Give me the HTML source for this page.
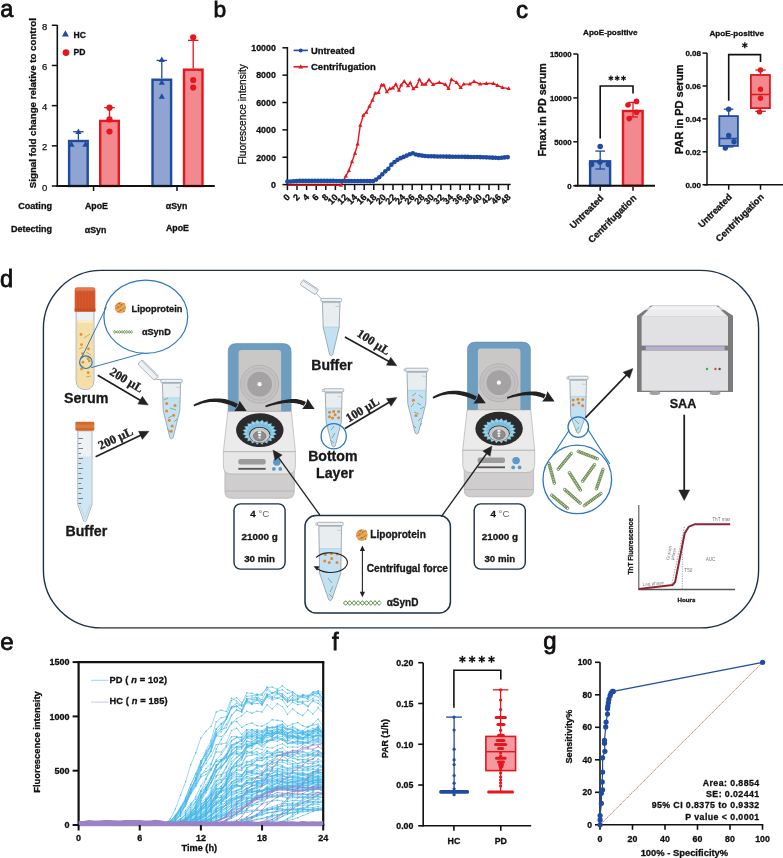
<!DOCTYPE html>
<html><head><meta charset="utf-8"><style>
html,body{margin:0;padding:0;background:#fff;}
svg{display:block;will-change:transform;}
text{font-family:"Liberation Sans",sans-serif;}
text[font-weight="bold"]{stroke:#111;stroke-width:0.3px;}
</style></head><body>
<svg width="783" height="858" viewBox="0 0 783 858">
<rect width="783" height="858" fill="#fff"/>
<text x="0.30" y="17.40" font-size="23.5" text-anchor="start" font-weight="normal" fill="#111" stroke="#111" stroke-width="0.8">a</text>
<text x="213.60" y="17.40" font-size="22.8" text-anchor="start" font-weight="normal" fill="#111" stroke="#111" stroke-width="0.8">b</text>
<text x="516.00" y="17.90" font-size="24" text-anchor="start" font-weight="normal" fill="#111" stroke="#111" stroke-width="0.9">c</text>
<line x1="57.30" y1="25.00" x2="57.30" y2="186.75" stroke="#111" stroke-width="1.6" />
<line x1="56.50" y1="186.00" x2="214.50" y2="186.00" stroke="#111" stroke-width="1.8" />
<line x1="51.80" y1="186.00" x2="57.30" y2="186.00" stroke="#111" stroke-width="1.5" />
<text x="47.30" y="190.50" font-size="9.5" text-anchor="end" font-weight="normal" fill="#111" stroke="#111" stroke-width="0.25">0</text>
<line x1="51.80" y1="145.82" x2="57.30" y2="145.82" stroke="#111" stroke-width="1.5" />
<text x="47.30" y="150.32" font-size="9.5" text-anchor="end" font-weight="normal" fill="#111" stroke="#111" stroke-width="0.25">2</text>
<line x1="51.80" y1="105.64" x2="57.30" y2="105.64" stroke="#111" stroke-width="1.5" />
<text x="47.30" y="110.14" font-size="9.5" text-anchor="end" font-weight="normal" fill="#111" stroke="#111" stroke-width="0.25">4</text>
<line x1="51.80" y1="65.46" x2="57.30" y2="65.46" stroke="#111" stroke-width="1.5" />
<text x="47.30" y="69.96" font-size="9.5" text-anchor="end" font-weight="normal" fill="#111" stroke="#111" stroke-width="0.25">6</text>
<line x1="51.80" y1="25.28" x2="57.30" y2="25.28" stroke="#111" stroke-width="1.5" />
<text x="47.30" y="29.78" font-size="9.5" text-anchor="end" font-weight="normal" fill="#111" stroke="#111" stroke-width="0.25">8</text>
<line x1="93.60" y1="186.00" x2="93.60" y2="191.00" stroke="#111" stroke-width="1.5" />
<line x1="177.00" y1="186.00" x2="177.00" y2="191.00" stroke="#111" stroke-width="1.5" />
<text transform="translate(35.9,103.1) rotate(-90)" font-size="9.7" text-anchor="middle" font-weight="bold" fill="#111">Signal fold change relative to control</text>
<polygon points="65.40,30.22 61.90,36.52 68.90,36.52" fill="#1f4ba0"/>
<text x="73.60" y="38.20" font-size="8.6" text-anchor="start" font-weight="bold" fill="#111" >HC</text>
<circle cx="66.00" cy="52.60" r="3.40" fill="#e5161e" />
<text x="73.60" y="54.90" font-size="8.6" text-anchor="start" font-weight="bold" fill="#111" >PD</text>
<rect x="69.10" y="140.99" width="18.60" height="45.01" fill="#8fa4d2" stroke="#1f4ba0" stroke-width="2.4"/>
<line x1="78.40" y1="139.79" x2="78.40" y2="131.76" stroke="#1f4ba0" stroke-width="1.3" />
<line x1="73.15" y1="131.76" x2="83.65" y2="131.76" stroke="#1f4ba0" stroke-width="1.3" />
<polygon points="78.40,128.45 75.30,134.03 81.50,134.03" fill="#1f4ba0"/>
<polygon points="71.50,141.15 68.40,146.73 74.60,146.73" fill="#1f4ba0"/>
<polygon points="85.50,141.15 82.40,146.73 88.60,146.73" fill="#1f4ba0"/>
<rect x="100.20" y="120.90" width="18.60" height="65.10" fill="#f2898e" stroke="#e5161e" stroke-width="2.4"/>
<line x1="109.50" y1="119.70" x2="109.50" y2="107.65" stroke="#e5161e" stroke-width="1.3" />
<line x1="104.25" y1="107.65" x2="114.75" y2="107.65" stroke="#e5161e" stroke-width="1.3" />
<circle cx="109.50" cy="107.70" r="3.10" fill="#e5161e" />
<circle cx="109.50" cy="119.40" r="3.10" fill="#e5161e" />
<circle cx="109.50" cy="131.50" r="3.10" fill="#e5161e" />
<rect x="152.50" y="79.72" width="18.60" height="106.28" fill="#8fa4d2" stroke="#1f4ba0" stroke-width="2.4"/>
<line x1="161.80" y1="78.52" x2="161.80" y2="60.44" stroke="#1f4ba0" stroke-width="1.3" />
<line x1="156.55" y1="60.44" x2="167.05" y2="60.44" stroke="#1f4ba0" stroke-width="1.3" />
<polygon points="161.80,56.45 158.70,62.03 164.90,62.03" fill="#1f4ba0"/>
<polygon points="161.80,79.15 158.70,84.73 164.90,84.73" fill="#1f4ba0"/>
<polygon points="161.80,93.15 158.70,98.73 164.90,98.73" fill="#1f4ba0"/>
<rect x="184.00" y="69.67" width="18.50" height="116.33" fill="#f2898e" stroke="#e5161e" stroke-width="2.4"/>
<line x1="193.20" y1="68.47" x2="193.20" y2="40.35" stroke="#e5161e" stroke-width="1.3" />
<line x1="187.95" y1="40.35" x2="198.45" y2="40.35" stroke="#e5161e" stroke-width="1.3" />
<circle cx="193.20" cy="37.30" r="3.10" fill="#e5161e" />
<circle cx="193.20" cy="80.00" r="3.10" fill="#e5161e" />
<circle cx="193.20" cy="87.60" r="3.10" fill="#e5161e" />
<line x1="56.50" y1="186.00" x2="214.50" y2="186.00" stroke="#111" stroke-width="2.1" />
<text x="52.00" y="208.70" font-size="9.1" text-anchor="end" font-weight="bold" fill="#111" >Coating</text>
<text x="96.50" y="209.00" font-size="8.8" text-anchor="middle" font-weight="bold" fill="#111" >ApoE</text>
<text x="176.50" y="209.00" font-size="8.8" text-anchor="middle" font-weight="bold" fill="#111" >αSyn</text>
<text x="52.00" y="232.30" font-size="9" text-anchor="end" font-weight="bold" fill="#111" >Detecting</text>
<text x="95.50" y="232.50" font-size="8.8" text-anchor="middle" font-weight="bold" fill="#111" >αSyn</text>
<text x="177.50" y="231.00" font-size="8.8" text-anchor="middle" font-weight="bold" fill="#111" >ApoE</text>
<line x1="287.40" y1="47.00" x2="287.40" y2="185.35" stroke="#111" stroke-width="1.5" />
<line x1="286.65" y1="184.60" x2="510.70" y2="184.60" stroke="#111" stroke-width="1.5" />
<line x1="282.40" y1="184.60" x2="287.40" y2="184.60" stroke="#111" stroke-width="1.5" />
<text x="275.80" y="187.90" font-size="8.8" text-anchor="end" font-weight="bold" fill="#111" >0</text>
<line x1="282.40" y1="157.24" x2="287.40" y2="157.24" stroke="#111" stroke-width="1.5" />
<text x="275.80" y="160.54" font-size="8.8" text-anchor="end" font-weight="bold" fill="#111" >2000</text>
<line x1="282.40" y1="129.88" x2="287.40" y2="129.88" stroke="#111" stroke-width="1.5" />
<text x="275.80" y="133.18" font-size="8.8" text-anchor="end" font-weight="bold" fill="#111" >4000</text>
<line x1="282.40" y1="102.52" x2="287.40" y2="102.52" stroke="#111" stroke-width="1.5" />
<text x="275.80" y="105.82" font-size="8.8" text-anchor="end" font-weight="bold" fill="#111" >6000</text>
<line x1="282.40" y1="75.16" x2="287.40" y2="75.16" stroke="#111" stroke-width="1.5" />
<text x="275.80" y="78.46" font-size="8.8" text-anchor="end" font-weight="bold" fill="#111" >8000</text>
<line x1="282.40" y1="47.80" x2="287.40" y2="47.80" stroke="#111" stroke-width="1.5" />
<text x="275.80" y="51.10" font-size="8.8" text-anchor="end" font-weight="bold" fill="#111" >10000</text>
<line x1="287.40" y1="184.60" x2="287.40" y2="190.10" stroke="#111" stroke-width="1.5" />
<text transform="translate(290.60,197.80) rotate(-45)" font-size="9" text-anchor="end" font-weight="bold" fill="#111">0</text>
<line x1="297.00" y1="184.60" x2="297.00" y2="190.10" stroke="#111" stroke-width="1.5" />
<text transform="translate(300.20,197.80) rotate(-45)" font-size="9" text-anchor="end" font-weight="bold" fill="#111">2</text>
<line x1="306.60" y1="184.60" x2="306.60" y2="190.10" stroke="#111" stroke-width="1.5" />
<text transform="translate(309.80,197.80) rotate(-45)" font-size="9" text-anchor="end" font-weight="bold" fill="#111">4</text>
<line x1="316.20" y1="184.60" x2="316.20" y2="190.10" stroke="#111" stroke-width="1.5" />
<text transform="translate(319.40,197.80) rotate(-45)" font-size="9" text-anchor="end" font-weight="bold" fill="#111">6</text>
<line x1="325.80" y1="184.60" x2="325.80" y2="190.10" stroke="#111" stroke-width="1.5" />
<text transform="translate(329.00,197.80) rotate(-45)" font-size="9" text-anchor="end" font-weight="bold" fill="#111">8</text>
<line x1="335.40" y1="184.60" x2="335.40" y2="190.10" stroke="#111" stroke-width="1.5" />
<text transform="translate(338.60,197.80) rotate(-45)" font-size="9" text-anchor="end" font-weight="bold" fill="#111">10</text>
<line x1="345.00" y1="184.60" x2="345.00" y2="190.10" stroke="#111" stroke-width="1.5" />
<text transform="translate(348.20,197.80) rotate(-45)" font-size="9" text-anchor="end" font-weight="bold" fill="#111">12</text>
<line x1="354.60" y1="184.60" x2="354.60" y2="190.10" stroke="#111" stroke-width="1.5" />
<text transform="translate(357.80,197.80) rotate(-45)" font-size="9" text-anchor="end" font-weight="bold" fill="#111">14</text>
<line x1="364.20" y1="184.60" x2="364.20" y2="190.10" stroke="#111" stroke-width="1.5" />
<text transform="translate(367.40,197.80) rotate(-45)" font-size="9" text-anchor="end" font-weight="bold" fill="#111">16</text>
<line x1="373.80" y1="184.60" x2="373.80" y2="190.10" stroke="#111" stroke-width="1.5" />
<text transform="translate(377.00,197.80) rotate(-45)" font-size="9" text-anchor="end" font-weight="bold" fill="#111">18</text>
<line x1="383.40" y1="184.60" x2="383.40" y2="190.10" stroke="#111" stroke-width="1.5" />
<text transform="translate(386.60,197.80) rotate(-45)" font-size="9" text-anchor="end" font-weight="bold" fill="#111">20</text>
<line x1="393.00" y1="184.60" x2="393.00" y2="190.10" stroke="#111" stroke-width="1.5" />
<text transform="translate(396.20,197.80) rotate(-45)" font-size="9" text-anchor="end" font-weight="bold" fill="#111">22</text>
<line x1="402.60" y1="184.60" x2="402.60" y2="190.10" stroke="#111" stroke-width="1.5" />
<text transform="translate(405.80,197.80) rotate(-45)" font-size="9" text-anchor="end" font-weight="bold" fill="#111">24</text>
<line x1="412.20" y1="184.60" x2="412.20" y2="190.10" stroke="#111" stroke-width="1.5" />
<text transform="translate(415.40,197.80) rotate(-45)" font-size="9" text-anchor="end" font-weight="bold" fill="#111">26</text>
<line x1="421.80" y1="184.60" x2="421.80" y2="190.10" stroke="#111" stroke-width="1.5" />
<text transform="translate(425.00,197.80) rotate(-45)" font-size="9" text-anchor="end" font-weight="bold" fill="#111">28</text>
<line x1="431.40" y1="184.60" x2="431.40" y2="190.10" stroke="#111" stroke-width="1.5" />
<text transform="translate(434.60,197.80) rotate(-45)" font-size="9" text-anchor="end" font-weight="bold" fill="#111">30</text>
<line x1="441.00" y1="184.60" x2="441.00" y2="190.10" stroke="#111" stroke-width="1.5" />
<text transform="translate(444.20,197.80) rotate(-45)" font-size="9" text-anchor="end" font-weight="bold" fill="#111">32</text>
<line x1="450.60" y1="184.60" x2="450.60" y2="190.10" stroke="#111" stroke-width="1.5" />
<text transform="translate(453.80,197.80) rotate(-45)" font-size="9" text-anchor="end" font-weight="bold" fill="#111">34</text>
<line x1="460.20" y1="184.60" x2="460.20" y2="190.10" stroke="#111" stroke-width="1.5" />
<text transform="translate(463.40,197.80) rotate(-45)" font-size="9" text-anchor="end" font-weight="bold" fill="#111">36</text>
<line x1="469.80" y1="184.60" x2="469.80" y2="190.10" stroke="#111" stroke-width="1.5" />
<text transform="translate(473.00,197.80) rotate(-45)" font-size="9" text-anchor="end" font-weight="bold" fill="#111">38</text>
<line x1="479.40" y1="184.60" x2="479.40" y2="190.10" stroke="#111" stroke-width="1.5" />
<text transform="translate(482.60,197.80) rotate(-45)" font-size="9" text-anchor="end" font-weight="bold" fill="#111">40</text>
<line x1="489.00" y1="184.60" x2="489.00" y2="190.10" stroke="#111" stroke-width="1.5" />
<text transform="translate(492.20,197.80) rotate(-45)" font-size="9" text-anchor="end" font-weight="bold" fill="#111">42</text>
<line x1="498.60" y1="184.60" x2="498.60" y2="190.10" stroke="#111" stroke-width="1.5" />
<text transform="translate(501.80,197.80) rotate(-45)" font-size="9" text-anchor="end" font-weight="bold" fill="#111">46</text>
<line x1="508.20" y1="184.60" x2="508.20" y2="190.10" stroke="#111" stroke-width="1.5" />
<text transform="translate(511.40,197.80) rotate(-45)" font-size="9" text-anchor="end" font-weight="bold" fill="#111">48</text>
<text transform="translate(246,114.4) rotate(-90)" font-size="10.1" text-anchor="middle" font-weight="normal" fill="#111" stroke="#111" stroke-width="0.25">Fluorescence intensity</text>
<line x1="293.60" y1="50.40" x2="307.90" y2="50.40" stroke="#1f4ba0" stroke-width="1.6" />
<circle cx="300.70" cy="50.40" r="2.00" fill="#1f4ba0" />
<text x="311.00" y="53.70" font-size="9.4" text-anchor="start" font-weight="bold" fill="#111" >Untreated</text>
<line x1="293.60" y1="66.80" x2="307.90" y2="66.80" stroke="#e5161e" stroke-width="1.6" />
<polygon points="300.70,64.37 298.45,68.42 302.95,68.42" fill="#e5161e"/>
<text x="311.00" y="70.10" font-size="9.5" text-anchor="start" font-weight="bold" fill="#111" >Centrifugation</text>
<polyline points="287.4,185.2 341.0,185.2 345.9,175.9 348.9,170.6 352.0,161.8 355.0,153.2 357.6,144.0 360.3,125.2 363.3,115.3 366.4,112.3 369.4,106.2 372.4,100.2 375.2,93.3 378.5,92.6 381.5,85.0 383.8,85.0 386.8,91.8 389.8,88.8 392.9,88.0 395.9,84.2 398.9,90.3 401.2,85.0 404.2,81.2 408.0,85.8 410.3,82.7 413.3,88.8 416.4,86.5 419.4,79.4 422.4,84.2 425.5,84.2 429.0,79.8 433.1,84.5 439.3,82.5 445.4,84.5 448.5,88.6 451.5,79.4 456.6,82.5 460.7,87.6 463.8,84.1 469.9,84.1 474.0,81.5 480.1,84.1 486.3,83.5 493.4,83.5 497.5,85.5 502.6,87.6 508.7,88.6" fill="none" stroke="#e5161e" stroke-width="1.4" stroke-linejoin="round"/>
<polygon points="341.00,182.93 338.90,186.71 343.10,186.71" fill="#e5161e"/>
<polygon points="345.90,173.63 343.80,177.41 348.00,177.41" fill="#e5161e"/>
<polygon points="348.90,168.33 346.80,172.11 351.00,172.11" fill="#e5161e"/>
<polygon points="352.00,159.53 349.90,163.31 354.10,163.31" fill="#e5161e"/>
<polygon points="355.00,150.93 352.90,154.71 357.10,154.71" fill="#e5161e"/>
<polygon points="357.60,141.73 355.50,145.51 359.70,145.51" fill="#e5161e"/>
<polygon points="360.30,122.93 358.20,126.71 362.40,126.71" fill="#e5161e"/>
<polygon points="363.30,113.03 361.20,116.81 365.40,116.81" fill="#e5161e"/>
<polygon points="366.40,110.03 364.30,113.81 368.50,113.81" fill="#e5161e"/>
<polygon points="369.40,103.93 367.30,107.71 371.50,107.71" fill="#e5161e"/>
<polygon points="372.40,97.93 370.30,101.71 374.50,101.71" fill="#e5161e"/>
<polygon points="375.20,91.03 373.10,94.81 377.30,94.81" fill="#e5161e"/>
<polygon points="378.50,90.33 376.40,94.11 380.60,94.11" fill="#e5161e"/>
<polygon points="381.50,82.73 379.40,86.51 383.60,86.51" fill="#e5161e"/>
<polygon points="383.80,82.73 381.70,86.51 385.90,86.51" fill="#e5161e"/>
<polygon points="386.80,89.53 384.70,93.31 388.90,93.31" fill="#e5161e"/>
<polygon points="389.80,86.53 387.70,90.31 391.90,90.31" fill="#e5161e"/>
<polygon points="392.90,85.73 390.80,89.51 395.00,89.51" fill="#e5161e"/>
<polygon points="395.90,81.93 393.80,85.71 398.00,85.71" fill="#e5161e"/>
<polygon points="398.90,88.03 396.80,91.81 401.00,91.81" fill="#e5161e"/>
<polygon points="401.20,82.73 399.10,86.51 403.30,86.51" fill="#e5161e"/>
<polygon points="404.20,78.93 402.10,82.71 406.30,82.71" fill="#e5161e"/>
<polygon points="408.00,83.53 405.90,87.31 410.10,87.31" fill="#e5161e"/>
<polygon points="410.30,80.43 408.20,84.21 412.40,84.21" fill="#e5161e"/>
<polygon points="413.30,86.53 411.20,90.31 415.40,90.31" fill="#e5161e"/>
<polygon points="416.40,84.23 414.30,88.01 418.50,88.01" fill="#e5161e"/>
<polygon points="419.40,77.13 417.30,80.91 421.50,80.91" fill="#e5161e"/>
<polygon points="422.40,81.93 420.30,85.71 424.50,85.71" fill="#e5161e"/>
<polygon points="425.50,81.93 423.40,85.71 427.60,85.71" fill="#e5161e"/>
<polygon points="429.00,77.53 426.90,81.31 431.10,81.31" fill="#e5161e"/>
<polygon points="433.10,82.23 431.00,86.01 435.20,86.01" fill="#e5161e"/>
<polygon points="439.30,80.23 437.20,84.01 441.40,84.01" fill="#e5161e"/>
<polygon points="445.40,82.23 443.30,86.01 447.50,86.01" fill="#e5161e"/>
<polygon points="448.50,86.33 446.40,90.11 450.60,90.11" fill="#e5161e"/>
<polygon points="451.50,77.13 449.40,80.91 453.60,80.91" fill="#e5161e"/>
<polygon points="456.60,80.23 454.50,84.01 458.70,84.01" fill="#e5161e"/>
<polygon points="460.70,85.33 458.60,89.11 462.80,89.11" fill="#e5161e"/>
<polygon points="463.80,81.83 461.70,85.61 465.90,85.61" fill="#e5161e"/>
<polygon points="469.90,81.83 467.80,85.61 472.00,85.61" fill="#e5161e"/>
<polygon points="474.00,79.23 471.90,83.01 476.10,83.01" fill="#e5161e"/>
<polygon points="480.10,81.83 478.00,85.61 482.20,85.61" fill="#e5161e"/>
<polygon points="486.30,81.23 484.20,85.01 488.40,85.01" fill="#e5161e"/>
<polygon points="493.40,81.23 491.30,85.01 495.50,85.01" fill="#e5161e"/>
<polygon points="497.50,83.23 495.40,87.01 499.60,87.01" fill="#e5161e"/>
<polygon points="502.60,85.33 500.50,89.11 504.70,89.11" fill="#e5161e"/>
<polygon points="508.70,86.33 506.60,90.11 510.80,90.11" fill="#e5161e"/>
<polyline points="287.4,181.6 290.5,181.4 293.5,181.3 296.6,181.1 299.6,180.9 302.7,180.9 305.8,180.9 308.8,180.9 311.9,180.9 314.9,180.9 318.0,180.9 321.1,180.9 324.1,180.9 327.2,180.9 330.2,180.9 333.3,180.9 336.4,180.9 339.4,180.9 342.5,181.0 345.5,181.0 348.6,181.0 351.7,181.0 354.7,181.0 357.8,181.0 360.8,181.0 363.9,181.1 367.0,181.1 370.0,181.1 373.1,181.1 376.1,179.6 379.2,177.2 382.3,174.4 385.3,171.3 388.4,168.8 391.4,164.6 394.5,161.9 397.6,159.8 400.6,158.1 403.7,156.9 406.7,155.6 409.8,154.3 412.9,153.3 415.9,154.5 419.0,155.1 422.0,155.6 425.1,156.0 428.2,156.2 431.2,156.3 434.3,156.4 437.3,156.4 440.4,156.5 443.5,156.6 446.5,156.6 449.6,156.6 452.6,156.7 455.7,156.7 458.8,156.8 461.8,156.8 464.9,156.9 467.9,156.9 471.0,156.9 474.1,157.0 477.1,157.1 480.2,157.2 483.2,157.3 486.3,157.4 489.4,157.5 492.4,157.6 495.5,157.8 498.5,158.0 501.6,157.7 504.7,157.4 507.7,157.1" fill="none" stroke="#1f4ba0" stroke-width="1.6"/>
<circle cx="287.40" cy="181.60" r="2.30" fill="#1f4ba0" />
<circle cx="290.46" cy="181.43" r="2.30" fill="#1f4ba0" />
<circle cx="293.52" cy="181.26" r="2.30" fill="#1f4ba0" />
<circle cx="296.58" cy="181.09" r="2.30" fill="#1f4ba0" />
<circle cx="299.64" cy="180.92" r="2.30" fill="#1f4ba0" />
<circle cx="302.70" cy="180.90" r="2.30" fill="#1f4ba0" />
<circle cx="305.76" cy="180.90" r="2.30" fill="#1f4ba0" />
<circle cx="308.82" cy="180.90" r="2.30" fill="#1f4ba0" />
<circle cx="311.88" cy="180.90" r="2.30" fill="#1f4ba0" />
<circle cx="314.94" cy="180.90" r="2.30" fill="#1f4ba0" />
<circle cx="318.00" cy="180.90" r="2.30" fill="#1f4ba0" />
<circle cx="321.06" cy="180.90" r="2.30" fill="#1f4ba0" />
<circle cx="324.12" cy="180.90" r="2.30" fill="#1f4ba0" />
<circle cx="327.18" cy="180.90" r="2.30" fill="#1f4ba0" />
<circle cx="330.24" cy="180.90" r="2.30" fill="#1f4ba0" />
<circle cx="333.30" cy="180.92" r="2.30" fill="#1f4ba0" />
<circle cx="336.36" cy="180.93" r="2.30" fill="#1f4ba0" />
<circle cx="339.42" cy="180.94" r="2.30" fill="#1f4ba0" />
<circle cx="342.48" cy="180.96" r="2.30" fill="#1f4ba0" />
<circle cx="345.54" cy="180.97" r="2.30" fill="#1f4ba0" />
<circle cx="348.60" cy="180.98" r="2.30" fill="#1f4ba0" />
<circle cx="351.66" cy="181.00" r="2.30" fill="#1f4ba0" />
<circle cx="354.72" cy="181.01" r="2.30" fill="#1f4ba0" />
<circle cx="357.78" cy="181.03" r="2.30" fill="#1f4ba0" />
<circle cx="360.84" cy="181.04" r="2.30" fill="#1f4ba0" />
<circle cx="363.90" cy="181.05" r="2.30" fill="#1f4ba0" />
<circle cx="366.96" cy="181.07" r="2.30" fill="#1f4ba0" />
<circle cx="370.02" cy="181.08" r="2.30" fill="#1f4ba0" />
<circle cx="373.08" cy="181.10" r="2.30" fill="#1f4ba0" />
<circle cx="376.14" cy="179.58" r="2.30" fill="#1f4ba0" />
<circle cx="379.20" cy="177.21" r="2.30" fill="#1f4ba0" />
<circle cx="382.26" cy="174.36" r="2.30" fill="#1f4ba0" />
<circle cx="385.32" cy="171.33" r="2.30" fill="#1f4ba0" />
<circle cx="388.38" cy="168.81" r="2.30" fill="#1f4ba0" />
<circle cx="391.44" cy="164.64" r="2.30" fill="#1f4ba0" />
<circle cx="394.50" cy="161.93" r="2.30" fill="#1f4ba0" />
<circle cx="397.56" cy="159.83" r="2.30" fill="#1f4ba0" />
<circle cx="400.62" cy="158.13" r="2.30" fill="#1f4ba0" />
<circle cx="403.68" cy="156.91" r="2.30" fill="#1f4ba0" />
<circle cx="406.74" cy="155.60" r="2.30" fill="#1f4ba0" />
<circle cx="409.80" cy="154.31" r="2.30" fill="#1f4ba0" />
<circle cx="412.86" cy="153.30" r="2.30" fill="#1f4ba0" />
<circle cx="415.92" cy="154.51" r="2.30" fill="#1f4ba0" />
<circle cx="418.98" cy="155.15" r="2.30" fill="#1f4ba0" />
<circle cx="422.04" cy="155.62" r="2.30" fill="#1f4ba0" />
<circle cx="425.10" cy="155.98" r="2.30" fill="#1f4ba0" />
<circle cx="428.16" cy="156.23" r="2.30" fill="#1f4ba0" />
<circle cx="431.22" cy="156.30" r="2.30" fill="#1f4ba0" />
<circle cx="434.28" cy="156.37" r="2.30" fill="#1f4ba0" />
<circle cx="437.34" cy="156.44" r="2.30" fill="#1f4ba0" />
<circle cx="440.40" cy="156.51" r="2.30" fill="#1f4ba0" />
<circle cx="443.46" cy="156.55" r="2.30" fill="#1f4ba0" />
<circle cx="446.52" cy="156.60" r="2.30" fill="#1f4ba0" />
<circle cx="449.58" cy="156.64" r="2.30" fill="#1f4ba0" />
<circle cx="452.64" cy="156.69" r="2.30" fill="#1f4ba0" />
<circle cx="455.70" cy="156.74" r="2.30" fill="#1f4ba0" />
<circle cx="458.76" cy="156.78" r="2.30" fill="#1f4ba0" />
<circle cx="461.82" cy="156.82" r="2.30" fill="#1f4ba0" />
<circle cx="464.88" cy="156.87" r="2.30" fill="#1f4ba0" />
<circle cx="467.94" cy="156.91" r="2.30" fill="#1f4ba0" />
<circle cx="471.00" cy="156.95" r="2.30" fill="#1f4ba0" />
<circle cx="474.06" cy="156.99" r="2.30" fill="#1f4ba0" />
<circle cx="477.12" cy="157.07" r="2.30" fill="#1f4ba0" />
<circle cx="480.18" cy="157.17" r="2.30" fill="#1f4ba0" />
<circle cx="483.24" cy="157.27" r="2.30" fill="#1f4ba0" />
<circle cx="486.30" cy="157.37" r="2.30" fill="#1f4ba0" />
<circle cx="489.36" cy="157.47" r="2.30" fill="#1f4ba0" />
<circle cx="492.42" cy="157.63" r="2.30" fill="#1f4ba0" />
<circle cx="495.48" cy="157.82" r="2.30" fill="#1f4ba0" />
<circle cx="498.54" cy="158.00" r="2.30" fill="#1f4ba0" />
<circle cx="501.60" cy="157.70" r="2.30" fill="#1f4ba0" />
<circle cx="504.66" cy="157.40" r="2.30" fill="#1f4ba0" />
<circle cx="507.72" cy="157.10" r="2.30" fill="#1f4ba0" />
<line x1="577.80" y1="54.00" x2="577.80" y2="186.45" stroke="#111" stroke-width="1.5" />
<line x1="574.80" y1="185.70" x2="655.00" y2="185.70" stroke="#111" stroke-width="1.5" />
<line x1="573.30" y1="185.70" x2="577.80" y2="185.70" stroke="#111" stroke-width="1.5" />
<text x="571.60" y="188.70" font-size="7.8" text-anchor="end" font-weight="bold" fill="#111" >0</text>
<line x1="573.30" y1="141.80" x2="577.80" y2="141.80" stroke="#111" stroke-width="1.5" />
<text x="571.60" y="144.80" font-size="7.8" text-anchor="end" font-weight="bold" fill="#111" >5000</text>
<line x1="573.30" y1="97.90" x2="577.80" y2="97.90" stroke="#111" stroke-width="1.5" />
<text x="571.60" y="100.90" font-size="7.8" text-anchor="end" font-weight="bold" fill="#111" >10000</text>
<line x1="573.30" y1="54.00" x2="577.80" y2="54.00" stroke="#111" stroke-width="1.5" />
<text x="571.60" y="57.00" font-size="7.8" text-anchor="end" font-weight="bold" fill="#111" >15000</text>
<line x1="600.20" y1="185.70" x2="600.20" y2="190.70" stroke="#111" stroke-width="1.5" />
<line x1="633.00" y1="185.70" x2="633.00" y2="190.70" stroke="#111" stroke-width="1.5" />
<text x="610.30" y="35.20" font-size="8.1" text-anchor="middle" font-weight="bold" fill="#111" >ApoE-positive</text>
<rect x="590.1" y="161.3" width="20" height="24.4" fill="#8fa4d2" stroke="#1f4ba0" stroke-width="2.4"/>
<rect x="623" y="111" width="19.6" height="74.7" fill="#f2898e" stroke="#e5161e" stroke-width="2.4"/>
<line x1="600.20" y1="151.10" x2="600.20" y2="169.00" stroke="#1f4ba0" stroke-width="1.3" />
<line x1="595.30" y1="151.10" x2="605.10" y2="151.10" stroke="#1f4ba0" stroke-width="1.3" />
<line x1="595.30" y1="169.00" x2="605.10" y2="169.00" stroke="#1f4ba0" stroke-width="1.3" />
<circle cx="600.20" cy="146.50" r="2.80" fill="#1f4ba0" />
<circle cx="591.60" cy="164.50" r="2.80" fill="#1f4ba0" />
<circle cx="608.30" cy="164.50" r="2.80" fill="#1f4ba0" />
<circle cx="600.00" cy="162.00" r="2.80" fill="#1f4ba0" />
<line x1="633.00" y1="102.40" x2="633.00" y2="117.00" stroke="#e5161e" stroke-width="1.3" />
<line x1="628.00" y1="102.40" x2="638.00" y2="102.40" stroke="#e5161e" stroke-width="1.3" />
<line x1="628.00" y1="117.00" x2="638.00" y2="117.00" stroke="#e5161e" stroke-width="1.3" />
<circle cx="636.50" cy="101.40" r="2.80" fill="#e5161e" />
<circle cx="628.00" cy="105.00" r="2.80" fill="#e5161e" />
<circle cx="629.20" cy="118.60" r="2.80" fill="#e5161e" />
<circle cx="636.50" cy="112.30" r="2.80" fill="#e5161e" />
<line x1="574.80" y1="185.70" x2="655.00" y2="185.70" stroke="#111" stroke-width="1.8" />
<polyline points="600.2,138.5 600.2,86 633,86 633,93.4" fill="none" stroke="#111" stroke-width="1.6"/>
<line x1="610.90" y1="75.60" x2="610.90" y2="80.80" stroke="#111" stroke-width="1.2"/>
<line x1="608.65" y1="76.90" x2="613.15" y2="79.50" stroke="#111" stroke-width="1.2"/>
<line x1="613.15" y1="76.90" x2="608.65" y2="79.50" stroke="#111" stroke-width="1.2"/>
<line x1="617.20" y1="75.60" x2="617.20" y2="80.80" stroke="#111" stroke-width="1.2"/>
<line x1="614.95" y1="76.90" x2="619.45" y2="79.50" stroke="#111" stroke-width="1.2"/>
<line x1="619.45" y1="76.90" x2="614.95" y2="79.50" stroke="#111" stroke-width="1.2"/>
<line x1="623.50" y1="75.60" x2="623.50" y2="80.80" stroke="#111" stroke-width="1.2"/>
<line x1="621.25" y1="76.90" x2="625.75" y2="79.50" stroke="#111" stroke-width="1.2"/>
<line x1="625.75" y1="76.90" x2="621.25" y2="79.50" stroke="#111" stroke-width="1.2"/>
<text transform="translate(545.5,109.9) rotate(-90)" font-size="10.7" text-anchor="middle" font-weight="bold" fill="#111">Fmax in PD serum</text>
<text transform="translate(604.10,198.60) rotate(-45)" font-size="9.3" text-anchor="end" font-weight="bold" fill="#111">Untreated</text>
<text transform="translate(636.90,198.60) rotate(-45)" font-size="9.3" text-anchor="end" font-weight="bold" fill="#111">Centrifugation</text>
<line x1="707.00" y1="53.00" x2="707.00" y2="185.45" stroke="#111" stroke-width="1.5" />
<line x1="704.00" y1="184.70" x2="783.00" y2="184.70" stroke="#111" stroke-width="1.5" />
<line x1="702.50" y1="184.70" x2="707.00" y2="184.70" stroke="#111" stroke-width="1.5" />
<text x="701.00" y="187.70" font-size="8" text-anchor="end" font-weight="bold" fill="#111" >0.00</text>
<line x1="702.50" y1="151.80" x2="707.00" y2="151.80" stroke="#111" stroke-width="1.5" />
<text x="701.00" y="154.80" font-size="8" text-anchor="end" font-weight="bold" fill="#111" >0.02</text>
<line x1="702.50" y1="118.90" x2="707.00" y2="118.90" stroke="#111" stroke-width="1.5" />
<text x="701.00" y="121.90" font-size="8" text-anchor="end" font-weight="bold" fill="#111" >0.04</text>
<line x1="702.50" y1="86.00" x2="707.00" y2="86.00" stroke="#111" stroke-width="1.5" />
<text x="701.00" y="89.00" font-size="8" text-anchor="end" font-weight="bold" fill="#111" >0.06</text>
<line x1="702.50" y1="53.10" x2="707.00" y2="53.10" stroke="#111" stroke-width="1.5" />
<text x="701.00" y="56.10" font-size="8" text-anchor="end" font-weight="bold" fill="#111" >0.08</text>
<line x1="728.70" y1="184.70" x2="728.70" y2="189.70" stroke="#111" stroke-width="1.5" />
<line x1="760.50" y1="184.70" x2="760.50" y2="189.70" stroke="#111" stroke-width="1.5" />
<text x="736.70" y="35.50" font-size="8.1" text-anchor="middle" font-weight="bold" fill="#111" >ApoE-positive</text>
<line x1="728.70" y1="109.20" x2="728.70" y2="147.00" stroke="#1f4ba0" stroke-width="1.3" />
<line x1="723.80" y1="109.20" x2="733.40" y2="109.20" stroke="#1f4ba0" stroke-width="1.3" />
<line x1="723.80" y1="147.00" x2="733.40" y2="147.00" stroke="#1f4ba0" stroke-width="1.3" />
<rect x="719.3" y="116.1" width="18.6" height="29.8" fill="#8fa4d2" stroke="#1f4ba0" stroke-width="1.8"/>
<line x1="719.30" y1="138.50" x2="737.90" y2="138.50" stroke="#1f4ba0" stroke-width="1.5" />
<circle cx="728.70" cy="109.20" r="2.70" fill="#1f4ba0" />
<circle cx="728.70" cy="135.40" r="2.70" fill="#1f4ba0" />
<circle cx="734.00" cy="141.70" r="2.70" fill="#1f4ba0" />
<circle cx="725.30" cy="148.00" r="2.70" fill="#1f4ba0" />
<line x1="760.50" y1="70.00" x2="760.50" y2="111.30" stroke="#e5161e" stroke-width="1.3" />
<line x1="755.30" y1="70.00" x2="765.80" y2="70.00" stroke="#e5161e" stroke-width="1.3" />
<line x1="755.30" y1="111.30" x2="765.80" y2="111.30" stroke="#e5161e" stroke-width="1.3" />
<rect x="750.9" y="75" width="19" height="33.1" fill="#f2898e" stroke="#e5161e" stroke-width="1.8"/>
<line x1="750.90" y1="94.50" x2="769.90" y2="94.50" stroke="#e5161e" stroke-width="1.5" />
<circle cx="760.50" cy="70.00" r="2.70" fill="#e5161e" />
<circle cx="760.50" cy="89.20" r="2.70" fill="#e5161e" />
<circle cx="760.50" cy="98.30" r="2.70" fill="#e5161e" />
<circle cx="759.50" cy="111.90" r="2.70" fill="#e5161e" />
<polyline points="728.7,100.8 728.7,54.6 760.5,54.6 760.5,62" fill="none" stroke="#111" stroke-width="1.6"/>
<line x1="744.80" y1="42.20" x2="744.80" y2="48.20" stroke="#111" stroke-width="1.3"/>
<line x1="742.20" y1="43.70" x2="747.40" y2="46.70" stroke="#111" stroke-width="1.3"/>
<line x1="747.40" y1="43.70" x2="742.20" y2="46.70" stroke="#111" stroke-width="1.3"/>
<text transform="translate(683,109.2) rotate(-90)" font-size="11" text-anchor="middle" font-weight="bold" fill="#111">PAR in PD serum</text>
<text transform="translate(732.60,197.60) rotate(-45)" font-size="9.3" text-anchor="end" font-weight="bold" fill="#111">Untreated</text>
<text transform="translate(764.40,197.60) rotate(-45)" font-size="9.3" text-anchor="end" font-weight="bold" fill="#111">Centrifugation</text>
<text x="0.00" y="287.20" font-size="23.5" text-anchor="start" font-weight="normal" fill="#111" stroke="#111" stroke-width="0.8">d</text>
<rect x="43.4" y="270.4" width="715.2" height="357.5" rx="58" ry="58" fill="none" stroke="#1d3147" stroke-width="1.4"/>
<path d="M76.1,311 L94,311 L94,380 Q94,389.5 85.05,389.5 Q76.1,389.5 76.1,380 Z" fill="#eef0f2" stroke="#9aa0a6" stroke-width="0.8"/>
<path d="M76.9,320.2 L93.2,320.2 L93.2,380 Q93.2,388.7 85.05,388.7 Q76.9,388.7 76.9,380 Z" fill="#f6dfa6"/>
<rect x="77.5" y="320.2" width="15" height="2.5" fill="#fbeccc"/>
<circle cx="81.00" cy="334.50" r="1.40" fill="#e0913d" />
<circle cx="81.50" cy="344.60" r="1.40" fill="#e0913d" />
<circle cx="88.50" cy="348.90" r="1.40" fill="#e0913d" />
<circle cx="82.50" cy="353.60" r="1.40" fill="#e0913d" />
<circle cx="88.00" cy="358.70" r="1.40" fill="#e0913d" />
<circle cx="83.00" cy="362.20" r="1.40" fill="#e0913d" />
<circle cx="89.30" cy="360.90" r="1.40" fill="#e0913d" />
<circle cx="81.50" cy="369.00" r="1.40" fill="#e0913d" />
<circle cx="88.20" cy="372.70" r="1.40" fill="#e0913d" />
<line x1="84.00" y1="338.00" x2="90.00" y2="334.00" stroke="#7c9c4a" stroke-width="0.6" />
<line x1="79.00" y1="349.00" x2="83.00" y2="347.00" stroke="#7c9c4a" stroke-width="0.6" />
<line x1="86.00" y1="352.00" x2="91.00" y2="355.00" stroke="#7c9c4a" stroke-width="0.6" />
<line x1="80.00" y1="365.00" x2="84.00" y2="367.00" stroke="#7c9c4a" stroke-width="0.6" />
<line x1="86.00" y1="377.00" x2="91.00" y2="376.00" stroke="#7c9c4a" stroke-width="0.6" />
<line x1="80.00" y1="358.00" x2="83.00" y2="355.00" stroke="#7c9c4a" stroke-width="0.6" />
<path d="M74.7,311.5 L74.7,291 Q74.7,287.5 78,287.5 L92.1,287.5 Q95.4,287.5 95.4,291 L95.4,311.5 Z" fill="#d6582b"/>
<rect x="74.7" y="287.5" width="20.7" height="3.2" rx="1.6" fill="#e2784c"/>
<line x1="78.00" y1="292.00" x2="78.00" y2="309.00" stroke="#b94a22" stroke-width="0.5" />
<line x1="81.00" y1="292.00" x2="81.00" y2="309.00" stroke="#b94a22" stroke-width="0.5" />
<line x1="84.00" y1="292.00" x2="84.00" y2="309.00" stroke="#b94a22" stroke-width="0.5" />
<line x1="87.00" y1="292.00" x2="87.00" y2="309.00" stroke="#b94a22" stroke-width="0.5" />
<line x1="90.00" y1="292.00" x2="90.00" y2="309.00" stroke="#b94a22" stroke-width="0.5" />
<line x1="93.00" y1="292.00" x2="93.00" y2="309.00" stroke="#b94a22" stroke-width="0.5" />
<rect x="74.7" y="308.5" width="20.7" height="3" fill="#c54f25"/>
<ellipse cx="145.8" cy="316.7" rx="41.9" ry="36.6" fill="#fff" stroke="#2d76c2" stroke-width="1.2"/>
<line x1="81.1" y1="358.7" x2="106.3" y2="307" stroke="#2d76c2" stroke-width="1"/>
<line x1="91.3" y1="367.6" x2="143.1" y2="353.2" stroke="#2d76c2" stroke-width="1"/>
<circle cx="85.90" cy="362.20" r="6.30" fill="none" stroke="#2d76c2" stroke-width="1.2"/>
<circle cx="120.40" cy="307.70" r="5.60" fill="#eea555" />
<path d="M115.36,308.54 Q119.28,308.26 122.08,304.90 T124.60,304.62 M117.60,311.90 Q121.52,310.50 125.44,307.14 M115.64,306.02 Q117.60,303.22 120.40,302.66" stroke="#d46f2a" stroke-width="0.90" fill="none"/>
<circle cx="119.28" cy="303.78" r="0.67" fill="#3e8f66" />
<circle cx="121.24" cy="304.62" r="0.67" fill="#3e8f66" />
<circle cx="118.16" cy="306.58" r="0.67" fill="#3e8f66" />
<circle cx="120.40" cy="310.22" r="0.67" fill="#3e8f66" />
<circle cx="124.04" cy="311.62" r="0.67" fill="#3e8f66" />
<text x="131.50" y="312.20" font-size="9.25" text-anchor="start" font-weight="bold" fill="#1a1a1a" >Lipoprotein</text>
<polyline points="113.60,331.90 114.10,332.69 114.60,333.16 115.10,333.10 115.60,332.55 116.10,331.73 116.60,330.98 117.10,330.61 117.60,330.77 118.10,331.40 118.60,332.24 119.10,332.93 119.60,333.20 120.10,332.93 120.60,332.24 121.10,331.40 121.60,330.77 122.10,330.61 122.60,330.98 123.10,331.73 123.60,332.55 124.10,333.10 124.60,333.16 125.10,332.69 125.60,331.90 126.10,331.11 126.60,330.64 127.10,330.70 127.60,331.25 128.10,332.07 128.60,332.82 129.10,333.19 129.60,333.03 130.10,332.40 130.60,331.56 131.10,330.87 131.60,330.60 132.10,330.87 132.60,331.56" fill="none" stroke="#4e7f2e" stroke-width="0.75"/>
<polyline points="113.60,331.90 114.10,331.11 114.60,330.64 115.10,330.70 115.60,331.25 116.10,332.07 116.60,332.82 117.10,333.19 117.60,333.03 118.10,332.40 118.60,331.56 119.10,330.87 119.60,330.60 120.10,330.87 120.60,331.56 121.10,332.40 121.60,333.03 122.10,333.19 122.60,332.82 123.10,332.07 123.60,331.25 124.10,330.70 124.60,330.64 125.10,331.11 125.60,331.90 126.10,332.69 126.60,333.16 127.10,333.10 127.60,332.55 128.10,331.73 128.60,330.98 129.10,330.61 129.60,330.77 130.10,331.40 130.60,332.24 131.10,332.93 131.60,333.20 132.10,332.93 132.60,332.24" fill="none" stroke="#4e7f2e" stroke-width="0.75"/>
<text x="141.90" y="335.40" font-size="9.1" text-anchor="start" font-weight="bold" fill="#1a1a1a" >αSynD</text>
<text x="86.30" y="403.30" font-size="14.3" text-anchor="middle" font-weight="bold" fill="#1a1a1a" >Serum</text>
<path d="M77.8,430.8 L92,430.8 L92,504.4 L86.2,521 Q84.9,523.5 83.6,521 L77.8,504.4 Z" fill="#eef2f4" stroke="#9aa5ad" stroke-width="0.8"/>
<path d="M78.6,456.4 L91.2,456.4 L91.2,504.2 L85.9,519.5 Q84.9,521.5 83.9,519.5 L78.6,504.2 Z" fill="#cfe6f4"/>
<path d="M79.8,505 L84.9,518 L90,505" fill="none" stroke="#a9c6d8" stroke-width="0.5"/>
<line x1="78.30" y1="438.50" x2="83.00" y2="438.50" stroke="#3d4652" stroke-width="0.65" />
<line x1="78.30" y1="443.50" x2="81.20" y2="443.50" stroke="#3d4652" stroke-width="0.65" />
<line x1="78.30" y1="448.50" x2="83.00" y2="448.50" stroke="#3d4652" stroke-width="0.65" />
<line x1="78.30" y1="453.50" x2="81.20" y2="453.50" stroke="#3d4652" stroke-width="0.65" />
<line x1="78.30" y1="458.50" x2="83.00" y2="458.50" stroke="#3d4652" stroke-width="0.65" />
<line x1="78.30" y1="463.50" x2="81.20" y2="463.50" stroke="#3d4652" stroke-width="0.65" />
<line x1="78.30" y1="468.50" x2="83.00" y2="468.50" stroke="#3d4652" stroke-width="0.65" />
<line x1="78.30" y1="473.50" x2="81.20" y2="473.50" stroke="#3d4652" stroke-width="0.65" />
<line x1="78.30" y1="478.50" x2="83.00" y2="478.50" stroke="#3d4652" stroke-width="0.65" />
<line x1="78.30" y1="483.50" x2="81.20" y2="483.50" stroke="#3d4652" stroke-width="0.65" />
<line x1="78.30" y1="488.50" x2="83.00" y2="488.50" stroke="#3d4652" stroke-width="0.65" />
<line x1="78.30" y1="493.50" x2="81.20" y2="493.50" stroke="#3d4652" stroke-width="0.65" />
<line x1="78.30" y1="498.50" x2="83.00" y2="498.50" stroke="#3d4652" stroke-width="0.65" />
<line x1="78.30" y1="503.50" x2="81.20" y2="503.50" stroke="#3d4652" stroke-width="0.65" />
<rect x="75.4" y="421.8" width="18.9" height="9" rx="1.2" fill="#cf6a2a"/>
<rect x="76" y="424.5" width="17.7" height="3.5" fill="#dc8446" opacity="0.7"/>
<text x="86.30" y="535.80" font-size="14.2" text-anchor="middle" font-weight="bold" fill="#1a1a1a" >Buffer</text>
<line x1="97.70" y1="375.30" x2="141.40" y2="400.95" stroke="#222" stroke-width="1.7" />
<polygon points="148.30,405.00 137.83,404.07 142.38,396.31" fill="#222" stroke="#222" stroke-width="0.4" stroke-linejoin="round"/>
<text transform="translate(124.60,383.50) rotate(31.00)" font-size="12.3" text-anchor="middle" font-weight="bold" fill="#222" style="font-family:'Liberation Serif',serif">200 µL</text>
<line x1="95.60" y1="456.80" x2="141.78" y2="434.75" stroke="#222" stroke-width="1.7" />
<polygon points="149.00,431.30 142.37,439.45 138.49,431.33" fill="#222" stroke="#222" stroke-width="0.4" stroke-linejoin="round"/>
<text transform="translate(117.30,442.00) rotate(-25.00)" font-size="12.3" text-anchor="middle" font-weight="bold" fill="#222" style="font-family:'Liberation Serif',serif">200 µL</text>
<clipPath id="tc1"><path d="M162.40,383.30 L180.60,383.30 L179.80,410.40 L173.10,437.70 Q171.50,440.00 169.90,437.70 L163.20,410.40 Z"/></clipPath>
<path d="M162.40,383.30 L180.60,383.30 L179.80,410.40 L173.10,437.70 Q171.50,440.00 169.90,437.70 L163.20,410.40 Z" fill="#e8edf0"/>
<rect x="160.4" y="397.8" width="22.2" height="44.39999999999998" fill="#c2e2f3" clip-path="url(#tc1)"/>
<line x1="162.90" y1="397.80" x2="180.10" y2="397.80" stroke="#9cc9e2" stroke-width="0.6"/>
<line x1="164.00" y1="400.00" x2="168.00" y2="398.00" stroke="#5b8a3c" stroke-width="0.7" opacity="0.85"/>
<line x1="170.00" y1="408.00" x2="176.00" y2="410.00" stroke="#5b8a3c" stroke-width="0.7" opacity="0.85"/>
<line x1="168.00" y1="418.00" x2="172.00" y2="416.00" stroke="#5b8a3c" stroke-width="0.7" opacity="0.85"/>
<line x1="174.00" y1="422.00" x2="177.00" y2="419.00" stroke="#5b8a3c" stroke-width="0.7" opacity="0.85"/>
<line x1="167.00" y1="428.00" x2="170.00" y2="432.00" stroke="#5b8a3c" stroke-width="0.7" opacity="0.85"/>
<circle cx="166.60" cy="403.40" r="1.50" fill="#e8862c" />
<circle cx="175.00" cy="405.50" r="1.50" fill="#e8862c" />
<circle cx="166.60" cy="411.10" r="1.50" fill="#e8862c" />
<circle cx="173.60" cy="415.30" r="1.50" fill="#e8862c" />
<circle cx="169.40" cy="420.20" r="1.50" fill="#e8862c" />
<circle cx="172.20" cy="425.90" r="1.50" fill="#e8862c" />
<circle cx="171.20" cy="431.20" r="1.50" fill="#e8862c" />
<path d="M162.40,383.30 L180.60,383.30 L179.80,410.40 L173.10,437.70 Q171.50,440.00 169.90,437.70 L163.20,410.40 Z" fill="none" stroke="#8d9ba6" stroke-width="0.8"/>
<rect x="162.80" y="381.80" width="17.40" height="2.2" fill="#b9c2c8"/>
<rect x="160.80" y="379.30" width="21.40" height="3.2" rx="1" fill="#eef1f3" stroke="#8d9ba6" stroke-width="0.7"/>
<line x1="176.10" y1="387.30" x2="179.60" y2="387.30" stroke="#a9b4bb" stroke-width="0.6" />
<g transform="translate(139.80,361.80) rotate(44.48)"><rect x="0" y="-3.10" width="23.41" height="6.20" rx="1.5" fill="#eef1f3" stroke="#8d9ba6" stroke-width="0.7"/><line x1="1" y1="-1.90" x2="22.41" y2="-1.90" stroke="#8d9ba6" stroke-width="0.5"/></g>
<path d="M155.50,379.20 L161.40,379.80" stroke="#8d9ba6" stroke-width="0.8" fill="none"/>
<g transform="translate(0.00,0.00)">
<path d="M228.2,411.6 L228.2,351.6 Q228.2,343.6 236.2,343.6 L283.1,343.6 Q291.1,343.6 291.1,351.6 L291.1,411.6 Z" fill="#6d9ebf" stroke="#5d8cac" stroke-width="0.6"/>
<path d="M238.6,411.6 L238.6,353 Q238.6,350 241.6,350 L278.1,350 Q281.1,350 281.1,353 L281.1,411.6 Z" fill="#cac7c7"/>
<circle cx="259.6" cy="384.2" r="19" fill="#c3c1c1" stroke="#ababab" stroke-width="0.7"/>
<circle cx="259.6" cy="384.2" r="16" fill="none" stroke="#b0aeae" stroke-width="0.6"/>
<circle cx="259.6" cy="384.2" r="12.4" fill="#a4a2a2"/>
<circle cx="259.6" cy="384.2" r="2.1" fill="#fff"/>
<path d="M224.9,470 L294.3,470 L294.3,491.5 Q294.3,498.3 287.5,498.3 L231.7,498.3 Q224.9,498.3 224.9,491.5 Z" fill="#cfcdcd" stroke="#a6a4a4" stroke-width="0.6"/>
<line x1="225.5" y1="491" x2="293.7" y2="491" stroke="#a9a7a7" stroke-width="0.6"/>
<path d="M223.4,451.6 L295.4,451.6 L295.4,466 Q295.4,474 287.4,474 L231.4,474 Q223.4,474 223.4,466 Z" fill="#e7e7e7" stroke="#a6a6a6" stroke-width="0.6"/>
<path d="M227.8,411.4 L291.4,411.4 L295.4,451.6 L223.4,451.6 Z" fill="#ebebeb" stroke="#a6a6a6" stroke-width="0.6"/>
<ellipse cx="259.8" cy="430.1" rx="23.75" ry="16.9" fill="#2b2b2b"/>
<ellipse cx="259.6" cy="432.3" rx="14.2" ry="10.3" fill="#7cc0df"/>
<polygon points="276.39,434.14 272.97,435.44 270.27,433.39 273.69,432.09" fill="#9ad3ea" stroke="#6cb2d4" stroke-width="0.3"/>
<polygon points="274.75,437.83 270.94,438.25 269.22,435.65 273.03,435.23" fill="#9ad3ea" stroke="#6cb2d4" stroke-width="0.3"/>
<polygon points="271.62,440.97 267.80,440.47 267.24,437.57 271.06,438.07" fill="#9ad3ea" stroke="#6cb2d4" stroke-width="0.3"/>
<polygon points="267.32,443.25 263.86,441.88 264.50,438.97 267.96,440.34" fill="#9ad3ea" stroke="#6cb2d4" stroke-width="0.3"/>
<polygon points="262.26,444.45 259.50,442.34 261.29,439.71 264.05,441.81" fill="#9ad3ea" stroke="#6cb2d4" stroke-width="0.3"/>
<polygon points="256.94,444.45 255.15,441.81 257.91,439.71 259.70,442.34" fill="#9ad3ea" stroke="#6cb2d4" stroke-width="0.3"/>
<polygon points="251.88,443.25 251.24,440.34 254.70,438.97 255.34,441.88" fill="#9ad3ea" stroke="#6cb2d4" stroke-width="0.3"/>
<polygon points="247.58,440.97 248.14,438.07 251.96,437.57 251.40,440.47" fill="#9ad3ea" stroke="#6cb2d4" stroke-width="0.3"/>
<polygon points="244.45,437.83 246.17,435.23 249.98,435.65 248.26,438.25" fill="#9ad3ea" stroke="#6cb2d4" stroke-width="0.3"/>
<polygon points="242.81,434.14 245.51,432.09 248.93,433.39 246.23,435.44" fill="#9ad3ea" stroke="#6cb2d4" stroke-width="0.3"/>
<polygon points="242.81,430.26 246.23,428.96 248.93,431.01 245.51,432.31" fill="#9ad3ea" stroke="#6cb2d4" stroke-width="0.3"/>
<polygon points="244.45,426.57 248.26,426.15 249.98,428.75 246.17,429.17" fill="#9ad3ea" stroke="#6cb2d4" stroke-width="0.3"/>
<polygon points="247.58,423.43 251.40,423.93 251.96,426.83 248.14,426.33" fill="#9ad3ea" stroke="#6cb2d4" stroke-width="0.3"/>
<polygon points="251.88,421.15 255.34,422.52 254.70,425.43 251.24,424.06" fill="#9ad3ea" stroke="#6cb2d4" stroke-width="0.3"/>
<polygon points="256.94,419.95 259.70,422.06 257.91,424.69 255.15,422.59" fill="#9ad3ea" stroke="#6cb2d4" stroke-width="0.3"/>
<polygon points="262.26,419.95 264.05,422.59 261.29,424.69 259.50,422.06" fill="#9ad3ea" stroke="#6cb2d4" stroke-width="0.3"/>
<polygon points="267.32,421.15 267.96,424.06 264.50,425.43 263.86,422.52" fill="#9ad3ea" stroke="#6cb2d4" stroke-width="0.3"/>
<polygon points="271.62,423.43 271.06,426.33 267.24,426.83 267.80,423.93" fill="#9ad3ea" stroke="#6cb2d4" stroke-width="0.3"/>
<polygon points="274.75,426.57 273.03,429.17 269.22,428.75 270.94,426.15" fill="#9ad3ea" stroke="#6cb2d4" stroke-width="0.3"/>
<polygon points="276.39,430.26 273.69,432.31 270.27,431.01 272.97,428.96" fill="#9ad3ea" stroke="#6cb2d4" stroke-width="0.3"/>
<ellipse cx="259.7" cy="434.8" rx="10.6" ry="7.9" fill="#2b2b2b"/>
<ellipse cx="259.7" cy="435.2" rx="10.0" ry="7.4" fill="#cdc8c8"/>
<ellipse cx="259.6" cy="436.1" rx="6.3" ry="4.8" fill="#8d8d8d" stroke="#5a5a5a" stroke-width="0.5"/>
<rect x="257.9" y="431.2" width="3.4" height="2" rx="0.8" fill="#f4f4f4"/><rect x="258.1" y="434" width="3" height="2" rx="0.8" fill="#f4f4f4"/><rect x="258.4" y="436.6" width="2.4" height="1.8" rx="0.6" fill="#e6e6e6"/>
<rect x="238.3" y="458.9" width="27.4" height="5.6" rx="2" fill="#9c9c9c"/>
<rect x="238.3" y="467.9" width="27.4" height="1.8" fill="#555"/>
<ellipse cx="276.8" cy="462.1" rx="3.8" ry="3.6" fill="#5b9ac4"/>
<circle cx="273.9" cy="468.9" r="1.9" fill="#5b9ac4"/><circle cx="280.3" cy="468.9" r="1.9" fill="#5b9ac4"/>
<line x1="235" y1="407" x2="235" y2="412" stroke="#999" stroke-width="0.6"/><line x1="284.5" y1="407" x2="284.5" y2="412" stroke="#999" stroke-width="0.6"/>
</g>
<g transform="translate(239.30,-1.50)">
<path d="M228.2,411.6 L228.2,351.6 Q228.2,343.6 236.2,343.6 L283.1,343.6 Q291.1,343.6 291.1,351.6 L291.1,411.6 Z" fill="#6d9ebf" stroke="#5d8cac" stroke-width="0.6"/>
<path d="M238.6,411.6 L238.6,353 Q238.6,350 241.6,350 L278.1,350 Q281.1,350 281.1,353 L281.1,411.6 Z" fill="#cac7c7"/>
<circle cx="259.6" cy="384.2" r="19" fill="#c3c1c1" stroke="#ababab" stroke-width="0.7"/>
<circle cx="259.6" cy="384.2" r="16" fill="none" stroke="#b0aeae" stroke-width="0.6"/>
<circle cx="259.6" cy="384.2" r="12.4" fill="#a4a2a2"/>
<circle cx="259.6" cy="384.2" r="2.1" fill="#fff"/>
<path d="M224.9,470 L294.3,470 L294.3,491.5 Q294.3,498.3 287.5,498.3 L231.7,498.3 Q224.9,498.3 224.9,491.5 Z" fill="#cfcdcd" stroke="#a6a4a4" stroke-width="0.6"/>
<line x1="225.5" y1="491" x2="293.7" y2="491" stroke="#a9a7a7" stroke-width="0.6"/>
<path d="M223.4,451.6 L295.4,451.6 L295.4,466 Q295.4,474 287.4,474 L231.4,474 Q223.4,474 223.4,466 Z" fill="#e7e7e7" stroke="#a6a6a6" stroke-width="0.6"/>
<path d="M227.8,411.4 L291.4,411.4 L295.4,451.6 L223.4,451.6 Z" fill="#ebebeb" stroke="#a6a6a6" stroke-width="0.6"/>
<ellipse cx="259.8" cy="430.1" rx="23.75" ry="16.9" fill="#2b2b2b"/>
<ellipse cx="259.6" cy="432.3" rx="14.2" ry="10.3" fill="#7cc0df"/>
<polygon points="276.39,434.14 272.97,435.44 270.27,433.39 273.69,432.09" fill="#9ad3ea" stroke="#6cb2d4" stroke-width="0.3"/>
<polygon points="274.75,437.83 270.94,438.25 269.22,435.65 273.03,435.23" fill="#9ad3ea" stroke="#6cb2d4" stroke-width="0.3"/>
<polygon points="271.62,440.97 267.80,440.47 267.24,437.57 271.06,438.07" fill="#9ad3ea" stroke="#6cb2d4" stroke-width="0.3"/>
<polygon points="267.32,443.25 263.86,441.88 264.50,438.97 267.96,440.34" fill="#9ad3ea" stroke="#6cb2d4" stroke-width="0.3"/>
<polygon points="262.26,444.45 259.50,442.34 261.29,439.71 264.05,441.81" fill="#9ad3ea" stroke="#6cb2d4" stroke-width="0.3"/>
<polygon points="256.94,444.45 255.15,441.81 257.91,439.71 259.70,442.34" fill="#9ad3ea" stroke="#6cb2d4" stroke-width="0.3"/>
<polygon points="251.88,443.25 251.24,440.34 254.70,438.97 255.34,441.88" fill="#9ad3ea" stroke="#6cb2d4" stroke-width="0.3"/>
<polygon points="247.58,440.97 248.14,438.07 251.96,437.57 251.40,440.47" fill="#9ad3ea" stroke="#6cb2d4" stroke-width="0.3"/>
<polygon points="244.45,437.83 246.17,435.23 249.98,435.65 248.26,438.25" fill="#9ad3ea" stroke="#6cb2d4" stroke-width="0.3"/>
<polygon points="242.81,434.14 245.51,432.09 248.93,433.39 246.23,435.44" fill="#9ad3ea" stroke="#6cb2d4" stroke-width="0.3"/>
<polygon points="242.81,430.26 246.23,428.96 248.93,431.01 245.51,432.31" fill="#9ad3ea" stroke="#6cb2d4" stroke-width="0.3"/>
<polygon points="244.45,426.57 248.26,426.15 249.98,428.75 246.17,429.17" fill="#9ad3ea" stroke="#6cb2d4" stroke-width="0.3"/>
<polygon points="247.58,423.43 251.40,423.93 251.96,426.83 248.14,426.33" fill="#9ad3ea" stroke="#6cb2d4" stroke-width="0.3"/>
<polygon points="251.88,421.15 255.34,422.52 254.70,425.43 251.24,424.06" fill="#9ad3ea" stroke="#6cb2d4" stroke-width="0.3"/>
<polygon points="256.94,419.95 259.70,422.06 257.91,424.69 255.15,422.59" fill="#9ad3ea" stroke="#6cb2d4" stroke-width="0.3"/>
<polygon points="262.26,419.95 264.05,422.59 261.29,424.69 259.50,422.06" fill="#9ad3ea" stroke="#6cb2d4" stroke-width="0.3"/>
<polygon points="267.32,421.15 267.96,424.06 264.50,425.43 263.86,422.52" fill="#9ad3ea" stroke="#6cb2d4" stroke-width="0.3"/>
<polygon points="271.62,423.43 271.06,426.33 267.24,426.83 267.80,423.93" fill="#9ad3ea" stroke="#6cb2d4" stroke-width="0.3"/>
<polygon points="274.75,426.57 273.03,429.17 269.22,428.75 270.94,426.15" fill="#9ad3ea" stroke="#6cb2d4" stroke-width="0.3"/>
<polygon points="276.39,430.26 273.69,432.31 270.27,431.01 272.97,428.96" fill="#9ad3ea" stroke="#6cb2d4" stroke-width="0.3"/>
<ellipse cx="259.7" cy="434.8" rx="10.6" ry="7.9" fill="#2b2b2b"/>
<ellipse cx="259.7" cy="435.2" rx="10.0" ry="7.4" fill="#cdc8c8"/>
<ellipse cx="259.6" cy="436.1" rx="6.3" ry="4.8" fill="#8d8d8d" stroke="#5a5a5a" stroke-width="0.5"/>
<rect x="257.9" y="431.2" width="3.4" height="2" rx="0.8" fill="#f4f4f4"/><rect x="258.1" y="434" width="3" height="2" rx="0.8" fill="#f4f4f4"/><rect x="258.4" y="436.6" width="2.4" height="1.8" rx="0.6" fill="#e6e6e6"/>
<rect x="238.3" y="458.9" width="27.4" height="5.6" rx="2" fill="#9c9c9c"/>
<rect x="238.3" y="467.9" width="27.4" height="1.8" fill="#555"/>
<ellipse cx="276.8" cy="462.1" rx="3.8" ry="3.6" fill="#5b9ac4"/>
<circle cx="273.9" cy="468.9" r="1.9" fill="#5b9ac4"/><circle cx="280.3" cy="468.9" r="1.9" fill="#5b9ac4"/>
<line x1="235" y1="407" x2="235" y2="412" stroke="#999" stroke-width="0.6"/><line x1="284.5" y1="407" x2="284.5" y2="412" stroke="#999" stroke-width="0.6"/>
</g>
<polygon points="194.31,406.40 195.74,405.76 197.17,405.17 198.60,404.63 200.02,404.14 201.44,403.70 202.86,403.31 204.27,402.97 205.67,402.68 207.08,402.43 208.47,402.24 209.86,402.09 211.25,401.99 212.64,401.94 214.01,401.93 215.39,401.97 216.76,402.06 218.13,402.20 219.49,402.38 220.86,402.61 222.21,402.89 223.57,403.21 224.93,403.55 226.30,403.91 227.67,404.31 229.05,404.76 230.42,405.27 231.80,405.81 233.18,406.41 234.56,407.06 235.94,407.75 237.92,403.93 236.43,403.19 234.94,402.49 233.45,401.84 231.95,401.25 230.46,400.70 228.96,400.21 227.46,399.76 225.96,399.37 224.45,399.05 222.93,398.82 221.42,398.64 219.91,398.51 218.41,398.43 216.91,398.40 215.41,398.43 213.92,398.50 212.43,398.63 210.94,398.80 209.46,399.03 207.99,399.31 206.52,399.64 205.05,400.02 203.59,400.44 202.13,400.92 200.68,401.44 199.24,402.02 197.79,402.64 196.36,403.31 194.92,404.03 193.49,404.80" fill="#222"/>
<polygon points="246.70,410.90 234.29,410.95 237.82,406.30 239.58,400.74" fill="#222"/>
<polygon points="265.80,407.35 267.57,406.79 269.31,406.27 271.02,405.79 272.69,405.35 274.33,404.94 275.93,404.57 277.50,404.23 279.04,403.94 280.54,403.68 282.01,403.45 283.44,403.26 284.84,403.11 286.20,402.99 287.53,402.92 288.82,402.87 290.07,402.86 291.29,402.89 292.47,402.95 293.61,403.05 294.71,403.18 295.78,403.34 296.81,403.50 297.82,403.68 298.78,403.88 299.72,404.12 300.62,404.38 301.49,404.68 302.32,405.01 303.13,405.38 303.90,405.77 305.94,401.99 304.98,401.50 304.00,401.05 302.98,400.65 301.93,400.29 300.86,399.97 299.75,399.69 298.62,399.45 297.46,399.25 296.27,399.12 295.05,399.06 293.81,399.04 292.54,399.05 291.24,399.11 289.93,399.20 288.58,399.33 287.21,399.50 285.82,399.70 284.40,399.94 282.95,400.22 281.48,400.53 279.97,400.88 278.44,401.27 276.89,401.69 275.30,402.15 273.69,402.64 272.05,403.17 270.38,403.74 268.68,404.34 266.95,404.98 265.20,405.65" fill="#222"/>
<polygon points="314.60,409.10 302.19,408.94 305.80,404.35 307.65,398.82" fill="#222"/>
<polygon points="433.44,398.69 434.76,398.04 436.08,397.45 437.41,396.91 438.74,396.41 440.08,395.97 441.41,395.58 442.75,395.24 444.09,394.95 445.44,394.71 446.79,394.51 448.14,394.37 449.49,394.27 450.85,394.23 452.22,394.23 453.58,394.27 454.95,394.37 456.33,394.51 457.71,394.71 459.10,394.94 460.49,395.23 461.88,395.56 463.30,395.91 464.72,396.28 466.16,396.71 467.60,397.18 469.06,397.69 470.53,398.26 472.00,398.88 473.49,399.55 474.98,400.26 476.89,396.40 475.30,395.64 473.71,394.93 472.13,394.27 470.56,393.66 468.99,393.11 467.43,392.60 465.87,392.14 464.32,391.74 462.77,391.41 461.22,391.16 459.68,390.97 458.15,390.83 456.63,390.74 455.12,390.71 453.62,390.73 452.13,390.79 450.65,390.92 449.19,391.09 447.73,391.31 446.29,391.59 444.86,391.92 443.45,392.29 442.04,392.72 440.65,393.20 439.27,393.73 437.91,394.31 436.55,394.94 435.21,395.61 433.88,396.34 432.56,397.11" fill="#222"/>
<polygon points="485.80,403.20 473.39,403.49 476.83,398.78 478.48,393.18" fill="#222"/>
<polygon points="507.49,398.75 509.10,398.28 510.68,397.83 512.23,397.42 513.76,397.05 515.26,396.71 516.74,396.41 518.18,396.13 519.60,395.90 521.00,395.69 522.36,395.52 523.70,395.39 525.01,395.28 526.29,395.21 527.54,395.18 528.77,395.17 529.96,395.20 531.13,395.26 532.26,395.36 533.37,395.48 534.45,395.64 535.50,395.83 536.52,396.01 537.52,396.21 538.50,396.43 539.45,396.68 540.37,396.96 541.27,397.28 542.15,397.62 543.00,397.99 543.83,398.40 545.79,394.57 544.81,394.09 543.80,393.65 542.77,393.24 541.71,392.88 540.63,392.55 539.53,392.25 538.40,392.00 537.26,391.78 536.08,391.62 534.89,391.53 533.67,391.48 532.44,391.46 531.19,391.48 529.92,391.54 528.63,391.63 527.33,391.75 526.00,391.91 524.65,392.10 523.29,392.33 521.90,392.59 520.50,392.89 519.07,393.22 517.62,393.58 516.16,393.97 514.67,394.40 513.16,394.87 511.63,395.36 510.08,395.89 508.50,396.45 506.91,397.05" fill="#222"/>
<polygon points="554.60,401.50 542.19,401.60 545.70,396.94 547.43,391.37" fill="#222"/>
<clipPath id="tc2"><path d="M322.40,302.40 L340.00,302.40 L339.20,327.10 L332.80,354.50 Q331.20,356.80 329.60,354.50 L323.20,327.10 Z"/></clipPath>
<path d="M322.40,302.40 L340.00,302.40 L339.20,327.10 L332.80,354.50 Q331.20,356.80 329.60,354.50 L323.20,327.10 Z" fill="#e8edf0"/>
<rect x="320.4" y="327.1" width="21.6" height="31.899999999999977" fill="#c2e2f3" clip-path="url(#tc2)"/>
<line x1="322.90" y1="327.10" x2="339.50" y2="327.10" stroke="#9cc9e2" stroke-width="0.6"/>
<path d="M322.40,302.40 L340.00,302.40 L339.20,327.10 L332.80,354.50 Q331.20,356.80 329.60,354.50 L323.20,327.10 Z" fill="none" stroke="#8d9ba6" stroke-width="0.8"/>
<rect x="322.80" y="300.90" width="16.80" height="2.2" fill="#b9c2c8"/>
<rect x="320.80" y="298.40" width="20.80" height="3.2" rx="1" fill="#eef1f3" stroke="#8d9ba6" stroke-width="0.7"/>
<line x1="335.50" y1="306.40" x2="339.00" y2="306.40" stroke="#a9b4bb" stroke-width="0.6" />
<g transform="translate(301.60,282.00) rotate(33.52)"><rect x="0" y="-3.10" width="18.47" height="6.20" rx="1.5" fill="#eef1f3" stroke="#8d9ba6" stroke-width="0.7"/><line x1="1" y1="-1.90" x2="17.47" y2="-1.90" stroke="#8d9ba6" stroke-width="0.5"/></g>
<path d="M316.00,293.20 L321.40,298.90" stroke="#8d9ba6" stroke-width="0.8" fill="none"/>
<text x="331.90" y="370.00" font-size="14" text-anchor="middle" font-weight="bold" fill="#1a1a1a" >Buffer</text>
<line x1="344.90" y1="337.00" x2="389.90" y2="361.92" stroke="#222" stroke-width="1.7" />
<polygon points="396.90,365.80 386.41,365.13 390.77,357.26" fill="#222" stroke="#222" stroke-width="0.4" stroke-linejoin="round"/>
<text transform="translate(371.50,345.50) rotate(33.00)" font-size="12.3" text-anchor="middle" font-weight="bold" fill="#222" style="font-family:'Liberation Serif',serif">100 µL</text>
<clipPath id="tc3"><path d="M325.30,392.70 L342.10,392.70 L341.30,422.00 L335.30,445.90 Q333.70,448.20 332.10,445.90 L326.10,422.00 Z"/></clipPath>
<path d="M325.30,392.70 L342.10,392.70 L341.30,422.00 L335.30,445.90 Q333.70,448.20 332.10,445.90 L326.10,422.00 Z" fill="#e8edf0"/>
<rect x="323.3" y="408.1" width="20.8" height="42.299999999999955" fill="#c2e2f3" clip-path="url(#tc3)"/>
<line x1="325.80" y1="408.10" x2="341.60" y2="408.10" stroke="#9cc9e2" stroke-width="0.6"/>
<line x1="331.00" y1="430.00" x2="334.00" y2="426.00" stroke="#5b8a3c" stroke-width="0.7" opacity="0.85"/>
<line x1="335.00" y1="433.00" x2="332.00" y2="438.00" stroke="#5b8a3c" stroke-width="0.7" opacity="0.85"/>
<line x1="330.00" y1="440.00" x2="334.00" y2="443.00" stroke="#5b8a3c" stroke-width="0.7" opacity="0.85"/>
<circle cx="329.50" cy="412.30" r="1.50" fill="#e8862c" />
<circle cx="333.70" cy="411.60" r="1.50" fill="#e8862c" />
<circle cx="338.60" cy="411.60" r="1.50" fill="#e8862c" />
<circle cx="335.10" cy="414.80" r="1.50" fill="#e8862c" />
<circle cx="329.50" cy="416.80" r="1.50" fill="#e8862c" />
<circle cx="332.60" cy="417.90" r="1.50" fill="#e8862c" />
<circle cx="338.60" cy="417.70" r="1.50" fill="#e8862c" />
<path d="M325.30,392.70 L342.10,392.70 L341.30,422.00 L335.30,445.90 Q333.70,448.20 332.10,445.90 L326.10,422.00 Z" fill="none" stroke="#8d9ba6" stroke-width="0.8"/>
<rect x="325.70" y="391.20" width="16.00" height="2.2" fill="#b9c2c8"/>
<rect x="323.70" y="388.70" width="20.00" height="3.2" rx="1" fill="#eef1f3" stroke="#8d9ba6" stroke-width="0.7"/>
<line x1="337.60" y1="396.70" x2="341.10" y2="396.70" stroke="#a9b4bb" stroke-width="0.6" />
<rect x="322.10" y="389.30" width="2.2" height="2.4" rx="1" fill="#eef1f3" stroke="#8d9ba6" stroke-width="0.6"/>
<circle cx="333.70" cy="436.20" r="12.60" fill="none" stroke="#2d76c2" stroke-width="1.3"/>
<text x="332.80" y="460.80" font-size="14.1" text-anchor="middle" font-weight="bold" fill="#1a1a1a" >Bottom</text>
<text x="334.90" y="478.30" font-size="14.1" text-anchor="middle" font-weight="bold" fill="#1a1a1a" >Layer</text>
<line x1="345.00" y1="428.50" x2="390.03" y2="401.69" stroke="#222" stroke-width="1.7" />
<polygon points="396.90,397.60 391.04,406.33 386.44,398.59" fill="#222" stroke="#222" stroke-width="0.4" stroke-linejoin="round"/>
<text transform="translate(364.50,413.00) rotate(-31.00)" font-size="12.3" text-anchor="middle" font-weight="bold" fill="#222" style="font-family:'Liberation Serif',serif">100 µL</text>
<clipPath id="tc4"><path d="M407.00,372.20 L426.60,372.20 L425.80,403.80 L418.40,433.00 Q416.80,435.30 415.20,433.00 L407.80,403.80 Z"/></clipPath>
<path d="M407.00,372.20 L426.60,372.20 L425.80,403.80 L418.40,433.00 Q416.80,435.30 415.20,433.00 L407.80,403.80 Z" fill="#e8edf0"/>
<rect x="405.0" y="390.3" width="23.6" height="47.19999999999999" fill="#c2e2f3" clip-path="url(#tc4)"/>
<line x1="407.50" y1="390.30" x2="426.10" y2="390.30" stroke="#9cc9e2" stroke-width="0.6"/>
<line x1="412.00" y1="396.00" x2="416.00" y2="393.00" stroke="#5b8a3c" stroke-width="0.7" opacity="0.85"/>
<line x1="419.00" y1="395.00" x2="423.00" y2="398.00" stroke="#5b8a3c" stroke-width="0.7" opacity="0.85"/>
<line x1="417.00" y1="403.00" x2="421.00" y2="405.00" stroke="#5b8a3c" stroke-width="0.7" opacity="0.85"/>
<line x1="411.00" y1="407.00" x2="414.00" y2="403.00" stroke="#5b8a3c" stroke-width="0.7" opacity="0.85"/>
<line x1="420.00" y1="409.00" x2="424.00" y2="407.00" stroke="#5b8a3c" stroke-width="0.7" opacity="0.85"/>
<line x1="414.00" y1="412.00" x2="419.00" y2="414.00" stroke="#5b8a3c" stroke-width="0.7" opacity="0.85"/>
<line x1="418.00" y1="421.00" x2="421.00" y2="418.00" stroke="#5b8a3c" stroke-width="0.7" opacity="0.85"/>
<line x1="413.00" y1="425.00" x2="416.00" y2="428.00" stroke="#5b8a3c" stroke-width="0.7" opacity="0.85"/>
<line x1="420.00" y1="426.00" x2="422.00" y2="423.00" stroke="#5b8a3c" stroke-width="0.7" opacity="0.85"/>
<circle cx="413.40" cy="400.20" r="1.50" fill="#e8862c" />
<circle cx="416.00" cy="415.40" r="1.50" fill="#e8862c" />
<path d="M407.00,372.20 L426.60,372.20 L425.80,403.80 L418.40,433.00 Q416.80,435.30 415.20,433.00 L407.80,403.80 Z" fill="none" stroke="#8d9ba6" stroke-width="0.8"/>
<rect x="407.40" y="370.70" width="18.80" height="2.2" fill="#b9c2c8"/>
<rect x="405.40" y="368.20" width="22.80" height="3.2" rx="1" fill="#eef1f3" stroke="#8d9ba6" stroke-width="0.7"/>
<line x1="422.10" y1="376.20" x2="425.60" y2="376.20" stroke="#a9b4bb" stroke-width="0.6" />
<rect x="403.80" y="368.80" width="2.2" height="2.4" rx="1" fill="#eef1f3" stroke="#8d9ba6" stroke-width="0.6"/>
<clipPath id="tc5"><path d="M569.90,380.20 L586.50,380.20 L585.70,416.00 L579.80,432.20 Q578.20,434.50 576.60,432.20 L570.70,416.00 Z"/></clipPath>
<path d="M569.90,380.20 L586.50,380.20 L585.70,416.00 L579.80,432.20 Q578.20,434.50 576.60,432.20 L570.70,416.00 Z" fill="#e8edf0"/>
<rect x="567.9000000000001" y="396.4" width="20.6" height="40.30000000000001" fill="#c2e2f3" clip-path="url(#tc5)"/>
<line x1="570.40" y1="396.40" x2="586.00" y2="396.40" stroke="#9cc9e2" stroke-width="0.6"/>
<line x1="575.00" y1="420.00" x2="579.00" y2="424.00" stroke="#5b8a3c" stroke-width="0.7" opacity="0.85"/>
<line x1="579.00" y1="427.00" x2="576.00" y2="431.00" stroke="#5b8a3c" stroke-width="0.7" opacity="0.85"/>
<circle cx="573.20" cy="400.10" r="1.50" fill="#e8862c" />
<circle cx="577.90" cy="399.20" r="1.50" fill="#e8862c" />
<circle cx="582.60" cy="399.50" r="1.50" fill="#e8862c" />
<circle cx="578.80" cy="402.90" r="1.50" fill="#e8862c" />
<circle cx="573.20" cy="404.80" r="1.50" fill="#e8862c" />
<circle cx="582.60" cy="405.70" r="1.50" fill="#e8862c" />
<path d="M569.90,380.20 L586.50,380.20 L585.70,416.00 L579.80,432.20 Q578.20,434.50 576.60,432.20 L570.70,416.00 Z" fill="none" stroke="#8d9ba6" stroke-width="0.8"/>
<rect x="570.30" y="378.70" width="15.80" height="2.2" fill="#b9c2c8"/>
<rect x="568.30" y="376.20" width="19.80" height="3.2" rx="1" fill="#eef1f3" stroke="#8d9ba6" stroke-width="0.7"/>
<line x1="582.00" y1="384.20" x2="585.50" y2="384.20" stroke="#a9b4bb" stroke-width="0.6" />
<rect x="566.70" y="376.80" width="2.2" height="2.4" rx="1" fill="#eef1f3" stroke="#8d9ba6" stroke-width="0.6"/>
<circle cx="578.30" cy="427.10" r="10.30" fill="none" stroke="#2d76c2" stroke-width="1.3"/>
<line x1="569.3" y1="430" x2="544.2" y2="468.5" stroke="#2d76c2" stroke-width="1.2"/>
<line x1="587.6" y1="429" x2="609.8" y2="464" stroke="#2d76c2" stroke-width="1.2"/>
<circle cx="577.3" cy="479.4" r="34.3" fill="#fff" stroke="#2d76c2" stroke-width="1.3"/>
<g fill="none" stroke="#5a7d3a" stroke-width="0.8"><circle cx="558.30" cy="469.10" r="1.35"/><circle cx="559.48" cy="467.67" r="1.35"/><circle cx="560.65" cy="466.24" r="1.35"/><circle cx="561.83" cy="464.82" r="1.35"/><circle cx="563.01" cy="463.39" r="1.35"/><circle cx="564.18" cy="461.96" r="1.35"/><circle cx="565.36" cy="460.53" r="1.35"/><circle cx="566.53" cy="459.11" r="1.35"/><circle cx="567.71" cy="457.68" r="1.35"/><circle cx="568.89" cy="456.25" r="1.35"/><circle cx="570.06" cy="454.82" r="1.35"/><circle cx="571.24" cy="453.39" r="1.35"/></g>
<g fill="none" stroke="#5a7d3a" stroke-width="0.8"><circle cx="578.30" cy="451.40" r="1.35"/><circle cx="580.03" cy="452.07" r="1.35"/><circle cx="581.75" cy="452.73" r="1.35"/><circle cx="583.48" cy="453.40" r="1.35"/><circle cx="585.20" cy="454.06" r="1.35"/><circle cx="586.93" cy="454.73" r="1.35"/><circle cx="588.66" cy="455.39" r="1.35"/><circle cx="590.38" cy="456.06" r="1.35"/><circle cx="592.11" cy="456.72" r="1.35"/><circle cx="593.84" cy="457.39" r="1.35"/><circle cx="595.56" cy="458.05" r="1.35"/><circle cx="597.29" cy="458.72" r="1.35"/></g>
<g fill="none" stroke="#5a7d3a" stroke-width="0.8"><circle cx="549.00" cy="463.50" r="1.35"/><circle cx="549.49" cy="465.28" r="1.35"/><circle cx="549.98" cy="467.07" r="1.35"/><circle cx="550.46" cy="468.85" r="1.35"/><circle cx="550.95" cy="470.64" r="1.35"/><circle cx="551.44" cy="472.42" r="1.35"/><circle cx="551.93" cy="474.21" r="1.35"/><circle cx="552.41" cy="475.99" r="1.35"/><circle cx="552.90" cy="477.78" r="1.35"/><circle cx="553.39" cy="479.56" r="1.35"/><circle cx="553.88" cy="481.35" r="1.35"/><circle cx="554.36" cy="483.13" r="1.35"/></g>
<g fill="none" stroke="#5a7d3a" stroke-width="0.8"><circle cx="569.50" cy="472.80" r="1.35"/><circle cx="570.49" cy="474.36" r="1.35"/><circle cx="571.48" cy="475.93" r="1.35"/><circle cx="572.47" cy="477.49" r="1.35"/><circle cx="573.46" cy="479.05" r="1.35"/><circle cx="574.45" cy="480.62" r="1.35"/><circle cx="575.44" cy="482.18" r="1.35"/><circle cx="576.42" cy="483.74" r="1.35"/><circle cx="577.41" cy="485.31" r="1.35"/><circle cx="578.40" cy="486.87" r="1.35"/><circle cx="579.39" cy="488.43" r="1.35"/><circle cx="580.38" cy="490.00" r="1.35"/></g>
<g fill="none" stroke="#5a7d3a" stroke-width="0.8"><circle cx="582.60" cy="481.20" r="1.35"/><circle cx="583.68" cy="479.70" r="1.35"/><circle cx="584.76" cy="478.20" r="1.35"/><circle cx="585.84" cy="476.70" r="1.35"/><circle cx="586.92" cy="475.20" r="1.35"/><circle cx="588.01" cy="473.69" r="1.35"/><circle cx="589.09" cy="472.19" r="1.35"/><circle cx="590.17" cy="470.69" r="1.35"/><circle cx="591.25" cy="469.19" r="1.35"/><circle cx="592.33" cy="467.69" r="1.35"/><circle cx="593.41" cy="466.19" r="1.35"/><circle cx="594.49" cy="464.69" r="1.35"/></g>
<g fill="none" stroke="#5a7d3a" stroke-width="0.8"><circle cx="596.50" cy="488.70" r="1.35"/><circle cx="597.09" cy="486.95" r="1.35"/><circle cx="597.68" cy="485.19" r="1.35"/><circle cx="598.27" cy="483.44" r="1.35"/><circle cx="598.86" cy="481.69" r="1.35"/><circle cx="599.45" cy="479.93" r="1.35"/><circle cx="600.04" cy="478.18" r="1.35"/><circle cx="600.63" cy="476.43" r="1.35"/><circle cx="601.22" cy="474.67" r="1.35"/><circle cx="601.81" cy="472.92" r="1.35"/><circle cx="602.40" cy="471.17" r="1.35"/><circle cx="602.99" cy="469.41" r="1.35"/></g>
<g fill="none" stroke="#5a7d3a" stroke-width="0.8"><circle cx="564.80" cy="489.60" r="1.35"/><circle cx="566.19" cy="490.82" r="1.35"/><circle cx="567.58" cy="492.05" r="1.35"/><circle cx="568.97" cy="493.27" r="1.35"/><circle cx="570.35" cy="494.49" r="1.35"/><circle cx="571.74" cy="495.71" r="1.35"/><circle cx="573.13" cy="496.94" r="1.35"/><circle cx="574.52" cy="498.16" r="1.35"/><circle cx="575.91" cy="499.38" r="1.35"/><circle cx="577.30" cy="500.60" r="1.35"/><circle cx="578.68" cy="501.83" r="1.35"/><circle cx="580.07" cy="503.05" r="1.35"/></g>
<g fill="none" stroke="#5a7d3a" stroke-width="0.8"><circle cx="551.80" cy="495.20" r="1.35"/><circle cx="553.22" cy="496.38" r="1.35"/><circle cx="554.64" cy="497.57" r="1.35"/><circle cx="556.06" cy="498.75" r="1.35"/><circle cx="557.48" cy="499.94" r="1.35"/><circle cx="558.91" cy="501.12" r="1.35"/><circle cx="560.33" cy="502.31" r="1.35"/><circle cx="561.75" cy="503.49" r="1.35"/><circle cx="563.17" cy="504.67" r="1.35"/><circle cx="564.59" cy="505.86" r="1.35"/><circle cx="566.01" cy="507.04" r="1.35"/><circle cx="567.43" cy="508.23" r="1.35"/></g>
<g fill="none" stroke="#5a7d3a" stroke-width="0.8"><circle cx="584.40" cy="505.50" r="1.35"/><circle cx="585.90" cy="504.41" r="1.35"/><circle cx="587.39" cy="503.33" r="1.35"/><circle cx="588.89" cy="502.24" r="1.35"/><circle cx="590.39" cy="501.15" r="1.35"/><circle cx="591.88" cy="500.06" r="1.35"/><circle cx="593.38" cy="498.98" r="1.35"/><circle cx="594.88" cy="497.89" r="1.35"/><circle cx="596.38" cy="496.80" r="1.35"/><circle cx="597.87" cy="495.72" r="1.35"/><circle cx="599.37" cy="494.63" r="1.35"/><circle cx="600.87" cy="493.54" r="1.35"/></g>
<line x1="585.40" y1="417.80" x2="627.36" y2="374.17" stroke="#222" stroke-width="1.7" />
<polygon points="632.90,368.40 629.56,378.37 623.07,372.13" fill="#222" stroke="#222" stroke-width="0.4" stroke-linejoin="round"/>
<rect x="234.00" y="503.9" width="51.1" height="65.2" rx="6.5" fill="#fff" stroke="#1d3147" stroke-width="1.4"/>
<text x="250.30" y="516.6" font-size="9.8" font-weight="bold" fill="#1a1a1a">4</text>
<text x="258.40" y="516.6" font-size="9.8" font-weight="normal" fill="#666">°C</text>
<text x="259.60" y="539.60" font-size="9.9" text-anchor="middle" font-weight="bold" fill="#1a1a1a" >21000 g</text>
<text x="259.60" y="562.10" font-size="9.7" text-anchor="middle" font-weight="bold" fill="#1a1a1a" >30 min</text>
<rect x="474.20" y="503.9" width="51.1" height="65.2" rx="6.5" fill="#fff" stroke="#1d3147" stroke-width="1.4"/>
<text x="490.50" y="516.6" font-size="9.8" font-weight="bold" fill="#1a1a1a">4</text>
<text x="498.60" y="516.6" font-size="9.8" font-weight="normal" fill="#666">°C</text>
<text x="499.80" y="539.60" font-size="9.9" text-anchor="middle" font-weight="bold" fill="#1a1a1a" >21000 g</text>
<text x="499.80" y="562.10" font-size="9.7" text-anchor="middle" font-weight="bold" fill="#1a1a1a" >30 min</text>
<rect x="305" y="515.5" width="145.4" height="97.4" rx="11" fill="#fff" stroke="#1d3147" stroke-width="1.5"/>
<clipPath id="tc6"><path d="M318.80,526.30 L341.60,526.30 L340.80,573.30 L331.80,599.50 Q330.20,601.80 328.60,599.50 L319.60,573.30 Z"/></clipPath>
<path d="M318.80,526.30 L341.60,526.30 L340.80,573.30 L331.80,599.50 Q330.20,601.80 328.60,599.50 L319.60,573.30 Z" fill="#e8edf0"/>
<rect x="316.8" y="548.6" width="26.8" height="55.39999999999998" fill="#c2e2f3" clip-path="url(#tc6)"/>
<line x1="319.30" y1="548.60" x2="341.10" y2="548.60" stroke="#9cc9e2" stroke-width="0.6"/>
<line x1="328.00" y1="578.00" x2="332.00" y2="583.00" stroke="#5b8a3c" stroke-width="0.7" opacity="0.85"/>
<line x1="333.00" y1="586.00" x2="330.00" y2="592.00" stroke="#5b8a3c" stroke-width="0.7" opacity="0.85"/>
<line x1="329.00" y1="594.00" x2="333.00" y2="598.00" stroke="#5b8a3c" stroke-width="0.7" opacity="0.85"/>
<circle cx="325.30" cy="554.50" r="1.50" fill="#e8862c" />
<circle cx="331.30" cy="553.50" r="1.50" fill="#e8862c" />
<circle cx="337.20" cy="553.90" r="1.50" fill="#e8862c" />
<circle cx="331.70" cy="558.50" r="1.50" fill="#e8862c" />
<circle cx="324.70" cy="561.10" r="1.50" fill="#e8862c" />
<circle cx="329.30" cy="562.50" r="1.50" fill="#e8862c" />
<circle cx="337.00" cy="562.50" r="1.50" fill="#e8862c" />
<path d="M318.80,526.30 L341.60,526.30 L340.80,573.30 L331.80,599.50 Q330.20,601.80 328.60,599.50 L319.60,573.30 Z" fill="none" stroke="#8d9ba6" stroke-width="0.8"/>
<rect x="319.20" y="524.80" width="22.00" height="2.2" fill="#b9c2c8"/>
<rect x="317.20" y="522.30" width="26.00" height="3.2" rx="1" fill="#eef1f3" stroke="#8d9ba6" stroke-width="0.7"/>
<line x1="337.10" y1="530.30" x2="340.60" y2="530.30" stroke="#a9b4bb" stroke-width="0.6" />
<rect x="315.60" y="522.90" width="2.2" height="2.4" rx="1" fill="#eef1f3" stroke="#8d9ba6" stroke-width="0.6"/>
<path d="M316.2,557.5 A16.8,9.9 0 1,1 317.5,568.8" fill="none" stroke="#222" stroke-width="1.1"/>
<polygon points="313.6,566.2 319.5,566.3 317.2,570.8" fill="#222"/>
<circle cx="361.80" cy="535.10" r="5.90" fill="#eea555" />
<path d="M356.49,535.99 Q360.62,535.69 363.57,532.15 T366.23,531.86 M358.85,539.52 Q362.98,538.05 367.11,534.51 M356.79,533.33 Q358.85,530.38 361.80,529.79" stroke="#d46f2a" stroke-width="0.94" fill="none"/>
<circle cx="360.62" cy="530.97" r="0.71" fill="#3e8f66" />
<circle cx="362.69" cy="531.86" r="0.71" fill="#3e8f66" />
<circle cx="359.44" cy="533.92" r="0.71" fill="#3e8f66" />
<circle cx="361.80" cy="537.75" r="0.71" fill="#3e8f66" />
<circle cx="365.63" cy="539.23" r="0.71" fill="#3e8f66" />
<text x="370.30" y="537.70" font-size="10.1" text-anchor="start" font-weight="bold" fill="#1a1a1a" >Lipoprotein</text>
<line x1="362.40" y1="548.00" x2="362.40" y2="594.50" stroke="#222" stroke-width="1.1" />
<polygon points="362.4,545.4 359.8,551 365,551" fill="#222"/><polygon points="362.4,597.3 359.8,591.7 365,591.7" fill="#222"/>
<text x="366.70" y="572.40" font-size="10" text-anchor="start" font-weight="bold" fill="#1a1a1a" textLength="81.3" lengthAdjust="spacingAndGlyphs">Centrifugal force</text>
<polyline points="343.50,603.00 344.00,603.73 344.50,604.36 345.00,604.80 345.50,604.99 346.00,604.91 346.50,604.56 347.00,604.00 347.50,603.30 348.00,602.55 348.50,601.87 349.00,601.35 349.50,601.05 350.00,601.02 350.50,601.27 351.00,601.75 351.50,602.41 352.00,603.15 352.50,603.87 353.00,604.47 353.50,604.86 354.00,605.00 354.50,604.86 355.00,604.47 355.50,603.87 356.00,603.15 356.50,602.41 357.00,601.75 357.50,601.27 358.00,601.02 358.50,601.05 359.00,601.35 359.50,601.87 360.00,602.55 360.50,603.30 361.00,604.00 361.50,604.56 362.00,604.91 362.50,604.99 363.00,604.80 363.50,604.36 364.00,603.73 364.50,603.00 365.00,602.27 365.50,601.64 366.00,601.20 366.50,601.01 367.00,601.09 367.50,601.44 368.00,602.00 368.50,602.70 369.00,603.45 369.50,604.13 370.00,604.65 370.50,604.95 371.00,604.98 371.50,604.73 372.00,604.25 372.50,603.59 373.00,602.85 373.50,602.13 374.00,601.53 374.50,601.14 375.00,601.00 375.50,601.14 376.00,601.53 376.50,602.13 377.00,602.85 377.50,603.59 378.00,604.25 378.50,604.73 379.00,604.98 379.50,604.95 380.00,604.65 380.50,604.13 381.00,603.45" fill="none" stroke="#4e7f2e" stroke-width="1.0"/>
<polyline points="343.50,603.00 344.00,602.27 344.50,601.64 345.00,601.20 345.50,601.01 346.00,601.09 346.50,601.44 347.00,602.00 347.50,602.70 348.00,603.45 348.50,604.13 349.00,604.65 349.50,604.95 350.00,604.98 350.50,604.73 351.00,604.25 351.50,603.59 352.00,602.85 352.50,602.13 353.00,601.53 353.50,601.14 354.00,601.00 354.50,601.14 355.00,601.53 355.50,602.13 356.00,602.85 356.50,603.59 357.00,604.25 357.50,604.73 358.00,604.98 358.50,604.95 359.00,604.65 359.50,604.13 360.00,603.45 360.50,602.70 361.00,602.00 361.50,601.44 362.00,601.09 362.50,601.01 363.00,601.20 363.50,601.64 364.00,602.27 364.50,603.00 365.00,603.73 365.50,604.36 366.00,604.80 366.50,604.99 367.00,604.91 367.50,604.56 368.00,604.00 368.50,603.30 369.00,602.55 369.50,601.87 370.00,601.35 370.50,601.05 371.00,601.02 371.50,601.27 372.00,601.75 372.50,602.41 373.00,603.15 373.50,603.87 374.00,604.47 374.50,604.86 375.00,605.00 375.50,604.86 376.00,604.47 376.50,603.87 377.00,603.15 377.50,602.41 378.00,601.75 378.50,601.27 379.00,601.02 379.50,601.05 380.00,601.35 380.50,601.87 381.00,602.55" fill="none" stroke="#4e7f2e" stroke-width="1.0"/>
<text x="386.70" y="606.00" font-size="10" text-anchor="start" font-weight="bold" fill="#1a1a1a" >αSynD</text>
<line x1="319.80" y1="515.00" x2="277.67" y2="456.49" stroke="#222" stroke-width="1.3" />
<polygon points="273.00,450.00 282.20,455.08 274.90,460.34" fill="#222" stroke="#222" stroke-width="0.4" stroke-linejoin="round"/>
<line x1="441.40" y1="516.50" x2="487.34" y2="452.50" stroke="#222" stroke-width="1.3" />
<polygon points="492.00,446.00 490.12,456.34 482.80,451.09" fill="#222" stroke="#222" stroke-width="0.4" stroke-linejoin="round"/>
<path d="M651,305.4 L717.7,305.4 L733,315.7 L733,391.9 L637,391.9 L637,315.7 Z" fill="#7b7b7b"/>
<path d="M652.5,305.4 L716.2,305.4 L728,316.8 L641.6,316.8 Z" fill="#ececee"/>
<rect x="641.6" y="307" width="86.4" height="3" fill="#f6f6f8" opacity="0.6"/>
<rect x="641.6" y="316.5" width="86.4" height="29.1" fill="#e1e1e3"/>
<rect x="645.7" y="346.3" width="78.9" height="3.9" fill="#b7afcc"/>
<rect x="641.6" y="350.5" width="86.4" height="40.3" rx="0.5" fill="#e1e1e3"/>
<circle cx="707.00" cy="369.00" r="1.20" fill="#2fb83a" />
<circle cx="715.40" cy="369.00" r="1.20" fill="#e0483f" />
<circle cx="719.60" cy="369.00" r="1.20" fill="#555" />
<ellipse cx="654.9" cy="393" rx="5.4" ry="2.1" fill="#a2a2a2"/><ellipse cx="715.1" cy="393" rx="5.4" ry="2.1" fill="#a2a2a2"/>
<text x="683.00" y="407.60" font-size="12.6" text-anchor="middle" font-weight="bold" fill="#1a1a1a" >SAA</text>
<line x1="684.20" y1="414.70" x2="684.20" y2="491.40" stroke="#222" stroke-width="1.8" />
<polygon points="684.20,500.60 678.70,489.90 689.70,489.90" fill="#222" stroke="#222" stroke-width="0.4" stroke-linejoin="round"/>
<line x1="638.80" y1="504.90" x2="638.80" y2="589.50" stroke="#555" stroke-width="1.1" />
<line x1="638.30" y1="589.50" x2="735.00" y2="589.50" stroke="#555" stroke-width="1.3" />
<polyline points="638.8,588.9 672.7,584.9 675.1,582 684.7,533.3 688.6,526.9 695,524.2 730.2,524.2" fill="none" stroke="#8b2634" stroke-width="2" stroke-linejoin="round"/>
<line x1="671.9" y1="583.6" x2="684.7" y2="526.1" stroke="#666" stroke-width="0.6" stroke-dasharray="1.5,1.2"/>
<line x1="682.3" y1="551.7" x2="682.3" y2="589.5" stroke="#666" stroke-width="0.6" stroke-dasharray="1.2,1.2"/>
<text transform="translate(633,546.4) rotate(-90)" font-size="6.6" text-anchor="middle" font-weight="bold" fill="#1a1a1a">ThT Fluorescence</text>
<text x="686.40" y="601.60" font-size="6.2" text-anchor="middle" font-weight="bold" fill="#1a1a1a" >Hours</text>
<text x="721.30" y="520.50" font-size="4.6" text-anchor="middle" font-weight="normal" fill="#777" >ThT max</text>
<text x="710.50" y="561.00" font-size="4.6" text-anchor="middle" font-weight="normal" fill="#777" >AUC</text>
<text x="688.30" y="571.50" font-size="4.6" text-anchor="middle" font-weight="normal" fill="#777" >T50</text>
<text transform="translate(653.5,585) rotate(-6)" font-size="4.6" text-anchor="middle" fill="#777">Lag phase</text>
<text transform="translate(670.5,553.3) rotate(-78)" font-size="4.4" text-anchor="middle" fill="#777">Growth</text>
<text transform="translate(675,554.3) rotate(-78)" font-size="4.4" text-anchor="middle" fill="#777">phase</text>
<text x="0.30" y="650.00" font-size="24" text-anchor="start" font-weight="normal" fill="#111" stroke="#111" stroke-width="0.8">e</text>
<clipPath id="eclip"><rect x="78.6" y="660" width="244.6" height="168.0"/></clipPath>
<g clip-path="url(#eclip)">
<polyline points="78.6,823.3 83.7,823.3 88.8,823.3 93.9,823.3 99.0,823.3 104.1,823.3 109.2,823.3 114.3,823.3 119.4,823.3 124.5,823.3 129.6,823.3 134.7,823.3 139.8,823.3 144.8,823.3 149.9,823.3 155.0,823.3 160.1,823.3 165.2,823.3 170.3,823.3 175.4,820.6 180.5,813.7 185.6,804.2 190.7,789.2 195.8,778.2 200.9,761.2 206.0,754.1 211.1,742.9 216.2,728.8 221.3,723.2 226.4,719.1 231.5,707.0 236.6,703.1 241.7,706.1 246.8,700.5 251.9,703.0 257.0,693.9 262.0,703.4 267.1,694.0 272.2,696.7 277.3,693.0 282.4,696.7 287.5,700.0 292.6,700.8 297.7,699.1 302.8,696.2 307.9,699.2 313.0,694.9 318.1,696.9 323.2,703.6" fill="none" stroke="#48b8e8" stroke-width="0.55"/>
<g fill="#48b8e8"><circle cx="78.6" cy="823.3" r="0.7"/><circle cx="83.7" cy="823.3" r="0.7"/><circle cx="88.8" cy="823.3" r="0.7"/><circle cx="93.9" cy="823.3" r="0.7"/><circle cx="99.0" cy="823.3" r="0.7"/><circle cx="104.1" cy="823.3" r="0.7"/><circle cx="109.2" cy="823.3" r="0.7"/><circle cx="114.3" cy="823.3" r="0.7"/><circle cx="119.4" cy="823.3" r="0.7"/><circle cx="124.5" cy="823.3" r="0.7"/><circle cx="129.6" cy="823.3" r="0.7"/><circle cx="134.7" cy="823.3" r="0.7"/><circle cx="139.8" cy="823.3" r="0.7"/><circle cx="144.8" cy="823.3" r="0.7"/><circle cx="149.9" cy="823.3" r="0.7"/><circle cx="155.0" cy="823.3" r="0.7"/><circle cx="160.1" cy="823.3" r="0.7"/><circle cx="165.2" cy="823.3" r="0.7"/><circle cx="170.3" cy="823.3" r="0.7"/><circle cx="175.4" cy="820.6" r="0.7"/><circle cx="180.5" cy="813.7" r="0.7"/><circle cx="185.6" cy="804.2" r="0.7"/><circle cx="190.7" cy="789.2" r="0.7"/><circle cx="195.8" cy="778.2" r="0.7"/><circle cx="200.9" cy="761.2" r="0.7"/><circle cx="206.0" cy="754.1" r="0.7"/><circle cx="211.1" cy="742.9" r="0.7"/><circle cx="216.2" cy="728.8" r="0.7"/><circle cx="221.3" cy="723.2" r="0.7"/><circle cx="226.4" cy="719.1" r="0.7"/><circle cx="231.5" cy="707.0" r="0.7"/><circle cx="236.6" cy="703.1" r="0.7"/><circle cx="241.7" cy="706.1" r="0.7"/><circle cx="246.8" cy="700.5" r="0.7"/><circle cx="251.9" cy="703.0" r="0.7"/><circle cx="257.0" cy="693.9" r="0.7"/><circle cx="262.0" cy="703.4" r="0.7"/><circle cx="267.1" cy="694.0" r="0.7"/><circle cx="272.2" cy="696.7" r="0.7"/><circle cx="277.3" cy="693.0" r="0.7"/><circle cx="282.4" cy="696.7" r="0.7"/><circle cx="287.5" cy="700.0" r="0.7"/><circle cx="292.6" cy="700.8" r="0.7"/><circle cx="297.7" cy="699.1" r="0.7"/><circle cx="302.8" cy="696.2" r="0.7"/><circle cx="307.9" cy="699.2" r="0.7"/><circle cx="313.0" cy="694.9" r="0.7"/><circle cx="318.1" cy="696.9" r="0.7"/><circle cx="323.2" cy="703.6" r="0.7"/></g>
<polyline points="78.6,823.3 83.7,823.3 88.8,823.3 93.9,823.3 99.0,823.3 104.1,823.3 109.2,823.3 114.3,823.3 119.4,823.3 124.5,823.3 129.6,823.3 134.7,823.3 139.8,823.3 144.8,823.3 149.9,823.3 155.0,823.3 160.1,823.3 165.2,823.3 170.3,823.3 175.4,820.7 180.5,814.5 185.6,805.9 190.7,793.5 195.8,783.8 200.9,770.6 206.0,758.5 211.1,751.3 216.2,736.1 221.3,731.7 226.4,724.5 231.5,715.3 236.6,709.9 241.7,712.1 246.8,701.4 251.9,704.5 257.0,699.8 262.0,704.7 267.1,697.1 272.2,700.1 277.3,698.4 282.4,696.0 287.5,702.1 292.6,699.2 297.7,702.3 302.8,702.5 307.9,706.2 313.0,700.0 318.1,700.4 323.2,707.3" fill="none" stroke="#48b8e8" stroke-width="0.55"/>
<g fill="#48b8e8"><circle cx="78.6" cy="823.3" r="0.7"/><circle cx="83.7" cy="823.3" r="0.7"/><circle cx="88.8" cy="823.3" r="0.7"/><circle cx="93.9" cy="823.3" r="0.7"/><circle cx="99.0" cy="823.3" r="0.7"/><circle cx="104.1" cy="823.3" r="0.7"/><circle cx="109.2" cy="823.3" r="0.7"/><circle cx="114.3" cy="823.3" r="0.7"/><circle cx="119.4" cy="823.3" r="0.7"/><circle cx="124.5" cy="823.3" r="0.7"/><circle cx="129.6" cy="823.3" r="0.7"/><circle cx="134.7" cy="823.3" r="0.7"/><circle cx="139.8" cy="823.3" r="0.7"/><circle cx="144.8" cy="823.3" r="0.7"/><circle cx="149.9" cy="823.3" r="0.7"/><circle cx="155.0" cy="823.3" r="0.7"/><circle cx="160.1" cy="823.3" r="0.7"/><circle cx="165.2" cy="823.3" r="0.7"/><circle cx="170.3" cy="823.3" r="0.7"/><circle cx="175.4" cy="820.7" r="0.7"/><circle cx="180.5" cy="814.5" r="0.7"/><circle cx="185.6" cy="805.9" r="0.7"/><circle cx="190.7" cy="793.5" r="0.7"/><circle cx="195.8" cy="783.8" r="0.7"/><circle cx="200.9" cy="770.6" r="0.7"/><circle cx="206.0" cy="758.5" r="0.7"/><circle cx="211.1" cy="751.3" r="0.7"/><circle cx="216.2" cy="736.1" r="0.7"/><circle cx="221.3" cy="731.7" r="0.7"/><circle cx="226.4" cy="724.5" r="0.7"/><circle cx="231.5" cy="715.3" r="0.7"/><circle cx="236.6" cy="709.9" r="0.7"/><circle cx="241.7" cy="712.1" r="0.7"/><circle cx="246.8" cy="701.4" r="0.7"/><circle cx="251.9" cy="704.5" r="0.7"/><circle cx="257.0" cy="699.8" r="0.7"/><circle cx="262.0" cy="704.7" r="0.7"/><circle cx="267.1" cy="697.1" r="0.7"/><circle cx="272.2" cy="700.1" r="0.7"/><circle cx="277.3" cy="698.4" r="0.7"/><circle cx="282.4" cy="696.0" r="0.7"/><circle cx="287.5" cy="702.1" r="0.7"/><circle cx="292.6" cy="699.2" r="0.7"/><circle cx="297.7" cy="702.3" r="0.7"/><circle cx="302.8" cy="702.5" r="0.7"/><circle cx="307.9" cy="706.2" r="0.7"/><circle cx="313.0" cy="700.0" r="0.7"/><circle cx="318.1" cy="700.4" r="0.7"/><circle cx="323.2" cy="707.3" r="0.7"/></g>
<polyline points="78.6,823.3 83.7,823.3 88.8,823.3 93.9,823.3 99.0,823.3 104.1,823.3 109.2,823.3 114.3,823.3 119.4,823.3 124.5,823.3 129.6,823.3 134.7,823.3 139.8,823.3 144.8,823.3 149.9,823.3 155.0,823.3 160.1,823.3 165.2,823.3 170.3,823.3 175.4,823.3 180.5,823.3 185.6,821.7 190.7,814.7 195.8,805.3 200.9,790.9 206.0,779.2 211.1,764.5 216.2,749.0 221.3,739.5 226.4,731.6 231.5,723.8 236.6,718.6 241.7,715.7 246.8,711.3 251.9,713.2 257.0,711.1 262.0,712.0 267.1,704.7 272.2,709.0 277.3,703.7 282.4,706.6 287.5,714.4 292.6,708.9 297.7,713.0 302.8,715.5 307.9,709.7 313.0,714.1 318.1,707.8 323.2,713.1" fill="none" stroke="#48b8e8" stroke-width="0.55"/>
<g fill="#48b8e8"><circle cx="78.6" cy="823.3" r="0.7"/><circle cx="83.7" cy="823.3" r="0.7"/><circle cx="88.8" cy="823.3" r="0.7"/><circle cx="93.9" cy="823.3" r="0.7"/><circle cx="99.0" cy="823.3" r="0.7"/><circle cx="104.1" cy="823.3" r="0.7"/><circle cx="109.2" cy="823.3" r="0.7"/><circle cx="114.3" cy="823.3" r="0.7"/><circle cx="119.4" cy="823.3" r="0.7"/><circle cx="124.5" cy="823.3" r="0.7"/><circle cx="129.6" cy="823.3" r="0.7"/><circle cx="134.7" cy="823.3" r="0.7"/><circle cx="139.8" cy="823.3" r="0.7"/><circle cx="144.8" cy="823.3" r="0.7"/><circle cx="149.9" cy="823.3" r="0.7"/><circle cx="155.0" cy="823.3" r="0.7"/><circle cx="160.1" cy="823.3" r="0.7"/><circle cx="165.2" cy="823.3" r="0.7"/><circle cx="170.3" cy="823.3" r="0.7"/><circle cx="175.4" cy="823.3" r="0.7"/><circle cx="180.5" cy="823.3" r="0.7"/><circle cx="185.6" cy="821.7" r="0.7"/><circle cx="190.7" cy="814.7" r="0.7"/><circle cx="195.8" cy="805.3" r="0.7"/><circle cx="200.9" cy="790.9" r="0.7"/><circle cx="206.0" cy="779.2" r="0.7"/><circle cx="211.1" cy="764.5" r="0.7"/><circle cx="216.2" cy="749.0" r="0.7"/><circle cx="221.3" cy="739.5" r="0.7"/><circle cx="226.4" cy="731.6" r="0.7"/><circle cx="231.5" cy="723.8" r="0.7"/><circle cx="236.6" cy="718.6" r="0.7"/><circle cx="241.7" cy="715.7" r="0.7"/><circle cx="246.8" cy="711.3" r="0.7"/><circle cx="251.9" cy="713.2" r="0.7"/><circle cx="257.0" cy="711.1" r="0.7"/><circle cx="262.0" cy="712.0" r="0.7"/><circle cx="267.1" cy="704.7" r="0.7"/><circle cx="272.2" cy="709.0" r="0.7"/><circle cx="277.3" cy="703.7" r="0.7"/><circle cx="282.4" cy="706.6" r="0.7"/><circle cx="287.5" cy="714.4" r="0.7"/><circle cx="292.6" cy="708.9" r="0.7"/><circle cx="297.7" cy="713.0" r="0.7"/><circle cx="302.8" cy="715.5" r="0.7"/><circle cx="307.9" cy="709.7" r="0.7"/><circle cx="313.0" cy="714.1" r="0.7"/><circle cx="318.1" cy="707.8" r="0.7"/><circle cx="323.2" cy="713.1" r="0.7"/></g>
<polyline points="78.6,823.3 83.7,823.3 88.8,823.3 93.9,823.3 99.0,823.3 104.1,823.3 109.2,823.3 114.3,823.3 119.4,823.3 124.5,823.3 129.6,823.3 134.7,823.3 139.8,823.3 144.8,823.3 149.9,823.3 155.0,823.3 160.1,823.3 165.2,823.2 170.3,820.8 175.4,815.2 180.5,807.2 185.6,798.5 190.7,784.9 195.8,774.6 200.9,763.5 206.0,752.4 211.1,745.3 216.2,729.1 221.3,724.5 226.4,719.3 231.5,706.9 236.6,706.2 241.7,710.2 246.8,698.5 251.9,699.6 257.0,700.0 262.0,701.6 267.1,695.0 272.2,698.8 277.3,693.9 282.4,693.7 287.5,698.1 292.6,695.6 297.7,699.6 302.8,695.2 307.9,697.1 313.0,694.0 318.1,693.0 323.2,698.4" fill="none" stroke="#48b8e8" stroke-width="0.55"/>
<g fill="#48b8e8"><circle cx="78.6" cy="823.3" r="0.7"/><circle cx="83.7" cy="823.3" r="0.7"/><circle cx="88.8" cy="823.3" r="0.7"/><circle cx="93.9" cy="823.3" r="0.7"/><circle cx="99.0" cy="823.3" r="0.7"/><circle cx="104.1" cy="823.3" r="0.7"/><circle cx="109.2" cy="823.3" r="0.7"/><circle cx="114.3" cy="823.3" r="0.7"/><circle cx="119.4" cy="823.3" r="0.7"/><circle cx="124.5" cy="823.3" r="0.7"/><circle cx="129.6" cy="823.3" r="0.7"/><circle cx="134.7" cy="823.3" r="0.7"/><circle cx="139.8" cy="823.3" r="0.7"/><circle cx="144.8" cy="823.3" r="0.7"/><circle cx="149.9" cy="823.3" r="0.7"/><circle cx="155.0" cy="823.3" r="0.7"/><circle cx="160.1" cy="823.3" r="0.7"/><circle cx="165.2" cy="823.2" r="0.7"/><circle cx="170.3" cy="820.8" r="0.7"/><circle cx="175.4" cy="815.2" r="0.7"/><circle cx="180.5" cy="807.2" r="0.7"/><circle cx="185.6" cy="798.5" r="0.7"/><circle cx="190.7" cy="784.9" r="0.7"/><circle cx="195.8" cy="774.6" r="0.7"/><circle cx="200.9" cy="763.5" r="0.7"/><circle cx="206.0" cy="752.4" r="0.7"/><circle cx="211.1" cy="745.3" r="0.7"/><circle cx="216.2" cy="729.1" r="0.7"/><circle cx="221.3" cy="724.5" r="0.7"/><circle cx="226.4" cy="719.3" r="0.7"/><circle cx="231.5" cy="706.9" r="0.7"/><circle cx="236.6" cy="706.2" r="0.7"/><circle cx="241.7" cy="710.2" r="0.7"/><circle cx="246.8" cy="698.5" r="0.7"/><circle cx="251.9" cy="699.6" r="0.7"/><circle cx="257.0" cy="700.0" r="0.7"/><circle cx="262.0" cy="701.6" r="0.7"/><circle cx="267.1" cy="695.0" r="0.7"/><circle cx="272.2" cy="698.8" r="0.7"/><circle cx="277.3" cy="693.9" r="0.7"/><circle cx="282.4" cy="693.7" r="0.7"/><circle cx="287.5" cy="698.1" r="0.7"/><circle cx="292.6" cy="695.6" r="0.7"/><circle cx="297.7" cy="699.6" r="0.7"/><circle cx="302.8" cy="695.2" r="0.7"/><circle cx="307.9" cy="697.1" r="0.7"/><circle cx="313.0" cy="694.0" r="0.7"/><circle cx="318.1" cy="693.0" r="0.7"/><circle cx="323.2" cy="698.4" r="0.7"/></g>
<polyline points="78.6,823.3 83.7,823.3 88.8,823.3 93.9,823.3 99.0,823.3 104.1,823.3 109.2,823.3 114.3,823.3 119.4,823.3 124.5,823.3 129.6,823.3 134.7,823.3 139.8,823.3 144.8,823.3 149.9,823.3 155.0,823.3 160.1,823.3 165.2,823.2 170.3,818.8 175.4,808.9 180.5,795.3 185.6,781.8 190.7,764.8 195.8,752.7 200.9,737.9 206.0,731.1 211.1,726.4 216.2,712.0 221.3,710.1 226.4,711.6 231.5,698.2 236.6,700.9 241.7,706.1 246.8,702.8 251.9,703.3 257.0,703.5 262.0,704.0 267.1,695.9 272.2,697.9 277.3,697.6 282.4,699.8 287.5,706.8 292.6,702.1 297.7,704.7 302.8,703.6 307.9,706.7 313.0,701.0 318.1,703.3 323.2,707.6" fill="none" stroke="#48b8e8" stroke-width="0.55"/>
<g fill="#48b8e8"><circle cx="78.6" cy="823.3" r="0.7"/><circle cx="83.7" cy="823.3" r="0.7"/><circle cx="88.8" cy="823.3" r="0.7"/><circle cx="93.9" cy="823.3" r="0.7"/><circle cx="99.0" cy="823.3" r="0.7"/><circle cx="104.1" cy="823.3" r="0.7"/><circle cx="109.2" cy="823.3" r="0.7"/><circle cx="114.3" cy="823.3" r="0.7"/><circle cx="119.4" cy="823.3" r="0.7"/><circle cx="124.5" cy="823.3" r="0.7"/><circle cx="129.6" cy="823.3" r="0.7"/><circle cx="134.7" cy="823.3" r="0.7"/><circle cx="139.8" cy="823.3" r="0.7"/><circle cx="144.8" cy="823.3" r="0.7"/><circle cx="149.9" cy="823.3" r="0.7"/><circle cx="155.0" cy="823.3" r="0.7"/><circle cx="160.1" cy="823.3" r="0.7"/><circle cx="165.2" cy="823.2" r="0.7"/><circle cx="170.3" cy="818.8" r="0.7"/><circle cx="175.4" cy="808.9" r="0.7"/><circle cx="180.5" cy="795.3" r="0.7"/><circle cx="185.6" cy="781.8" r="0.7"/><circle cx="190.7" cy="764.8" r="0.7"/><circle cx="195.8" cy="752.7" r="0.7"/><circle cx="200.9" cy="737.9" r="0.7"/><circle cx="206.0" cy="731.1" r="0.7"/><circle cx="211.1" cy="726.4" r="0.7"/><circle cx="216.2" cy="712.0" r="0.7"/><circle cx="221.3" cy="710.1" r="0.7"/><circle cx="226.4" cy="711.6" r="0.7"/><circle cx="231.5" cy="698.2" r="0.7"/><circle cx="236.6" cy="700.9" r="0.7"/><circle cx="241.7" cy="706.1" r="0.7"/><circle cx="246.8" cy="702.8" r="0.7"/><circle cx="251.9" cy="703.3" r="0.7"/><circle cx="257.0" cy="703.5" r="0.7"/><circle cx="262.0" cy="704.0" r="0.7"/><circle cx="267.1" cy="695.9" r="0.7"/><circle cx="272.2" cy="697.9" r="0.7"/><circle cx="277.3" cy="697.6" r="0.7"/><circle cx="282.4" cy="699.8" r="0.7"/><circle cx="287.5" cy="706.8" r="0.7"/><circle cx="292.6" cy="702.1" r="0.7"/><circle cx="297.7" cy="704.7" r="0.7"/><circle cx="302.8" cy="703.6" r="0.7"/><circle cx="307.9" cy="706.7" r="0.7"/><circle cx="313.0" cy="701.0" r="0.7"/><circle cx="318.1" cy="703.3" r="0.7"/><circle cx="323.2" cy="707.6" r="0.7"/></g>
<polyline points="78.6,823.3 83.7,823.3 88.8,823.3 93.9,823.3 99.0,823.3 104.1,823.3 109.2,823.3 114.3,823.3 119.4,823.3 124.5,823.3 129.6,823.3 134.7,823.3 139.8,823.3 144.8,823.3 149.9,823.3 155.0,823.3 160.1,823.3 165.2,823.3 170.3,822.7 175.4,818.7 180.5,812.2 185.6,804.1 190.7,792.2 195.8,781.2 200.9,767.3 206.0,759.2 211.1,749.1 216.2,731.9 221.3,726.9 226.4,719.0 231.5,706.5 236.6,706.7 241.7,704.5 246.8,692.9 251.9,693.2 257.0,695.0 262.0,693.8 267.1,687.7 272.2,687.0 277.3,689.3 282.4,685.8 287.5,689.8 292.6,691.8 297.7,696.3 302.8,695.5 307.9,696.3 313.0,694.4 318.1,690.9 323.2,692.5" fill="none" stroke="#48b8e8" stroke-width="0.55"/>
<g fill="#48b8e8"><circle cx="78.6" cy="823.3" r="0.7"/><circle cx="83.7" cy="823.3" r="0.7"/><circle cx="88.8" cy="823.3" r="0.7"/><circle cx="93.9" cy="823.3" r="0.7"/><circle cx="99.0" cy="823.3" r="0.7"/><circle cx="104.1" cy="823.3" r="0.7"/><circle cx="109.2" cy="823.3" r="0.7"/><circle cx="114.3" cy="823.3" r="0.7"/><circle cx="119.4" cy="823.3" r="0.7"/><circle cx="124.5" cy="823.3" r="0.7"/><circle cx="129.6" cy="823.3" r="0.7"/><circle cx="134.7" cy="823.3" r="0.7"/><circle cx="139.8" cy="823.3" r="0.7"/><circle cx="144.8" cy="823.3" r="0.7"/><circle cx="149.9" cy="823.3" r="0.7"/><circle cx="155.0" cy="823.3" r="0.7"/><circle cx="160.1" cy="823.3" r="0.7"/><circle cx="165.2" cy="823.3" r="0.7"/><circle cx="170.3" cy="822.7" r="0.7"/><circle cx="175.4" cy="818.7" r="0.7"/><circle cx="180.5" cy="812.2" r="0.7"/><circle cx="185.6" cy="804.1" r="0.7"/><circle cx="190.7" cy="792.2" r="0.7"/><circle cx="195.8" cy="781.2" r="0.7"/><circle cx="200.9" cy="767.3" r="0.7"/><circle cx="206.0" cy="759.2" r="0.7"/><circle cx="211.1" cy="749.1" r="0.7"/><circle cx="216.2" cy="731.9" r="0.7"/><circle cx="221.3" cy="726.9" r="0.7"/><circle cx="226.4" cy="719.0" r="0.7"/><circle cx="231.5" cy="706.5" r="0.7"/><circle cx="236.6" cy="706.7" r="0.7"/><circle cx="241.7" cy="704.5" r="0.7"/><circle cx="246.8" cy="692.9" r="0.7"/><circle cx="251.9" cy="693.2" r="0.7"/><circle cx="257.0" cy="695.0" r="0.7"/><circle cx="262.0" cy="693.8" r="0.7"/><circle cx="267.1" cy="687.7" r="0.7"/><circle cx="272.2" cy="687.0" r="0.7"/><circle cx="277.3" cy="689.3" r="0.7"/><circle cx="282.4" cy="685.8" r="0.7"/><circle cx="287.5" cy="689.8" r="0.7"/><circle cx="292.6" cy="691.8" r="0.7"/><circle cx="297.7" cy="696.3" r="0.7"/><circle cx="302.8" cy="695.5" r="0.7"/><circle cx="307.9" cy="696.3" r="0.7"/><circle cx="313.0" cy="694.4" r="0.7"/><circle cx="318.1" cy="690.9" r="0.7"/><circle cx="323.2" cy="692.5" r="0.7"/></g>
<polyline points="78.6,823.3 83.7,823.3 88.8,823.3 93.9,823.3 99.0,823.3 104.1,823.3 109.2,823.3 114.3,823.3 119.4,823.3 124.5,823.3 129.6,823.3 134.7,823.3 139.8,823.3 144.8,823.3 149.9,823.3 155.0,823.3 160.1,823.3 165.2,823.3 170.3,823.3 175.4,820.7 180.5,813.6 185.6,804.0 190.7,790.8 195.8,777.8 200.9,762.8 206.0,750.6 211.1,740.4 216.2,721.8 221.3,717.7 226.4,716.6 231.5,700.5 236.6,697.6 241.7,702.8 246.8,696.3 251.9,695.9 257.0,694.7 262.0,695.4 267.1,686.9 272.2,693.0 277.3,691.0 282.4,689.8 287.5,693.5 292.6,692.1 297.7,695.4 302.8,697.6 307.9,697.9 313.0,691.6 318.1,691.3 323.2,700.3" fill="none" stroke="#48b8e8" stroke-width="0.55"/>
<g fill="#48b8e8"><circle cx="78.6" cy="823.3" r="0.7"/><circle cx="83.7" cy="823.3" r="0.7"/><circle cx="88.8" cy="823.3" r="0.7"/><circle cx="93.9" cy="823.3" r="0.7"/><circle cx="99.0" cy="823.3" r="0.7"/><circle cx="104.1" cy="823.3" r="0.7"/><circle cx="109.2" cy="823.3" r="0.7"/><circle cx="114.3" cy="823.3" r="0.7"/><circle cx="119.4" cy="823.3" r="0.7"/><circle cx="124.5" cy="823.3" r="0.7"/><circle cx="129.6" cy="823.3" r="0.7"/><circle cx="134.7" cy="823.3" r="0.7"/><circle cx="139.8" cy="823.3" r="0.7"/><circle cx="144.8" cy="823.3" r="0.7"/><circle cx="149.9" cy="823.3" r="0.7"/><circle cx="155.0" cy="823.3" r="0.7"/><circle cx="160.1" cy="823.3" r="0.7"/><circle cx="165.2" cy="823.3" r="0.7"/><circle cx="170.3" cy="823.3" r="0.7"/><circle cx="175.4" cy="820.7" r="0.7"/><circle cx="180.5" cy="813.6" r="0.7"/><circle cx="185.6" cy="804.0" r="0.7"/><circle cx="190.7" cy="790.8" r="0.7"/><circle cx="195.8" cy="777.8" r="0.7"/><circle cx="200.9" cy="762.8" r="0.7"/><circle cx="206.0" cy="750.6" r="0.7"/><circle cx="211.1" cy="740.4" r="0.7"/><circle cx="216.2" cy="721.8" r="0.7"/><circle cx="221.3" cy="717.7" r="0.7"/><circle cx="226.4" cy="716.6" r="0.7"/><circle cx="231.5" cy="700.5" r="0.7"/><circle cx="236.6" cy="697.6" r="0.7"/><circle cx="241.7" cy="702.8" r="0.7"/><circle cx="246.8" cy="696.3" r="0.7"/><circle cx="251.9" cy="695.9" r="0.7"/><circle cx="257.0" cy="694.7" r="0.7"/><circle cx="262.0" cy="695.4" r="0.7"/><circle cx="267.1" cy="686.9" r="0.7"/><circle cx="272.2" cy="693.0" r="0.7"/><circle cx="277.3" cy="691.0" r="0.7"/><circle cx="282.4" cy="689.8" r="0.7"/><circle cx="287.5" cy="693.5" r="0.7"/><circle cx="292.6" cy="692.1" r="0.7"/><circle cx="297.7" cy="695.4" r="0.7"/><circle cx="302.8" cy="697.6" r="0.7"/><circle cx="307.9" cy="697.9" r="0.7"/><circle cx="313.0" cy="691.6" r="0.7"/><circle cx="318.1" cy="691.3" r="0.7"/><circle cx="323.2" cy="700.3" r="0.7"/></g>
<polyline points="78.6,823.3 83.7,823.3 88.8,823.3 93.9,823.3 99.0,823.3 104.1,823.3 109.2,823.3 114.3,823.3 119.4,823.3 124.5,823.3 129.6,823.3 134.7,823.3 139.8,823.3 144.8,823.3 149.9,823.3 155.0,823.3 160.1,823.3 165.2,823.3 170.3,822.0 175.4,817.1 180.5,809.7 185.6,800.8 190.7,789.5 195.8,779.5 200.9,763.7 206.0,756.4 211.1,746.7 216.2,734.2 221.3,729.3 226.4,718.3 231.5,708.4 236.6,705.7 241.7,710.1 246.8,699.3 251.9,697.9 257.0,697.7 262.0,699.5 267.1,689.8 272.2,693.3 277.3,690.5 282.4,695.3 287.5,700.4 292.6,693.9 297.7,698.1 302.8,694.5 307.9,695.4 313.0,692.4 318.1,693.6 323.2,694.0" fill="none" stroke="#48b8e8" stroke-width="0.55"/>
<g fill="#48b8e8"><circle cx="78.6" cy="823.3" r="0.7"/><circle cx="83.7" cy="823.3" r="0.7"/><circle cx="88.8" cy="823.3" r="0.7"/><circle cx="93.9" cy="823.3" r="0.7"/><circle cx="99.0" cy="823.3" r="0.7"/><circle cx="104.1" cy="823.3" r="0.7"/><circle cx="109.2" cy="823.3" r="0.7"/><circle cx="114.3" cy="823.3" r="0.7"/><circle cx="119.4" cy="823.3" r="0.7"/><circle cx="124.5" cy="823.3" r="0.7"/><circle cx="129.6" cy="823.3" r="0.7"/><circle cx="134.7" cy="823.3" r="0.7"/><circle cx="139.8" cy="823.3" r="0.7"/><circle cx="144.8" cy="823.3" r="0.7"/><circle cx="149.9" cy="823.3" r="0.7"/><circle cx="155.0" cy="823.3" r="0.7"/><circle cx="160.1" cy="823.3" r="0.7"/><circle cx="165.2" cy="823.3" r="0.7"/><circle cx="170.3" cy="822.0" r="0.7"/><circle cx="175.4" cy="817.1" r="0.7"/><circle cx="180.5" cy="809.7" r="0.7"/><circle cx="185.6" cy="800.8" r="0.7"/><circle cx="190.7" cy="789.5" r="0.7"/><circle cx="195.8" cy="779.5" r="0.7"/><circle cx="200.9" cy="763.7" r="0.7"/><circle cx="206.0" cy="756.4" r="0.7"/><circle cx="211.1" cy="746.7" r="0.7"/><circle cx="216.2" cy="734.2" r="0.7"/><circle cx="221.3" cy="729.3" r="0.7"/><circle cx="226.4" cy="718.3" r="0.7"/><circle cx="231.5" cy="708.4" r="0.7"/><circle cx="236.6" cy="705.7" r="0.7"/><circle cx="241.7" cy="710.1" r="0.7"/><circle cx="246.8" cy="699.3" r="0.7"/><circle cx="251.9" cy="697.9" r="0.7"/><circle cx="257.0" cy="697.7" r="0.7"/><circle cx="262.0" cy="699.5" r="0.7"/><circle cx="267.1" cy="689.8" r="0.7"/><circle cx="272.2" cy="693.3" r="0.7"/><circle cx="277.3" cy="690.5" r="0.7"/><circle cx="282.4" cy="695.3" r="0.7"/><circle cx="287.5" cy="700.4" r="0.7"/><circle cx="292.6" cy="693.9" r="0.7"/><circle cx="297.7" cy="698.1" r="0.7"/><circle cx="302.8" cy="694.5" r="0.7"/><circle cx="307.9" cy="695.4" r="0.7"/><circle cx="313.0" cy="692.4" r="0.7"/><circle cx="318.1" cy="693.6" r="0.7"/><circle cx="323.2" cy="694.0" r="0.7"/></g>
<polyline points="78.6,823.3 83.7,823.3 88.8,823.3 93.9,823.3 99.0,823.3 104.1,823.3 109.2,823.3 114.3,823.3 119.4,823.3 124.5,823.3 129.6,823.3 134.7,823.3 139.8,823.3 144.8,823.3 149.9,823.3 155.0,823.3 160.1,823.3 165.2,823.3 170.3,821.3 175.4,816.1 180.5,809.2 185.6,801.5 190.7,788.7 195.8,779.0 200.9,767.3 206.0,760.5 211.1,751.1 216.2,733.7 221.3,729.4 226.4,727.8 231.5,715.5 236.6,709.9 241.7,711.8 246.8,699.9 251.9,703.8 257.0,697.9 262.0,705.3 267.1,695.3 272.2,693.4 277.3,692.6 282.4,697.5 287.5,702.3 292.6,697.6 297.7,701.3 302.8,701.4 307.9,701.3 313.0,698.4 318.1,692.8 323.2,703.5" fill="none" stroke="#48b8e8" stroke-width="0.55"/>
<g fill="#48b8e8"><circle cx="78.6" cy="823.3" r="0.7"/><circle cx="83.7" cy="823.3" r="0.7"/><circle cx="88.8" cy="823.3" r="0.7"/><circle cx="93.9" cy="823.3" r="0.7"/><circle cx="99.0" cy="823.3" r="0.7"/><circle cx="104.1" cy="823.3" r="0.7"/><circle cx="109.2" cy="823.3" r="0.7"/><circle cx="114.3" cy="823.3" r="0.7"/><circle cx="119.4" cy="823.3" r="0.7"/><circle cx="124.5" cy="823.3" r="0.7"/><circle cx="129.6" cy="823.3" r="0.7"/><circle cx="134.7" cy="823.3" r="0.7"/><circle cx="139.8" cy="823.3" r="0.7"/><circle cx="144.8" cy="823.3" r="0.7"/><circle cx="149.9" cy="823.3" r="0.7"/><circle cx="155.0" cy="823.3" r="0.7"/><circle cx="160.1" cy="823.3" r="0.7"/><circle cx="165.2" cy="823.3" r="0.7"/><circle cx="170.3" cy="821.3" r="0.7"/><circle cx="175.4" cy="816.1" r="0.7"/><circle cx="180.5" cy="809.2" r="0.7"/><circle cx="185.6" cy="801.5" r="0.7"/><circle cx="190.7" cy="788.7" r="0.7"/><circle cx="195.8" cy="779.0" r="0.7"/><circle cx="200.9" cy="767.3" r="0.7"/><circle cx="206.0" cy="760.5" r="0.7"/><circle cx="211.1" cy="751.1" r="0.7"/><circle cx="216.2" cy="733.7" r="0.7"/><circle cx="221.3" cy="729.4" r="0.7"/><circle cx="226.4" cy="727.8" r="0.7"/><circle cx="231.5" cy="715.5" r="0.7"/><circle cx="236.6" cy="709.9" r="0.7"/><circle cx="241.7" cy="711.8" r="0.7"/><circle cx="246.8" cy="699.9" r="0.7"/><circle cx="251.9" cy="703.8" r="0.7"/><circle cx="257.0" cy="697.9" r="0.7"/><circle cx="262.0" cy="705.3" r="0.7"/><circle cx="267.1" cy="695.3" r="0.7"/><circle cx="272.2" cy="693.4" r="0.7"/><circle cx="277.3" cy="692.6" r="0.7"/><circle cx="282.4" cy="697.5" r="0.7"/><circle cx="287.5" cy="702.3" r="0.7"/><circle cx="292.6" cy="697.6" r="0.7"/><circle cx="297.7" cy="701.3" r="0.7"/><circle cx="302.8" cy="701.4" r="0.7"/><circle cx="307.9" cy="701.3" r="0.7"/><circle cx="313.0" cy="698.4" r="0.7"/><circle cx="318.1" cy="692.8" r="0.7"/><circle cx="323.2" cy="703.5" r="0.7"/></g>
<polyline points="78.6,823.3 83.7,823.3 88.8,823.3 93.9,823.3 99.0,823.3 104.1,823.3 109.2,823.3 114.3,823.3 119.4,823.3 124.5,823.3 129.6,823.3 134.7,823.3 139.8,823.3 144.8,823.3 149.9,823.3 155.0,823.3 160.1,823.3 165.2,823.3 170.3,823.3 175.4,823.3 180.5,823.3 185.6,823.0 190.7,821.1 195.8,818.1 200.9,813.4 206.0,808.3 211.1,802.4 216.2,794.5 221.3,789.4 226.4,784.9 231.5,777.4 236.6,770.2 241.7,770.5 246.8,762.7 251.9,760.1 257.0,757.5 262.0,758.0 267.1,750.6 272.2,753.0 277.3,749.5 282.4,747.9 287.5,753.3 292.6,751.7 297.7,751.7 302.8,751.3 307.9,753.1 313.0,750.7 318.1,750.8 323.2,753.7" fill="none" stroke="#48b8e8" stroke-width="0.55"/>
<g fill="#48b8e8"><circle cx="78.6" cy="823.3" r="0.7"/><circle cx="83.7" cy="823.3" r="0.7"/><circle cx="88.8" cy="823.3" r="0.7"/><circle cx="93.9" cy="823.3" r="0.7"/><circle cx="99.0" cy="823.3" r="0.7"/><circle cx="104.1" cy="823.3" r="0.7"/><circle cx="109.2" cy="823.3" r="0.7"/><circle cx="114.3" cy="823.3" r="0.7"/><circle cx="119.4" cy="823.3" r="0.7"/><circle cx="124.5" cy="823.3" r="0.7"/><circle cx="129.6" cy="823.3" r="0.7"/><circle cx="134.7" cy="823.3" r="0.7"/><circle cx="139.8" cy="823.3" r="0.7"/><circle cx="144.8" cy="823.3" r="0.7"/><circle cx="149.9" cy="823.3" r="0.7"/><circle cx="155.0" cy="823.3" r="0.7"/><circle cx="160.1" cy="823.3" r="0.7"/><circle cx="165.2" cy="823.3" r="0.7"/><circle cx="170.3" cy="823.3" r="0.7"/><circle cx="175.4" cy="823.3" r="0.7"/><circle cx="180.5" cy="823.3" r="0.7"/><circle cx="185.6" cy="823.0" r="0.7"/><circle cx="190.7" cy="821.1" r="0.7"/><circle cx="195.8" cy="818.1" r="0.7"/><circle cx="200.9" cy="813.4" r="0.7"/><circle cx="206.0" cy="808.3" r="0.7"/><circle cx="211.1" cy="802.4" r="0.7"/><circle cx="216.2" cy="794.5" r="0.7"/><circle cx="221.3" cy="789.4" r="0.7"/><circle cx="226.4" cy="784.9" r="0.7"/><circle cx="231.5" cy="777.4" r="0.7"/><circle cx="236.6" cy="770.2" r="0.7"/><circle cx="241.7" cy="770.5" r="0.7"/><circle cx="246.8" cy="762.7" r="0.7"/><circle cx="251.9" cy="760.1" r="0.7"/><circle cx="257.0" cy="757.5" r="0.7"/><circle cx="262.0" cy="758.0" r="0.7"/><circle cx="267.1" cy="750.6" r="0.7"/><circle cx="272.2" cy="753.0" r="0.7"/><circle cx="277.3" cy="749.5" r="0.7"/><circle cx="282.4" cy="747.9" r="0.7"/><circle cx="287.5" cy="753.3" r="0.7"/><circle cx="292.6" cy="751.7" r="0.7"/><circle cx="297.7" cy="751.7" r="0.7"/><circle cx="302.8" cy="751.3" r="0.7"/><circle cx="307.9" cy="753.1" r="0.7"/><circle cx="313.0" cy="750.7" r="0.7"/><circle cx="318.1" cy="750.8" r="0.7"/><circle cx="323.2" cy="753.7" r="0.7"/></g>
<polyline points="78.6,823.3 83.7,823.3 88.8,823.3 93.9,823.3 99.0,823.3 104.1,823.3 109.2,823.3 114.3,823.3 119.4,823.3 124.5,823.3 129.6,823.3 134.7,823.3 139.8,823.3 144.8,823.3 149.9,823.3 155.0,823.3 160.1,823.3 165.2,823.3 170.3,823.3 175.4,823.3 180.5,823.3 185.6,821.5 190.7,816.2 195.8,809.0 200.9,797.8 206.0,788.8 211.1,777.9 216.2,767.5 221.3,759.5 226.4,754.2 231.5,741.3 236.6,737.6 241.7,737.5 246.8,732.9 251.9,729.8 257.0,732.3 262.0,734.8 267.1,726.1 272.2,730.7 277.3,728.8 282.4,726.9 287.5,729.6 292.6,727.8 297.7,729.9 302.8,733.7 307.9,730.9 313.0,728.2 318.1,730.2 323.2,730.5" fill="none" stroke="#48b8e8" stroke-width="0.55"/>
<g fill="#48b8e8"><circle cx="78.6" cy="823.3" r="0.7"/><circle cx="83.7" cy="823.3" r="0.7"/><circle cx="88.8" cy="823.3" r="0.7"/><circle cx="93.9" cy="823.3" r="0.7"/><circle cx="99.0" cy="823.3" r="0.7"/><circle cx="104.1" cy="823.3" r="0.7"/><circle cx="109.2" cy="823.3" r="0.7"/><circle cx="114.3" cy="823.3" r="0.7"/><circle cx="119.4" cy="823.3" r="0.7"/><circle cx="124.5" cy="823.3" r="0.7"/><circle cx="129.6" cy="823.3" r="0.7"/><circle cx="134.7" cy="823.3" r="0.7"/><circle cx="139.8" cy="823.3" r="0.7"/><circle cx="144.8" cy="823.3" r="0.7"/><circle cx="149.9" cy="823.3" r="0.7"/><circle cx="155.0" cy="823.3" r="0.7"/><circle cx="160.1" cy="823.3" r="0.7"/><circle cx="165.2" cy="823.3" r="0.7"/><circle cx="170.3" cy="823.3" r="0.7"/><circle cx="175.4" cy="823.3" r="0.7"/><circle cx="180.5" cy="823.3" r="0.7"/><circle cx="185.6" cy="821.5" r="0.7"/><circle cx="190.7" cy="816.2" r="0.7"/><circle cx="195.8" cy="809.0" r="0.7"/><circle cx="200.9" cy="797.8" r="0.7"/><circle cx="206.0" cy="788.8" r="0.7"/><circle cx="211.1" cy="777.9" r="0.7"/><circle cx="216.2" cy="767.5" r="0.7"/><circle cx="221.3" cy="759.5" r="0.7"/><circle cx="226.4" cy="754.2" r="0.7"/><circle cx="231.5" cy="741.3" r="0.7"/><circle cx="236.6" cy="737.6" r="0.7"/><circle cx="241.7" cy="737.5" r="0.7"/><circle cx="246.8" cy="732.9" r="0.7"/><circle cx="251.9" cy="729.8" r="0.7"/><circle cx="257.0" cy="732.3" r="0.7"/><circle cx="262.0" cy="734.8" r="0.7"/><circle cx="267.1" cy="726.1" r="0.7"/><circle cx="272.2" cy="730.7" r="0.7"/><circle cx="277.3" cy="728.8" r="0.7"/><circle cx="282.4" cy="726.9" r="0.7"/><circle cx="287.5" cy="729.6" r="0.7"/><circle cx="292.6" cy="727.8" r="0.7"/><circle cx="297.7" cy="729.9" r="0.7"/><circle cx="302.8" cy="733.7" r="0.7"/><circle cx="307.9" cy="730.9" r="0.7"/><circle cx="313.0" cy="728.2" r="0.7"/><circle cx="318.1" cy="730.2" r="0.7"/><circle cx="323.2" cy="730.5" r="0.7"/></g>
<polyline points="78.6,823.3 83.7,823.3 88.8,823.3 93.9,823.3 99.0,823.3 104.1,823.3 109.2,823.3 114.3,823.3 119.4,823.3 124.5,823.3 129.6,823.3 134.7,823.3 139.8,823.3 144.8,823.3 149.9,823.3 155.0,823.3 160.1,823.3 165.2,823.3 170.3,821.8 175.4,817.2 180.5,810.3 185.6,802.8 190.7,793.5 195.8,786.6 200.9,776.9 206.0,774.5 211.1,769.8 216.2,761.6 221.3,761.5 226.4,758.1 231.5,754.5 236.6,753.7 241.7,756.8 246.8,751.8 251.9,753.3 257.0,754.7 262.0,757.6 267.1,753.3 272.2,754.0 277.3,750.4 282.4,753.2 287.5,754.5 292.6,754.1 297.7,753.6 302.8,757.1 307.9,754.7 313.0,755.3 318.1,754.7 323.2,755.3" fill="none" stroke="#48b8e8" stroke-width="0.55"/>
<g fill="#48b8e8"><circle cx="78.6" cy="823.3" r="0.7"/><circle cx="83.7" cy="823.3" r="0.7"/><circle cx="88.8" cy="823.3" r="0.7"/><circle cx="93.9" cy="823.3" r="0.7"/><circle cx="99.0" cy="823.3" r="0.7"/><circle cx="104.1" cy="823.3" r="0.7"/><circle cx="109.2" cy="823.3" r="0.7"/><circle cx="114.3" cy="823.3" r="0.7"/><circle cx="119.4" cy="823.3" r="0.7"/><circle cx="124.5" cy="823.3" r="0.7"/><circle cx="129.6" cy="823.3" r="0.7"/><circle cx="134.7" cy="823.3" r="0.7"/><circle cx="139.8" cy="823.3" r="0.7"/><circle cx="144.8" cy="823.3" r="0.7"/><circle cx="149.9" cy="823.3" r="0.7"/><circle cx="155.0" cy="823.3" r="0.7"/><circle cx="160.1" cy="823.3" r="0.7"/><circle cx="165.2" cy="823.3" r="0.7"/><circle cx="170.3" cy="821.8" r="0.7"/><circle cx="175.4" cy="817.2" r="0.7"/><circle cx="180.5" cy="810.3" r="0.7"/><circle cx="185.6" cy="802.8" r="0.7"/><circle cx="190.7" cy="793.5" r="0.7"/><circle cx="195.8" cy="786.6" r="0.7"/><circle cx="200.9" cy="776.9" r="0.7"/><circle cx="206.0" cy="774.5" r="0.7"/><circle cx="211.1" cy="769.8" r="0.7"/><circle cx="216.2" cy="761.6" r="0.7"/><circle cx="221.3" cy="761.5" r="0.7"/><circle cx="226.4" cy="758.1" r="0.7"/><circle cx="231.5" cy="754.5" r="0.7"/><circle cx="236.6" cy="753.7" r="0.7"/><circle cx="241.7" cy="756.8" r="0.7"/><circle cx="246.8" cy="751.8" r="0.7"/><circle cx="251.9" cy="753.3" r="0.7"/><circle cx="257.0" cy="754.7" r="0.7"/><circle cx="262.0" cy="757.6" r="0.7"/><circle cx="267.1" cy="753.3" r="0.7"/><circle cx="272.2" cy="754.0" r="0.7"/><circle cx="277.3" cy="750.4" r="0.7"/><circle cx="282.4" cy="753.2" r="0.7"/><circle cx="287.5" cy="754.5" r="0.7"/><circle cx="292.6" cy="754.1" r="0.7"/><circle cx="297.7" cy="753.6" r="0.7"/><circle cx="302.8" cy="757.1" r="0.7"/><circle cx="307.9" cy="754.7" r="0.7"/><circle cx="313.0" cy="755.3" r="0.7"/><circle cx="318.1" cy="754.7" r="0.7"/><circle cx="323.2" cy="755.3" r="0.7"/></g>
<polyline points="78.6,823.3 83.7,823.3 88.8,823.3 93.9,823.3 99.0,823.3 104.1,823.3 109.2,823.3 114.3,823.3 119.4,823.3 124.5,823.3 129.6,823.3 134.7,823.3 139.8,823.3 144.8,823.3 149.9,823.3 155.0,823.3 160.1,823.3 165.2,823.3 170.3,822.8 175.4,817.8 180.5,808.4 185.6,798.0 190.7,784.7 195.8,773.4 200.9,760.8 206.0,754.5 211.1,745.2 216.2,735.7 221.3,736.6 226.4,731.6 231.5,722.1 236.6,721.5 241.7,727.4 246.8,724.4 251.9,723.0 257.0,725.7 262.0,726.2 267.1,723.6 272.2,719.8 277.3,720.3 282.4,721.2 287.5,726.2 292.6,723.9 297.7,722.5 302.8,725.8 307.9,727.5 313.0,723.8 318.1,719.0 323.2,726.3" fill="none" stroke="#48b8e8" stroke-width="0.55"/>
<g fill="#48b8e8"><circle cx="78.6" cy="823.3" r="0.7"/><circle cx="83.7" cy="823.3" r="0.7"/><circle cx="88.8" cy="823.3" r="0.7"/><circle cx="93.9" cy="823.3" r="0.7"/><circle cx="99.0" cy="823.3" r="0.7"/><circle cx="104.1" cy="823.3" r="0.7"/><circle cx="109.2" cy="823.3" r="0.7"/><circle cx="114.3" cy="823.3" r="0.7"/><circle cx="119.4" cy="823.3" r="0.7"/><circle cx="124.5" cy="823.3" r="0.7"/><circle cx="129.6" cy="823.3" r="0.7"/><circle cx="134.7" cy="823.3" r="0.7"/><circle cx="139.8" cy="823.3" r="0.7"/><circle cx="144.8" cy="823.3" r="0.7"/><circle cx="149.9" cy="823.3" r="0.7"/><circle cx="155.0" cy="823.3" r="0.7"/><circle cx="160.1" cy="823.3" r="0.7"/><circle cx="165.2" cy="823.3" r="0.7"/><circle cx="170.3" cy="822.8" r="0.7"/><circle cx="175.4" cy="817.8" r="0.7"/><circle cx="180.5" cy="808.4" r="0.7"/><circle cx="185.6" cy="798.0" r="0.7"/><circle cx="190.7" cy="784.7" r="0.7"/><circle cx="195.8" cy="773.4" r="0.7"/><circle cx="200.9" cy="760.8" r="0.7"/><circle cx="206.0" cy="754.5" r="0.7"/><circle cx="211.1" cy="745.2" r="0.7"/><circle cx="216.2" cy="735.7" r="0.7"/><circle cx="221.3" cy="736.6" r="0.7"/><circle cx="226.4" cy="731.6" r="0.7"/><circle cx="231.5" cy="722.1" r="0.7"/><circle cx="236.6" cy="721.5" r="0.7"/><circle cx="241.7" cy="727.4" r="0.7"/><circle cx="246.8" cy="724.4" r="0.7"/><circle cx="251.9" cy="723.0" r="0.7"/><circle cx="257.0" cy="725.7" r="0.7"/><circle cx="262.0" cy="726.2" r="0.7"/><circle cx="267.1" cy="723.6" r="0.7"/><circle cx="272.2" cy="719.8" r="0.7"/><circle cx="277.3" cy="720.3" r="0.7"/><circle cx="282.4" cy="721.2" r="0.7"/><circle cx="287.5" cy="726.2" r="0.7"/><circle cx="292.6" cy="723.9" r="0.7"/><circle cx="297.7" cy="722.5" r="0.7"/><circle cx="302.8" cy="725.8" r="0.7"/><circle cx="307.9" cy="727.5" r="0.7"/><circle cx="313.0" cy="723.8" r="0.7"/><circle cx="318.1" cy="719.0" r="0.7"/><circle cx="323.2" cy="726.3" r="0.7"/></g>
<polyline points="78.6,823.3 83.7,823.3 88.8,823.3 93.9,823.3 99.0,823.3 104.1,823.3 109.2,823.3 114.3,823.3 119.4,823.3 124.5,823.3 129.6,823.3 134.7,823.3 139.8,823.3 144.8,823.3 149.9,823.3 155.0,823.3 160.1,823.3 165.2,823.3 170.3,823.3 175.4,823.3 180.5,822.0 185.6,817.4 190.7,809.8 195.8,802.6 200.9,790.9 206.0,784.6 211.1,776.6 216.2,766.1 221.3,761.3 226.4,755.6 231.5,746.9 236.6,747.6 241.7,746.2 246.8,744.0 251.9,743.1 257.0,743.3 262.0,745.1 267.1,742.1 272.2,740.1 277.3,741.3 282.4,738.4 287.5,743.8 292.6,742.1 297.7,742.9 302.8,743.6 307.9,742.1 313.0,740.5 318.1,741.8 323.2,744.9" fill="none" stroke="#48b8e8" stroke-width="0.55"/>
<g fill="#48b8e8"><circle cx="78.6" cy="823.3" r="0.7"/><circle cx="83.7" cy="823.3" r="0.7"/><circle cx="88.8" cy="823.3" r="0.7"/><circle cx="93.9" cy="823.3" r="0.7"/><circle cx="99.0" cy="823.3" r="0.7"/><circle cx="104.1" cy="823.3" r="0.7"/><circle cx="109.2" cy="823.3" r="0.7"/><circle cx="114.3" cy="823.3" r="0.7"/><circle cx="119.4" cy="823.3" r="0.7"/><circle cx="124.5" cy="823.3" r="0.7"/><circle cx="129.6" cy="823.3" r="0.7"/><circle cx="134.7" cy="823.3" r="0.7"/><circle cx="139.8" cy="823.3" r="0.7"/><circle cx="144.8" cy="823.3" r="0.7"/><circle cx="149.9" cy="823.3" r="0.7"/><circle cx="155.0" cy="823.3" r="0.7"/><circle cx="160.1" cy="823.3" r="0.7"/><circle cx="165.2" cy="823.3" r="0.7"/><circle cx="170.3" cy="823.3" r="0.7"/><circle cx="175.4" cy="823.3" r="0.7"/><circle cx="180.5" cy="822.0" r="0.7"/><circle cx="185.6" cy="817.4" r="0.7"/><circle cx="190.7" cy="809.8" r="0.7"/><circle cx="195.8" cy="802.6" r="0.7"/><circle cx="200.9" cy="790.9" r="0.7"/><circle cx="206.0" cy="784.6" r="0.7"/><circle cx="211.1" cy="776.6" r="0.7"/><circle cx="216.2" cy="766.1" r="0.7"/><circle cx="221.3" cy="761.3" r="0.7"/><circle cx="226.4" cy="755.6" r="0.7"/><circle cx="231.5" cy="746.9" r="0.7"/><circle cx="236.6" cy="747.6" r="0.7"/><circle cx="241.7" cy="746.2" r="0.7"/><circle cx="246.8" cy="744.0" r="0.7"/><circle cx="251.9" cy="743.1" r="0.7"/><circle cx="257.0" cy="743.3" r="0.7"/><circle cx="262.0" cy="745.1" r="0.7"/><circle cx="267.1" cy="742.1" r="0.7"/><circle cx="272.2" cy="740.1" r="0.7"/><circle cx="277.3" cy="741.3" r="0.7"/><circle cx="282.4" cy="738.4" r="0.7"/><circle cx="287.5" cy="743.8" r="0.7"/><circle cx="292.6" cy="742.1" r="0.7"/><circle cx="297.7" cy="742.9" r="0.7"/><circle cx="302.8" cy="743.6" r="0.7"/><circle cx="307.9" cy="742.1" r="0.7"/><circle cx="313.0" cy="740.5" r="0.7"/><circle cx="318.1" cy="741.8" r="0.7"/><circle cx="323.2" cy="744.9" r="0.7"/></g>
<polyline points="78.6,823.3 83.7,823.3 88.8,823.3 93.9,823.3 99.0,823.3 104.1,823.3 109.2,823.3 114.3,823.3 119.4,823.3 124.5,823.3 129.6,823.3 134.7,823.3 139.8,823.3 144.8,823.3 149.9,823.3 155.0,823.3 160.1,823.3 165.2,823.3 170.3,823.3 175.4,823.3 180.5,822.8 185.6,819.5 190.7,813.0 195.8,806.2 200.9,796.0 206.0,788.7 211.1,777.9 216.2,766.0 221.3,760.5 226.4,757.1 231.5,745.7 236.6,742.2 241.7,744.0 246.8,737.3 251.9,734.1 257.0,732.7 262.0,738.0 267.1,729.8 272.2,732.0 277.3,731.5 282.4,730.4 287.5,736.3 292.6,735.6 297.7,738.3 302.8,734.9 307.9,735.8 313.0,733.4 318.1,732.8 323.2,736.9" fill="none" stroke="#48b8e8" stroke-width="0.55"/>
<g fill="#48b8e8"><circle cx="78.6" cy="823.3" r="0.7"/><circle cx="83.7" cy="823.3" r="0.7"/><circle cx="88.8" cy="823.3" r="0.7"/><circle cx="93.9" cy="823.3" r="0.7"/><circle cx="99.0" cy="823.3" r="0.7"/><circle cx="104.1" cy="823.3" r="0.7"/><circle cx="109.2" cy="823.3" r="0.7"/><circle cx="114.3" cy="823.3" r="0.7"/><circle cx="119.4" cy="823.3" r="0.7"/><circle cx="124.5" cy="823.3" r="0.7"/><circle cx="129.6" cy="823.3" r="0.7"/><circle cx="134.7" cy="823.3" r="0.7"/><circle cx="139.8" cy="823.3" r="0.7"/><circle cx="144.8" cy="823.3" r="0.7"/><circle cx="149.9" cy="823.3" r="0.7"/><circle cx="155.0" cy="823.3" r="0.7"/><circle cx="160.1" cy="823.3" r="0.7"/><circle cx="165.2" cy="823.3" r="0.7"/><circle cx="170.3" cy="823.3" r="0.7"/><circle cx="175.4" cy="823.3" r="0.7"/><circle cx="180.5" cy="822.8" r="0.7"/><circle cx="185.6" cy="819.5" r="0.7"/><circle cx="190.7" cy="813.0" r="0.7"/><circle cx="195.8" cy="806.2" r="0.7"/><circle cx="200.9" cy="796.0" r="0.7"/><circle cx="206.0" cy="788.7" r="0.7"/><circle cx="211.1" cy="777.9" r="0.7"/><circle cx="216.2" cy="766.0" r="0.7"/><circle cx="221.3" cy="760.5" r="0.7"/><circle cx="226.4" cy="757.1" r="0.7"/><circle cx="231.5" cy="745.7" r="0.7"/><circle cx="236.6" cy="742.2" r="0.7"/><circle cx="241.7" cy="744.0" r="0.7"/><circle cx="246.8" cy="737.3" r="0.7"/><circle cx="251.9" cy="734.1" r="0.7"/><circle cx="257.0" cy="732.7" r="0.7"/><circle cx="262.0" cy="738.0" r="0.7"/><circle cx="267.1" cy="729.8" r="0.7"/><circle cx="272.2" cy="732.0" r="0.7"/><circle cx="277.3" cy="731.5" r="0.7"/><circle cx="282.4" cy="730.4" r="0.7"/><circle cx="287.5" cy="736.3" r="0.7"/><circle cx="292.6" cy="735.6" r="0.7"/><circle cx="297.7" cy="738.3" r="0.7"/><circle cx="302.8" cy="734.9" r="0.7"/><circle cx="307.9" cy="735.8" r="0.7"/><circle cx="313.0" cy="733.4" r="0.7"/><circle cx="318.1" cy="732.8" r="0.7"/><circle cx="323.2" cy="736.9" r="0.7"/></g>
<polyline points="78.6,823.3 83.7,823.3 88.8,823.3 93.9,823.3 99.0,823.3 104.1,823.3 109.2,823.3 114.3,823.3 119.4,823.3 124.5,823.3 129.6,823.3 134.7,823.3 139.8,823.3 144.8,823.3 149.9,823.3 155.0,823.3 160.1,823.3 165.2,823.2 170.3,820.8 175.4,815.4 180.5,808.4 185.6,799.6 190.7,788.6 195.8,780.9 200.9,769.2 206.0,763.3 211.1,756.1 216.2,744.6 221.3,744.0 226.4,742.9 231.5,730.6 236.6,728.2 241.7,734.4 246.8,729.6 251.9,729.9 257.0,729.7 262.0,730.8 267.1,727.2 272.2,727.8 277.3,727.0 282.4,724.8 287.5,729.4 292.6,726.3 297.7,729.5 302.8,730.7 307.9,726.5 313.0,725.1 318.1,724.1 323.2,730.8" fill="none" stroke="#48b8e8" stroke-width="0.55"/>
<g fill="#48b8e8"><circle cx="78.6" cy="823.3" r="0.7"/><circle cx="83.7" cy="823.3" r="0.7"/><circle cx="88.8" cy="823.3" r="0.7"/><circle cx="93.9" cy="823.3" r="0.7"/><circle cx="99.0" cy="823.3" r="0.7"/><circle cx="104.1" cy="823.3" r="0.7"/><circle cx="109.2" cy="823.3" r="0.7"/><circle cx="114.3" cy="823.3" r="0.7"/><circle cx="119.4" cy="823.3" r="0.7"/><circle cx="124.5" cy="823.3" r="0.7"/><circle cx="129.6" cy="823.3" r="0.7"/><circle cx="134.7" cy="823.3" r="0.7"/><circle cx="139.8" cy="823.3" r="0.7"/><circle cx="144.8" cy="823.3" r="0.7"/><circle cx="149.9" cy="823.3" r="0.7"/><circle cx="155.0" cy="823.3" r="0.7"/><circle cx="160.1" cy="823.3" r="0.7"/><circle cx="165.2" cy="823.2" r="0.7"/><circle cx="170.3" cy="820.8" r="0.7"/><circle cx="175.4" cy="815.4" r="0.7"/><circle cx="180.5" cy="808.4" r="0.7"/><circle cx="185.6" cy="799.6" r="0.7"/><circle cx="190.7" cy="788.6" r="0.7"/><circle cx="195.8" cy="780.9" r="0.7"/><circle cx="200.9" cy="769.2" r="0.7"/><circle cx="206.0" cy="763.3" r="0.7"/><circle cx="211.1" cy="756.1" r="0.7"/><circle cx="216.2" cy="744.6" r="0.7"/><circle cx="221.3" cy="744.0" r="0.7"/><circle cx="226.4" cy="742.9" r="0.7"/><circle cx="231.5" cy="730.6" r="0.7"/><circle cx="236.6" cy="728.2" r="0.7"/><circle cx="241.7" cy="734.4" r="0.7"/><circle cx="246.8" cy="729.6" r="0.7"/><circle cx="251.9" cy="729.9" r="0.7"/><circle cx="257.0" cy="729.7" r="0.7"/><circle cx="262.0" cy="730.8" r="0.7"/><circle cx="267.1" cy="727.2" r="0.7"/><circle cx="272.2" cy="727.8" r="0.7"/><circle cx="277.3" cy="727.0" r="0.7"/><circle cx="282.4" cy="724.8" r="0.7"/><circle cx="287.5" cy="729.4" r="0.7"/><circle cx="292.6" cy="726.3" r="0.7"/><circle cx="297.7" cy="729.5" r="0.7"/><circle cx="302.8" cy="730.7" r="0.7"/><circle cx="307.9" cy="726.5" r="0.7"/><circle cx="313.0" cy="725.1" r="0.7"/><circle cx="318.1" cy="724.1" r="0.7"/><circle cx="323.2" cy="730.8" r="0.7"/></g>
<polyline points="78.6,823.3 83.7,823.3 88.8,823.3 93.9,823.3 99.0,823.3 104.1,823.3 109.2,823.3 114.3,823.3 119.4,823.3 124.5,823.3 129.6,823.3 134.7,823.3 139.8,823.3 144.8,823.3 149.9,823.3 155.0,823.3 160.1,823.3 165.2,823.3 170.3,823.3 175.4,823.3 180.5,823.3 185.6,823.3 190.7,822.8 195.8,820.9 200.9,817.8 206.0,813.9 211.1,809.0 216.2,803.0 221.3,798.9 226.4,792.7 231.5,785.9 236.6,781.6 241.7,778.5 246.8,773.1 251.9,770.7 257.0,766.3 262.0,766.9 267.1,762.3 272.2,759.7 277.3,755.7 282.4,755.5 287.5,759.4 292.6,756.2 297.7,760.1 302.8,759.6 307.9,760.3 313.0,758.8 318.1,755.0 323.2,757.1" fill="none" stroke="#48b8e8" stroke-width="0.55"/>
<g fill="#48b8e8"><circle cx="78.6" cy="823.3" r="0.7"/><circle cx="83.7" cy="823.3" r="0.7"/><circle cx="88.8" cy="823.3" r="0.7"/><circle cx="93.9" cy="823.3" r="0.7"/><circle cx="99.0" cy="823.3" r="0.7"/><circle cx="104.1" cy="823.3" r="0.7"/><circle cx="109.2" cy="823.3" r="0.7"/><circle cx="114.3" cy="823.3" r="0.7"/><circle cx="119.4" cy="823.3" r="0.7"/><circle cx="124.5" cy="823.3" r="0.7"/><circle cx="129.6" cy="823.3" r="0.7"/><circle cx="134.7" cy="823.3" r="0.7"/><circle cx="139.8" cy="823.3" r="0.7"/><circle cx="144.8" cy="823.3" r="0.7"/><circle cx="149.9" cy="823.3" r="0.7"/><circle cx="155.0" cy="823.3" r="0.7"/><circle cx="160.1" cy="823.3" r="0.7"/><circle cx="165.2" cy="823.3" r="0.7"/><circle cx="170.3" cy="823.3" r="0.7"/><circle cx="175.4" cy="823.3" r="0.7"/><circle cx="180.5" cy="823.3" r="0.7"/><circle cx="185.6" cy="823.3" r="0.7"/><circle cx="190.7" cy="822.8" r="0.7"/><circle cx="195.8" cy="820.9" r="0.7"/><circle cx="200.9" cy="817.8" r="0.7"/><circle cx="206.0" cy="813.9" r="0.7"/><circle cx="211.1" cy="809.0" r="0.7"/><circle cx="216.2" cy="803.0" r="0.7"/><circle cx="221.3" cy="798.9" r="0.7"/><circle cx="226.4" cy="792.7" r="0.7"/><circle cx="231.5" cy="785.9" r="0.7"/><circle cx="236.6" cy="781.6" r="0.7"/><circle cx="241.7" cy="778.5" r="0.7"/><circle cx="246.8" cy="773.1" r="0.7"/><circle cx="251.9" cy="770.7" r="0.7"/><circle cx="257.0" cy="766.3" r="0.7"/><circle cx="262.0" cy="766.9" r="0.7"/><circle cx="267.1" cy="762.3" r="0.7"/><circle cx="272.2" cy="759.7" r="0.7"/><circle cx="277.3" cy="755.7" r="0.7"/><circle cx="282.4" cy="755.5" r="0.7"/><circle cx="287.5" cy="759.4" r="0.7"/><circle cx="292.6" cy="756.2" r="0.7"/><circle cx="297.7" cy="760.1" r="0.7"/><circle cx="302.8" cy="759.6" r="0.7"/><circle cx="307.9" cy="760.3" r="0.7"/><circle cx="313.0" cy="758.8" r="0.7"/><circle cx="318.1" cy="755.0" r="0.7"/><circle cx="323.2" cy="757.1" r="0.7"/></g>
<polyline points="78.6,823.3 83.7,823.3 88.8,823.3 93.9,823.3 99.0,823.3 104.1,823.3 109.2,823.3 114.3,823.3 119.4,823.3 124.5,823.3 129.6,823.3 134.7,823.3 139.8,823.3 144.8,823.3 149.9,823.3 155.0,823.3 160.1,823.3 165.2,823.3 170.3,822.3 175.4,818.1 180.5,811.8 185.6,804.5 190.7,793.5 195.8,785.6 200.9,776.2 206.0,768.4 211.1,763.7 216.2,751.9 221.3,752.0 226.4,745.5 231.5,736.7 236.6,736.4 241.7,741.3 246.8,733.7 251.9,735.7 257.0,734.5 262.0,738.7 267.1,733.2 272.2,733.7 277.3,733.9 282.4,731.1 287.5,737.1 292.6,736.4 297.7,738.6 302.8,737.6 307.9,734.7 313.0,736.7 318.1,735.8 323.2,738.2" fill="none" stroke="#48b8e8" stroke-width="0.55"/>
<g fill="#48b8e8"><circle cx="78.6" cy="823.3" r="0.7"/><circle cx="83.7" cy="823.3" r="0.7"/><circle cx="88.8" cy="823.3" r="0.7"/><circle cx="93.9" cy="823.3" r="0.7"/><circle cx="99.0" cy="823.3" r="0.7"/><circle cx="104.1" cy="823.3" r="0.7"/><circle cx="109.2" cy="823.3" r="0.7"/><circle cx="114.3" cy="823.3" r="0.7"/><circle cx="119.4" cy="823.3" r="0.7"/><circle cx="124.5" cy="823.3" r="0.7"/><circle cx="129.6" cy="823.3" r="0.7"/><circle cx="134.7" cy="823.3" r="0.7"/><circle cx="139.8" cy="823.3" r="0.7"/><circle cx="144.8" cy="823.3" r="0.7"/><circle cx="149.9" cy="823.3" r="0.7"/><circle cx="155.0" cy="823.3" r="0.7"/><circle cx="160.1" cy="823.3" r="0.7"/><circle cx="165.2" cy="823.3" r="0.7"/><circle cx="170.3" cy="822.3" r="0.7"/><circle cx="175.4" cy="818.1" r="0.7"/><circle cx="180.5" cy="811.8" r="0.7"/><circle cx="185.6" cy="804.5" r="0.7"/><circle cx="190.7" cy="793.5" r="0.7"/><circle cx="195.8" cy="785.6" r="0.7"/><circle cx="200.9" cy="776.2" r="0.7"/><circle cx="206.0" cy="768.4" r="0.7"/><circle cx="211.1" cy="763.7" r="0.7"/><circle cx="216.2" cy="751.9" r="0.7"/><circle cx="221.3" cy="752.0" r="0.7"/><circle cx="226.4" cy="745.5" r="0.7"/><circle cx="231.5" cy="736.7" r="0.7"/><circle cx="236.6" cy="736.4" r="0.7"/><circle cx="241.7" cy="741.3" r="0.7"/><circle cx="246.8" cy="733.7" r="0.7"/><circle cx="251.9" cy="735.7" r="0.7"/><circle cx="257.0" cy="734.5" r="0.7"/><circle cx="262.0" cy="738.7" r="0.7"/><circle cx="267.1" cy="733.2" r="0.7"/><circle cx="272.2" cy="733.7" r="0.7"/><circle cx="277.3" cy="733.9" r="0.7"/><circle cx="282.4" cy="731.1" r="0.7"/><circle cx="287.5" cy="737.1" r="0.7"/><circle cx="292.6" cy="736.4" r="0.7"/><circle cx="297.7" cy="738.6" r="0.7"/><circle cx="302.8" cy="737.6" r="0.7"/><circle cx="307.9" cy="734.7" r="0.7"/><circle cx="313.0" cy="736.7" r="0.7"/><circle cx="318.1" cy="735.8" r="0.7"/><circle cx="323.2" cy="738.2" r="0.7"/></g>
<polyline points="78.6,823.3 83.7,823.3 88.8,823.3 93.9,823.3 99.0,823.3 104.1,823.3 109.2,823.3 114.3,823.3 119.4,823.3 124.5,823.3 129.6,823.3 134.7,823.3 139.8,823.3 144.8,823.3 149.9,823.3 155.0,823.3 160.1,823.3 165.2,823.3 170.3,823.3 175.4,822.7 180.5,819.2 185.6,813.5 190.7,805.1 195.8,796.7 200.9,786.0 206.0,778.4 211.1,770.1 216.2,759.6 221.3,754.5 226.4,746.9 231.5,740.6 236.6,737.3 241.7,736.9 246.8,730.7 251.9,734.2 257.0,730.7 262.0,731.5 267.1,730.0 272.2,730.8 277.3,725.1 282.4,724.4 287.5,732.9 292.6,732.2 297.7,730.2 302.8,732.1 307.9,730.3 313.0,732.1 318.1,727.5 323.2,733.0" fill="none" stroke="#48b8e8" stroke-width="0.55"/>
<g fill="#48b8e8"><circle cx="78.6" cy="823.3" r="0.7"/><circle cx="83.7" cy="823.3" r="0.7"/><circle cx="88.8" cy="823.3" r="0.7"/><circle cx="93.9" cy="823.3" r="0.7"/><circle cx="99.0" cy="823.3" r="0.7"/><circle cx="104.1" cy="823.3" r="0.7"/><circle cx="109.2" cy="823.3" r="0.7"/><circle cx="114.3" cy="823.3" r="0.7"/><circle cx="119.4" cy="823.3" r="0.7"/><circle cx="124.5" cy="823.3" r="0.7"/><circle cx="129.6" cy="823.3" r="0.7"/><circle cx="134.7" cy="823.3" r="0.7"/><circle cx="139.8" cy="823.3" r="0.7"/><circle cx="144.8" cy="823.3" r="0.7"/><circle cx="149.9" cy="823.3" r="0.7"/><circle cx="155.0" cy="823.3" r="0.7"/><circle cx="160.1" cy="823.3" r="0.7"/><circle cx="165.2" cy="823.3" r="0.7"/><circle cx="170.3" cy="823.3" r="0.7"/><circle cx="175.4" cy="822.7" r="0.7"/><circle cx="180.5" cy="819.2" r="0.7"/><circle cx="185.6" cy="813.5" r="0.7"/><circle cx="190.7" cy="805.1" r="0.7"/><circle cx="195.8" cy="796.7" r="0.7"/><circle cx="200.9" cy="786.0" r="0.7"/><circle cx="206.0" cy="778.4" r="0.7"/><circle cx="211.1" cy="770.1" r="0.7"/><circle cx="216.2" cy="759.6" r="0.7"/><circle cx="221.3" cy="754.5" r="0.7"/><circle cx="226.4" cy="746.9" r="0.7"/><circle cx="231.5" cy="740.6" r="0.7"/><circle cx="236.6" cy="737.3" r="0.7"/><circle cx="241.7" cy="736.9" r="0.7"/><circle cx="246.8" cy="730.7" r="0.7"/><circle cx="251.9" cy="734.2" r="0.7"/><circle cx="257.0" cy="730.7" r="0.7"/><circle cx="262.0" cy="731.5" r="0.7"/><circle cx="267.1" cy="730.0" r="0.7"/><circle cx="272.2" cy="730.8" r="0.7"/><circle cx="277.3" cy="725.1" r="0.7"/><circle cx="282.4" cy="724.4" r="0.7"/><circle cx="287.5" cy="732.9" r="0.7"/><circle cx="292.6" cy="732.2" r="0.7"/><circle cx="297.7" cy="730.2" r="0.7"/><circle cx="302.8" cy="732.1" r="0.7"/><circle cx="307.9" cy="730.3" r="0.7"/><circle cx="313.0" cy="732.1" r="0.7"/><circle cx="318.1" cy="727.5" r="0.7"/><circle cx="323.2" cy="733.0" r="0.7"/></g>
<polyline points="78.6,823.3 83.7,823.3 88.8,823.3 93.9,823.3 99.0,823.3 104.1,823.3 109.2,823.3 114.3,823.3 119.4,823.3 124.5,823.3 129.6,823.3 134.7,823.3 139.8,823.3 144.8,823.3 149.9,823.3 155.0,823.3 160.1,823.3 165.2,823.3 170.3,823.3 175.4,823.3 180.5,823.3 185.6,823.3 190.7,823.3 195.8,823.2 200.9,820.9 206.0,816.1 211.1,809.0 216.2,798.4 221.3,791.0 226.4,782.0 231.5,769.2 236.6,761.6 241.7,756.2 246.8,747.4 251.9,745.4 257.0,742.1 262.0,738.0 267.1,732.2 272.2,734.4 277.3,730.2 282.4,729.4 287.5,733.1 292.6,730.2 297.7,731.9 302.8,734.4 307.9,734.6 313.0,731.5 318.1,731.9 323.2,731.4" fill="none" stroke="#48b8e8" stroke-width="0.55"/>
<g fill="#48b8e8"><circle cx="78.6" cy="823.3" r="0.7"/><circle cx="83.7" cy="823.3" r="0.7"/><circle cx="88.8" cy="823.3" r="0.7"/><circle cx="93.9" cy="823.3" r="0.7"/><circle cx="99.0" cy="823.3" r="0.7"/><circle cx="104.1" cy="823.3" r="0.7"/><circle cx="109.2" cy="823.3" r="0.7"/><circle cx="114.3" cy="823.3" r="0.7"/><circle cx="119.4" cy="823.3" r="0.7"/><circle cx="124.5" cy="823.3" r="0.7"/><circle cx="129.6" cy="823.3" r="0.7"/><circle cx="134.7" cy="823.3" r="0.7"/><circle cx="139.8" cy="823.3" r="0.7"/><circle cx="144.8" cy="823.3" r="0.7"/><circle cx="149.9" cy="823.3" r="0.7"/><circle cx="155.0" cy="823.3" r="0.7"/><circle cx="160.1" cy="823.3" r="0.7"/><circle cx="165.2" cy="823.3" r="0.7"/><circle cx="170.3" cy="823.3" r="0.7"/><circle cx="175.4" cy="823.3" r="0.7"/><circle cx="180.5" cy="823.3" r="0.7"/><circle cx="185.6" cy="823.3" r="0.7"/><circle cx="190.7" cy="823.3" r="0.7"/><circle cx="195.8" cy="823.2" r="0.7"/><circle cx="200.9" cy="820.9" r="0.7"/><circle cx="206.0" cy="816.1" r="0.7"/><circle cx="211.1" cy="809.0" r="0.7"/><circle cx="216.2" cy="798.4" r="0.7"/><circle cx="221.3" cy="791.0" r="0.7"/><circle cx="226.4" cy="782.0" r="0.7"/><circle cx="231.5" cy="769.2" r="0.7"/><circle cx="236.6" cy="761.6" r="0.7"/><circle cx="241.7" cy="756.2" r="0.7"/><circle cx="246.8" cy="747.4" r="0.7"/><circle cx="251.9" cy="745.4" r="0.7"/><circle cx="257.0" cy="742.1" r="0.7"/><circle cx="262.0" cy="738.0" r="0.7"/><circle cx="267.1" cy="732.2" r="0.7"/><circle cx="272.2" cy="734.4" r="0.7"/><circle cx="277.3" cy="730.2" r="0.7"/><circle cx="282.4" cy="729.4" r="0.7"/><circle cx="287.5" cy="733.1" r="0.7"/><circle cx="292.6" cy="730.2" r="0.7"/><circle cx="297.7" cy="731.9" r="0.7"/><circle cx="302.8" cy="734.4" r="0.7"/><circle cx="307.9" cy="734.6" r="0.7"/><circle cx="313.0" cy="731.5" r="0.7"/><circle cx="318.1" cy="731.9" r="0.7"/><circle cx="323.2" cy="731.4" r="0.7"/></g>
<polyline points="78.6,823.3 83.7,823.3 88.8,823.3 93.9,823.3 99.0,823.3 104.1,823.3 109.2,823.3 114.3,823.3 119.4,823.3 124.5,823.3 129.6,823.3 134.7,823.3 139.8,823.3 144.8,823.3 149.9,823.3 155.0,823.3 160.1,823.3 165.2,823.3 170.3,823.3 175.4,823.3 180.5,823.0 185.6,819.8 190.7,813.2 195.8,806.0 200.9,796.0 206.0,787.1 211.1,778.8 216.2,766.7 221.3,759.8 226.4,754.5 231.5,747.7 236.6,743.1 241.7,741.0 246.8,735.1 251.9,736.8 257.0,735.0 262.0,736.3 267.1,733.3 272.2,735.5 277.3,732.6 282.4,734.5 287.5,739.3 292.6,737.7 297.7,737.8 302.8,739.6 307.9,740.2 313.0,737.8 318.1,735.3 323.2,735.8" fill="none" stroke="#48b8e8" stroke-width="0.55"/>
<g fill="#48b8e8"><circle cx="78.6" cy="823.3" r="0.7"/><circle cx="83.7" cy="823.3" r="0.7"/><circle cx="88.8" cy="823.3" r="0.7"/><circle cx="93.9" cy="823.3" r="0.7"/><circle cx="99.0" cy="823.3" r="0.7"/><circle cx="104.1" cy="823.3" r="0.7"/><circle cx="109.2" cy="823.3" r="0.7"/><circle cx="114.3" cy="823.3" r="0.7"/><circle cx="119.4" cy="823.3" r="0.7"/><circle cx="124.5" cy="823.3" r="0.7"/><circle cx="129.6" cy="823.3" r="0.7"/><circle cx="134.7" cy="823.3" r="0.7"/><circle cx="139.8" cy="823.3" r="0.7"/><circle cx="144.8" cy="823.3" r="0.7"/><circle cx="149.9" cy="823.3" r="0.7"/><circle cx="155.0" cy="823.3" r="0.7"/><circle cx="160.1" cy="823.3" r="0.7"/><circle cx="165.2" cy="823.3" r="0.7"/><circle cx="170.3" cy="823.3" r="0.7"/><circle cx="175.4" cy="823.3" r="0.7"/><circle cx="180.5" cy="823.0" r="0.7"/><circle cx="185.6" cy="819.8" r="0.7"/><circle cx="190.7" cy="813.2" r="0.7"/><circle cx="195.8" cy="806.0" r="0.7"/><circle cx="200.9" cy="796.0" r="0.7"/><circle cx="206.0" cy="787.1" r="0.7"/><circle cx="211.1" cy="778.8" r="0.7"/><circle cx="216.2" cy="766.7" r="0.7"/><circle cx="221.3" cy="759.8" r="0.7"/><circle cx="226.4" cy="754.5" r="0.7"/><circle cx="231.5" cy="747.7" r="0.7"/><circle cx="236.6" cy="743.1" r="0.7"/><circle cx="241.7" cy="741.0" r="0.7"/><circle cx="246.8" cy="735.1" r="0.7"/><circle cx="251.9" cy="736.8" r="0.7"/><circle cx="257.0" cy="735.0" r="0.7"/><circle cx="262.0" cy="736.3" r="0.7"/><circle cx="267.1" cy="733.3" r="0.7"/><circle cx="272.2" cy="735.5" r="0.7"/><circle cx="277.3" cy="732.6" r="0.7"/><circle cx="282.4" cy="734.5" r="0.7"/><circle cx="287.5" cy="739.3" r="0.7"/><circle cx="292.6" cy="737.7" r="0.7"/><circle cx="297.7" cy="737.8" r="0.7"/><circle cx="302.8" cy="739.6" r="0.7"/><circle cx="307.9" cy="740.2" r="0.7"/><circle cx="313.0" cy="737.8" r="0.7"/><circle cx="318.1" cy="735.3" r="0.7"/><circle cx="323.2" cy="735.8" r="0.7"/></g>
<polyline points="78.6,823.3 83.7,823.3 88.8,823.3 93.9,823.3 99.0,823.3 104.1,823.3 109.2,823.3 114.3,823.3 119.4,823.3 124.5,823.3 129.6,823.3 134.7,823.3 139.8,823.3 144.8,823.3 149.9,823.3 155.0,823.3 160.1,823.3 165.2,823.3 170.3,823.3 175.4,823.3 180.5,822.4 185.6,820.3 190.7,816.6 195.8,813.0 200.9,807.0 206.0,803.2 211.1,797.3 216.2,789.8 221.3,785.9 226.4,781.5 231.5,773.5 236.6,770.3 241.7,768.8 246.8,765.2 251.9,764.1 257.0,760.5 262.0,760.7 267.1,757.8 272.2,755.4 277.3,754.9 282.4,754.0 287.5,756.2 292.6,754.2 297.7,757.1 302.8,755.9 307.9,755.9 313.0,754.3 318.1,754.2 323.2,757.1" fill="none" stroke="#48b8e8" stroke-width="0.55"/>
<g fill="#48b8e8"><circle cx="78.6" cy="823.3" r="0.7"/><circle cx="83.7" cy="823.3" r="0.7"/><circle cx="88.8" cy="823.3" r="0.7"/><circle cx="93.9" cy="823.3" r="0.7"/><circle cx="99.0" cy="823.3" r="0.7"/><circle cx="104.1" cy="823.3" r="0.7"/><circle cx="109.2" cy="823.3" r="0.7"/><circle cx="114.3" cy="823.3" r="0.7"/><circle cx="119.4" cy="823.3" r="0.7"/><circle cx="124.5" cy="823.3" r="0.7"/><circle cx="129.6" cy="823.3" r="0.7"/><circle cx="134.7" cy="823.3" r="0.7"/><circle cx="139.8" cy="823.3" r="0.7"/><circle cx="144.8" cy="823.3" r="0.7"/><circle cx="149.9" cy="823.3" r="0.7"/><circle cx="155.0" cy="823.3" r="0.7"/><circle cx="160.1" cy="823.3" r="0.7"/><circle cx="165.2" cy="823.3" r="0.7"/><circle cx="170.3" cy="823.3" r="0.7"/><circle cx="175.4" cy="823.3" r="0.7"/><circle cx="180.5" cy="822.4" r="0.7"/><circle cx="185.6" cy="820.3" r="0.7"/><circle cx="190.7" cy="816.6" r="0.7"/><circle cx="195.8" cy="813.0" r="0.7"/><circle cx="200.9" cy="807.0" r="0.7"/><circle cx="206.0" cy="803.2" r="0.7"/><circle cx="211.1" cy="797.3" r="0.7"/><circle cx="216.2" cy="789.8" r="0.7"/><circle cx="221.3" cy="785.9" r="0.7"/><circle cx="226.4" cy="781.5" r="0.7"/><circle cx="231.5" cy="773.5" r="0.7"/><circle cx="236.6" cy="770.3" r="0.7"/><circle cx="241.7" cy="768.8" r="0.7"/><circle cx="246.8" cy="765.2" r="0.7"/><circle cx="251.9" cy="764.1" r="0.7"/><circle cx="257.0" cy="760.5" r="0.7"/><circle cx="262.0" cy="760.7" r="0.7"/><circle cx="267.1" cy="757.8" r="0.7"/><circle cx="272.2" cy="755.4" r="0.7"/><circle cx="277.3" cy="754.9" r="0.7"/><circle cx="282.4" cy="754.0" r="0.7"/><circle cx="287.5" cy="756.2" r="0.7"/><circle cx="292.6" cy="754.2" r="0.7"/><circle cx="297.7" cy="757.1" r="0.7"/><circle cx="302.8" cy="755.9" r="0.7"/><circle cx="307.9" cy="755.9" r="0.7"/><circle cx="313.0" cy="754.3" r="0.7"/><circle cx="318.1" cy="754.2" r="0.7"/><circle cx="323.2" cy="757.1" r="0.7"/></g>
<polyline points="78.6,823.3 83.7,823.3 88.8,823.3 93.9,823.3 99.0,823.3 104.1,823.3 109.2,823.3 114.3,823.3 119.4,823.3 124.5,823.3 129.6,823.3 134.7,823.3 139.8,823.3 144.8,823.3 149.9,823.3 155.0,823.3 160.1,823.3 165.2,823.3 170.3,823.3 175.4,823.3 180.5,823.2 185.6,820.8 190.7,815.3 195.8,808.4 200.9,798.3 206.0,790.8 211.1,782.8 216.2,770.9 221.3,765.9 226.4,761.1 231.5,750.3 236.6,746.5 241.7,747.8 246.8,741.7 251.9,741.4 257.0,738.8 262.0,742.5 267.1,740.7 272.2,739.6 277.3,737.0 282.4,739.0 287.5,740.6 292.6,741.8 297.7,741.7 302.8,741.8 307.9,742.0 313.0,739.3 318.1,738.6 323.2,742.1" fill="none" stroke="#48b8e8" stroke-width="0.55"/>
<g fill="#48b8e8"><circle cx="78.6" cy="823.3" r="0.7"/><circle cx="83.7" cy="823.3" r="0.7"/><circle cx="88.8" cy="823.3" r="0.7"/><circle cx="93.9" cy="823.3" r="0.7"/><circle cx="99.0" cy="823.3" r="0.7"/><circle cx="104.1" cy="823.3" r="0.7"/><circle cx="109.2" cy="823.3" r="0.7"/><circle cx="114.3" cy="823.3" r="0.7"/><circle cx="119.4" cy="823.3" r="0.7"/><circle cx="124.5" cy="823.3" r="0.7"/><circle cx="129.6" cy="823.3" r="0.7"/><circle cx="134.7" cy="823.3" r="0.7"/><circle cx="139.8" cy="823.3" r="0.7"/><circle cx="144.8" cy="823.3" r="0.7"/><circle cx="149.9" cy="823.3" r="0.7"/><circle cx="155.0" cy="823.3" r="0.7"/><circle cx="160.1" cy="823.3" r="0.7"/><circle cx="165.2" cy="823.3" r="0.7"/><circle cx="170.3" cy="823.3" r="0.7"/><circle cx="175.4" cy="823.3" r="0.7"/><circle cx="180.5" cy="823.2" r="0.7"/><circle cx="185.6" cy="820.8" r="0.7"/><circle cx="190.7" cy="815.3" r="0.7"/><circle cx="195.8" cy="808.4" r="0.7"/><circle cx="200.9" cy="798.3" r="0.7"/><circle cx="206.0" cy="790.8" r="0.7"/><circle cx="211.1" cy="782.8" r="0.7"/><circle cx="216.2" cy="770.9" r="0.7"/><circle cx="221.3" cy="765.9" r="0.7"/><circle cx="226.4" cy="761.1" r="0.7"/><circle cx="231.5" cy="750.3" r="0.7"/><circle cx="236.6" cy="746.5" r="0.7"/><circle cx="241.7" cy="747.8" r="0.7"/><circle cx="246.8" cy="741.7" r="0.7"/><circle cx="251.9" cy="741.4" r="0.7"/><circle cx="257.0" cy="738.8" r="0.7"/><circle cx="262.0" cy="742.5" r="0.7"/><circle cx="267.1" cy="740.7" r="0.7"/><circle cx="272.2" cy="739.6" r="0.7"/><circle cx="277.3" cy="737.0" r="0.7"/><circle cx="282.4" cy="739.0" r="0.7"/><circle cx="287.5" cy="740.6" r="0.7"/><circle cx="292.6" cy="741.8" r="0.7"/><circle cx="297.7" cy="741.7" r="0.7"/><circle cx="302.8" cy="741.8" r="0.7"/><circle cx="307.9" cy="742.0" r="0.7"/><circle cx="313.0" cy="739.3" r="0.7"/><circle cx="318.1" cy="738.6" r="0.7"/><circle cx="323.2" cy="742.1" r="0.7"/></g>
<polyline points="78.6,823.3 83.7,823.3 88.8,823.3 93.9,823.3 99.0,823.3 104.1,823.3 109.2,823.3 114.3,823.3 119.4,823.3 124.5,823.3 129.6,823.3 134.7,823.3 139.8,823.3 144.8,823.3 149.9,823.3 155.0,823.3 160.1,823.3 165.2,823.3 170.3,823.3 175.4,823.3 180.5,823.3 185.6,823.3 190.7,823.1 195.8,821.5 200.9,818.1 206.0,814.4 211.1,809.2 216.2,802.1 221.3,796.8 226.4,790.2 231.5,782.5 236.6,776.9 241.7,775.9 246.8,768.0 251.9,764.1 257.0,760.2 262.0,760.3 267.1,756.6 272.2,754.3 277.3,752.7 282.4,751.5 287.5,753.8 292.6,752.1 297.7,753.3 302.8,752.0 307.9,754.3 313.0,752.9 318.1,750.6 323.2,753.9" fill="none" stroke="#48b8e8" stroke-width="0.55"/>
<g fill="#48b8e8"><circle cx="78.6" cy="823.3" r="0.7"/><circle cx="83.7" cy="823.3" r="0.7"/><circle cx="88.8" cy="823.3" r="0.7"/><circle cx="93.9" cy="823.3" r="0.7"/><circle cx="99.0" cy="823.3" r="0.7"/><circle cx="104.1" cy="823.3" r="0.7"/><circle cx="109.2" cy="823.3" r="0.7"/><circle cx="114.3" cy="823.3" r="0.7"/><circle cx="119.4" cy="823.3" r="0.7"/><circle cx="124.5" cy="823.3" r="0.7"/><circle cx="129.6" cy="823.3" r="0.7"/><circle cx="134.7" cy="823.3" r="0.7"/><circle cx="139.8" cy="823.3" r="0.7"/><circle cx="144.8" cy="823.3" r="0.7"/><circle cx="149.9" cy="823.3" r="0.7"/><circle cx="155.0" cy="823.3" r="0.7"/><circle cx="160.1" cy="823.3" r="0.7"/><circle cx="165.2" cy="823.3" r="0.7"/><circle cx="170.3" cy="823.3" r="0.7"/><circle cx="175.4" cy="823.3" r="0.7"/><circle cx="180.5" cy="823.3" r="0.7"/><circle cx="185.6" cy="823.3" r="0.7"/><circle cx="190.7" cy="823.1" r="0.7"/><circle cx="195.8" cy="821.5" r="0.7"/><circle cx="200.9" cy="818.1" r="0.7"/><circle cx="206.0" cy="814.4" r="0.7"/><circle cx="211.1" cy="809.2" r="0.7"/><circle cx="216.2" cy="802.1" r="0.7"/><circle cx="221.3" cy="796.8" r="0.7"/><circle cx="226.4" cy="790.2" r="0.7"/><circle cx="231.5" cy="782.5" r="0.7"/><circle cx="236.6" cy="776.9" r="0.7"/><circle cx="241.7" cy="775.9" r="0.7"/><circle cx="246.8" cy="768.0" r="0.7"/><circle cx="251.9" cy="764.1" r="0.7"/><circle cx="257.0" cy="760.2" r="0.7"/><circle cx="262.0" cy="760.3" r="0.7"/><circle cx="267.1" cy="756.6" r="0.7"/><circle cx="272.2" cy="754.3" r="0.7"/><circle cx="277.3" cy="752.7" r="0.7"/><circle cx="282.4" cy="751.5" r="0.7"/><circle cx="287.5" cy="753.8" r="0.7"/><circle cx="292.6" cy="752.1" r="0.7"/><circle cx="297.7" cy="753.3" r="0.7"/><circle cx="302.8" cy="752.0" r="0.7"/><circle cx="307.9" cy="754.3" r="0.7"/><circle cx="313.0" cy="752.9" r="0.7"/><circle cx="318.1" cy="750.6" r="0.7"/><circle cx="323.2" cy="753.9" r="0.7"/></g>
<polyline points="78.6,823.3 83.7,823.3 88.8,823.3 93.9,823.3 99.0,823.3 104.1,823.3 109.2,823.3 114.3,823.3 119.4,823.3 124.5,823.3 129.6,823.3 134.7,823.3 139.8,823.3 144.8,823.3 149.9,823.3 155.0,823.3 160.1,823.3 165.2,823.3 170.3,823.3 175.4,823.3 180.5,823.3 185.6,823.3 190.7,823.0 195.8,820.5 200.9,815.8 206.0,810.1 211.1,803.0 216.2,792.8 221.3,786.2 226.4,779.1 231.5,767.5 236.6,761.6 241.7,758.6 246.8,747.3 251.9,748.2 257.0,742.3 262.0,740.7 267.1,735.3 272.2,733.4 277.3,733.4 282.4,729.6 287.5,737.5 292.6,732.1 297.7,735.5 302.8,737.7 307.9,736.6 313.0,731.0 318.1,730.4 323.2,733.9" fill="none" stroke="#48b8e8" stroke-width="0.55"/>
<g fill="#48b8e8"><circle cx="78.6" cy="823.3" r="0.7"/><circle cx="83.7" cy="823.3" r="0.7"/><circle cx="88.8" cy="823.3" r="0.7"/><circle cx="93.9" cy="823.3" r="0.7"/><circle cx="99.0" cy="823.3" r="0.7"/><circle cx="104.1" cy="823.3" r="0.7"/><circle cx="109.2" cy="823.3" r="0.7"/><circle cx="114.3" cy="823.3" r="0.7"/><circle cx="119.4" cy="823.3" r="0.7"/><circle cx="124.5" cy="823.3" r="0.7"/><circle cx="129.6" cy="823.3" r="0.7"/><circle cx="134.7" cy="823.3" r="0.7"/><circle cx="139.8" cy="823.3" r="0.7"/><circle cx="144.8" cy="823.3" r="0.7"/><circle cx="149.9" cy="823.3" r="0.7"/><circle cx="155.0" cy="823.3" r="0.7"/><circle cx="160.1" cy="823.3" r="0.7"/><circle cx="165.2" cy="823.3" r="0.7"/><circle cx="170.3" cy="823.3" r="0.7"/><circle cx="175.4" cy="823.3" r="0.7"/><circle cx="180.5" cy="823.3" r="0.7"/><circle cx="185.6" cy="823.3" r="0.7"/><circle cx="190.7" cy="823.0" r="0.7"/><circle cx="195.8" cy="820.5" r="0.7"/><circle cx="200.9" cy="815.8" r="0.7"/><circle cx="206.0" cy="810.1" r="0.7"/><circle cx="211.1" cy="803.0" r="0.7"/><circle cx="216.2" cy="792.8" r="0.7"/><circle cx="221.3" cy="786.2" r="0.7"/><circle cx="226.4" cy="779.1" r="0.7"/><circle cx="231.5" cy="767.5" r="0.7"/><circle cx="236.6" cy="761.6" r="0.7"/><circle cx="241.7" cy="758.6" r="0.7"/><circle cx="246.8" cy="747.3" r="0.7"/><circle cx="251.9" cy="748.2" r="0.7"/><circle cx="257.0" cy="742.3" r="0.7"/><circle cx="262.0" cy="740.7" r="0.7"/><circle cx="267.1" cy="735.3" r="0.7"/><circle cx="272.2" cy="733.4" r="0.7"/><circle cx="277.3" cy="733.4" r="0.7"/><circle cx="282.4" cy="729.6" r="0.7"/><circle cx="287.5" cy="737.5" r="0.7"/><circle cx="292.6" cy="732.1" r="0.7"/><circle cx="297.7" cy="735.5" r="0.7"/><circle cx="302.8" cy="737.7" r="0.7"/><circle cx="307.9" cy="736.6" r="0.7"/><circle cx="313.0" cy="731.0" r="0.7"/><circle cx="318.1" cy="730.4" r="0.7"/><circle cx="323.2" cy="733.9" r="0.7"/></g>
<polyline points="78.6,823.3 83.7,823.3 88.8,823.3 93.9,823.3 99.0,823.3 104.1,823.3 109.2,823.3 114.3,823.3 119.4,823.3 124.5,823.3 129.6,823.3 134.7,823.3 139.8,823.3 144.8,823.3 149.9,823.3 155.0,823.3 160.1,823.3 165.2,823.3 170.3,823.3 175.4,823.3 180.5,821.7 185.6,818.1 190.7,812.2 195.8,805.2 200.9,797.0 206.0,790.1 211.1,782.1 216.2,771.4 221.3,767.2 226.4,761.5 231.5,753.4 236.6,749.9 241.7,748.9 246.8,741.0 251.9,743.0 257.0,737.2 262.0,740.4 267.1,735.6 272.2,736.1 277.3,733.0 282.4,734.6 287.5,734.6 292.6,736.0 297.7,739.3 302.8,739.3 307.9,735.4 313.0,735.6 318.1,735.2 323.2,736.6" fill="none" stroke="#48b8e8" stroke-width="0.55"/>
<g fill="#48b8e8"><circle cx="78.6" cy="823.3" r="0.7"/><circle cx="83.7" cy="823.3" r="0.7"/><circle cx="88.8" cy="823.3" r="0.7"/><circle cx="93.9" cy="823.3" r="0.7"/><circle cx="99.0" cy="823.3" r="0.7"/><circle cx="104.1" cy="823.3" r="0.7"/><circle cx="109.2" cy="823.3" r="0.7"/><circle cx="114.3" cy="823.3" r="0.7"/><circle cx="119.4" cy="823.3" r="0.7"/><circle cx="124.5" cy="823.3" r="0.7"/><circle cx="129.6" cy="823.3" r="0.7"/><circle cx="134.7" cy="823.3" r="0.7"/><circle cx="139.8" cy="823.3" r="0.7"/><circle cx="144.8" cy="823.3" r="0.7"/><circle cx="149.9" cy="823.3" r="0.7"/><circle cx="155.0" cy="823.3" r="0.7"/><circle cx="160.1" cy="823.3" r="0.7"/><circle cx="165.2" cy="823.3" r="0.7"/><circle cx="170.3" cy="823.3" r="0.7"/><circle cx="175.4" cy="823.3" r="0.7"/><circle cx="180.5" cy="821.7" r="0.7"/><circle cx="185.6" cy="818.1" r="0.7"/><circle cx="190.7" cy="812.2" r="0.7"/><circle cx="195.8" cy="805.2" r="0.7"/><circle cx="200.9" cy="797.0" r="0.7"/><circle cx="206.0" cy="790.1" r="0.7"/><circle cx="211.1" cy="782.1" r="0.7"/><circle cx="216.2" cy="771.4" r="0.7"/><circle cx="221.3" cy="767.2" r="0.7"/><circle cx="226.4" cy="761.5" r="0.7"/><circle cx="231.5" cy="753.4" r="0.7"/><circle cx="236.6" cy="749.9" r="0.7"/><circle cx="241.7" cy="748.9" r="0.7"/><circle cx="246.8" cy="741.0" r="0.7"/><circle cx="251.9" cy="743.0" r="0.7"/><circle cx="257.0" cy="737.2" r="0.7"/><circle cx="262.0" cy="740.4" r="0.7"/><circle cx="267.1" cy="735.6" r="0.7"/><circle cx="272.2" cy="736.1" r="0.7"/><circle cx="277.3" cy="733.0" r="0.7"/><circle cx="282.4" cy="734.6" r="0.7"/><circle cx="287.5" cy="734.6" r="0.7"/><circle cx="292.6" cy="736.0" r="0.7"/><circle cx="297.7" cy="739.3" r="0.7"/><circle cx="302.8" cy="739.3" r="0.7"/><circle cx="307.9" cy="735.4" r="0.7"/><circle cx="313.0" cy="735.6" r="0.7"/><circle cx="318.1" cy="735.2" r="0.7"/><circle cx="323.2" cy="736.6" r="0.7"/></g>
<polyline points="78.6,823.3 83.7,823.3 88.8,823.3 93.9,823.3 99.0,823.3 104.1,823.3 109.2,823.3 114.3,823.3 119.4,823.3 124.5,823.3 129.6,823.3 134.7,823.3 139.8,823.3 144.8,823.3 149.9,823.3 155.0,823.3 160.1,823.3 165.2,823.3 170.3,823.3 175.4,823.3 180.5,823.3 185.6,823.3 190.7,822.9 195.8,820.8 200.9,816.3 206.0,811.4 211.1,804.5 216.2,795.9 221.3,789.5 226.4,782.8 231.5,775.4 236.6,768.9 241.7,764.6 246.8,756.2 251.9,755.2 257.0,754.2 262.0,752.9 267.1,747.4 272.2,748.1 277.3,745.5 282.4,743.8 287.5,747.2 292.6,747.0 297.7,747.2 302.8,744.6 307.9,746.6 313.0,744.4 318.1,741.8 323.2,749.3" fill="none" stroke="#48b8e8" stroke-width="0.55"/>
<g fill="#48b8e8"><circle cx="78.6" cy="823.3" r="0.7"/><circle cx="83.7" cy="823.3" r="0.7"/><circle cx="88.8" cy="823.3" r="0.7"/><circle cx="93.9" cy="823.3" r="0.7"/><circle cx="99.0" cy="823.3" r="0.7"/><circle cx="104.1" cy="823.3" r="0.7"/><circle cx="109.2" cy="823.3" r="0.7"/><circle cx="114.3" cy="823.3" r="0.7"/><circle cx="119.4" cy="823.3" r="0.7"/><circle cx="124.5" cy="823.3" r="0.7"/><circle cx="129.6" cy="823.3" r="0.7"/><circle cx="134.7" cy="823.3" r="0.7"/><circle cx="139.8" cy="823.3" r="0.7"/><circle cx="144.8" cy="823.3" r="0.7"/><circle cx="149.9" cy="823.3" r="0.7"/><circle cx="155.0" cy="823.3" r="0.7"/><circle cx="160.1" cy="823.3" r="0.7"/><circle cx="165.2" cy="823.3" r="0.7"/><circle cx="170.3" cy="823.3" r="0.7"/><circle cx="175.4" cy="823.3" r="0.7"/><circle cx="180.5" cy="823.3" r="0.7"/><circle cx="185.6" cy="823.3" r="0.7"/><circle cx="190.7" cy="822.9" r="0.7"/><circle cx="195.8" cy="820.8" r="0.7"/><circle cx="200.9" cy="816.3" r="0.7"/><circle cx="206.0" cy="811.4" r="0.7"/><circle cx="211.1" cy="804.5" r="0.7"/><circle cx="216.2" cy="795.9" r="0.7"/><circle cx="221.3" cy="789.5" r="0.7"/><circle cx="226.4" cy="782.8" r="0.7"/><circle cx="231.5" cy="775.4" r="0.7"/><circle cx="236.6" cy="768.9" r="0.7"/><circle cx="241.7" cy="764.6" r="0.7"/><circle cx="246.8" cy="756.2" r="0.7"/><circle cx="251.9" cy="755.2" r="0.7"/><circle cx="257.0" cy="754.2" r="0.7"/><circle cx="262.0" cy="752.9" r="0.7"/><circle cx="267.1" cy="747.4" r="0.7"/><circle cx="272.2" cy="748.1" r="0.7"/><circle cx="277.3" cy="745.5" r="0.7"/><circle cx="282.4" cy="743.8" r="0.7"/><circle cx="287.5" cy="747.2" r="0.7"/><circle cx="292.6" cy="747.0" r="0.7"/><circle cx="297.7" cy="747.2" r="0.7"/><circle cx="302.8" cy="744.6" r="0.7"/><circle cx="307.9" cy="746.6" r="0.7"/><circle cx="313.0" cy="744.4" r="0.7"/><circle cx="318.1" cy="741.8" r="0.7"/><circle cx="323.2" cy="749.3" r="0.7"/></g>
<polyline points="78.6,823.3 83.7,823.3 88.8,823.3 93.9,823.3 99.0,823.3 104.1,823.3 109.2,823.3 114.3,823.3 119.4,823.3 124.5,823.3 129.6,823.3 134.7,823.3 139.8,823.3 144.8,823.3 149.9,823.3 155.0,823.3 160.1,823.3 165.2,823.3 170.3,823.3 175.4,823.3 180.5,823.3 185.6,823.1 190.7,820.7 195.8,816.2 200.9,808.8 206.0,801.5 211.1,792.3 216.2,781.4 221.3,774.7 226.4,766.5 231.5,754.6 236.6,748.9 241.7,746.7 246.8,737.7 251.9,737.8 257.0,731.9 262.0,735.7 267.1,727.8 272.2,727.7 277.3,726.9 282.4,727.2 287.5,729.7 292.6,729.5 297.7,733.6 302.8,732.4 307.9,734.4 313.0,733.6 318.1,727.8 323.2,733.8" fill="none" stroke="#48b8e8" stroke-width="0.55"/>
<g fill="#48b8e8"><circle cx="78.6" cy="823.3" r="0.7"/><circle cx="83.7" cy="823.3" r="0.7"/><circle cx="88.8" cy="823.3" r="0.7"/><circle cx="93.9" cy="823.3" r="0.7"/><circle cx="99.0" cy="823.3" r="0.7"/><circle cx="104.1" cy="823.3" r="0.7"/><circle cx="109.2" cy="823.3" r="0.7"/><circle cx="114.3" cy="823.3" r="0.7"/><circle cx="119.4" cy="823.3" r="0.7"/><circle cx="124.5" cy="823.3" r="0.7"/><circle cx="129.6" cy="823.3" r="0.7"/><circle cx="134.7" cy="823.3" r="0.7"/><circle cx="139.8" cy="823.3" r="0.7"/><circle cx="144.8" cy="823.3" r="0.7"/><circle cx="149.9" cy="823.3" r="0.7"/><circle cx="155.0" cy="823.3" r="0.7"/><circle cx="160.1" cy="823.3" r="0.7"/><circle cx="165.2" cy="823.3" r="0.7"/><circle cx="170.3" cy="823.3" r="0.7"/><circle cx="175.4" cy="823.3" r="0.7"/><circle cx="180.5" cy="823.3" r="0.7"/><circle cx="185.6" cy="823.1" r="0.7"/><circle cx="190.7" cy="820.7" r="0.7"/><circle cx="195.8" cy="816.2" r="0.7"/><circle cx="200.9" cy="808.8" r="0.7"/><circle cx="206.0" cy="801.5" r="0.7"/><circle cx="211.1" cy="792.3" r="0.7"/><circle cx="216.2" cy="781.4" r="0.7"/><circle cx="221.3" cy="774.7" r="0.7"/><circle cx="226.4" cy="766.5" r="0.7"/><circle cx="231.5" cy="754.6" r="0.7"/><circle cx="236.6" cy="748.9" r="0.7"/><circle cx="241.7" cy="746.7" r="0.7"/><circle cx="246.8" cy="737.7" r="0.7"/><circle cx="251.9" cy="737.8" r="0.7"/><circle cx="257.0" cy="731.9" r="0.7"/><circle cx="262.0" cy="735.7" r="0.7"/><circle cx="267.1" cy="727.8" r="0.7"/><circle cx="272.2" cy="727.7" r="0.7"/><circle cx="277.3" cy="726.9" r="0.7"/><circle cx="282.4" cy="727.2" r="0.7"/><circle cx="287.5" cy="729.7" r="0.7"/><circle cx="292.6" cy="729.5" r="0.7"/><circle cx="297.7" cy="733.6" r="0.7"/><circle cx="302.8" cy="732.4" r="0.7"/><circle cx="307.9" cy="734.4" r="0.7"/><circle cx="313.0" cy="733.6" r="0.7"/><circle cx="318.1" cy="727.8" r="0.7"/><circle cx="323.2" cy="733.8" r="0.7"/></g>
<polyline points="78.6,823.3 83.7,823.3 88.8,823.3 93.9,823.3 99.0,823.3 104.1,823.3 109.2,823.3 114.3,823.3 119.4,823.3 124.5,823.3 129.6,823.3 134.7,823.3 139.8,823.3 144.8,823.3 149.9,823.3 155.0,823.3 160.1,823.3 165.2,823.3 170.3,823.3 175.4,822.4 180.5,819.3 185.6,814.6 190.7,807.7 195.8,801.9 200.9,793.7 206.0,787.2 211.1,778.8 216.2,769.9 221.3,766.9 226.4,761.4 231.5,753.2 236.6,751.7 241.7,752.6 246.8,746.8 251.9,745.3 257.0,743.2 262.0,743.1 267.1,740.1 272.2,739.9 277.3,737.3 282.4,739.9 287.5,743.4 292.6,742.7 297.7,744.2 302.8,742.3 307.9,743.6 313.0,744.4 318.1,738.5 323.2,744.0" fill="none" stroke="#48b8e8" stroke-width="0.55"/>
<g fill="#48b8e8"><circle cx="78.6" cy="823.3" r="0.7"/><circle cx="83.7" cy="823.3" r="0.7"/><circle cx="88.8" cy="823.3" r="0.7"/><circle cx="93.9" cy="823.3" r="0.7"/><circle cx="99.0" cy="823.3" r="0.7"/><circle cx="104.1" cy="823.3" r="0.7"/><circle cx="109.2" cy="823.3" r="0.7"/><circle cx="114.3" cy="823.3" r="0.7"/><circle cx="119.4" cy="823.3" r="0.7"/><circle cx="124.5" cy="823.3" r="0.7"/><circle cx="129.6" cy="823.3" r="0.7"/><circle cx="134.7" cy="823.3" r="0.7"/><circle cx="139.8" cy="823.3" r="0.7"/><circle cx="144.8" cy="823.3" r="0.7"/><circle cx="149.9" cy="823.3" r="0.7"/><circle cx="155.0" cy="823.3" r="0.7"/><circle cx="160.1" cy="823.3" r="0.7"/><circle cx="165.2" cy="823.3" r="0.7"/><circle cx="170.3" cy="823.3" r="0.7"/><circle cx="175.4" cy="822.4" r="0.7"/><circle cx="180.5" cy="819.3" r="0.7"/><circle cx="185.6" cy="814.6" r="0.7"/><circle cx="190.7" cy="807.7" r="0.7"/><circle cx="195.8" cy="801.9" r="0.7"/><circle cx="200.9" cy="793.7" r="0.7"/><circle cx="206.0" cy="787.2" r="0.7"/><circle cx="211.1" cy="778.8" r="0.7"/><circle cx="216.2" cy="769.9" r="0.7"/><circle cx="221.3" cy="766.9" r="0.7"/><circle cx="226.4" cy="761.4" r="0.7"/><circle cx="231.5" cy="753.2" r="0.7"/><circle cx="236.6" cy="751.7" r="0.7"/><circle cx="241.7" cy="752.6" r="0.7"/><circle cx="246.8" cy="746.8" r="0.7"/><circle cx="251.9" cy="745.3" r="0.7"/><circle cx="257.0" cy="743.2" r="0.7"/><circle cx="262.0" cy="743.1" r="0.7"/><circle cx="267.1" cy="740.1" r="0.7"/><circle cx="272.2" cy="739.9" r="0.7"/><circle cx="277.3" cy="737.3" r="0.7"/><circle cx="282.4" cy="739.9" r="0.7"/><circle cx="287.5" cy="743.4" r="0.7"/><circle cx="292.6" cy="742.7" r="0.7"/><circle cx="297.7" cy="744.2" r="0.7"/><circle cx="302.8" cy="742.3" r="0.7"/><circle cx="307.9" cy="743.6" r="0.7"/><circle cx="313.0" cy="744.4" r="0.7"/><circle cx="318.1" cy="738.5" r="0.7"/><circle cx="323.2" cy="744.0" r="0.7"/></g>
<polyline points="78.6,823.3 83.7,823.3 88.8,823.3 93.9,823.3 99.0,823.3 104.1,823.3 109.2,823.3 114.3,823.3 119.4,823.3 124.5,823.3 129.6,823.3 134.7,823.3 139.8,823.3 144.8,823.3 149.9,823.3 155.0,823.3 160.1,823.3 165.2,823.3 170.3,823.3 175.4,823.3 180.5,823.3 185.6,823.2 190.7,821.2 195.8,817.3 200.9,811.7 206.0,805.0 211.1,798.1 216.2,788.0 221.3,782.3 226.4,775.0 231.5,764.0 236.6,757.6 241.7,753.4 246.8,746.4 251.9,745.1 257.0,740.4 262.0,740.8 267.1,735.6 272.2,736.3 277.3,731.4 282.4,732.6 287.5,737.6 292.6,736.1 297.7,736.0 302.8,734.1 307.9,734.6 313.0,733.9 318.1,730.1 323.2,736.5" fill="none" stroke="#48b8e8" stroke-width="0.55"/>
<g fill="#48b8e8"><circle cx="78.6" cy="823.3" r="0.7"/><circle cx="83.7" cy="823.3" r="0.7"/><circle cx="88.8" cy="823.3" r="0.7"/><circle cx="93.9" cy="823.3" r="0.7"/><circle cx="99.0" cy="823.3" r="0.7"/><circle cx="104.1" cy="823.3" r="0.7"/><circle cx="109.2" cy="823.3" r="0.7"/><circle cx="114.3" cy="823.3" r="0.7"/><circle cx="119.4" cy="823.3" r="0.7"/><circle cx="124.5" cy="823.3" r="0.7"/><circle cx="129.6" cy="823.3" r="0.7"/><circle cx="134.7" cy="823.3" r="0.7"/><circle cx="139.8" cy="823.3" r="0.7"/><circle cx="144.8" cy="823.3" r="0.7"/><circle cx="149.9" cy="823.3" r="0.7"/><circle cx="155.0" cy="823.3" r="0.7"/><circle cx="160.1" cy="823.3" r="0.7"/><circle cx="165.2" cy="823.3" r="0.7"/><circle cx="170.3" cy="823.3" r="0.7"/><circle cx="175.4" cy="823.3" r="0.7"/><circle cx="180.5" cy="823.3" r="0.7"/><circle cx="185.6" cy="823.2" r="0.7"/><circle cx="190.7" cy="821.2" r="0.7"/><circle cx="195.8" cy="817.3" r="0.7"/><circle cx="200.9" cy="811.7" r="0.7"/><circle cx="206.0" cy="805.0" r="0.7"/><circle cx="211.1" cy="798.1" r="0.7"/><circle cx="216.2" cy="788.0" r="0.7"/><circle cx="221.3" cy="782.3" r="0.7"/><circle cx="226.4" cy="775.0" r="0.7"/><circle cx="231.5" cy="764.0" r="0.7"/><circle cx="236.6" cy="757.6" r="0.7"/><circle cx="241.7" cy="753.4" r="0.7"/><circle cx="246.8" cy="746.4" r="0.7"/><circle cx="251.9" cy="745.1" r="0.7"/><circle cx="257.0" cy="740.4" r="0.7"/><circle cx="262.0" cy="740.8" r="0.7"/><circle cx="267.1" cy="735.6" r="0.7"/><circle cx="272.2" cy="736.3" r="0.7"/><circle cx="277.3" cy="731.4" r="0.7"/><circle cx="282.4" cy="732.6" r="0.7"/><circle cx="287.5" cy="737.6" r="0.7"/><circle cx="292.6" cy="736.1" r="0.7"/><circle cx="297.7" cy="736.0" r="0.7"/><circle cx="302.8" cy="734.1" r="0.7"/><circle cx="307.9" cy="734.6" r="0.7"/><circle cx="313.0" cy="733.9" r="0.7"/><circle cx="318.1" cy="730.1" r="0.7"/><circle cx="323.2" cy="736.5" r="0.7"/></g>
<polyline points="78.6,823.3 83.7,823.3 88.8,823.3 93.9,823.3 99.0,823.3 104.1,823.3 109.2,823.3 114.3,823.3 119.4,823.3 124.5,823.3 129.6,823.3 134.7,823.3 139.8,823.3 144.8,823.3 149.9,823.3 155.0,823.3 160.1,823.3 165.2,823.3 170.3,823.3 175.4,823.3 180.5,823.3 185.6,823.3 190.7,822.7 195.8,820.3 200.9,815.9 206.0,810.1 211.1,804.2 216.2,795.1 221.3,789.8 226.4,782.9 231.5,773.2 236.6,765.0 241.7,764.4 246.8,753.7 251.9,751.4 257.0,748.1 262.0,749.7 267.1,741.4 272.2,740.2 277.3,738.8 282.4,740.1 287.5,740.9 292.6,738.3 297.7,740.9 302.8,743.0 307.9,743.0 313.0,739.3 318.1,740.3 323.2,744.0" fill="none" stroke="#48b8e8" stroke-width="0.55"/>
<g fill="#48b8e8"><circle cx="78.6" cy="823.3" r="0.7"/><circle cx="83.7" cy="823.3" r="0.7"/><circle cx="88.8" cy="823.3" r="0.7"/><circle cx="93.9" cy="823.3" r="0.7"/><circle cx="99.0" cy="823.3" r="0.7"/><circle cx="104.1" cy="823.3" r="0.7"/><circle cx="109.2" cy="823.3" r="0.7"/><circle cx="114.3" cy="823.3" r="0.7"/><circle cx="119.4" cy="823.3" r="0.7"/><circle cx="124.5" cy="823.3" r="0.7"/><circle cx="129.6" cy="823.3" r="0.7"/><circle cx="134.7" cy="823.3" r="0.7"/><circle cx="139.8" cy="823.3" r="0.7"/><circle cx="144.8" cy="823.3" r="0.7"/><circle cx="149.9" cy="823.3" r="0.7"/><circle cx="155.0" cy="823.3" r="0.7"/><circle cx="160.1" cy="823.3" r="0.7"/><circle cx="165.2" cy="823.3" r="0.7"/><circle cx="170.3" cy="823.3" r="0.7"/><circle cx="175.4" cy="823.3" r="0.7"/><circle cx="180.5" cy="823.3" r="0.7"/><circle cx="185.6" cy="823.3" r="0.7"/><circle cx="190.7" cy="822.7" r="0.7"/><circle cx="195.8" cy="820.3" r="0.7"/><circle cx="200.9" cy="815.9" r="0.7"/><circle cx="206.0" cy="810.1" r="0.7"/><circle cx="211.1" cy="804.2" r="0.7"/><circle cx="216.2" cy="795.1" r="0.7"/><circle cx="221.3" cy="789.8" r="0.7"/><circle cx="226.4" cy="782.9" r="0.7"/><circle cx="231.5" cy="773.2" r="0.7"/><circle cx="236.6" cy="765.0" r="0.7"/><circle cx="241.7" cy="764.4" r="0.7"/><circle cx="246.8" cy="753.7" r="0.7"/><circle cx="251.9" cy="751.4" r="0.7"/><circle cx="257.0" cy="748.1" r="0.7"/><circle cx="262.0" cy="749.7" r="0.7"/><circle cx="267.1" cy="741.4" r="0.7"/><circle cx="272.2" cy="740.2" r="0.7"/><circle cx="277.3" cy="738.8" r="0.7"/><circle cx="282.4" cy="740.1" r="0.7"/><circle cx="287.5" cy="740.9" r="0.7"/><circle cx="292.6" cy="738.3" r="0.7"/><circle cx="297.7" cy="740.9" r="0.7"/><circle cx="302.8" cy="743.0" r="0.7"/><circle cx="307.9" cy="743.0" r="0.7"/><circle cx="313.0" cy="739.3" r="0.7"/><circle cx="318.1" cy="740.3" r="0.7"/><circle cx="323.2" cy="744.0" r="0.7"/></g>
<polyline points="78.6,823.3 83.7,823.3 88.8,823.3 93.9,823.3 99.0,823.3 104.1,823.3 109.2,823.3 114.3,823.3 119.4,823.3 124.5,823.3 129.6,823.3 134.7,823.3 139.8,823.3 144.8,823.3 149.9,823.3 155.0,823.3 160.1,823.3 165.2,823.3 170.3,823.3 175.4,823.3 180.5,823.3 185.6,823.3 190.7,823.3 195.8,822.3 200.9,818.8 206.0,813.3 211.1,806.6 216.2,797.5 221.3,790.7 226.4,782.0 231.5,769.4 236.6,763.3 241.7,759.9 246.8,747.4 251.9,744.3 257.0,743.1 262.0,742.5 267.1,732.8 272.2,734.0 277.3,730.3 282.4,728.4 287.5,733.7 292.6,730.9 297.7,733.8 302.8,733.5 307.9,731.9 313.0,730.8 318.1,725.9 323.2,734.0" fill="none" stroke="#48b8e8" stroke-width="0.55"/>
<g fill="#48b8e8"><circle cx="78.6" cy="823.3" r="0.7"/><circle cx="83.7" cy="823.3" r="0.7"/><circle cx="88.8" cy="823.3" r="0.7"/><circle cx="93.9" cy="823.3" r="0.7"/><circle cx="99.0" cy="823.3" r="0.7"/><circle cx="104.1" cy="823.3" r="0.7"/><circle cx="109.2" cy="823.3" r="0.7"/><circle cx="114.3" cy="823.3" r="0.7"/><circle cx="119.4" cy="823.3" r="0.7"/><circle cx="124.5" cy="823.3" r="0.7"/><circle cx="129.6" cy="823.3" r="0.7"/><circle cx="134.7" cy="823.3" r="0.7"/><circle cx="139.8" cy="823.3" r="0.7"/><circle cx="144.8" cy="823.3" r="0.7"/><circle cx="149.9" cy="823.3" r="0.7"/><circle cx="155.0" cy="823.3" r="0.7"/><circle cx="160.1" cy="823.3" r="0.7"/><circle cx="165.2" cy="823.3" r="0.7"/><circle cx="170.3" cy="823.3" r="0.7"/><circle cx="175.4" cy="823.3" r="0.7"/><circle cx="180.5" cy="823.3" r="0.7"/><circle cx="185.6" cy="823.3" r="0.7"/><circle cx="190.7" cy="823.3" r="0.7"/><circle cx="195.8" cy="822.3" r="0.7"/><circle cx="200.9" cy="818.8" r="0.7"/><circle cx="206.0" cy="813.3" r="0.7"/><circle cx="211.1" cy="806.6" r="0.7"/><circle cx="216.2" cy="797.5" r="0.7"/><circle cx="221.3" cy="790.7" r="0.7"/><circle cx="226.4" cy="782.0" r="0.7"/><circle cx="231.5" cy="769.4" r="0.7"/><circle cx="236.6" cy="763.3" r="0.7"/><circle cx="241.7" cy="759.9" r="0.7"/><circle cx="246.8" cy="747.4" r="0.7"/><circle cx="251.9" cy="744.3" r="0.7"/><circle cx="257.0" cy="743.1" r="0.7"/><circle cx="262.0" cy="742.5" r="0.7"/><circle cx="267.1" cy="732.8" r="0.7"/><circle cx="272.2" cy="734.0" r="0.7"/><circle cx="277.3" cy="730.3" r="0.7"/><circle cx="282.4" cy="728.4" r="0.7"/><circle cx="287.5" cy="733.7" r="0.7"/><circle cx="292.6" cy="730.9" r="0.7"/><circle cx="297.7" cy="733.8" r="0.7"/><circle cx="302.8" cy="733.5" r="0.7"/><circle cx="307.9" cy="731.9" r="0.7"/><circle cx="313.0" cy="730.8" r="0.7"/><circle cx="318.1" cy="725.9" r="0.7"/><circle cx="323.2" cy="734.0" r="0.7"/></g>
<polyline points="78.6,823.3 83.7,823.3 88.8,823.3 93.9,823.3 99.0,823.3 104.1,823.3 109.2,823.3 114.3,823.3 119.4,823.3 124.5,823.3 129.6,823.3 134.7,823.3 139.8,823.3 144.8,823.3 149.9,823.3 155.0,823.3 160.1,823.3 165.2,823.3 170.3,823.3 175.4,823.3 180.5,823.2 185.6,821.3 190.7,816.3 195.8,810.1 200.9,800.7 206.0,792.8 211.1,782.6 216.2,771.9 221.3,763.9 226.4,755.8 231.5,745.4 236.6,743.6 241.7,739.1 246.8,734.1 251.9,731.9 257.0,731.5 262.0,732.8 267.1,728.7 272.2,726.9 277.3,726.9 282.4,724.2 287.5,728.9 292.6,730.0 297.7,733.4 302.8,732.2 307.9,731.8 313.0,730.5 318.1,727.2 323.2,734.4" fill="none" stroke="#48b8e8" stroke-width="0.55"/>
<g fill="#48b8e8"><circle cx="78.6" cy="823.3" r="0.7"/><circle cx="83.7" cy="823.3" r="0.7"/><circle cx="88.8" cy="823.3" r="0.7"/><circle cx="93.9" cy="823.3" r="0.7"/><circle cx="99.0" cy="823.3" r="0.7"/><circle cx="104.1" cy="823.3" r="0.7"/><circle cx="109.2" cy="823.3" r="0.7"/><circle cx="114.3" cy="823.3" r="0.7"/><circle cx="119.4" cy="823.3" r="0.7"/><circle cx="124.5" cy="823.3" r="0.7"/><circle cx="129.6" cy="823.3" r="0.7"/><circle cx="134.7" cy="823.3" r="0.7"/><circle cx="139.8" cy="823.3" r="0.7"/><circle cx="144.8" cy="823.3" r="0.7"/><circle cx="149.9" cy="823.3" r="0.7"/><circle cx="155.0" cy="823.3" r="0.7"/><circle cx="160.1" cy="823.3" r="0.7"/><circle cx="165.2" cy="823.3" r="0.7"/><circle cx="170.3" cy="823.3" r="0.7"/><circle cx="175.4" cy="823.3" r="0.7"/><circle cx="180.5" cy="823.2" r="0.7"/><circle cx="185.6" cy="821.3" r="0.7"/><circle cx="190.7" cy="816.3" r="0.7"/><circle cx="195.8" cy="810.1" r="0.7"/><circle cx="200.9" cy="800.7" r="0.7"/><circle cx="206.0" cy="792.8" r="0.7"/><circle cx="211.1" cy="782.6" r="0.7"/><circle cx="216.2" cy="771.9" r="0.7"/><circle cx="221.3" cy="763.9" r="0.7"/><circle cx="226.4" cy="755.8" r="0.7"/><circle cx="231.5" cy="745.4" r="0.7"/><circle cx="236.6" cy="743.6" r="0.7"/><circle cx="241.7" cy="739.1" r="0.7"/><circle cx="246.8" cy="734.1" r="0.7"/><circle cx="251.9" cy="731.9" r="0.7"/><circle cx="257.0" cy="731.5" r="0.7"/><circle cx="262.0" cy="732.8" r="0.7"/><circle cx="267.1" cy="728.7" r="0.7"/><circle cx="272.2" cy="726.9" r="0.7"/><circle cx="277.3" cy="726.9" r="0.7"/><circle cx="282.4" cy="724.2" r="0.7"/><circle cx="287.5" cy="728.9" r="0.7"/><circle cx="292.6" cy="730.0" r="0.7"/><circle cx="297.7" cy="733.4" r="0.7"/><circle cx="302.8" cy="732.2" r="0.7"/><circle cx="307.9" cy="731.8" r="0.7"/><circle cx="313.0" cy="730.5" r="0.7"/><circle cx="318.1" cy="727.2" r="0.7"/><circle cx="323.2" cy="734.4" r="0.7"/></g>
<polyline points="78.6,823.3 83.7,823.3 88.8,823.3 93.9,823.3 99.0,823.3 104.1,823.3 109.2,823.3 114.3,823.3 119.4,823.3 124.5,823.3 129.6,823.3 134.7,823.3 139.8,823.3 144.8,823.3 149.9,823.3 155.0,823.3 160.1,823.3 165.2,823.3 170.3,823.3 175.4,823.3 180.5,823.3 185.6,823.3 190.7,823.3 195.8,823.0 200.9,819.9 206.0,814.7 211.1,807.8 216.2,797.7 221.3,790.0 226.4,780.9 231.5,767.5 236.6,761.5 241.7,757.3 246.8,746.1 251.9,745.8 257.0,737.9 262.0,738.7 267.1,730.9 272.2,731.7 277.3,728.8 282.4,731.0 287.5,733.4 292.6,732.9 297.7,733.8 302.8,730.8 307.9,733.8 313.0,730.1 318.1,729.0 323.2,735.8" fill="none" stroke="#48b8e8" stroke-width="0.55"/>
<g fill="#48b8e8"><circle cx="78.6" cy="823.3" r="0.7"/><circle cx="83.7" cy="823.3" r="0.7"/><circle cx="88.8" cy="823.3" r="0.7"/><circle cx="93.9" cy="823.3" r="0.7"/><circle cx="99.0" cy="823.3" r="0.7"/><circle cx="104.1" cy="823.3" r="0.7"/><circle cx="109.2" cy="823.3" r="0.7"/><circle cx="114.3" cy="823.3" r="0.7"/><circle cx="119.4" cy="823.3" r="0.7"/><circle cx="124.5" cy="823.3" r="0.7"/><circle cx="129.6" cy="823.3" r="0.7"/><circle cx="134.7" cy="823.3" r="0.7"/><circle cx="139.8" cy="823.3" r="0.7"/><circle cx="144.8" cy="823.3" r="0.7"/><circle cx="149.9" cy="823.3" r="0.7"/><circle cx="155.0" cy="823.3" r="0.7"/><circle cx="160.1" cy="823.3" r="0.7"/><circle cx="165.2" cy="823.3" r="0.7"/><circle cx="170.3" cy="823.3" r="0.7"/><circle cx="175.4" cy="823.3" r="0.7"/><circle cx="180.5" cy="823.3" r="0.7"/><circle cx="185.6" cy="823.3" r="0.7"/><circle cx="190.7" cy="823.3" r="0.7"/><circle cx="195.8" cy="823.0" r="0.7"/><circle cx="200.9" cy="819.9" r="0.7"/><circle cx="206.0" cy="814.7" r="0.7"/><circle cx="211.1" cy="807.8" r="0.7"/><circle cx="216.2" cy="797.7" r="0.7"/><circle cx="221.3" cy="790.0" r="0.7"/><circle cx="226.4" cy="780.9" r="0.7"/><circle cx="231.5" cy="767.5" r="0.7"/><circle cx="236.6" cy="761.5" r="0.7"/><circle cx="241.7" cy="757.3" r="0.7"/><circle cx="246.8" cy="746.1" r="0.7"/><circle cx="251.9" cy="745.8" r="0.7"/><circle cx="257.0" cy="737.9" r="0.7"/><circle cx="262.0" cy="738.7" r="0.7"/><circle cx="267.1" cy="730.9" r="0.7"/><circle cx="272.2" cy="731.7" r="0.7"/><circle cx="277.3" cy="728.8" r="0.7"/><circle cx="282.4" cy="731.0" r="0.7"/><circle cx="287.5" cy="733.4" r="0.7"/><circle cx="292.6" cy="732.9" r="0.7"/><circle cx="297.7" cy="733.8" r="0.7"/><circle cx="302.8" cy="730.8" r="0.7"/><circle cx="307.9" cy="733.8" r="0.7"/><circle cx="313.0" cy="730.1" r="0.7"/><circle cx="318.1" cy="729.0" r="0.7"/><circle cx="323.2" cy="735.8" r="0.7"/></g>
<polyline points="78.6,823.3 83.7,823.3 88.8,823.3 93.9,823.3 99.0,823.3 104.1,823.3 109.2,823.3 114.3,823.3 119.4,823.3 124.5,823.3 129.6,823.3 134.7,823.3 139.8,823.3 144.8,823.3 149.9,823.3 155.0,823.3 160.1,823.3 165.2,823.3 170.3,823.3 175.4,823.3 180.5,823.3 185.6,823.3 190.7,822.0 195.8,817.2 200.9,808.8 206.0,799.7 211.1,790.2 216.2,776.8 221.3,768.1 226.4,760.4 231.5,751.2 236.6,746.7 241.7,744.1 246.8,737.7 251.9,739.5 257.0,736.4 262.0,738.7 267.1,732.5 272.2,732.3 277.3,733.0 282.4,732.4 287.5,735.7 292.6,734.6 297.7,738.0 302.8,737.9 307.9,734.7 313.0,737.3 318.1,732.4 323.2,738.3" fill="none" stroke="#48b8e8" stroke-width="0.55"/>
<g fill="#48b8e8"><circle cx="78.6" cy="823.3" r="0.7"/><circle cx="83.7" cy="823.3" r="0.7"/><circle cx="88.8" cy="823.3" r="0.7"/><circle cx="93.9" cy="823.3" r="0.7"/><circle cx="99.0" cy="823.3" r="0.7"/><circle cx="104.1" cy="823.3" r="0.7"/><circle cx="109.2" cy="823.3" r="0.7"/><circle cx="114.3" cy="823.3" r="0.7"/><circle cx="119.4" cy="823.3" r="0.7"/><circle cx="124.5" cy="823.3" r="0.7"/><circle cx="129.6" cy="823.3" r="0.7"/><circle cx="134.7" cy="823.3" r="0.7"/><circle cx="139.8" cy="823.3" r="0.7"/><circle cx="144.8" cy="823.3" r="0.7"/><circle cx="149.9" cy="823.3" r="0.7"/><circle cx="155.0" cy="823.3" r="0.7"/><circle cx="160.1" cy="823.3" r="0.7"/><circle cx="165.2" cy="823.3" r="0.7"/><circle cx="170.3" cy="823.3" r="0.7"/><circle cx="175.4" cy="823.3" r="0.7"/><circle cx="180.5" cy="823.3" r="0.7"/><circle cx="185.6" cy="823.3" r="0.7"/><circle cx="190.7" cy="822.0" r="0.7"/><circle cx="195.8" cy="817.2" r="0.7"/><circle cx="200.9" cy="808.8" r="0.7"/><circle cx="206.0" cy="799.7" r="0.7"/><circle cx="211.1" cy="790.2" r="0.7"/><circle cx="216.2" cy="776.8" r="0.7"/><circle cx="221.3" cy="768.1" r="0.7"/><circle cx="226.4" cy="760.4" r="0.7"/><circle cx="231.5" cy="751.2" r="0.7"/><circle cx="236.6" cy="746.7" r="0.7"/><circle cx="241.7" cy="744.1" r="0.7"/><circle cx="246.8" cy="737.7" r="0.7"/><circle cx="251.9" cy="739.5" r="0.7"/><circle cx="257.0" cy="736.4" r="0.7"/><circle cx="262.0" cy="738.7" r="0.7"/><circle cx="267.1" cy="732.5" r="0.7"/><circle cx="272.2" cy="732.3" r="0.7"/><circle cx="277.3" cy="733.0" r="0.7"/><circle cx="282.4" cy="732.4" r="0.7"/><circle cx="287.5" cy="735.7" r="0.7"/><circle cx="292.6" cy="734.6" r="0.7"/><circle cx="297.7" cy="738.0" r="0.7"/><circle cx="302.8" cy="737.9" r="0.7"/><circle cx="307.9" cy="734.7" r="0.7"/><circle cx="313.0" cy="737.3" r="0.7"/><circle cx="318.1" cy="732.4" r="0.7"/><circle cx="323.2" cy="738.3" r="0.7"/></g>
<polyline points="78.6,823.3 83.7,823.3 88.8,823.3 93.9,823.3 99.0,823.3 104.1,823.3 109.2,823.3 114.3,823.3 119.4,823.3 124.5,823.3 129.6,823.3 134.7,823.3 139.8,823.3 144.8,823.3 149.9,823.3 155.0,823.3 160.1,823.3 165.2,823.3 170.3,823.3 175.4,823.3 180.5,823.3 185.6,823.2 190.7,821.1 195.8,816.7 200.9,809.2 206.0,801.6 211.1,793.7 216.2,784.1 221.3,776.2 226.4,767.7 231.5,758.6 236.6,753.7 241.7,753.3 246.8,745.6 251.9,743.9 257.0,743.3 262.0,746.6 267.1,741.2 272.2,738.1 277.3,737.2 282.4,736.2 287.5,743.3 292.6,743.0 297.7,741.1 302.8,742.4 307.9,742.6 313.0,742.2 318.1,737.7 323.2,741.0" fill="none" stroke="#48b8e8" stroke-width="0.55"/>
<g fill="#48b8e8"><circle cx="78.6" cy="823.3" r="0.7"/><circle cx="83.7" cy="823.3" r="0.7"/><circle cx="88.8" cy="823.3" r="0.7"/><circle cx="93.9" cy="823.3" r="0.7"/><circle cx="99.0" cy="823.3" r="0.7"/><circle cx="104.1" cy="823.3" r="0.7"/><circle cx="109.2" cy="823.3" r="0.7"/><circle cx="114.3" cy="823.3" r="0.7"/><circle cx="119.4" cy="823.3" r="0.7"/><circle cx="124.5" cy="823.3" r="0.7"/><circle cx="129.6" cy="823.3" r="0.7"/><circle cx="134.7" cy="823.3" r="0.7"/><circle cx="139.8" cy="823.3" r="0.7"/><circle cx="144.8" cy="823.3" r="0.7"/><circle cx="149.9" cy="823.3" r="0.7"/><circle cx="155.0" cy="823.3" r="0.7"/><circle cx="160.1" cy="823.3" r="0.7"/><circle cx="165.2" cy="823.3" r="0.7"/><circle cx="170.3" cy="823.3" r="0.7"/><circle cx="175.4" cy="823.3" r="0.7"/><circle cx="180.5" cy="823.3" r="0.7"/><circle cx="185.6" cy="823.2" r="0.7"/><circle cx="190.7" cy="821.1" r="0.7"/><circle cx="195.8" cy="816.7" r="0.7"/><circle cx="200.9" cy="809.2" r="0.7"/><circle cx="206.0" cy="801.6" r="0.7"/><circle cx="211.1" cy="793.7" r="0.7"/><circle cx="216.2" cy="784.1" r="0.7"/><circle cx="221.3" cy="776.2" r="0.7"/><circle cx="226.4" cy="767.7" r="0.7"/><circle cx="231.5" cy="758.6" r="0.7"/><circle cx="236.6" cy="753.7" r="0.7"/><circle cx="241.7" cy="753.3" r="0.7"/><circle cx="246.8" cy="745.6" r="0.7"/><circle cx="251.9" cy="743.9" r="0.7"/><circle cx="257.0" cy="743.3" r="0.7"/><circle cx="262.0" cy="746.6" r="0.7"/><circle cx="267.1" cy="741.2" r="0.7"/><circle cx="272.2" cy="738.1" r="0.7"/><circle cx="277.3" cy="737.2" r="0.7"/><circle cx="282.4" cy="736.2" r="0.7"/><circle cx="287.5" cy="743.3" r="0.7"/><circle cx="292.6" cy="743.0" r="0.7"/><circle cx="297.7" cy="741.1" r="0.7"/><circle cx="302.8" cy="742.4" r="0.7"/><circle cx="307.9" cy="742.6" r="0.7"/><circle cx="313.0" cy="742.2" r="0.7"/><circle cx="318.1" cy="737.7" r="0.7"/><circle cx="323.2" cy="741.0" r="0.7"/></g>
<polyline points="78.6,823.3 83.7,823.3 88.8,823.3 93.9,823.3 99.0,823.3 104.1,823.3 109.2,823.3 114.3,823.3 119.4,823.3 124.5,823.3 129.6,823.3 134.7,823.3 139.8,823.3 144.8,823.3 149.9,823.3 155.0,823.3 160.1,823.3 165.2,823.3 170.3,823.3 175.4,823.3 180.5,823.3 185.6,823.1 190.7,820.8 195.8,816.9 200.9,810.4 206.0,804.2 211.1,797.1 216.2,785.9 221.3,780.1 226.4,773.6 231.5,761.4 236.6,757.0 241.7,753.7 246.8,744.5 251.9,746.2 257.0,741.6 262.0,742.2 267.1,737.6 272.2,736.6 277.3,731.9 282.4,733.1 287.5,738.6 292.6,735.8 297.7,737.1 302.8,738.4 307.9,737.3 313.0,737.3 318.1,733.3 323.2,739.1" fill="none" stroke="#48b8e8" stroke-width="0.55"/>
<g fill="#48b8e8"><circle cx="78.6" cy="823.3" r="0.7"/><circle cx="83.7" cy="823.3" r="0.7"/><circle cx="88.8" cy="823.3" r="0.7"/><circle cx="93.9" cy="823.3" r="0.7"/><circle cx="99.0" cy="823.3" r="0.7"/><circle cx="104.1" cy="823.3" r="0.7"/><circle cx="109.2" cy="823.3" r="0.7"/><circle cx="114.3" cy="823.3" r="0.7"/><circle cx="119.4" cy="823.3" r="0.7"/><circle cx="124.5" cy="823.3" r="0.7"/><circle cx="129.6" cy="823.3" r="0.7"/><circle cx="134.7" cy="823.3" r="0.7"/><circle cx="139.8" cy="823.3" r="0.7"/><circle cx="144.8" cy="823.3" r="0.7"/><circle cx="149.9" cy="823.3" r="0.7"/><circle cx="155.0" cy="823.3" r="0.7"/><circle cx="160.1" cy="823.3" r="0.7"/><circle cx="165.2" cy="823.3" r="0.7"/><circle cx="170.3" cy="823.3" r="0.7"/><circle cx="175.4" cy="823.3" r="0.7"/><circle cx="180.5" cy="823.3" r="0.7"/><circle cx="185.6" cy="823.1" r="0.7"/><circle cx="190.7" cy="820.8" r="0.7"/><circle cx="195.8" cy="816.9" r="0.7"/><circle cx="200.9" cy="810.4" r="0.7"/><circle cx="206.0" cy="804.2" r="0.7"/><circle cx="211.1" cy="797.1" r="0.7"/><circle cx="216.2" cy="785.9" r="0.7"/><circle cx="221.3" cy="780.1" r="0.7"/><circle cx="226.4" cy="773.6" r="0.7"/><circle cx="231.5" cy="761.4" r="0.7"/><circle cx="236.6" cy="757.0" r="0.7"/><circle cx="241.7" cy="753.7" r="0.7"/><circle cx="246.8" cy="744.5" r="0.7"/><circle cx="251.9" cy="746.2" r="0.7"/><circle cx="257.0" cy="741.6" r="0.7"/><circle cx="262.0" cy="742.2" r="0.7"/><circle cx="267.1" cy="737.6" r="0.7"/><circle cx="272.2" cy="736.6" r="0.7"/><circle cx="277.3" cy="731.9" r="0.7"/><circle cx="282.4" cy="733.1" r="0.7"/><circle cx="287.5" cy="738.6" r="0.7"/><circle cx="292.6" cy="735.8" r="0.7"/><circle cx="297.7" cy="737.1" r="0.7"/><circle cx="302.8" cy="738.4" r="0.7"/><circle cx="307.9" cy="737.3" r="0.7"/><circle cx="313.0" cy="737.3" r="0.7"/><circle cx="318.1" cy="733.3" r="0.7"/><circle cx="323.2" cy="739.1" r="0.7"/></g>
<polyline points="78.6,823.3 83.7,823.3 88.8,823.3 93.9,823.3 99.0,823.3 104.1,823.3 109.2,823.3 114.3,823.3 119.4,823.3 124.5,823.3 129.6,823.3 134.7,823.3 139.8,823.3 144.8,823.3 149.9,823.3 155.0,823.3 160.1,823.3 165.2,823.3 170.3,823.3 175.4,823.3 180.5,822.9 185.6,820.7 190.7,816.6 195.8,812.0 200.9,806.0 206.0,799.9 211.1,794.5 216.2,785.3 221.3,782.3 226.4,776.5 231.5,769.2 236.6,765.9 241.7,765.0 246.8,761.3 251.9,762.0 257.0,759.2 262.0,758.0 267.1,757.5 272.2,757.2 277.3,755.5 282.4,755.0 287.5,755.9 292.6,758.3 297.7,759.4 302.8,759.8 307.9,758.9 313.0,756.1 318.1,755.8 323.2,757.8" fill="none" stroke="#48b8e8" stroke-width="0.55"/>
<g fill="#48b8e8"><circle cx="78.6" cy="823.3" r="0.7"/><circle cx="83.7" cy="823.3" r="0.7"/><circle cx="88.8" cy="823.3" r="0.7"/><circle cx="93.9" cy="823.3" r="0.7"/><circle cx="99.0" cy="823.3" r="0.7"/><circle cx="104.1" cy="823.3" r="0.7"/><circle cx="109.2" cy="823.3" r="0.7"/><circle cx="114.3" cy="823.3" r="0.7"/><circle cx="119.4" cy="823.3" r="0.7"/><circle cx="124.5" cy="823.3" r="0.7"/><circle cx="129.6" cy="823.3" r="0.7"/><circle cx="134.7" cy="823.3" r="0.7"/><circle cx="139.8" cy="823.3" r="0.7"/><circle cx="144.8" cy="823.3" r="0.7"/><circle cx="149.9" cy="823.3" r="0.7"/><circle cx="155.0" cy="823.3" r="0.7"/><circle cx="160.1" cy="823.3" r="0.7"/><circle cx="165.2" cy="823.3" r="0.7"/><circle cx="170.3" cy="823.3" r="0.7"/><circle cx="175.4" cy="823.3" r="0.7"/><circle cx="180.5" cy="822.9" r="0.7"/><circle cx="185.6" cy="820.7" r="0.7"/><circle cx="190.7" cy="816.6" r="0.7"/><circle cx="195.8" cy="812.0" r="0.7"/><circle cx="200.9" cy="806.0" r="0.7"/><circle cx="206.0" cy="799.9" r="0.7"/><circle cx="211.1" cy="794.5" r="0.7"/><circle cx="216.2" cy="785.3" r="0.7"/><circle cx="221.3" cy="782.3" r="0.7"/><circle cx="226.4" cy="776.5" r="0.7"/><circle cx="231.5" cy="769.2" r="0.7"/><circle cx="236.6" cy="765.9" r="0.7"/><circle cx="241.7" cy="765.0" r="0.7"/><circle cx="246.8" cy="761.3" r="0.7"/><circle cx="251.9" cy="762.0" r="0.7"/><circle cx="257.0" cy="759.2" r="0.7"/><circle cx="262.0" cy="758.0" r="0.7"/><circle cx="267.1" cy="757.5" r="0.7"/><circle cx="272.2" cy="757.2" r="0.7"/><circle cx="277.3" cy="755.5" r="0.7"/><circle cx="282.4" cy="755.0" r="0.7"/><circle cx="287.5" cy="755.9" r="0.7"/><circle cx="292.6" cy="758.3" r="0.7"/><circle cx="297.7" cy="759.4" r="0.7"/><circle cx="302.8" cy="759.8" r="0.7"/><circle cx="307.9" cy="758.9" r="0.7"/><circle cx="313.0" cy="756.1" r="0.7"/><circle cx="318.1" cy="755.8" r="0.7"/><circle cx="323.2" cy="757.8" r="0.7"/></g>
<polyline points="78.6,823.3 83.7,823.3 88.8,823.3 93.9,823.3 99.0,823.3 104.1,823.3 109.2,823.3 114.3,823.3 119.4,823.3 124.5,823.3 129.6,823.3 134.7,823.3 139.8,823.3 144.8,823.3 149.9,823.3 155.0,823.3 160.1,823.3 165.2,823.3 170.3,823.3 175.4,823.3 180.5,823.3 185.6,822.9 190.7,818.5 195.8,810.6 200.9,800.6 206.0,788.9 211.1,778.2 216.2,764.5 221.3,761.3 226.4,755.0 231.5,744.9 236.6,743.1 241.7,740.3 246.8,736.6 251.9,736.7 257.0,737.0 262.0,739.5 267.1,732.5 272.2,738.1 277.3,735.8 282.4,732.9 287.5,737.7 292.6,736.3 297.7,736.3 302.8,737.5 307.9,738.7 313.0,736.5 318.1,735.7 323.2,740.9" fill="none" stroke="#48b8e8" stroke-width="0.55"/>
<g fill="#48b8e8"><circle cx="78.6" cy="823.3" r="0.7"/><circle cx="83.7" cy="823.3" r="0.7"/><circle cx="88.8" cy="823.3" r="0.7"/><circle cx="93.9" cy="823.3" r="0.7"/><circle cx="99.0" cy="823.3" r="0.7"/><circle cx="104.1" cy="823.3" r="0.7"/><circle cx="109.2" cy="823.3" r="0.7"/><circle cx="114.3" cy="823.3" r="0.7"/><circle cx="119.4" cy="823.3" r="0.7"/><circle cx="124.5" cy="823.3" r="0.7"/><circle cx="129.6" cy="823.3" r="0.7"/><circle cx="134.7" cy="823.3" r="0.7"/><circle cx="139.8" cy="823.3" r="0.7"/><circle cx="144.8" cy="823.3" r="0.7"/><circle cx="149.9" cy="823.3" r="0.7"/><circle cx="155.0" cy="823.3" r="0.7"/><circle cx="160.1" cy="823.3" r="0.7"/><circle cx="165.2" cy="823.3" r="0.7"/><circle cx="170.3" cy="823.3" r="0.7"/><circle cx="175.4" cy="823.3" r="0.7"/><circle cx="180.5" cy="823.3" r="0.7"/><circle cx="185.6" cy="822.9" r="0.7"/><circle cx="190.7" cy="818.5" r="0.7"/><circle cx="195.8" cy="810.6" r="0.7"/><circle cx="200.9" cy="800.6" r="0.7"/><circle cx="206.0" cy="788.9" r="0.7"/><circle cx="211.1" cy="778.2" r="0.7"/><circle cx="216.2" cy="764.5" r="0.7"/><circle cx="221.3" cy="761.3" r="0.7"/><circle cx="226.4" cy="755.0" r="0.7"/><circle cx="231.5" cy="744.9" r="0.7"/><circle cx="236.6" cy="743.1" r="0.7"/><circle cx="241.7" cy="740.3" r="0.7"/><circle cx="246.8" cy="736.6" r="0.7"/><circle cx="251.9" cy="736.7" r="0.7"/><circle cx="257.0" cy="737.0" r="0.7"/><circle cx="262.0" cy="739.5" r="0.7"/><circle cx="267.1" cy="732.5" r="0.7"/><circle cx="272.2" cy="738.1" r="0.7"/><circle cx="277.3" cy="735.8" r="0.7"/><circle cx="282.4" cy="732.9" r="0.7"/><circle cx="287.5" cy="737.7" r="0.7"/><circle cx="292.6" cy="736.3" r="0.7"/><circle cx="297.7" cy="736.3" r="0.7"/><circle cx="302.8" cy="737.5" r="0.7"/><circle cx="307.9" cy="738.7" r="0.7"/><circle cx="313.0" cy="736.5" r="0.7"/><circle cx="318.1" cy="735.7" r="0.7"/><circle cx="323.2" cy="740.9" r="0.7"/></g>
<polyline points="78.6,823.3 83.7,823.3 88.8,823.3 93.9,823.3 99.0,823.3 104.1,823.3 109.2,823.3 114.3,823.3 119.4,823.3 124.5,823.3 129.6,823.3 134.7,823.3 139.8,823.3 144.8,823.3 149.9,823.3 155.0,823.3 160.1,823.3 165.2,823.3 170.3,821.2 175.4,815.9 180.5,808.8 185.6,800.3 190.7,791.5 195.8,783.6 200.9,774.6 206.0,771.5 211.1,768.7 216.2,760.9 221.3,759.4 226.4,757.4 231.5,754.0 236.6,752.7 241.7,756.9 246.8,751.3 251.9,752.6 257.0,751.8 262.0,755.0 267.1,751.3 272.2,754.8 277.3,752.3 282.4,752.1 287.5,756.3 292.6,756.0 297.7,753.2 302.8,754.4 307.9,755.2 313.0,753.5 318.1,751.2 323.2,755.1" fill="none" stroke="#48b8e8" stroke-width="0.55"/>
<g fill="#48b8e8"><circle cx="78.6" cy="823.3" r="0.7"/><circle cx="83.7" cy="823.3" r="0.7"/><circle cx="88.8" cy="823.3" r="0.7"/><circle cx="93.9" cy="823.3" r="0.7"/><circle cx="99.0" cy="823.3" r="0.7"/><circle cx="104.1" cy="823.3" r="0.7"/><circle cx="109.2" cy="823.3" r="0.7"/><circle cx="114.3" cy="823.3" r="0.7"/><circle cx="119.4" cy="823.3" r="0.7"/><circle cx="124.5" cy="823.3" r="0.7"/><circle cx="129.6" cy="823.3" r="0.7"/><circle cx="134.7" cy="823.3" r="0.7"/><circle cx="139.8" cy="823.3" r="0.7"/><circle cx="144.8" cy="823.3" r="0.7"/><circle cx="149.9" cy="823.3" r="0.7"/><circle cx="155.0" cy="823.3" r="0.7"/><circle cx="160.1" cy="823.3" r="0.7"/><circle cx="165.2" cy="823.3" r="0.7"/><circle cx="170.3" cy="821.2" r="0.7"/><circle cx="175.4" cy="815.9" r="0.7"/><circle cx="180.5" cy="808.8" r="0.7"/><circle cx="185.6" cy="800.3" r="0.7"/><circle cx="190.7" cy="791.5" r="0.7"/><circle cx="195.8" cy="783.6" r="0.7"/><circle cx="200.9" cy="774.6" r="0.7"/><circle cx="206.0" cy="771.5" r="0.7"/><circle cx="211.1" cy="768.7" r="0.7"/><circle cx="216.2" cy="760.9" r="0.7"/><circle cx="221.3" cy="759.4" r="0.7"/><circle cx="226.4" cy="757.4" r="0.7"/><circle cx="231.5" cy="754.0" r="0.7"/><circle cx="236.6" cy="752.7" r="0.7"/><circle cx="241.7" cy="756.9" r="0.7"/><circle cx="246.8" cy="751.3" r="0.7"/><circle cx="251.9" cy="752.6" r="0.7"/><circle cx="257.0" cy="751.8" r="0.7"/><circle cx="262.0" cy="755.0" r="0.7"/><circle cx="267.1" cy="751.3" r="0.7"/><circle cx="272.2" cy="754.8" r="0.7"/><circle cx="277.3" cy="752.3" r="0.7"/><circle cx="282.4" cy="752.1" r="0.7"/><circle cx="287.5" cy="756.3" r="0.7"/><circle cx="292.6" cy="756.0" r="0.7"/><circle cx="297.7" cy="753.2" r="0.7"/><circle cx="302.8" cy="754.4" r="0.7"/><circle cx="307.9" cy="755.2" r="0.7"/><circle cx="313.0" cy="753.5" r="0.7"/><circle cx="318.1" cy="751.2" r="0.7"/><circle cx="323.2" cy="755.1" r="0.7"/></g>
<polyline points="78.6,823.3 83.7,823.3 88.8,823.3 93.9,823.3 99.0,823.3 104.1,823.3 109.2,823.3 114.3,823.3 119.4,823.3 124.5,823.3 129.6,823.3 134.7,823.3 139.8,823.3 144.8,823.3 149.9,823.3 155.0,823.3 160.1,823.3 165.2,823.3 170.3,823.3 175.4,823.3 180.5,821.9 185.6,819.0 190.7,814.3 195.8,810.0 200.9,804.8 206.0,800.5 211.1,797.1 216.2,792.3 221.3,791.0 226.4,789.7 231.5,786.8 236.6,784.2 241.7,787.3 246.8,783.3 251.9,785.3 257.0,785.5 262.0,786.0 267.1,783.7 272.2,785.4 277.3,783.5 282.4,784.9 287.5,785.8 292.6,784.6 297.7,784.8 302.8,786.4 307.9,786.0 313.0,784.1 318.1,784.7 323.2,786.8" fill="none" stroke="#48b8e8" stroke-width="0.55"/>
<g fill="#48b8e8"><circle cx="78.6" cy="823.3" r="0.7"/><circle cx="83.7" cy="823.3" r="0.7"/><circle cx="88.8" cy="823.3" r="0.7"/><circle cx="93.9" cy="823.3" r="0.7"/><circle cx="99.0" cy="823.3" r="0.7"/><circle cx="104.1" cy="823.3" r="0.7"/><circle cx="109.2" cy="823.3" r="0.7"/><circle cx="114.3" cy="823.3" r="0.7"/><circle cx="119.4" cy="823.3" r="0.7"/><circle cx="124.5" cy="823.3" r="0.7"/><circle cx="129.6" cy="823.3" r="0.7"/><circle cx="134.7" cy="823.3" r="0.7"/><circle cx="139.8" cy="823.3" r="0.7"/><circle cx="144.8" cy="823.3" r="0.7"/><circle cx="149.9" cy="823.3" r="0.7"/><circle cx="155.0" cy="823.3" r="0.7"/><circle cx="160.1" cy="823.3" r="0.7"/><circle cx="165.2" cy="823.3" r="0.7"/><circle cx="170.3" cy="823.3" r="0.7"/><circle cx="175.4" cy="823.3" r="0.7"/><circle cx="180.5" cy="821.9" r="0.7"/><circle cx="185.6" cy="819.0" r="0.7"/><circle cx="190.7" cy="814.3" r="0.7"/><circle cx="195.8" cy="810.0" r="0.7"/><circle cx="200.9" cy="804.8" r="0.7"/><circle cx="206.0" cy="800.5" r="0.7"/><circle cx="211.1" cy="797.1" r="0.7"/><circle cx="216.2" cy="792.3" r="0.7"/><circle cx="221.3" cy="791.0" r="0.7"/><circle cx="226.4" cy="789.7" r="0.7"/><circle cx="231.5" cy="786.8" r="0.7"/><circle cx="236.6" cy="784.2" r="0.7"/><circle cx="241.7" cy="787.3" r="0.7"/><circle cx="246.8" cy="783.3" r="0.7"/><circle cx="251.9" cy="785.3" r="0.7"/><circle cx="257.0" cy="785.5" r="0.7"/><circle cx="262.0" cy="786.0" r="0.7"/><circle cx="267.1" cy="783.7" r="0.7"/><circle cx="272.2" cy="785.4" r="0.7"/><circle cx="277.3" cy="783.5" r="0.7"/><circle cx="282.4" cy="784.9" r="0.7"/><circle cx="287.5" cy="785.8" r="0.7"/><circle cx="292.6" cy="784.6" r="0.7"/><circle cx="297.7" cy="784.8" r="0.7"/><circle cx="302.8" cy="786.4" r="0.7"/><circle cx="307.9" cy="786.0" r="0.7"/><circle cx="313.0" cy="784.1" r="0.7"/><circle cx="318.1" cy="784.7" r="0.7"/><circle cx="323.2" cy="786.8" r="0.7"/></g>
<polyline points="78.6,823.3 83.7,823.3 88.8,823.3 93.9,823.3 99.0,823.3 104.1,823.3 109.2,823.3 114.3,823.3 119.4,823.3 124.5,823.3 129.6,823.3 134.7,823.3 139.8,823.3 144.8,823.3 149.9,823.3 155.0,823.3 160.1,823.3 165.2,823.3 170.3,823.3 175.4,823.3 180.5,823.3 185.6,823.3 190.7,823.3 195.8,823.3 200.9,822.7 206.0,821.1 211.1,818.7 216.2,815.0 221.3,811.6 226.4,807.8 231.5,802.9 236.6,798.9 241.7,796.8 246.8,791.4 251.9,790.0 257.0,786.7 262.0,786.7 267.1,782.5 272.2,783.0 277.3,780.5 282.4,780.0 287.5,782.5 292.6,781.6 297.7,781.1 302.8,780.2 307.9,780.2 313.0,779.3 318.1,778.4 323.2,779.8" fill="none" stroke="#48b8e8" stroke-width="0.55"/>
<g fill="#48b8e8"><circle cx="78.6" cy="823.3" r="0.7"/><circle cx="83.7" cy="823.3" r="0.7"/><circle cx="88.8" cy="823.3" r="0.7"/><circle cx="93.9" cy="823.3" r="0.7"/><circle cx="99.0" cy="823.3" r="0.7"/><circle cx="104.1" cy="823.3" r="0.7"/><circle cx="109.2" cy="823.3" r="0.7"/><circle cx="114.3" cy="823.3" r="0.7"/><circle cx="119.4" cy="823.3" r="0.7"/><circle cx="124.5" cy="823.3" r="0.7"/><circle cx="129.6" cy="823.3" r="0.7"/><circle cx="134.7" cy="823.3" r="0.7"/><circle cx="139.8" cy="823.3" r="0.7"/><circle cx="144.8" cy="823.3" r="0.7"/><circle cx="149.9" cy="823.3" r="0.7"/><circle cx="155.0" cy="823.3" r="0.7"/><circle cx="160.1" cy="823.3" r="0.7"/><circle cx="165.2" cy="823.3" r="0.7"/><circle cx="170.3" cy="823.3" r="0.7"/><circle cx="175.4" cy="823.3" r="0.7"/><circle cx="180.5" cy="823.3" r="0.7"/><circle cx="185.6" cy="823.3" r="0.7"/><circle cx="190.7" cy="823.3" r="0.7"/><circle cx="195.8" cy="823.3" r="0.7"/><circle cx="200.9" cy="822.7" r="0.7"/><circle cx="206.0" cy="821.1" r="0.7"/><circle cx="211.1" cy="818.7" r="0.7"/><circle cx="216.2" cy="815.0" r="0.7"/><circle cx="221.3" cy="811.6" r="0.7"/><circle cx="226.4" cy="807.8" r="0.7"/><circle cx="231.5" cy="802.9" r="0.7"/><circle cx="236.6" cy="798.9" r="0.7"/><circle cx="241.7" cy="796.8" r="0.7"/><circle cx="246.8" cy="791.4" r="0.7"/><circle cx="251.9" cy="790.0" r="0.7"/><circle cx="257.0" cy="786.7" r="0.7"/><circle cx="262.0" cy="786.7" r="0.7"/><circle cx="267.1" cy="782.5" r="0.7"/><circle cx="272.2" cy="783.0" r="0.7"/><circle cx="277.3" cy="780.5" r="0.7"/><circle cx="282.4" cy="780.0" r="0.7"/><circle cx="287.5" cy="782.5" r="0.7"/><circle cx="292.6" cy="781.6" r="0.7"/><circle cx="297.7" cy="781.1" r="0.7"/><circle cx="302.8" cy="780.2" r="0.7"/><circle cx="307.9" cy="780.2" r="0.7"/><circle cx="313.0" cy="779.3" r="0.7"/><circle cx="318.1" cy="778.4" r="0.7"/><circle cx="323.2" cy="779.8" r="0.7"/></g>
<polyline points="78.6,823.3 83.7,823.3 88.8,823.3 93.9,823.3 99.0,823.3 104.1,823.3 109.2,823.3 114.3,823.3 119.4,823.3 124.5,823.3 129.6,823.3 134.7,823.3 139.8,823.3 144.8,823.3 149.9,823.3 155.0,823.3 160.1,823.3 165.2,823.3 170.3,822.2 175.4,819.1 180.5,814.9 185.6,810.4 190.7,803.5 195.8,799.2 200.9,791.4 206.0,787.6 211.1,782.6 216.2,775.6 221.3,774.6 226.4,772.1 231.5,768.3 236.6,765.8 241.7,767.3 246.8,765.2 251.9,764.1 257.0,764.5 262.0,766.0 267.1,764.0 272.2,762.7 277.3,762.7 282.4,762.0 287.5,764.0 292.6,764.9 297.7,765.4 302.8,765.9 307.9,767.0 313.0,764.0 318.1,762.3 323.2,767.9" fill="none" stroke="#48b8e8" stroke-width="0.55"/>
<g fill="#48b8e8"><circle cx="78.6" cy="823.3" r="0.7"/><circle cx="83.7" cy="823.3" r="0.7"/><circle cx="88.8" cy="823.3" r="0.7"/><circle cx="93.9" cy="823.3" r="0.7"/><circle cx="99.0" cy="823.3" r="0.7"/><circle cx="104.1" cy="823.3" r="0.7"/><circle cx="109.2" cy="823.3" r="0.7"/><circle cx="114.3" cy="823.3" r="0.7"/><circle cx="119.4" cy="823.3" r="0.7"/><circle cx="124.5" cy="823.3" r="0.7"/><circle cx="129.6" cy="823.3" r="0.7"/><circle cx="134.7" cy="823.3" r="0.7"/><circle cx="139.8" cy="823.3" r="0.7"/><circle cx="144.8" cy="823.3" r="0.7"/><circle cx="149.9" cy="823.3" r="0.7"/><circle cx="155.0" cy="823.3" r="0.7"/><circle cx="160.1" cy="823.3" r="0.7"/><circle cx="165.2" cy="823.3" r="0.7"/><circle cx="170.3" cy="822.2" r="0.7"/><circle cx="175.4" cy="819.1" r="0.7"/><circle cx="180.5" cy="814.9" r="0.7"/><circle cx="185.6" cy="810.4" r="0.7"/><circle cx="190.7" cy="803.5" r="0.7"/><circle cx="195.8" cy="799.2" r="0.7"/><circle cx="200.9" cy="791.4" r="0.7"/><circle cx="206.0" cy="787.6" r="0.7"/><circle cx="211.1" cy="782.6" r="0.7"/><circle cx="216.2" cy="775.6" r="0.7"/><circle cx="221.3" cy="774.6" r="0.7"/><circle cx="226.4" cy="772.1" r="0.7"/><circle cx="231.5" cy="768.3" r="0.7"/><circle cx="236.6" cy="765.8" r="0.7"/><circle cx="241.7" cy="767.3" r="0.7"/><circle cx="246.8" cy="765.2" r="0.7"/><circle cx="251.9" cy="764.1" r="0.7"/><circle cx="257.0" cy="764.5" r="0.7"/><circle cx="262.0" cy="766.0" r="0.7"/><circle cx="267.1" cy="764.0" r="0.7"/><circle cx="272.2" cy="762.7" r="0.7"/><circle cx="277.3" cy="762.7" r="0.7"/><circle cx="282.4" cy="762.0" r="0.7"/><circle cx="287.5" cy="764.0" r="0.7"/><circle cx="292.6" cy="764.9" r="0.7"/><circle cx="297.7" cy="765.4" r="0.7"/><circle cx="302.8" cy="765.9" r="0.7"/><circle cx="307.9" cy="767.0" r="0.7"/><circle cx="313.0" cy="764.0" r="0.7"/><circle cx="318.1" cy="762.3" r="0.7"/><circle cx="323.2" cy="767.9" r="0.7"/></g>
<polyline points="78.6,823.3 83.7,823.3 88.8,823.3 93.9,823.3 99.0,823.3 104.1,823.3 109.2,823.3 114.3,823.3 119.4,823.3 124.5,823.3 129.6,823.3 134.7,823.3 139.8,823.3 144.8,823.3 149.9,823.3 155.0,823.3 160.1,823.3 165.2,823.3 170.3,823.3 175.4,822.8 180.5,821.5 185.6,819.6 190.7,816.6 195.8,813.7 200.9,809.9 206.0,807.1 211.1,804.0 216.2,798.4 221.3,797.0 226.4,794.1 231.5,789.8 236.6,786.7 241.7,786.2 246.8,782.0 251.9,782.6 257.0,781.3 262.0,780.8 267.1,779.8 272.2,778.9 277.3,776.6 282.4,778.2 287.5,780.3 292.6,780.1 297.7,780.8 302.8,778.9 307.9,779.9 313.0,778.0 318.1,777.0 323.2,781.0" fill="none" stroke="#48b8e8" stroke-width="0.55"/>
<g fill="#48b8e8"><circle cx="78.6" cy="823.3" r="0.7"/><circle cx="83.7" cy="823.3" r="0.7"/><circle cx="88.8" cy="823.3" r="0.7"/><circle cx="93.9" cy="823.3" r="0.7"/><circle cx="99.0" cy="823.3" r="0.7"/><circle cx="104.1" cy="823.3" r="0.7"/><circle cx="109.2" cy="823.3" r="0.7"/><circle cx="114.3" cy="823.3" r="0.7"/><circle cx="119.4" cy="823.3" r="0.7"/><circle cx="124.5" cy="823.3" r="0.7"/><circle cx="129.6" cy="823.3" r="0.7"/><circle cx="134.7" cy="823.3" r="0.7"/><circle cx="139.8" cy="823.3" r="0.7"/><circle cx="144.8" cy="823.3" r="0.7"/><circle cx="149.9" cy="823.3" r="0.7"/><circle cx="155.0" cy="823.3" r="0.7"/><circle cx="160.1" cy="823.3" r="0.7"/><circle cx="165.2" cy="823.3" r="0.7"/><circle cx="170.3" cy="823.3" r="0.7"/><circle cx="175.4" cy="822.8" r="0.7"/><circle cx="180.5" cy="821.5" r="0.7"/><circle cx="185.6" cy="819.6" r="0.7"/><circle cx="190.7" cy="816.6" r="0.7"/><circle cx="195.8" cy="813.7" r="0.7"/><circle cx="200.9" cy="809.9" r="0.7"/><circle cx="206.0" cy="807.1" r="0.7"/><circle cx="211.1" cy="804.0" r="0.7"/><circle cx="216.2" cy="798.4" r="0.7"/><circle cx="221.3" cy="797.0" r="0.7"/><circle cx="226.4" cy="794.1" r="0.7"/><circle cx="231.5" cy="789.8" r="0.7"/><circle cx="236.6" cy="786.7" r="0.7"/><circle cx="241.7" cy="786.2" r="0.7"/><circle cx="246.8" cy="782.0" r="0.7"/><circle cx="251.9" cy="782.6" r="0.7"/><circle cx="257.0" cy="781.3" r="0.7"/><circle cx="262.0" cy="780.8" r="0.7"/><circle cx="267.1" cy="779.8" r="0.7"/><circle cx="272.2" cy="778.9" r="0.7"/><circle cx="277.3" cy="776.6" r="0.7"/><circle cx="282.4" cy="778.2" r="0.7"/><circle cx="287.5" cy="780.3" r="0.7"/><circle cx="292.6" cy="780.1" r="0.7"/><circle cx="297.7" cy="780.8" r="0.7"/><circle cx="302.8" cy="778.9" r="0.7"/><circle cx="307.9" cy="779.9" r="0.7"/><circle cx="313.0" cy="778.0" r="0.7"/><circle cx="318.1" cy="777.0" r="0.7"/><circle cx="323.2" cy="781.0" r="0.7"/></g>
<polyline points="78.6,823.3 83.7,823.3 88.8,823.3 93.9,823.3 99.0,823.3 104.1,823.3 109.2,823.3 114.3,823.3 119.4,823.3 124.5,823.3 129.6,823.3 134.7,823.3 139.8,823.3 144.8,823.3 149.9,823.3 155.0,823.3 160.1,823.3 165.2,823.3 170.3,823.3 175.4,823.3 180.5,823.3 185.6,823.3 190.7,823.3 195.8,823.3 200.9,822.6 206.0,820.3 211.1,816.9 216.2,812.5 221.3,808.7 226.4,805.0 231.5,799.4 236.6,796.8 241.7,795.5 246.8,791.5 251.9,791.9 257.0,791.1 262.0,790.5 267.1,788.1 272.2,789.8 277.3,788.4 282.4,787.4 287.5,789.5 292.6,789.5 297.7,790.5 302.8,790.2 307.9,789.7 313.0,788.4 318.1,788.2 323.2,789.0" fill="none" stroke="#48b8e8" stroke-width="0.55"/>
<g fill="#48b8e8"><circle cx="78.6" cy="823.3" r="0.7"/><circle cx="83.7" cy="823.3" r="0.7"/><circle cx="88.8" cy="823.3" r="0.7"/><circle cx="93.9" cy="823.3" r="0.7"/><circle cx="99.0" cy="823.3" r="0.7"/><circle cx="104.1" cy="823.3" r="0.7"/><circle cx="109.2" cy="823.3" r="0.7"/><circle cx="114.3" cy="823.3" r="0.7"/><circle cx="119.4" cy="823.3" r="0.7"/><circle cx="124.5" cy="823.3" r="0.7"/><circle cx="129.6" cy="823.3" r="0.7"/><circle cx="134.7" cy="823.3" r="0.7"/><circle cx="139.8" cy="823.3" r="0.7"/><circle cx="144.8" cy="823.3" r="0.7"/><circle cx="149.9" cy="823.3" r="0.7"/><circle cx="155.0" cy="823.3" r="0.7"/><circle cx="160.1" cy="823.3" r="0.7"/><circle cx="165.2" cy="823.3" r="0.7"/><circle cx="170.3" cy="823.3" r="0.7"/><circle cx="175.4" cy="823.3" r="0.7"/><circle cx="180.5" cy="823.3" r="0.7"/><circle cx="185.6" cy="823.3" r="0.7"/><circle cx="190.7" cy="823.3" r="0.7"/><circle cx="195.8" cy="823.3" r="0.7"/><circle cx="200.9" cy="822.6" r="0.7"/><circle cx="206.0" cy="820.3" r="0.7"/><circle cx="211.1" cy="816.9" r="0.7"/><circle cx="216.2" cy="812.5" r="0.7"/><circle cx="221.3" cy="808.7" r="0.7"/><circle cx="226.4" cy="805.0" r="0.7"/><circle cx="231.5" cy="799.4" r="0.7"/><circle cx="236.6" cy="796.8" r="0.7"/><circle cx="241.7" cy="795.5" r="0.7"/><circle cx="246.8" cy="791.5" r="0.7"/><circle cx="251.9" cy="791.9" r="0.7"/><circle cx="257.0" cy="791.1" r="0.7"/><circle cx="262.0" cy="790.5" r="0.7"/><circle cx="267.1" cy="788.1" r="0.7"/><circle cx="272.2" cy="789.8" r="0.7"/><circle cx="277.3" cy="788.4" r="0.7"/><circle cx="282.4" cy="787.4" r="0.7"/><circle cx="287.5" cy="789.5" r="0.7"/><circle cx="292.6" cy="789.5" r="0.7"/><circle cx="297.7" cy="790.5" r="0.7"/><circle cx="302.8" cy="790.2" r="0.7"/><circle cx="307.9" cy="789.7" r="0.7"/><circle cx="313.0" cy="788.4" r="0.7"/><circle cx="318.1" cy="788.2" r="0.7"/><circle cx="323.2" cy="789.0" r="0.7"/></g>
<polyline points="78.6,823.3 83.7,823.3 88.8,823.3 93.9,823.3 99.0,823.3 104.1,823.3 109.2,823.3 114.3,823.3 119.4,823.3 124.5,823.3 129.6,823.3 134.7,823.3 139.8,823.3 144.8,823.3 149.9,823.3 155.0,823.3 160.1,823.3 165.2,823.3 170.3,823.3 175.4,823.3 180.5,823.3 185.6,823.3 190.7,823.3 195.8,823.2 200.9,822.6 206.0,821.4 211.1,819.4 216.2,816.8 221.3,813.9 226.4,811.1 231.5,806.6 236.6,803.9 241.7,801.0 246.8,797.1 251.9,795.4 257.0,792.1 262.0,791.0 267.1,787.8 272.2,785.8 277.3,783.6 282.4,782.2 287.5,783.7 292.6,782.1 297.7,783.1 302.8,781.8 307.9,782.4 313.0,780.0 318.1,780.3 323.2,781.7" fill="none" stroke="#48b8e8" stroke-width="0.55"/>
<g fill="#48b8e8"><circle cx="78.6" cy="823.3" r="0.7"/><circle cx="83.7" cy="823.3" r="0.7"/><circle cx="88.8" cy="823.3" r="0.7"/><circle cx="93.9" cy="823.3" r="0.7"/><circle cx="99.0" cy="823.3" r="0.7"/><circle cx="104.1" cy="823.3" r="0.7"/><circle cx="109.2" cy="823.3" r="0.7"/><circle cx="114.3" cy="823.3" r="0.7"/><circle cx="119.4" cy="823.3" r="0.7"/><circle cx="124.5" cy="823.3" r="0.7"/><circle cx="129.6" cy="823.3" r="0.7"/><circle cx="134.7" cy="823.3" r="0.7"/><circle cx="139.8" cy="823.3" r="0.7"/><circle cx="144.8" cy="823.3" r="0.7"/><circle cx="149.9" cy="823.3" r="0.7"/><circle cx="155.0" cy="823.3" r="0.7"/><circle cx="160.1" cy="823.3" r="0.7"/><circle cx="165.2" cy="823.3" r="0.7"/><circle cx="170.3" cy="823.3" r="0.7"/><circle cx="175.4" cy="823.3" r="0.7"/><circle cx="180.5" cy="823.3" r="0.7"/><circle cx="185.6" cy="823.3" r="0.7"/><circle cx="190.7" cy="823.3" r="0.7"/><circle cx="195.8" cy="823.2" r="0.7"/><circle cx="200.9" cy="822.6" r="0.7"/><circle cx="206.0" cy="821.4" r="0.7"/><circle cx="211.1" cy="819.4" r="0.7"/><circle cx="216.2" cy="816.8" r="0.7"/><circle cx="221.3" cy="813.9" r="0.7"/><circle cx="226.4" cy="811.1" r="0.7"/><circle cx="231.5" cy="806.6" r="0.7"/><circle cx="236.6" cy="803.9" r="0.7"/><circle cx="241.7" cy="801.0" r="0.7"/><circle cx="246.8" cy="797.1" r="0.7"/><circle cx="251.9" cy="795.4" r="0.7"/><circle cx="257.0" cy="792.1" r="0.7"/><circle cx="262.0" cy="791.0" r="0.7"/><circle cx="267.1" cy="787.8" r="0.7"/><circle cx="272.2" cy="785.8" r="0.7"/><circle cx="277.3" cy="783.6" r="0.7"/><circle cx="282.4" cy="782.2" r="0.7"/><circle cx="287.5" cy="783.7" r="0.7"/><circle cx="292.6" cy="782.1" r="0.7"/><circle cx="297.7" cy="783.1" r="0.7"/><circle cx="302.8" cy="781.8" r="0.7"/><circle cx="307.9" cy="782.4" r="0.7"/><circle cx="313.0" cy="780.0" r="0.7"/><circle cx="318.1" cy="780.3" r="0.7"/><circle cx="323.2" cy="781.7" r="0.7"/></g>
<polyline points="78.6,823.3 83.7,823.3 88.8,823.3 93.9,823.3 99.0,823.3 104.1,823.3 109.2,823.3 114.3,823.3 119.4,823.3 124.5,823.3 129.6,823.3 134.7,823.3 139.8,823.3 144.8,823.3 149.9,823.3 155.0,823.3 160.1,823.3 165.2,823.3 170.3,823.3 175.4,823.3 180.5,823.3 185.6,823.3 190.7,823.3 195.8,823.3 200.9,823.3 206.0,823.3 211.1,822.8 216.2,821.1 221.3,818.6 226.4,815.6 231.5,811.6 236.6,807.1 241.7,803.9 246.8,798.9 251.9,795.5 257.0,792.8 262.0,791.0 267.1,786.1 272.2,785.4 277.3,781.7 282.4,781.0 287.5,782.4 292.6,781.6 297.7,781.5 302.8,780.0 307.9,779.1 313.0,778.4 318.1,777.1 323.2,779.6" fill="none" stroke="#48b8e8" stroke-width="0.55"/>
<g fill="#48b8e8"><circle cx="78.6" cy="823.3" r="0.7"/><circle cx="83.7" cy="823.3" r="0.7"/><circle cx="88.8" cy="823.3" r="0.7"/><circle cx="93.9" cy="823.3" r="0.7"/><circle cx="99.0" cy="823.3" r="0.7"/><circle cx="104.1" cy="823.3" r="0.7"/><circle cx="109.2" cy="823.3" r="0.7"/><circle cx="114.3" cy="823.3" r="0.7"/><circle cx="119.4" cy="823.3" r="0.7"/><circle cx="124.5" cy="823.3" r="0.7"/><circle cx="129.6" cy="823.3" r="0.7"/><circle cx="134.7" cy="823.3" r="0.7"/><circle cx="139.8" cy="823.3" r="0.7"/><circle cx="144.8" cy="823.3" r="0.7"/><circle cx="149.9" cy="823.3" r="0.7"/><circle cx="155.0" cy="823.3" r="0.7"/><circle cx="160.1" cy="823.3" r="0.7"/><circle cx="165.2" cy="823.3" r="0.7"/><circle cx="170.3" cy="823.3" r="0.7"/><circle cx="175.4" cy="823.3" r="0.7"/><circle cx="180.5" cy="823.3" r="0.7"/><circle cx="185.6" cy="823.3" r="0.7"/><circle cx="190.7" cy="823.3" r="0.7"/><circle cx="195.8" cy="823.3" r="0.7"/><circle cx="200.9" cy="823.3" r="0.7"/><circle cx="206.0" cy="823.3" r="0.7"/><circle cx="211.1" cy="822.8" r="0.7"/><circle cx="216.2" cy="821.1" r="0.7"/><circle cx="221.3" cy="818.6" r="0.7"/><circle cx="226.4" cy="815.6" r="0.7"/><circle cx="231.5" cy="811.6" r="0.7"/><circle cx="236.6" cy="807.1" r="0.7"/><circle cx="241.7" cy="803.9" r="0.7"/><circle cx="246.8" cy="798.9" r="0.7"/><circle cx="251.9" cy="795.5" r="0.7"/><circle cx="257.0" cy="792.8" r="0.7"/><circle cx="262.0" cy="791.0" r="0.7"/><circle cx="267.1" cy="786.1" r="0.7"/><circle cx="272.2" cy="785.4" r="0.7"/><circle cx="277.3" cy="781.7" r="0.7"/><circle cx="282.4" cy="781.0" r="0.7"/><circle cx="287.5" cy="782.4" r="0.7"/><circle cx="292.6" cy="781.6" r="0.7"/><circle cx="297.7" cy="781.5" r="0.7"/><circle cx="302.8" cy="780.0" r="0.7"/><circle cx="307.9" cy="779.1" r="0.7"/><circle cx="313.0" cy="778.4" r="0.7"/><circle cx="318.1" cy="777.1" r="0.7"/><circle cx="323.2" cy="779.6" r="0.7"/></g>
<polyline points="78.6,823.3 83.7,823.3 88.8,823.3 93.9,823.3 99.0,823.3 104.1,823.3 109.2,823.3 114.3,823.3 119.4,823.3 124.5,823.3 129.6,823.3 134.7,823.3 139.8,823.3 144.8,823.3 149.9,823.3 155.0,823.3 160.1,823.3 165.2,823.3 170.3,823.3 175.4,823.3 180.5,823.3 185.6,823.3 190.7,823.3 195.8,823.3 200.9,822.6 206.0,821.1 211.1,818.9 216.2,815.7 221.3,812.5 226.4,809.5 231.5,804.6 236.6,801.7 241.7,800.0 246.8,794.7 251.9,794.5 257.0,792.3 262.0,791.9 267.1,788.3 272.2,788.5 277.3,786.8 282.4,784.6 287.5,787.2 292.6,785.7 297.7,787.1 302.8,787.4 307.9,787.5 313.0,786.5 318.1,783.7 323.2,786.4" fill="none" stroke="#48b8e8" stroke-width="0.55"/>
<g fill="#48b8e8"><circle cx="78.6" cy="823.3" r="0.7"/><circle cx="83.7" cy="823.3" r="0.7"/><circle cx="88.8" cy="823.3" r="0.7"/><circle cx="93.9" cy="823.3" r="0.7"/><circle cx="99.0" cy="823.3" r="0.7"/><circle cx="104.1" cy="823.3" r="0.7"/><circle cx="109.2" cy="823.3" r="0.7"/><circle cx="114.3" cy="823.3" r="0.7"/><circle cx="119.4" cy="823.3" r="0.7"/><circle cx="124.5" cy="823.3" r="0.7"/><circle cx="129.6" cy="823.3" r="0.7"/><circle cx="134.7" cy="823.3" r="0.7"/><circle cx="139.8" cy="823.3" r="0.7"/><circle cx="144.8" cy="823.3" r="0.7"/><circle cx="149.9" cy="823.3" r="0.7"/><circle cx="155.0" cy="823.3" r="0.7"/><circle cx="160.1" cy="823.3" r="0.7"/><circle cx="165.2" cy="823.3" r="0.7"/><circle cx="170.3" cy="823.3" r="0.7"/><circle cx="175.4" cy="823.3" r="0.7"/><circle cx="180.5" cy="823.3" r="0.7"/><circle cx="185.6" cy="823.3" r="0.7"/><circle cx="190.7" cy="823.3" r="0.7"/><circle cx="195.8" cy="823.3" r="0.7"/><circle cx="200.9" cy="822.6" r="0.7"/><circle cx="206.0" cy="821.1" r="0.7"/><circle cx="211.1" cy="818.9" r="0.7"/><circle cx="216.2" cy="815.7" r="0.7"/><circle cx="221.3" cy="812.5" r="0.7"/><circle cx="226.4" cy="809.5" r="0.7"/><circle cx="231.5" cy="804.6" r="0.7"/><circle cx="236.6" cy="801.7" r="0.7"/><circle cx="241.7" cy="800.0" r="0.7"/><circle cx="246.8" cy="794.7" r="0.7"/><circle cx="251.9" cy="794.5" r="0.7"/><circle cx="257.0" cy="792.3" r="0.7"/><circle cx="262.0" cy="791.9" r="0.7"/><circle cx="267.1" cy="788.3" r="0.7"/><circle cx="272.2" cy="788.5" r="0.7"/><circle cx="277.3" cy="786.8" r="0.7"/><circle cx="282.4" cy="784.6" r="0.7"/><circle cx="287.5" cy="787.2" r="0.7"/><circle cx="292.6" cy="785.7" r="0.7"/><circle cx="297.7" cy="787.1" r="0.7"/><circle cx="302.8" cy="787.4" r="0.7"/><circle cx="307.9" cy="787.5" r="0.7"/><circle cx="313.0" cy="786.5" r="0.7"/><circle cx="318.1" cy="783.7" r="0.7"/><circle cx="323.2" cy="786.4" r="0.7"/></g>
<polyline points="78.6,823.3 83.7,823.3 88.8,823.3 93.9,823.3 99.0,823.3 104.1,823.3 109.2,823.3 114.3,823.3 119.4,823.3 124.5,823.3 129.6,823.3 134.7,823.3 139.8,823.3 144.8,823.3 149.9,823.3 155.0,823.3 160.1,823.3 165.2,823.3 170.3,823.3 175.4,823.3 180.5,823.3 185.6,823.3 190.7,823.3 195.8,823.3 200.9,822.2 206.0,819.4 211.1,815.0 216.2,808.2 221.3,803.2 226.4,796.2 231.5,789.5 236.6,782.0 241.7,779.7 246.8,772.4 251.9,772.3 257.0,767.4 262.0,766.5 267.1,763.7 272.2,764.3 277.3,761.3 282.4,759.6 287.5,761.8 292.6,763.8 297.7,763.5 302.8,761.2 307.9,763.7 313.0,763.3 318.1,759.0 323.2,761.7" fill="none" stroke="#48b8e8" stroke-width="0.55"/>
<g fill="#48b8e8"><circle cx="78.6" cy="823.3" r="0.7"/><circle cx="83.7" cy="823.3" r="0.7"/><circle cx="88.8" cy="823.3" r="0.7"/><circle cx="93.9" cy="823.3" r="0.7"/><circle cx="99.0" cy="823.3" r="0.7"/><circle cx="104.1" cy="823.3" r="0.7"/><circle cx="109.2" cy="823.3" r="0.7"/><circle cx="114.3" cy="823.3" r="0.7"/><circle cx="119.4" cy="823.3" r="0.7"/><circle cx="124.5" cy="823.3" r="0.7"/><circle cx="129.6" cy="823.3" r="0.7"/><circle cx="134.7" cy="823.3" r="0.7"/><circle cx="139.8" cy="823.3" r="0.7"/><circle cx="144.8" cy="823.3" r="0.7"/><circle cx="149.9" cy="823.3" r="0.7"/><circle cx="155.0" cy="823.3" r="0.7"/><circle cx="160.1" cy="823.3" r="0.7"/><circle cx="165.2" cy="823.3" r="0.7"/><circle cx="170.3" cy="823.3" r="0.7"/><circle cx="175.4" cy="823.3" r="0.7"/><circle cx="180.5" cy="823.3" r="0.7"/><circle cx="185.6" cy="823.3" r="0.7"/><circle cx="190.7" cy="823.3" r="0.7"/><circle cx="195.8" cy="823.3" r="0.7"/><circle cx="200.9" cy="822.2" r="0.7"/><circle cx="206.0" cy="819.4" r="0.7"/><circle cx="211.1" cy="815.0" r="0.7"/><circle cx="216.2" cy="808.2" r="0.7"/><circle cx="221.3" cy="803.2" r="0.7"/><circle cx="226.4" cy="796.2" r="0.7"/><circle cx="231.5" cy="789.5" r="0.7"/><circle cx="236.6" cy="782.0" r="0.7"/><circle cx="241.7" cy="779.7" r="0.7"/><circle cx="246.8" cy="772.4" r="0.7"/><circle cx="251.9" cy="772.3" r="0.7"/><circle cx="257.0" cy="767.4" r="0.7"/><circle cx="262.0" cy="766.5" r="0.7"/><circle cx="267.1" cy="763.7" r="0.7"/><circle cx="272.2" cy="764.3" r="0.7"/><circle cx="277.3" cy="761.3" r="0.7"/><circle cx="282.4" cy="759.6" r="0.7"/><circle cx="287.5" cy="761.8" r="0.7"/><circle cx="292.6" cy="763.8" r="0.7"/><circle cx="297.7" cy="763.5" r="0.7"/><circle cx="302.8" cy="761.2" r="0.7"/><circle cx="307.9" cy="763.7" r="0.7"/><circle cx="313.0" cy="763.3" r="0.7"/><circle cx="318.1" cy="759.0" r="0.7"/><circle cx="323.2" cy="761.7" r="0.7"/></g>
<polyline points="78.6,823.3 83.7,823.3 88.8,823.3 93.9,823.3 99.0,823.3 104.1,823.3 109.2,823.3 114.3,823.3 119.4,823.3 124.5,823.3 129.6,823.3 134.7,823.3 139.8,823.3 144.8,823.3 149.9,823.3 155.0,823.3 160.1,823.3 165.2,823.3 170.3,823.3 175.4,822.8 180.5,821.5 185.6,819.6 190.7,816.8 195.8,814.2 200.9,810.6 206.0,807.9 211.1,805.8 216.2,801.1 221.3,800.5 226.4,798.4 231.5,794.5 236.6,792.8 241.7,793.6 246.8,790.7 251.9,790.9 257.0,791.0 262.0,791.1 267.1,788.5 272.2,790.7 277.3,789.7 282.4,788.2 287.5,790.1 292.6,790.2 297.7,789.9 302.8,790.6 307.9,791.3 313.0,790.3 318.1,788.7 323.2,790.3" fill="none" stroke="#48b8e8" stroke-width="0.55"/>
<g fill="#48b8e8"><circle cx="78.6" cy="823.3" r="0.7"/><circle cx="83.7" cy="823.3" r="0.7"/><circle cx="88.8" cy="823.3" r="0.7"/><circle cx="93.9" cy="823.3" r="0.7"/><circle cx="99.0" cy="823.3" r="0.7"/><circle cx="104.1" cy="823.3" r="0.7"/><circle cx="109.2" cy="823.3" r="0.7"/><circle cx="114.3" cy="823.3" r="0.7"/><circle cx="119.4" cy="823.3" r="0.7"/><circle cx="124.5" cy="823.3" r="0.7"/><circle cx="129.6" cy="823.3" r="0.7"/><circle cx="134.7" cy="823.3" r="0.7"/><circle cx="139.8" cy="823.3" r="0.7"/><circle cx="144.8" cy="823.3" r="0.7"/><circle cx="149.9" cy="823.3" r="0.7"/><circle cx="155.0" cy="823.3" r="0.7"/><circle cx="160.1" cy="823.3" r="0.7"/><circle cx="165.2" cy="823.3" r="0.7"/><circle cx="170.3" cy="823.3" r="0.7"/><circle cx="175.4" cy="822.8" r="0.7"/><circle cx="180.5" cy="821.5" r="0.7"/><circle cx="185.6" cy="819.6" r="0.7"/><circle cx="190.7" cy="816.8" r="0.7"/><circle cx="195.8" cy="814.2" r="0.7"/><circle cx="200.9" cy="810.6" r="0.7"/><circle cx="206.0" cy="807.9" r="0.7"/><circle cx="211.1" cy="805.8" r="0.7"/><circle cx="216.2" cy="801.1" r="0.7"/><circle cx="221.3" cy="800.5" r="0.7"/><circle cx="226.4" cy="798.4" r="0.7"/><circle cx="231.5" cy="794.5" r="0.7"/><circle cx="236.6" cy="792.8" r="0.7"/><circle cx="241.7" cy="793.6" r="0.7"/><circle cx="246.8" cy="790.7" r="0.7"/><circle cx="251.9" cy="790.9" r="0.7"/><circle cx="257.0" cy="791.0" r="0.7"/><circle cx="262.0" cy="791.1" r="0.7"/><circle cx="267.1" cy="788.5" r="0.7"/><circle cx="272.2" cy="790.7" r="0.7"/><circle cx="277.3" cy="789.7" r="0.7"/><circle cx="282.4" cy="788.2" r="0.7"/><circle cx="287.5" cy="790.1" r="0.7"/><circle cx="292.6" cy="790.2" r="0.7"/><circle cx="297.7" cy="789.9" r="0.7"/><circle cx="302.8" cy="790.6" r="0.7"/><circle cx="307.9" cy="791.3" r="0.7"/><circle cx="313.0" cy="790.3" r="0.7"/><circle cx="318.1" cy="788.7" r="0.7"/><circle cx="323.2" cy="790.3" r="0.7"/></g>
<polyline points="78.6,823.3 83.7,823.3 88.8,823.3 93.9,823.3 99.0,823.3 104.1,823.3 109.2,823.3 114.3,823.3 119.4,823.3 124.5,823.3 129.6,823.3 134.7,823.3 139.8,823.3 144.8,823.3 149.9,823.3 155.0,823.3 160.1,823.3 165.2,823.3 170.3,823.3 175.4,823.3 180.5,823.3 185.6,823.3 190.7,823.3 195.8,823.3 200.9,823.0 206.0,822.1 211.1,820.6 216.2,818.5 221.3,816.2 226.4,813.2 231.5,810.3 236.6,807.4 241.7,805.2 246.8,801.7 251.9,800.0 257.0,796.0 262.0,794.8 267.1,793.2 272.2,790.7 277.3,789.3 282.4,789.2 287.5,788.4 292.6,789.2 297.7,788.0 302.8,787.6 307.9,787.5 313.0,787.6 318.1,786.9 323.2,787.2" fill="none" stroke="#48b8e8" stroke-width="0.55"/>
<g fill="#48b8e8"><circle cx="78.6" cy="823.3" r="0.7"/><circle cx="83.7" cy="823.3" r="0.7"/><circle cx="88.8" cy="823.3" r="0.7"/><circle cx="93.9" cy="823.3" r="0.7"/><circle cx="99.0" cy="823.3" r="0.7"/><circle cx="104.1" cy="823.3" r="0.7"/><circle cx="109.2" cy="823.3" r="0.7"/><circle cx="114.3" cy="823.3" r="0.7"/><circle cx="119.4" cy="823.3" r="0.7"/><circle cx="124.5" cy="823.3" r="0.7"/><circle cx="129.6" cy="823.3" r="0.7"/><circle cx="134.7" cy="823.3" r="0.7"/><circle cx="139.8" cy="823.3" r="0.7"/><circle cx="144.8" cy="823.3" r="0.7"/><circle cx="149.9" cy="823.3" r="0.7"/><circle cx="155.0" cy="823.3" r="0.7"/><circle cx="160.1" cy="823.3" r="0.7"/><circle cx="165.2" cy="823.3" r="0.7"/><circle cx="170.3" cy="823.3" r="0.7"/><circle cx="175.4" cy="823.3" r="0.7"/><circle cx="180.5" cy="823.3" r="0.7"/><circle cx="185.6" cy="823.3" r="0.7"/><circle cx="190.7" cy="823.3" r="0.7"/><circle cx="195.8" cy="823.3" r="0.7"/><circle cx="200.9" cy="823.0" r="0.7"/><circle cx="206.0" cy="822.1" r="0.7"/><circle cx="211.1" cy="820.6" r="0.7"/><circle cx="216.2" cy="818.5" r="0.7"/><circle cx="221.3" cy="816.2" r="0.7"/><circle cx="226.4" cy="813.2" r="0.7"/><circle cx="231.5" cy="810.3" r="0.7"/><circle cx="236.6" cy="807.4" r="0.7"/><circle cx="241.7" cy="805.2" r="0.7"/><circle cx="246.8" cy="801.7" r="0.7"/><circle cx="251.9" cy="800.0" r="0.7"/><circle cx="257.0" cy="796.0" r="0.7"/><circle cx="262.0" cy="794.8" r="0.7"/><circle cx="267.1" cy="793.2" r="0.7"/><circle cx="272.2" cy="790.7" r="0.7"/><circle cx="277.3" cy="789.3" r="0.7"/><circle cx="282.4" cy="789.2" r="0.7"/><circle cx="287.5" cy="788.4" r="0.7"/><circle cx="292.6" cy="789.2" r="0.7"/><circle cx="297.7" cy="788.0" r="0.7"/><circle cx="302.8" cy="787.6" r="0.7"/><circle cx="307.9" cy="787.5" r="0.7"/><circle cx="313.0" cy="787.6" r="0.7"/><circle cx="318.1" cy="786.9" r="0.7"/><circle cx="323.2" cy="787.2" r="0.7"/></g>
<polyline points="78.6,823.3 83.7,823.3 88.8,823.3 93.9,823.3 99.0,823.3 104.1,823.3 109.2,823.3 114.3,823.3 119.4,823.3 124.5,823.3 129.6,823.3 134.7,823.3 139.8,823.3 144.8,823.3 149.9,823.3 155.0,823.3 160.1,823.3 165.2,823.3 170.3,823.3 175.4,823.3 180.5,822.7 185.6,820.5 190.7,816.8 195.8,813.0 200.9,807.6 206.0,803.8 211.1,798.2 216.2,791.7 221.3,790.0 226.4,786.0 231.5,782.5 236.6,779.8 241.7,780.0 246.8,776.6 251.9,778.4 257.0,777.3 262.0,779.7 267.1,774.5 272.2,777.5 277.3,775.1 282.4,775.2 287.5,778.2 292.6,777.4 297.7,778.1 302.8,778.9 307.9,778.0 313.0,777.2 318.1,775.1 323.2,777.1" fill="none" stroke="#48b8e8" stroke-width="0.55"/>
<g fill="#48b8e8"><circle cx="78.6" cy="823.3" r="0.7"/><circle cx="83.7" cy="823.3" r="0.7"/><circle cx="88.8" cy="823.3" r="0.7"/><circle cx="93.9" cy="823.3" r="0.7"/><circle cx="99.0" cy="823.3" r="0.7"/><circle cx="104.1" cy="823.3" r="0.7"/><circle cx="109.2" cy="823.3" r="0.7"/><circle cx="114.3" cy="823.3" r="0.7"/><circle cx="119.4" cy="823.3" r="0.7"/><circle cx="124.5" cy="823.3" r="0.7"/><circle cx="129.6" cy="823.3" r="0.7"/><circle cx="134.7" cy="823.3" r="0.7"/><circle cx="139.8" cy="823.3" r="0.7"/><circle cx="144.8" cy="823.3" r="0.7"/><circle cx="149.9" cy="823.3" r="0.7"/><circle cx="155.0" cy="823.3" r="0.7"/><circle cx="160.1" cy="823.3" r="0.7"/><circle cx="165.2" cy="823.3" r="0.7"/><circle cx="170.3" cy="823.3" r="0.7"/><circle cx="175.4" cy="823.3" r="0.7"/><circle cx="180.5" cy="822.7" r="0.7"/><circle cx="185.6" cy="820.5" r="0.7"/><circle cx="190.7" cy="816.8" r="0.7"/><circle cx="195.8" cy="813.0" r="0.7"/><circle cx="200.9" cy="807.6" r="0.7"/><circle cx="206.0" cy="803.8" r="0.7"/><circle cx="211.1" cy="798.2" r="0.7"/><circle cx="216.2" cy="791.7" r="0.7"/><circle cx="221.3" cy="790.0" r="0.7"/><circle cx="226.4" cy="786.0" r="0.7"/><circle cx="231.5" cy="782.5" r="0.7"/><circle cx="236.6" cy="779.8" r="0.7"/><circle cx="241.7" cy="780.0" r="0.7"/><circle cx="246.8" cy="776.6" r="0.7"/><circle cx="251.9" cy="778.4" r="0.7"/><circle cx="257.0" cy="777.3" r="0.7"/><circle cx="262.0" cy="779.7" r="0.7"/><circle cx="267.1" cy="774.5" r="0.7"/><circle cx="272.2" cy="777.5" r="0.7"/><circle cx="277.3" cy="775.1" r="0.7"/><circle cx="282.4" cy="775.2" r="0.7"/><circle cx="287.5" cy="778.2" r="0.7"/><circle cx="292.6" cy="777.4" r="0.7"/><circle cx="297.7" cy="778.1" r="0.7"/><circle cx="302.8" cy="778.9" r="0.7"/><circle cx="307.9" cy="778.0" r="0.7"/><circle cx="313.0" cy="777.2" r="0.7"/><circle cx="318.1" cy="775.1" r="0.7"/><circle cx="323.2" cy="777.1" r="0.7"/></g>
<polyline points="78.6,823.3 83.7,823.3 88.8,823.3 93.9,823.3 99.0,823.3 104.1,823.3 109.2,823.3 114.3,823.3 119.4,823.3 124.5,823.3 129.6,823.3 134.7,823.3 139.8,823.3 144.8,823.3 149.9,823.3 155.0,823.3 160.1,823.3 165.2,823.3 170.3,823.3 175.4,823.3 180.5,823.3 185.6,823.3 190.7,823.3 195.8,823.3 200.9,823.3 206.0,823.3 211.1,823.3 216.2,823.2 221.3,822.4 226.4,820.8 231.5,818.4 236.6,815.7 241.7,812.6 246.8,808.7 251.9,806.2 257.0,802.1 262.0,799.5 267.1,794.5 272.2,792.0 277.3,788.9 282.4,788.4 287.5,787.2 292.6,786.1 297.7,783.9 302.8,784.5 307.9,782.0 313.0,781.1 318.1,779.6 323.2,780.2" fill="none" stroke="#48b8e8" stroke-width="0.55"/>
<g fill="#48b8e8"><circle cx="78.6" cy="823.3" r="0.7"/><circle cx="83.7" cy="823.3" r="0.7"/><circle cx="88.8" cy="823.3" r="0.7"/><circle cx="93.9" cy="823.3" r="0.7"/><circle cx="99.0" cy="823.3" r="0.7"/><circle cx="104.1" cy="823.3" r="0.7"/><circle cx="109.2" cy="823.3" r="0.7"/><circle cx="114.3" cy="823.3" r="0.7"/><circle cx="119.4" cy="823.3" r="0.7"/><circle cx="124.5" cy="823.3" r="0.7"/><circle cx="129.6" cy="823.3" r="0.7"/><circle cx="134.7" cy="823.3" r="0.7"/><circle cx="139.8" cy="823.3" r="0.7"/><circle cx="144.8" cy="823.3" r="0.7"/><circle cx="149.9" cy="823.3" r="0.7"/><circle cx="155.0" cy="823.3" r="0.7"/><circle cx="160.1" cy="823.3" r="0.7"/><circle cx="165.2" cy="823.3" r="0.7"/><circle cx="170.3" cy="823.3" r="0.7"/><circle cx="175.4" cy="823.3" r="0.7"/><circle cx="180.5" cy="823.3" r="0.7"/><circle cx="185.6" cy="823.3" r="0.7"/><circle cx="190.7" cy="823.3" r="0.7"/><circle cx="195.8" cy="823.3" r="0.7"/><circle cx="200.9" cy="823.3" r="0.7"/><circle cx="206.0" cy="823.3" r="0.7"/><circle cx="211.1" cy="823.3" r="0.7"/><circle cx="216.2" cy="823.2" r="0.7"/><circle cx="221.3" cy="822.4" r="0.7"/><circle cx="226.4" cy="820.8" r="0.7"/><circle cx="231.5" cy="818.4" r="0.7"/><circle cx="236.6" cy="815.7" r="0.7"/><circle cx="241.7" cy="812.6" r="0.7"/><circle cx="246.8" cy="808.7" r="0.7"/><circle cx="251.9" cy="806.2" r="0.7"/><circle cx="257.0" cy="802.1" r="0.7"/><circle cx="262.0" cy="799.5" r="0.7"/><circle cx="267.1" cy="794.5" r="0.7"/><circle cx="272.2" cy="792.0" r="0.7"/><circle cx="277.3" cy="788.9" r="0.7"/><circle cx="282.4" cy="788.4" r="0.7"/><circle cx="287.5" cy="787.2" r="0.7"/><circle cx="292.6" cy="786.1" r="0.7"/><circle cx="297.7" cy="783.9" r="0.7"/><circle cx="302.8" cy="784.5" r="0.7"/><circle cx="307.9" cy="782.0" r="0.7"/><circle cx="313.0" cy="781.1" r="0.7"/><circle cx="318.1" cy="779.6" r="0.7"/><circle cx="323.2" cy="780.2" r="0.7"/></g>
<polyline points="78.6,823.3 83.7,823.3 88.8,823.3 93.9,823.3 99.0,823.3 104.1,823.3 109.2,823.3 114.3,823.3 119.4,823.3 124.5,823.3 129.6,823.3 134.7,823.3 139.8,823.3 144.8,823.3 149.9,823.3 155.0,823.3 160.1,823.3 165.2,823.3 170.3,823.3 175.4,823.3 180.5,823.3 185.6,823.3 190.7,823.3 195.8,823.3 200.9,823.3 206.0,823.3 211.1,823.3 216.2,823.2 221.3,822.3 226.4,820.4 231.5,817.1 236.6,813.6 241.7,810.7 246.8,806.1 251.9,801.9 257.0,798.6 262.0,795.9 267.1,791.6 272.2,789.7 277.3,786.5 282.4,786.7 287.5,785.4 292.6,785.7 297.7,786.0 302.8,785.1 307.9,784.5 313.0,782.9 318.1,782.4 323.2,783.0" fill="none" stroke="#48b8e8" stroke-width="0.55"/>
<g fill="#48b8e8"><circle cx="78.6" cy="823.3" r="0.7"/><circle cx="83.7" cy="823.3" r="0.7"/><circle cx="88.8" cy="823.3" r="0.7"/><circle cx="93.9" cy="823.3" r="0.7"/><circle cx="99.0" cy="823.3" r="0.7"/><circle cx="104.1" cy="823.3" r="0.7"/><circle cx="109.2" cy="823.3" r="0.7"/><circle cx="114.3" cy="823.3" r="0.7"/><circle cx="119.4" cy="823.3" r="0.7"/><circle cx="124.5" cy="823.3" r="0.7"/><circle cx="129.6" cy="823.3" r="0.7"/><circle cx="134.7" cy="823.3" r="0.7"/><circle cx="139.8" cy="823.3" r="0.7"/><circle cx="144.8" cy="823.3" r="0.7"/><circle cx="149.9" cy="823.3" r="0.7"/><circle cx="155.0" cy="823.3" r="0.7"/><circle cx="160.1" cy="823.3" r="0.7"/><circle cx="165.2" cy="823.3" r="0.7"/><circle cx="170.3" cy="823.3" r="0.7"/><circle cx="175.4" cy="823.3" r="0.7"/><circle cx="180.5" cy="823.3" r="0.7"/><circle cx="185.6" cy="823.3" r="0.7"/><circle cx="190.7" cy="823.3" r="0.7"/><circle cx="195.8" cy="823.3" r="0.7"/><circle cx="200.9" cy="823.3" r="0.7"/><circle cx="206.0" cy="823.3" r="0.7"/><circle cx="211.1" cy="823.3" r="0.7"/><circle cx="216.2" cy="823.2" r="0.7"/><circle cx="221.3" cy="822.3" r="0.7"/><circle cx="226.4" cy="820.4" r="0.7"/><circle cx="231.5" cy="817.1" r="0.7"/><circle cx="236.6" cy="813.6" r="0.7"/><circle cx="241.7" cy="810.7" r="0.7"/><circle cx="246.8" cy="806.1" r="0.7"/><circle cx="251.9" cy="801.9" r="0.7"/><circle cx="257.0" cy="798.6" r="0.7"/><circle cx="262.0" cy="795.9" r="0.7"/><circle cx="267.1" cy="791.6" r="0.7"/><circle cx="272.2" cy="789.7" r="0.7"/><circle cx="277.3" cy="786.5" r="0.7"/><circle cx="282.4" cy="786.7" r="0.7"/><circle cx="287.5" cy="785.4" r="0.7"/><circle cx="292.6" cy="785.7" r="0.7"/><circle cx="297.7" cy="786.0" r="0.7"/><circle cx="302.8" cy="785.1" r="0.7"/><circle cx="307.9" cy="784.5" r="0.7"/><circle cx="313.0" cy="782.9" r="0.7"/><circle cx="318.1" cy="782.4" r="0.7"/><circle cx="323.2" cy="783.0" r="0.7"/></g>
<polyline points="78.6,823.3 83.7,823.3 88.8,823.3 93.9,823.3 99.0,823.3 104.1,823.3 109.2,823.3 114.3,823.3 119.4,823.3 124.5,823.3 129.6,823.3 134.7,823.3 139.8,823.3 144.8,823.3 149.9,823.3 155.0,823.3 160.1,823.3 165.2,823.3 170.3,823.3 175.4,823.3 180.5,823.3 185.6,823.3 190.7,823.3 195.8,823.3 200.9,823.3 206.0,823.3 211.1,823.3 216.2,823.2 221.3,822.3 226.4,820.4 231.5,817.0 236.6,813.5 241.7,810.0 246.8,805.4 251.9,801.0 257.0,798.0 262.0,794.3 267.1,790.1 272.2,787.9 277.3,786.8 282.4,783.4 287.5,784.5 292.6,783.5 297.7,783.4 302.8,783.3 307.9,782.0 313.0,781.0 318.1,780.0 323.2,783.7" fill="none" stroke="#48b8e8" stroke-width="0.55"/>
<g fill="#48b8e8"><circle cx="78.6" cy="823.3" r="0.7"/><circle cx="83.7" cy="823.3" r="0.7"/><circle cx="88.8" cy="823.3" r="0.7"/><circle cx="93.9" cy="823.3" r="0.7"/><circle cx="99.0" cy="823.3" r="0.7"/><circle cx="104.1" cy="823.3" r="0.7"/><circle cx="109.2" cy="823.3" r="0.7"/><circle cx="114.3" cy="823.3" r="0.7"/><circle cx="119.4" cy="823.3" r="0.7"/><circle cx="124.5" cy="823.3" r="0.7"/><circle cx="129.6" cy="823.3" r="0.7"/><circle cx="134.7" cy="823.3" r="0.7"/><circle cx="139.8" cy="823.3" r="0.7"/><circle cx="144.8" cy="823.3" r="0.7"/><circle cx="149.9" cy="823.3" r="0.7"/><circle cx="155.0" cy="823.3" r="0.7"/><circle cx="160.1" cy="823.3" r="0.7"/><circle cx="165.2" cy="823.3" r="0.7"/><circle cx="170.3" cy="823.3" r="0.7"/><circle cx="175.4" cy="823.3" r="0.7"/><circle cx="180.5" cy="823.3" r="0.7"/><circle cx="185.6" cy="823.3" r="0.7"/><circle cx="190.7" cy="823.3" r="0.7"/><circle cx="195.8" cy="823.3" r="0.7"/><circle cx="200.9" cy="823.3" r="0.7"/><circle cx="206.0" cy="823.3" r="0.7"/><circle cx="211.1" cy="823.3" r="0.7"/><circle cx="216.2" cy="823.2" r="0.7"/><circle cx="221.3" cy="822.3" r="0.7"/><circle cx="226.4" cy="820.4" r="0.7"/><circle cx="231.5" cy="817.0" r="0.7"/><circle cx="236.6" cy="813.5" r="0.7"/><circle cx="241.7" cy="810.0" r="0.7"/><circle cx="246.8" cy="805.4" r="0.7"/><circle cx="251.9" cy="801.0" r="0.7"/><circle cx="257.0" cy="798.0" r="0.7"/><circle cx="262.0" cy="794.3" r="0.7"/><circle cx="267.1" cy="790.1" r="0.7"/><circle cx="272.2" cy="787.9" r="0.7"/><circle cx="277.3" cy="786.8" r="0.7"/><circle cx="282.4" cy="783.4" r="0.7"/><circle cx="287.5" cy="784.5" r="0.7"/><circle cx="292.6" cy="783.5" r="0.7"/><circle cx="297.7" cy="783.4" r="0.7"/><circle cx="302.8" cy="783.3" r="0.7"/><circle cx="307.9" cy="782.0" r="0.7"/><circle cx="313.0" cy="781.0" r="0.7"/><circle cx="318.1" cy="780.0" r="0.7"/><circle cx="323.2" cy="783.7" r="0.7"/></g>
<polyline points="78.6,823.3 83.7,823.3 88.8,823.3 93.9,823.3 99.0,823.3 104.1,823.3 109.2,823.3 114.3,823.3 119.4,823.3 124.5,823.3 129.6,823.3 134.7,823.3 139.8,823.3 144.8,823.3 149.9,823.3 155.0,823.3 160.1,823.3 165.2,823.3 170.3,823.3 175.4,822.8 180.5,821.2 185.6,818.9 190.7,815.3 195.8,812.0 200.9,806.8 206.0,803.7 211.1,799.7 216.2,794.3 221.3,791.4 226.4,788.5 231.5,783.6 236.6,781.7 241.7,781.9 246.8,778.1 251.9,779.6 257.0,777.6 262.0,779.2 267.1,774.8 272.2,777.0 277.3,773.8 282.4,776.0 287.5,777.6 292.6,776.1 297.7,777.2 302.8,778.2 307.9,778.6 313.0,775.7 318.1,776.5 323.2,777.6" fill="none" stroke="#48b8e8" stroke-width="0.55"/>
<g fill="#48b8e8"><circle cx="78.6" cy="823.3" r="0.7"/><circle cx="83.7" cy="823.3" r="0.7"/><circle cx="88.8" cy="823.3" r="0.7"/><circle cx="93.9" cy="823.3" r="0.7"/><circle cx="99.0" cy="823.3" r="0.7"/><circle cx="104.1" cy="823.3" r="0.7"/><circle cx="109.2" cy="823.3" r="0.7"/><circle cx="114.3" cy="823.3" r="0.7"/><circle cx="119.4" cy="823.3" r="0.7"/><circle cx="124.5" cy="823.3" r="0.7"/><circle cx="129.6" cy="823.3" r="0.7"/><circle cx="134.7" cy="823.3" r="0.7"/><circle cx="139.8" cy="823.3" r="0.7"/><circle cx="144.8" cy="823.3" r="0.7"/><circle cx="149.9" cy="823.3" r="0.7"/><circle cx="155.0" cy="823.3" r="0.7"/><circle cx="160.1" cy="823.3" r="0.7"/><circle cx="165.2" cy="823.3" r="0.7"/><circle cx="170.3" cy="823.3" r="0.7"/><circle cx="175.4" cy="822.8" r="0.7"/><circle cx="180.5" cy="821.2" r="0.7"/><circle cx="185.6" cy="818.9" r="0.7"/><circle cx="190.7" cy="815.3" r="0.7"/><circle cx="195.8" cy="812.0" r="0.7"/><circle cx="200.9" cy="806.8" r="0.7"/><circle cx="206.0" cy="803.7" r="0.7"/><circle cx="211.1" cy="799.7" r="0.7"/><circle cx="216.2" cy="794.3" r="0.7"/><circle cx="221.3" cy="791.4" r="0.7"/><circle cx="226.4" cy="788.5" r="0.7"/><circle cx="231.5" cy="783.6" r="0.7"/><circle cx="236.6" cy="781.7" r="0.7"/><circle cx="241.7" cy="781.9" r="0.7"/><circle cx="246.8" cy="778.1" r="0.7"/><circle cx="251.9" cy="779.6" r="0.7"/><circle cx="257.0" cy="777.6" r="0.7"/><circle cx="262.0" cy="779.2" r="0.7"/><circle cx="267.1" cy="774.8" r="0.7"/><circle cx="272.2" cy="777.0" r="0.7"/><circle cx="277.3" cy="773.8" r="0.7"/><circle cx="282.4" cy="776.0" r="0.7"/><circle cx="287.5" cy="777.6" r="0.7"/><circle cx="292.6" cy="776.1" r="0.7"/><circle cx="297.7" cy="777.2" r="0.7"/><circle cx="302.8" cy="778.2" r="0.7"/><circle cx="307.9" cy="778.6" r="0.7"/><circle cx="313.0" cy="775.7" r="0.7"/><circle cx="318.1" cy="776.5" r="0.7"/><circle cx="323.2" cy="777.6" r="0.7"/></g>
<polyline points="78.6,823.3 83.7,823.3 88.8,823.3 93.9,823.3 99.0,823.3 104.1,823.3 109.2,823.3 114.3,823.3 119.4,823.3 124.5,823.3 129.6,823.3 134.7,823.3 139.8,823.3 144.8,823.3 149.9,823.3 155.0,823.3 160.1,823.3 165.2,823.3 170.3,823.3 175.4,823.3 180.5,823.3 185.6,823.3 190.7,823.3 195.8,823.3 200.9,823.3 206.0,823.2 211.1,822.6 216.2,821.0 221.3,819.1 226.4,816.4 231.5,813.0 236.6,809.4 241.7,806.7 246.8,802.9 251.9,800.0 257.0,797.4 262.0,794.5 267.1,792.0 272.2,789.0 277.3,787.3 282.4,786.9 287.5,785.4 292.6,786.1 297.7,784.8 302.8,785.4 307.9,785.5 313.0,782.9 318.1,781.6 323.2,783.2" fill="none" stroke="#48b8e8" stroke-width="0.55"/>
<g fill="#48b8e8"><circle cx="78.6" cy="823.3" r="0.7"/><circle cx="83.7" cy="823.3" r="0.7"/><circle cx="88.8" cy="823.3" r="0.7"/><circle cx="93.9" cy="823.3" r="0.7"/><circle cx="99.0" cy="823.3" r="0.7"/><circle cx="104.1" cy="823.3" r="0.7"/><circle cx="109.2" cy="823.3" r="0.7"/><circle cx="114.3" cy="823.3" r="0.7"/><circle cx="119.4" cy="823.3" r="0.7"/><circle cx="124.5" cy="823.3" r="0.7"/><circle cx="129.6" cy="823.3" r="0.7"/><circle cx="134.7" cy="823.3" r="0.7"/><circle cx="139.8" cy="823.3" r="0.7"/><circle cx="144.8" cy="823.3" r="0.7"/><circle cx="149.9" cy="823.3" r="0.7"/><circle cx="155.0" cy="823.3" r="0.7"/><circle cx="160.1" cy="823.3" r="0.7"/><circle cx="165.2" cy="823.3" r="0.7"/><circle cx="170.3" cy="823.3" r="0.7"/><circle cx="175.4" cy="823.3" r="0.7"/><circle cx="180.5" cy="823.3" r="0.7"/><circle cx="185.6" cy="823.3" r="0.7"/><circle cx="190.7" cy="823.3" r="0.7"/><circle cx="195.8" cy="823.3" r="0.7"/><circle cx="200.9" cy="823.3" r="0.7"/><circle cx="206.0" cy="823.2" r="0.7"/><circle cx="211.1" cy="822.6" r="0.7"/><circle cx="216.2" cy="821.0" r="0.7"/><circle cx="221.3" cy="819.1" r="0.7"/><circle cx="226.4" cy="816.4" r="0.7"/><circle cx="231.5" cy="813.0" r="0.7"/><circle cx="236.6" cy="809.4" r="0.7"/><circle cx="241.7" cy="806.7" r="0.7"/><circle cx="246.8" cy="802.9" r="0.7"/><circle cx="251.9" cy="800.0" r="0.7"/><circle cx="257.0" cy="797.4" r="0.7"/><circle cx="262.0" cy="794.5" r="0.7"/><circle cx="267.1" cy="792.0" r="0.7"/><circle cx="272.2" cy="789.0" r="0.7"/><circle cx="277.3" cy="787.3" r="0.7"/><circle cx="282.4" cy="786.9" r="0.7"/><circle cx="287.5" cy="785.4" r="0.7"/><circle cx="292.6" cy="786.1" r="0.7"/><circle cx="297.7" cy="784.8" r="0.7"/><circle cx="302.8" cy="785.4" r="0.7"/><circle cx="307.9" cy="785.5" r="0.7"/><circle cx="313.0" cy="782.9" r="0.7"/><circle cx="318.1" cy="781.6" r="0.7"/><circle cx="323.2" cy="783.2" r="0.7"/></g>
<polyline points="78.6,823.3 83.7,823.3 88.8,823.3 93.9,823.3 99.0,823.3 104.1,823.3 109.2,823.3 114.3,823.3 119.4,823.3 124.5,823.3 129.6,823.3 134.7,823.3 139.8,823.3 144.8,823.3 149.9,823.3 155.0,823.3 160.1,823.3 165.2,823.3 170.3,823.3 175.4,823.3 180.5,823.2 185.6,822.5 190.7,820.8 195.8,818.6 200.9,815.3 206.0,812.6 211.1,809.1 216.2,804.9 221.3,802.1 226.4,798.5 231.5,793.6 236.6,790.6 241.7,789.3 246.8,783.2 251.9,782.9 257.0,780.8 262.0,780.5 267.1,777.6 272.2,775.7 277.3,774.3 282.4,774.7 287.5,777.3 292.6,776.8 297.7,777.0 302.8,774.8 307.9,776.9 313.0,774.7 318.1,773.3 323.2,775.7" fill="none" stroke="#48b8e8" stroke-width="0.55"/>
<g fill="#48b8e8"><circle cx="78.6" cy="823.3" r="0.7"/><circle cx="83.7" cy="823.3" r="0.7"/><circle cx="88.8" cy="823.3" r="0.7"/><circle cx="93.9" cy="823.3" r="0.7"/><circle cx="99.0" cy="823.3" r="0.7"/><circle cx="104.1" cy="823.3" r="0.7"/><circle cx="109.2" cy="823.3" r="0.7"/><circle cx="114.3" cy="823.3" r="0.7"/><circle cx="119.4" cy="823.3" r="0.7"/><circle cx="124.5" cy="823.3" r="0.7"/><circle cx="129.6" cy="823.3" r="0.7"/><circle cx="134.7" cy="823.3" r="0.7"/><circle cx="139.8" cy="823.3" r="0.7"/><circle cx="144.8" cy="823.3" r="0.7"/><circle cx="149.9" cy="823.3" r="0.7"/><circle cx="155.0" cy="823.3" r="0.7"/><circle cx="160.1" cy="823.3" r="0.7"/><circle cx="165.2" cy="823.3" r="0.7"/><circle cx="170.3" cy="823.3" r="0.7"/><circle cx="175.4" cy="823.3" r="0.7"/><circle cx="180.5" cy="823.2" r="0.7"/><circle cx="185.6" cy="822.5" r="0.7"/><circle cx="190.7" cy="820.8" r="0.7"/><circle cx="195.8" cy="818.6" r="0.7"/><circle cx="200.9" cy="815.3" r="0.7"/><circle cx="206.0" cy="812.6" r="0.7"/><circle cx="211.1" cy="809.1" r="0.7"/><circle cx="216.2" cy="804.9" r="0.7"/><circle cx="221.3" cy="802.1" r="0.7"/><circle cx="226.4" cy="798.5" r="0.7"/><circle cx="231.5" cy="793.6" r="0.7"/><circle cx="236.6" cy="790.6" r="0.7"/><circle cx="241.7" cy="789.3" r="0.7"/><circle cx="246.8" cy="783.2" r="0.7"/><circle cx="251.9" cy="782.9" r="0.7"/><circle cx="257.0" cy="780.8" r="0.7"/><circle cx="262.0" cy="780.5" r="0.7"/><circle cx="267.1" cy="777.6" r="0.7"/><circle cx="272.2" cy="775.7" r="0.7"/><circle cx="277.3" cy="774.3" r="0.7"/><circle cx="282.4" cy="774.7" r="0.7"/><circle cx="287.5" cy="777.3" r="0.7"/><circle cx="292.6" cy="776.8" r="0.7"/><circle cx="297.7" cy="777.0" r="0.7"/><circle cx="302.8" cy="774.8" r="0.7"/><circle cx="307.9" cy="776.9" r="0.7"/><circle cx="313.0" cy="774.7" r="0.7"/><circle cx="318.1" cy="773.3" r="0.7"/><circle cx="323.2" cy="775.7" r="0.7"/></g>
<polyline points="78.6,823.3 83.7,823.3 88.8,823.3 93.9,823.3 99.0,823.3 104.1,823.3 109.2,823.3 114.3,823.3 119.4,823.3 124.5,823.3 129.6,823.3 134.7,823.3 139.8,823.3 144.8,823.3 149.9,823.3 155.0,823.3 160.1,823.3 165.2,823.3 170.3,823.3 175.4,823.3 180.5,823.1 185.6,821.5 190.7,818.4 195.8,814.4 200.9,809.3 206.0,805.3 211.1,800.6 216.2,795.4 221.3,792.3 226.4,790.7 231.5,785.5 236.6,785.4 241.7,786.3 246.8,782.7 251.9,782.2 257.0,782.1 262.0,784.1 267.1,781.2 272.2,782.2 277.3,780.5 282.4,781.6 287.5,783.5 292.6,781.2 297.7,784.0 302.8,783.8 307.9,783.5 313.0,782.7 318.1,781.2 323.2,783.0" fill="none" stroke="#48b8e8" stroke-width="0.55"/>
<g fill="#48b8e8"><circle cx="78.6" cy="823.3" r="0.7"/><circle cx="83.7" cy="823.3" r="0.7"/><circle cx="88.8" cy="823.3" r="0.7"/><circle cx="93.9" cy="823.3" r="0.7"/><circle cx="99.0" cy="823.3" r="0.7"/><circle cx="104.1" cy="823.3" r="0.7"/><circle cx="109.2" cy="823.3" r="0.7"/><circle cx="114.3" cy="823.3" r="0.7"/><circle cx="119.4" cy="823.3" r="0.7"/><circle cx="124.5" cy="823.3" r="0.7"/><circle cx="129.6" cy="823.3" r="0.7"/><circle cx="134.7" cy="823.3" r="0.7"/><circle cx="139.8" cy="823.3" r="0.7"/><circle cx="144.8" cy="823.3" r="0.7"/><circle cx="149.9" cy="823.3" r="0.7"/><circle cx="155.0" cy="823.3" r="0.7"/><circle cx="160.1" cy="823.3" r="0.7"/><circle cx="165.2" cy="823.3" r="0.7"/><circle cx="170.3" cy="823.3" r="0.7"/><circle cx="175.4" cy="823.3" r="0.7"/><circle cx="180.5" cy="823.1" r="0.7"/><circle cx="185.6" cy="821.5" r="0.7"/><circle cx="190.7" cy="818.4" r="0.7"/><circle cx="195.8" cy="814.4" r="0.7"/><circle cx="200.9" cy="809.3" r="0.7"/><circle cx="206.0" cy="805.3" r="0.7"/><circle cx="211.1" cy="800.6" r="0.7"/><circle cx="216.2" cy="795.4" r="0.7"/><circle cx="221.3" cy="792.3" r="0.7"/><circle cx="226.4" cy="790.7" r="0.7"/><circle cx="231.5" cy="785.5" r="0.7"/><circle cx="236.6" cy="785.4" r="0.7"/><circle cx="241.7" cy="786.3" r="0.7"/><circle cx="246.8" cy="782.7" r="0.7"/><circle cx="251.9" cy="782.2" r="0.7"/><circle cx="257.0" cy="782.1" r="0.7"/><circle cx="262.0" cy="784.1" r="0.7"/><circle cx="267.1" cy="781.2" r="0.7"/><circle cx="272.2" cy="782.2" r="0.7"/><circle cx="277.3" cy="780.5" r="0.7"/><circle cx="282.4" cy="781.6" r="0.7"/><circle cx="287.5" cy="783.5" r="0.7"/><circle cx="292.6" cy="781.2" r="0.7"/><circle cx="297.7" cy="784.0" r="0.7"/><circle cx="302.8" cy="783.8" r="0.7"/><circle cx="307.9" cy="783.5" r="0.7"/><circle cx="313.0" cy="782.7" r="0.7"/><circle cx="318.1" cy="781.2" r="0.7"/><circle cx="323.2" cy="783.0" r="0.7"/></g>
<polyline points="78.6,823.3 83.7,823.3 88.8,823.3 93.9,823.3 99.0,823.3 104.1,823.3 109.2,823.3 114.3,823.3 119.4,823.3 124.5,823.3 129.6,823.3 134.7,823.3 139.8,823.3 144.8,823.3 149.9,823.3 155.0,823.3 160.1,823.3 165.2,823.3 170.3,823.3 175.4,823.3 180.5,823.3 185.6,823.3 190.7,823.3 195.8,823.3 200.9,822.6 206.0,820.9 211.1,818.4 216.2,814.4 221.3,811.2 226.4,807.2 231.5,801.4 236.6,798.4 241.7,795.9 246.8,791.0 251.9,788.8 257.0,788.1 262.0,786.5 267.1,783.1 272.2,784.1 277.3,782.6 282.4,781.7 287.5,783.0 292.6,781.7 297.7,781.4 302.8,782.1 307.9,782.8 313.0,780.6 318.1,779.8 323.2,782.7" fill="none" stroke="#48b8e8" stroke-width="0.55"/>
<g fill="#48b8e8"><circle cx="78.6" cy="823.3" r="0.7"/><circle cx="83.7" cy="823.3" r="0.7"/><circle cx="88.8" cy="823.3" r="0.7"/><circle cx="93.9" cy="823.3" r="0.7"/><circle cx="99.0" cy="823.3" r="0.7"/><circle cx="104.1" cy="823.3" r="0.7"/><circle cx="109.2" cy="823.3" r="0.7"/><circle cx="114.3" cy="823.3" r="0.7"/><circle cx="119.4" cy="823.3" r="0.7"/><circle cx="124.5" cy="823.3" r="0.7"/><circle cx="129.6" cy="823.3" r="0.7"/><circle cx="134.7" cy="823.3" r="0.7"/><circle cx="139.8" cy="823.3" r="0.7"/><circle cx="144.8" cy="823.3" r="0.7"/><circle cx="149.9" cy="823.3" r="0.7"/><circle cx="155.0" cy="823.3" r="0.7"/><circle cx="160.1" cy="823.3" r="0.7"/><circle cx="165.2" cy="823.3" r="0.7"/><circle cx="170.3" cy="823.3" r="0.7"/><circle cx="175.4" cy="823.3" r="0.7"/><circle cx="180.5" cy="823.3" r="0.7"/><circle cx="185.6" cy="823.3" r="0.7"/><circle cx="190.7" cy="823.3" r="0.7"/><circle cx="195.8" cy="823.3" r="0.7"/><circle cx="200.9" cy="822.6" r="0.7"/><circle cx="206.0" cy="820.9" r="0.7"/><circle cx="211.1" cy="818.4" r="0.7"/><circle cx="216.2" cy="814.4" r="0.7"/><circle cx="221.3" cy="811.2" r="0.7"/><circle cx="226.4" cy="807.2" r="0.7"/><circle cx="231.5" cy="801.4" r="0.7"/><circle cx="236.6" cy="798.4" r="0.7"/><circle cx="241.7" cy="795.9" r="0.7"/><circle cx="246.8" cy="791.0" r="0.7"/><circle cx="251.9" cy="788.8" r="0.7"/><circle cx="257.0" cy="788.1" r="0.7"/><circle cx="262.0" cy="786.5" r="0.7"/><circle cx="267.1" cy="783.1" r="0.7"/><circle cx="272.2" cy="784.1" r="0.7"/><circle cx="277.3" cy="782.6" r="0.7"/><circle cx="282.4" cy="781.7" r="0.7"/><circle cx="287.5" cy="783.0" r="0.7"/><circle cx="292.6" cy="781.7" r="0.7"/><circle cx="297.7" cy="781.4" r="0.7"/><circle cx="302.8" cy="782.1" r="0.7"/><circle cx="307.9" cy="782.8" r="0.7"/><circle cx="313.0" cy="780.6" r="0.7"/><circle cx="318.1" cy="779.8" r="0.7"/><circle cx="323.2" cy="782.7" r="0.7"/></g>
<polyline points="78.6,823.3 83.7,823.3 88.8,823.3 93.9,823.3 99.0,823.3 104.1,823.3 109.2,823.3 114.3,823.3 119.4,823.3 124.5,823.3 129.6,823.3 134.7,823.3 139.8,823.3 144.8,823.3 149.9,823.3 155.0,823.3 160.1,823.3 165.2,823.3 170.3,823.3 175.4,823.3 180.5,823.3 185.6,823.3 190.7,823.3 195.8,823.3 200.9,823.3 206.0,822.8 211.1,820.3 216.2,815.3 221.3,810.2 226.4,803.6 231.5,795.8 236.6,791.0 241.7,788.0 246.8,780.4 251.9,780.4 257.0,776.6 262.0,775.5 267.1,774.0 272.2,773.6 277.3,771.0 282.4,772.6 287.5,772.1 292.6,772.1 297.7,773.3 302.8,772.6 307.9,774.8 313.0,771.7 318.1,771.4 323.2,774.0" fill="none" stroke="#48b8e8" stroke-width="0.55"/>
<g fill="#48b8e8"><circle cx="78.6" cy="823.3" r="0.7"/><circle cx="83.7" cy="823.3" r="0.7"/><circle cx="88.8" cy="823.3" r="0.7"/><circle cx="93.9" cy="823.3" r="0.7"/><circle cx="99.0" cy="823.3" r="0.7"/><circle cx="104.1" cy="823.3" r="0.7"/><circle cx="109.2" cy="823.3" r="0.7"/><circle cx="114.3" cy="823.3" r="0.7"/><circle cx="119.4" cy="823.3" r="0.7"/><circle cx="124.5" cy="823.3" r="0.7"/><circle cx="129.6" cy="823.3" r="0.7"/><circle cx="134.7" cy="823.3" r="0.7"/><circle cx="139.8" cy="823.3" r="0.7"/><circle cx="144.8" cy="823.3" r="0.7"/><circle cx="149.9" cy="823.3" r="0.7"/><circle cx="155.0" cy="823.3" r="0.7"/><circle cx="160.1" cy="823.3" r="0.7"/><circle cx="165.2" cy="823.3" r="0.7"/><circle cx="170.3" cy="823.3" r="0.7"/><circle cx="175.4" cy="823.3" r="0.7"/><circle cx="180.5" cy="823.3" r="0.7"/><circle cx="185.6" cy="823.3" r="0.7"/><circle cx="190.7" cy="823.3" r="0.7"/><circle cx="195.8" cy="823.3" r="0.7"/><circle cx="200.9" cy="823.3" r="0.7"/><circle cx="206.0" cy="822.8" r="0.7"/><circle cx="211.1" cy="820.3" r="0.7"/><circle cx="216.2" cy="815.3" r="0.7"/><circle cx="221.3" cy="810.2" r="0.7"/><circle cx="226.4" cy="803.6" r="0.7"/><circle cx="231.5" cy="795.8" r="0.7"/><circle cx="236.6" cy="791.0" r="0.7"/><circle cx="241.7" cy="788.0" r="0.7"/><circle cx="246.8" cy="780.4" r="0.7"/><circle cx="251.9" cy="780.4" r="0.7"/><circle cx="257.0" cy="776.6" r="0.7"/><circle cx="262.0" cy="775.5" r="0.7"/><circle cx="267.1" cy="774.0" r="0.7"/><circle cx="272.2" cy="773.6" r="0.7"/><circle cx="277.3" cy="771.0" r="0.7"/><circle cx="282.4" cy="772.6" r="0.7"/><circle cx="287.5" cy="772.1" r="0.7"/><circle cx="292.6" cy="772.1" r="0.7"/><circle cx="297.7" cy="773.3" r="0.7"/><circle cx="302.8" cy="772.6" r="0.7"/><circle cx="307.9" cy="774.8" r="0.7"/><circle cx="313.0" cy="771.7" r="0.7"/><circle cx="318.1" cy="771.4" r="0.7"/><circle cx="323.2" cy="774.0" r="0.7"/></g>
<polyline points="78.6,823.3 83.7,823.3 88.8,823.3 93.9,823.3 99.0,823.3 104.1,823.3 109.2,823.3 114.3,823.3 119.4,823.3 124.5,823.3 129.6,823.3 134.7,823.3 139.8,823.3 144.8,823.3 149.9,823.3 155.0,823.3 160.1,823.3 165.2,823.3 170.3,823.3 175.4,823.3 180.5,823.3 185.6,823.3 190.7,823.3 195.8,822.9 200.9,821.0 206.0,818.3 211.1,814.4 216.2,809.9 221.3,806.3 226.4,801.8 231.5,797.1 236.6,792.8 241.7,791.2 246.8,787.9 251.9,786.1 257.0,784.6 262.0,784.3 267.1,781.3 272.2,781.4 277.3,780.5 282.4,781.9 287.5,782.3 292.6,781.8 297.7,783.5 302.8,783.0 307.9,782.9 313.0,782.8 318.1,782.3 323.2,783.6" fill="none" stroke="#48b8e8" stroke-width="0.55"/>
<g fill="#48b8e8"><circle cx="78.6" cy="823.3" r="0.7"/><circle cx="83.7" cy="823.3" r="0.7"/><circle cx="88.8" cy="823.3" r="0.7"/><circle cx="93.9" cy="823.3" r="0.7"/><circle cx="99.0" cy="823.3" r="0.7"/><circle cx="104.1" cy="823.3" r="0.7"/><circle cx="109.2" cy="823.3" r="0.7"/><circle cx="114.3" cy="823.3" r="0.7"/><circle cx="119.4" cy="823.3" r="0.7"/><circle cx="124.5" cy="823.3" r="0.7"/><circle cx="129.6" cy="823.3" r="0.7"/><circle cx="134.7" cy="823.3" r="0.7"/><circle cx="139.8" cy="823.3" r="0.7"/><circle cx="144.8" cy="823.3" r="0.7"/><circle cx="149.9" cy="823.3" r="0.7"/><circle cx="155.0" cy="823.3" r="0.7"/><circle cx="160.1" cy="823.3" r="0.7"/><circle cx="165.2" cy="823.3" r="0.7"/><circle cx="170.3" cy="823.3" r="0.7"/><circle cx="175.4" cy="823.3" r="0.7"/><circle cx="180.5" cy="823.3" r="0.7"/><circle cx="185.6" cy="823.3" r="0.7"/><circle cx="190.7" cy="823.3" r="0.7"/><circle cx="195.8" cy="822.9" r="0.7"/><circle cx="200.9" cy="821.0" r="0.7"/><circle cx="206.0" cy="818.3" r="0.7"/><circle cx="211.1" cy="814.4" r="0.7"/><circle cx="216.2" cy="809.9" r="0.7"/><circle cx="221.3" cy="806.3" r="0.7"/><circle cx="226.4" cy="801.8" r="0.7"/><circle cx="231.5" cy="797.1" r="0.7"/><circle cx="236.6" cy="792.8" r="0.7"/><circle cx="241.7" cy="791.2" r="0.7"/><circle cx="246.8" cy="787.9" r="0.7"/><circle cx="251.9" cy="786.1" r="0.7"/><circle cx="257.0" cy="784.6" r="0.7"/><circle cx="262.0" cy="784.3" r="0.7"/><circle cx="267.1" cy="781.3" r="0.7"/><circle cx="272.2" cy="781.4" r="0.7"/><circle cx="277.3" cy="780.5" r="0.7"/><circle cx="282.4" cy="781.9" r="0.7"/><circle cx="287.5" cy="782.3" r="0.7"/><circle cx="292.6" cy="781.8" r="0.7"/><circle cx="297.7" cy="783.5" r="0.7"/><circle cx="302.8" cy="783.0" r="0.7"/><circle cx="307.9" cy="782.9" r="0.7"/><circle cx="313.0" cy="782.8" r="0.7"/><circle cx="318.1" cy="782.3" r="0.7"/><circle cx="323.2" cy="783.6" r="0.7"/></g>
<polyline points="78.6,823.3 83.7,823.3 88.8,823.3 93.9,823.3 99.0,823.3 104.1,823.3 109.2,823.3 114.3,823.3 119.4,823.3 124.5,823.3 129.6,823.3 134.7,823.3 139.8,823.3 144.8,823.3 149.9,823.3 155.0,823.3 160.1,823.3 165.2,823.3 170.3,823.3 175.4,823.3 180.5,823.3 185.6,823.3 190.7,823.1 195.8,821.6 200.9,818.5 206.0,814.6 211.1,810.7 216.2,804.2 221.3,799.5 226.4,796.2 231.5,789.2 236.6,786.1 241.7,785.2 246.8,780.4 251.9,777.9 257.0,778.0 262.0,777.7 267.1,773.4 272.2,775.9 277.3,774.8 282.4,773.1 287.5,774.9 292.6,776.2 297.7,774.4 302.8,774.6 307.9,775.3 313.0,775.4 318.1,772.3 323.2,776.4" fill="none" stroke="#48b8e8" stroke-width="0.55"/>
<g fill="#48b8e8"><circle cx="78.6" cy="823.3" r="0.7"/><circle cx="83.7" cy="823.3" r="0.7"/><circle cx="88.8" cy="823.3" r="0.7"/><circle cx="93.9" cy="823.3" r="0.7"/><circle cx="99.0" cy="823.3" r="0.7"/><circle cx="104.1" cy="823.3" r="0.7"/><circle cx="109.2" cy="823.3" r="0.7"/><circle cx="114.3" cy="823.3" r="0.7"/><circle cx="119.4" cy="823.3" r="0.7"/><circle cx="124.5" cy="823.3" r="0.7"/><circle cx="129.6" cy="823.3" r="0.7"/><circle cx="134.7" cy="823.3" r="0.7"/><circle cx="139.8" cy="823.3" r="0.7"/><circle cx="144.8" cy="823.3" r="0.7"/><circle cx="149.9" cy="823.3" r="0.7"/><circle cx="155.0" cy="823.3" r="0.7"/><circle cx="160.1" cy="823.3" r="0.7"/><circle cx="165.2" cy="823.3" r="0.7"/><circle cx="170.3" cy="823.3" r="0.7"/><circle cx="175.4" cy="823.3" r="0.7"/><circle cx="180.5" cy="823.3" r="0.7"/><circle cx="185.6" cy="823.3" r="0.7"/><circle cx="190.7" cy="823.1" r="0.7"/><circle cx="195.8" cy="821.6" r="0.7"/><circle cx="200.9" cy="818.5" r="0.7"/><circle cx="206.0" cy="814.6" r="0.7"/><circle cx="211.1" cy="810.7" r="0.7"/><circle cx="216.2" cy="804.2" r="0.7"/><circle cx="221.3" cy="799.5" r="0.7"/><circle cx="226.4" cy="796.2" r="0.7"/><circle cx="231.5" cy="789.2" r="0.7"/><circle cx="236.6" cy="786.1" r="0.7"/><circle cx="241.7" cy="785.2" r="0.7"/><circle cx="246.8" cy="780.4" r="0.7"/><circle cx="251.9" cy="777.9" r="0.7"/><circle cx="257.0" cy="778.0" r="0.7"/><circle cx="262.0" cy="777.7" r="0.7"/><circle cx="267.1" cy="773.4" r="0.7"/><circle cx="272.2" cy="775.9" r="0.7"/><circle cx="277.3" cy="774.8" r="0.7"/><circle cx="282.4" cy="773.1" r="0.7"/><circle cx="287.5" cy="774.9" r="0.7"/><circle cx="292.6" cy="776.2" r="0.7"/><circle cx="297.7" cy="774.4" r="0.7"/><circle cx="302.8" cy="774.6" r="0.7"/><circle cx="307.9" cy="775.3" r="0.7"/><circle cx="313.0" cy="775.4" r="0.7"/><circle cx="318.1" cy="772.3" r="0.7"/><circle cx="323.2" cy="776.4" r="0.7"/></g>
<polyline points="78.6,823.3 83.7,823.3 88.8,823.3 93.9,823.3 99.0,823.3 104.1,823.3 109.2,823.3 114.3,823.3 119.4,823.3 124.5,823.3 129.6,823.3 134.7,823.3 139.8,823.3 144.8,823.3 149.9,823.3 155.0,823.3 160.1,823.3 165.2,823.3 170.3,822.8 175.4,820.3 180.5,816.2 185.6,812.2 190.7,805.4 195.8,801.6 200.9,795.5 206.0,790.3 211.1,788.1 216.2,780.9 221.3,779.4 226.4,778.7 231.5,774.9 236.6,772.8 241.7,774.8 246.8,771.0 251.9,772.9 257.0,773.0 262.0,775.7 267.1,770.5 272.2,771.7 277.3,772.5 282.4,771.0 287.5,774.3 292.6,773.6 297.7,775.1 302.8,775.3 307.9,774.4 313.0,772.8 318.1,771.7 323.2,773.3" fill="none" stroke="#48b8e8" stroke-width="0.55"/>
<g fill="#48b8e8"><circle cx="78.6" cy="823.3" r="0.7"/><circle cx="83.7" cy="823.3" r="0.7"/><circle cx="88.8" cy="823.3" r="0.7"/><circle cx="93.9" cy="823.3" r="0.7"/><circle cx="99.0" cy="823.3" r="0.7"/><circle cx="104.1" cy="823.3" r="0.7"/><circle cx="109.2" cy="823.3" r="0.7"/><circle cx="114.3" cy="823.3" r="0.7"/><circle cx="119.4" cy="823.3" r="0.7"/><circle cx="124.5" cy="823.3" r="0.7"/><circle cx="129.6" cy="823.3" r="0.7"/><circle cx="134.7" cy="823.3" r="0.7"/><circle cx="139.8" cy="823.3" r="0.7"/><circle cx="144.8" cy="823.3" r="0.7"/><circle cx="149.9" cy="823.3" r="0.7"/><circle cx="155.0" cy="823.3" r="0.7"/><circle cx="160.1" cy="823.3" r="0.7"/><circle cx="165.2" cy="823.3" r="0.7"/><circle cx="170.3" cy="822.8" r="0.7"/><circle cx="175.4" cy="820.3" r="0.7"/><circle cx="180.5" cy="816.2" r="0.7"/><circle cx="185.6" cy="812.2" r="0.7"/><circle cx="190.7" cy="805.4" r="0.7"/><circle cx="195.8" cy="801.6" r="0.7"/><circle cx="200.9" cy="795.5" r="0.7"/><circle cx="206.0" cy="790.3" r="0.7"/><circle cx="211.1" cy="788.1" r="0.7"/><circle cx="216.2" cy="780.9" r="0.7"/><circle cx="221.3" cy="779.4" r="0.7"/><circle cx="226.4" cy="778.7" r="0.7"/><circle cx="231.5" cy="774.9" r="0.7"/><circle cx="236.6" cy="772.8" r="0.7"/><circle cx="241.7" cy="774.8" r="0.7"/><circle cx="246.8" cy="771.0" r="0.7"/><circle cx="251.9" cy="772.9" r="0.7"/><circle cx="257.0" cy="773.0" r="0.7"/><circle cx="262.0" cy="775.7" r="0.7"/><circle cx="267.1" cy="770.5" r="0.7"/><circle cx="272.2" cy="771.7" r="0.7"/><circle cx="277.3" cy="772.5" r="0.7"/><circle cx="282.4" cy="771.0" r="0.7"/><circle cx="287.5" cy="774.3" r="0.7"/><circle cx="292.6" cy="773.6" r="0.7"/><circle cx="297.7" cy="775.1" r="0.7"/><circle cx="302.8" cy="775.3" r="0.7"/><circle cx="307.9" cy="774.4" r="0.7"/><circle cx="313.0" cy="772.8" r="0.7"/><circle cx="318.1" cy="771.7" r="0.7"/><circle cx="323.2" cy="773.3" r="0.7"/></g>
<polyline points="78.6,823.3 83.7,823.3 88.8,823.3 93.9,823.3 99.0,823.3 104.1,823.3 109.2,823.3 114.3,823.3 119.4,823.3 124.5,823.3 129.6,823.3 134.7,823.3 139.8,823.3 144.8,823.3 149.9,823.3 155.0,823.3 160.1,823.3 165.2,823.3 170.3,823.3 175.4,823.3 180.5,823.3 185.6,823.3 190.7,823.3 195.8,823.3 200.9,823.3 206.0,823.3 211.1,823.2 216.2,822.1 221.3,819.5 226.4,815.7 231.5,810.3 236.6,805.2 241.7,800.3 246.8,792.7 251.9,789.7 257.0,784.2 262.0,781.3 267.1,775.5 272.2,773.6 277.3,769.4 282.4,766.7 287.5,770.1 292.6,767.9 297.7,766.1 302.8,769.0 307.9,766.6 313.0,766.5 318.1,764.6 323.2,766.2" fill="none" stroke="#48b8e8" stroke-width="0.55"/>
<g fill="#48b8e8"><circle cx="78.6" cy="823.3" r="0.7"/><circle cx="83.7" cy="823.3" r="0.7"/><circle cx="88.8" cy="823.3" r="0.7"/><circle cx="93.9" cy="823.3" r="0.7"/><circle cx="99.0" cy="823.3" r="0.7"/><circle cx="104.1" cy="823.3" r="0.7"/><circle cx="109.2" cy="823.3" r="0.7"/><circle cx="114.3" cy="823.3" r="0.7"/><circle cx="119.4" cy="823.3" r="0.7"/><circle cx="124.5" cy="823.3" r="0.7"/><circle cx="129.6" cy="823.3" r="0.7"/><circle cx="134.7" cy="823.3" r="0.7"/><circle cx="139.8" cy="823.3" r="0.7"/><circle cx="144.8" cy="823.3" r="0.7"/><circle cx="149.9" cy="823.3" r="0.7"/><circle cx="155.0" cy="823.3" r="0.7"/><circle cx="160.1" cy="823.3" r="0.7"/><circle cx="165.2" cy="823.3" r="0.7"/><circle cx="170.3" cy="823.3" r="0.7"/><circle cx="175.4" cy="823.3" r="0.7"/><circle cx="180.5" cy="823.3" r="0.7"/><circle cx="185.6" cy="823.3" r="0.7"/><circle cx="190.7" cy="823.3" r="0.7"/><circle cx="195.8" cy="823.3" r="0.7"/><circle cx="200.9" cy="823.3" r="0.7"/><circle cx="206.0" cy="823.3" r="0.7"/><circle cx="211.1" cy="823.2" r="0.7"/><circle cx="216.2" cy="822.1" r="0.7"/><circle cx="221.3" cy="819.5" r="0.7"/><circle cx="226.4" cy="815.7" r="0.7"/><circle cx="231.5" cy="810.3" r="0.7"/><circle cx="236.6" cy="805.2" r="0.7"/><circle cx="241.7" cy="800.3" r="0.7"/><circle cx="246.8" cy="792.7" r="0.7"/><circle cx="251.9" cy="789.7" r="0.7"/><circle cx="257.0" cy="784.2" r="0.7"/><circle cx="262.0" cy="781.3" r="0.7"/><circle cx="267.1" cy="775.5" r="0.7"/><circle cx="272.2" cy="773.6" r="0.7"/><circle cx="277.3" cy="769.4" r="0.7"/><circle cx="282.4" cy="766.7" r="0.7"/><circle cx="287.5" cy="770.1" r="0.7"/><circle cx="292.6" cy="767.9" r="0.7"/><circle cx="297.7" cy="766.1" r="0.7"/><circle cx="302.8" cy="769.0" r="0.7"/><circle cx="307.9" cy="766.6" r="0.7"/><circle cx="313.0" cy="766.5" r="0.7"/><circle cx="318.1" cy="764.6" r="0.7"/><circle cx="323.2" cy="766.2" r="0.7"/></g>
<polyline points="78.6,823.3 83.7,823.3 88.8,823.3 93.9,823.3 99.0,823.3 104.1,823.3 109.2,823.3 114.3,823.3 119.4,823.3 124.5,823.3 129.6,823.3 134.7,823.3 139.8,823.3 144.8,823.3 149.9,823.3 155.0,823.3 160.1,823.3 165.2,823.3 170.3,823.3 175.4,823.3 180.5,823.3 185.6,823.3 190.7,822.8 195.8,820.9 200.9,817.7 206.0,814.2 211.1,809.7 216.2,803.1 221.3,799.8 226.4,794.3 231.5,788.7 236.6,784.8 241.7,780.5 246.8,776.7 251.9,775.3 257.0,773.9 262.0,773.8 267.1,768.7 272.2,767.3 277.3,765.5 282.4,767.0 287.5,768.5 292.6,769.0 297.7,767.4 302.8,769.7 307.9,769.3 313.0,768.7 318.1,765.5 323.2,767.4" fill="none" stroke="#48b8e8" stroke-width="0.55"/>
<g fill="#48b8e8"><circle cx="78.6" cy="823.3" r="0.7"/><circle cx="83.7" cy="823.3" r="0.7"/><circle cx="88.8" cy="823.3" r="0.7"/><circle cx="93.9" cy="823.3" r="0.7"/><circle cx="99.0" cy="823.3" r="0.7"/><circle cx="104.1" cy="823.3" r="0.7"/><circle cx="109.2" cy="823.3" r="0.7"/><circle cx="114.3" cy="823.3" r="0.7"/><circle cx="119.4" cy="823.3" r="0.7"/><circle cx="124.5" cy="823.3" r="0.7"/><circle cx="129.6" cy="823.3" r="0.7"/><circle cx="134.7" cy="823.3" r="0.7"/><circle cx="139.8" cy="823.3" r="0.7"/><circle cx="144.8" cy="823.3" r="0.7"/><circle cx="149.9" cy="823.3" r="0.7"/><circle cx="155.0" cy="823.3" r="0.7"/><circle cx="160.1" cy="823.3" r="0.7"/><circle cx="165.2" cy="823.3" r="0.7"/><circle cx="170.3" cy="823.3" r="0.7"/><circle cx="175.4" cy="823.3" r="0.7"/><circle cx="180.5" cy="823.3" r="0.7"/><circle cx="185.6" cy="823.3" r="0.7"/><circle cx="190.7" cy="822.8" r="0.7"/><circle cx="195.8" cy="820.9" r="0.7"/><circle cx="200.9" cy="817.7" r="0.7"/><circle cx="206.0" cy="814.2" r="0.7"/><circle cx="211.1" cy="809.7" r="0.7"/><circle cx="216.2" cy="803.1" r="0.7"/><circle cx="221.3" cy="799.8" r="0.7"/><circle cx="226.4" cy="794.3" r="0.7"/><circle cx="231.5" cy="788.7" r="0.7"/><circle cx="236.6" cy="784.8" r="0.7"/><circle cx="241.7" cy="780.5" r="0.7"/><circle cx="246.8" cy="776.7" r="0.7"/><circle cx="251.9" cy="775.3" r="0.7"/><circle cx="257.0" cy="773.9" r="0.7"/><circle cx="262.0" cy="773.8" r="0.7"/><circle cx="267.1" cy="768.7" r="0.7"/><circle cx="272.2" cy="767.3" r="0.7"/><circle cx="277.3" cy="765.5" r="0.7"/><circle cx="282.4" cy="767.0" r="0.7"/><circle cx="287.5" cy="768.5" r="0.7"/><circle cx="292.6" cy="769.0" r="0.7"/><circle cx="297.7" cy="767.4" r="0.7"/><circle cx="302.8" cy="769.7" r="0.7"/><circle cx="307.9" cy="769.3" r="0.7"/><circle cx="313.0" cy="768.7" r="0.7"/><circle cx="318.1" cy="765.5" r="0.7"/><circle cx="323.2" cy="767.4" r="0.7"/></g>
<polyline points="78.6,823.3 83.7,823.3 88.8,823.3 93.9,823.3 99.0,823.3 104.1,823.3 109.2,823.3 114.3,823.3 119.4,823.3 124.5,823.3 129.6,823.3 134.7,823.3 139.8,823.3 144.8,823.3 149.9,823.3 155.0,823.3 160.1,823.3 165.2,823.3 170.3,823.3 175.4,823.3 180.5,823.3 185.6,823.3 190.7,823.2 195.8,822.5 200.9,820.7 206.0,818.4 211.1,815.4 216.2,811.8 221.3,808.3 226.4,804.5 231.5,798.6 236.6,795.4 241.7,793.2 246.8,788.7 251.9,786.1 257.0,783.3 262.0,783.2 267.1,777.5 272.2,775.9 277.3,775.0 282.4,774.0 287.5,773.9 292.6,772.8 297.7,773.0 302.8,773.3 307.9,775.0 313.0,773.4 318.1,772.3 323.2,772.9" fill="none" stroke="#48b8e8" stroke-width="0.55"/>
<g fill="#48b8e8"><circle cx="78.6" cy="823.3" r="0.7"/><circle cx="83.7" cy="823.3" r="0.7"/><circle cx="88.8" cy="823.3" r="0.7"/><circle cx="93.9" cy="823.3" r="0.7"/><circle cx="99.0" cy="823.3" r="0.7"/><circle cx="104.1" cy="823.3" r="0.7"/><circle cx="109.2" cy="823.3" r="0.7"/><circle cx="114.3" cy="823.3" r="0.7"/><circle cx="119.4" cy="823.3" r="0.7"/><circle cx="124.5" cy="823.3" r="0.7"/><circle cx="129.6" cy="823.3" r="0.7"/><circle cx="134.7" cy="823.3" r="0.7"/><circle cx="139.8" cy="823.3" r="0.7"/><circle cx="144.8" cy="823.3" r="0.7"/><circle cx="149.9" cy="823.3" r="0.7"/><circle cx="155.0" cy="823.3" r="0.7"/><circle cx="160.1" cy="823.3" r="0.7"/><circle cx="165.2" cy="823.3" r="0.7"/><circle cx="170.3" cy="823.3" r="0.7"/><circle cx="175.4" cy="823.3" r="0.7"/><circle cx="180.5" cy="823.3" r="0.7"/><circle cx="185.6" cy="823.3" r="0.7"/><circle cx="190.7" cy="823.2" r="0.7"/><circle cx="195.8" cy="822.5" r="0.7"/><circle cx="200.9" cy="820.7" r="0.7"/><circle cx="206.0" cy="818.4" r="0.7"/><circle cx="211.1" cy="815.4" r="0.7"/><circle cx="216.2" cy="811.8" r="0.7"/><circle cx="221.3" cy="808.3" r="0.7"/><circle cx="226.4" cy="804.5" r="0.7"/><circle cx="231.5" cy="798.6" r="0.7"/><circle cx="236.6" cy="795.4" r="0.7"/><circle cx="241.7" cy="793.2" r="0.7"/><circle cx="246.8" cy="788.7" r="0.7"/><circle cx="251.9" cy="786.1" r="0.7"/><circle cx="257.0" cy="783.3" r="0.7"/><circle cx="262.0" cy="783.2" r="0.7"/><circle cx="267.1" cy="777.5" r="0.7"/><circle cx="272.2" cy="775.9" r="0.7"/><circle cx="277.3" cy="775.0" r="0.7"/><circle cx="282.4" cy="774.0" r="0.7"/><circle cx="287.5" cy="773.9" r="0.7"/><circle cx="292.6" cy="772.8" r="0.7"/><circle cx="297.7" cy="773.0" r="0.7"/><circle cx="302.8" cy="773.3" r="0.7"/><circle cx="307.9" cy="775.0" r="0.7"/><circle cx="313.0" cy="773.4" r="0.7"/><circle cx="318.1" cy="772.3" r="0.7"/><circle cx="323.2" cy="772.9" r="0.7"/></g>
<polyline points="78.6,823.3 83.7,823.3 88.8,823.3 93.9,823.3 99.0,823.3 104.1,823.3 109.2,823.3 114.3,823.3 119.4,823.3 124.5,823.3 129.6,823.3 134.7,823.3 139.8,823.3 144.8,823.3 149.9,823.3 155.0,823.3 160.1,823.3 165.2,823.3 170.3,823.3 175.4,823.3 180.5,823.3 185.6,823.3 190.7,823.3 195.8,823.3 200.9,823.3 206.0,823.3 211.1,823.0 216.2,821.0 221.3,817.5 226.4,813.5 231.5,807.1 236.6,802.0 241.7,798.8 246.8,791.8 251.9,789.2 257.0,786.9 262.0,785.6 267.1,781.0 272.2,780.6 277.3,779.0 282.4,777.9 287.5,780.8 292.6,778.9 297.7,779.1 302.8,779.4 307.9,780.7 313.0,780.4 318.1,778.8 323.2,780.9" fill="none" stroke="#48b8e8" stroke-width="0.55"/>
<g fill="#48b8e8"><circle cx="78.6" cy="823.3" r="0.7"/><circle cx="83.7" cy="823.3" r="0.7"/><circle cx="88.8" cy="823.3" r="0.7"/><circle cx="93.9" cy="823.3" r="0.7"/><circle cx="99.0" cy="823.3" r="0.7"/><circle cx="104.1" cy="823.3" r="0.7"/><circle cx="109.2" cy="823.3" r="0.7"/><circle cx="114.3" cy="823.3" r="0.7"/><circle cx="119.4" cy="823.3" r="0.7"/><circle cx="124.5" cy="823.3" r="0.7"/><circle cx="129.6" cy="823.3" r="0.7"/><circle cx="134.7" cy="823.3" r="0.7"/><circle cx="139.8" cy="823.3" r="0.7"/><circle cx="144.8" cy="823.3" r="0.7"/><circle cx="149.9" cy="823.3" r="0.7"/><circle cx="155.0" cy="823.3" r="0.7"/><circle cx="160.1" cy="823.3" r="0.7"/><circle cx="165.2" cy="823.3" r="0.7"/><circle cx="170.3" cy="823.3" r="0.7"/><circle cx="175.4" cy="823.3" r="0.7"/><circle cx="180.5" cy="823.3" r="0.7"/><circle cx="185.6" cy="823.3" r="0.7"/><circle cx="190.7" cy="823.3" r="0.7"/><circle cx="195.8" cy="823.3" r="0.7"/><circle cx="200.9" cy="823.3" r="0.7"/><circle cx="206.0" cy="823.3" r="0.7"/><circle cx="211.1" cy="823.0" r="0.7"/><circle cx="216.2" cy="821.0" r="0.7"/><circle cx="221.3" cy="817.5" r="0.7"/><circle cx="226.4" cy="813.5" r="0.7"/><circle cx="231.5" cy="807.1" r="0.7"/><circle cx="236.6" cy="802.0" r="0.7"/><circle cx="241.7" cy="798.8" r="0.7"/><circle cx="246.8" cy="791.8" r="0.7"/><circle cx="251.9" cy="789.2" r="0.7"/><circle cx="257.0" cy="786.9" r="0.7"/><circle cx="262.0" cy="785.6" r="0.7"/><circle cx="267.1" cy="781.0" r="0.7"/><circle cx="272.2" cy="780.6" r="0.7"/><circle cx="277.3" cy="779.0" r="0.7"/><circle cx="282.4" cy="777.9" r="0.7"/><circle cx="287.5" cy="780.8" r="0.7"/><circle cx="292.6" cy="778.9" r="0.7"/><circle cx="297.7" cy="779.1" r="0.7"/><circle cx="302.8" cy="779.4" r="0.7"/><circle cx="307.9" cy="780.7" r="0.7"/><circle cx="313.0" cy="780.4" r="0.7"/><circle cx="318.1" cy="778.8" r="0.7"/><circle cx="323.2" cy="780.9" r="0.7"/></g>
<polyline points="78.6,823.3 83.7,823.3 88.8,823.3 93.9,823.3 99.0,823.3 104.1,823.3 109.2,823.3 114.3,823.3 119.4,823.3 124.5,823.3 129.6,823.3 134.7,823.3 139.8,823.3 144.8,823.3 149.9,823.3 155.0,823.3 160.1,823.3 165.2,823.3 170.3,823.2 175.4,822.0 180.5,819.9 185.6,816.9 190.7,813.2 195.8,809.5 200.9,803.7 206.0,801.0 211.1,795.4 216.2,789.0 221.3,788.4 226.4,784.0 231.5,777.5 236.6,774.4 241.7,775.1 246.8,769.6 251.9,771.0 257.0,768.1 262.0,771.1 267.1,765.5 272.2,767.3 277.3,764.0 282.4,765.4 287.5,768.3 292.6,766.4 297.7,767.8 302.8,766.7 307.9,768.7 313.0,766.1 318.1,765.6 323.2,767.4" fill="none" stroke="#48b8e8" stroke-width="0.55"/>
<g fill="#48b8e8"><circle cx="78.6" cy="823.3" r="0.7"/><circle cx="83.7" cy="823.3" r="0.7"/><circle cx="88.8" cy="823.3" r="0.7"/><circle cx="93.9" cy="823.3" r="0.7"/><circle cx="99.0" cy="823.3" r="0.7"/><circle cx="104.1" cy="823.3" r="0.7"/><circle cx="109.2" cy="823.3" r="0.7"/><circle cx="114.3" cy="823.3" r="0.7"/><circle cx="119.4" cy="823.3" r="0.7"/><circle cx="124.5" cy="823.3" r="0.7"/><circle cx="129.6" cy="823.3" r="0.7"/><circle cx="134.7" cy="823.3" r="0.7"/><circle cx="139.8" cy="823.3" r="0.7"/><circle cx="144.8" cy="823.3" r="0.7"/><circle cx="149.9" cy="823.3" r="0.7"/><circle cx="155.0" cy="823.3" r="0.7"/><circle cx="160.1" cy="823.3" r="0.7"/><circle cx="165.2" cy="823.3" r="0.7"/><circle cx="170.3" cy="823.2" r="0.7"/><circle cx="175.4" cy="822.0" r="0.7"/><circle cx="180.5" cy="819.9" r="0.7"/><circle cx="185.6" cy="816.9" r="0.7"/><circle cx="190.7" cy="813.2" r="0.7"/><circle cx="195.8" cy="809.5" r="0.7"/><circle cx="200.9" cy="803.7" r="0.7"/><circle cx="206.0" cy="801.0" r="0.7"/><circle cx="211.1" cy="795.4" r="0.7"/><circle cx="216.2" cy="789.0" r="0.7"/><circle cx="221.3" cy="788.4" r="0.7"/><circle cx="226.4" cy="784.0" r="0.7"/><circle cx="231.5" cy="777.5" r="0.7"/><circle cx="236.6" cy="774.4" r="0.7"/><circle cx="241.7" cy="775.1" r="0.7"/><circle cx="246.8" cy="769.6" r="0.7"/><circle cx="251.9" cy="771.0" r="0.7"/><circle cx="257.0" cy="768.1" r="0.7"/><circle cx="262.0" cy="771.1" r="0.7"/><circle cx="267.1" cy="765.5" r="0.7"/><circle cx="272.2" cy="767.3" r="0.7"/><circle cx="277.3" cy="764.0" r="0.7"/><circle cx="282.4" cy="765.4" r="0.7"/><circle cx="287.5" cy="768.3" r="0.7"/><circle cx="292.6" cy="766.4" r="0.7"/><circle cx="297.7" cy="767.8" r="0.7"/><circle cx="302.8" cy="766.7" r="0.7"/><circle cx="307.9" cy="768.7" r="0.7"/><circle cx="313.0" cy="766.1" r="0.7"/><circle cx="318.1" cy="765.6" r="0.7"/><circle cx="323.2" cy="767.4" r="0.7"/></g>
<polyline points="78.6,823.3 83.7,823.3 88.8,823.3 93.9,823.3 99.0,823.3 104.1,823.3 109.2,823.3 114.3,823.3 119.4,823.3 124.5,823.3 129.6,823.3 134.7,823.3 139.8,823.3 144.8,823.3 149.9,823.3 155.0,823.3 160.1,823.3 165.2,823.3 170.3,823.3 175.4,823.3 180.5,823.2 185.6,822.5 190.7,820.8 195.8,818.5 200.9,815.5 206.0,812.0 211.1,808.3 216.2,803.6 221.3,800.5 226.4,797.3 231.5,792.4 236.6,790.6 241.7,788.0 246.8,785.4 251.9,782.7 257.0,780.9 262.0,780.7 267.1,777.8 272.2,779.0 277.3,776.6 282.4,776.6 287.5,777.0 292.6,777.3 297.7,778.2 302.8,777.2 307.9,777.2 313.0,776.7 318.1,776.3 323.2,777.4" fill="none" stroke="#48b8e8" stroke-width="0.55"/>
<g fill="#48b8e8"><circle cx="78.6" cy="823.3" r="0.7"/><circle cx="83.7" cy="823.3" r="0.7"/><circle cx="88.8" cy="823.3" r="0.7"/><circle cx="93.9" cy="823.3" r="0.7"/><circle cx="99.0" cy="823.3" r="0.7"/><circle cx="104.1" cy="823.3" r="0.7"/><circle cx="109.2" cy="823.3" r="0.7"/><circle cx="114.3" cy="823.3" r="0.7"/><circle cx="119.4" cy="823.3" r="0.7"/><circle cx="124.5" cy="823.3" r="0.7"/><circle cx="129.6" cy="823.3" r="0.7"/><circle cx="134.7" cy="823.3" r="0.7"/><circle cx="139.8" cy="823.3" r="0.7"/><circle cx="144.8" cy="823.3" r="0.7"/><circle cx="149.9" cy="823.3" r="0.7"/><circle cx="155.0" cy="823.3" r="0.7"/><circle cx="160.1" cy="823.3" r="0.7"/><circle cx="165.2" cy="823.3" r="0.7"/><circle cx="170.3" cy="823.3" r="0.7"/><circle cx="175.4" cy="823.3" r="0.7"/><circle cx="180.5" cy="823.2" r="0.7"/><circle cx="185.6" cy="822.5" r="0.7"/><circle cx="190.7" cy="820.8" r="0.7"/><circle cx="195.8" cy="818.5" r="0.7"/><circle cx="200.9" cy="815.5" r="0.7"/><circle cx="206.0" cy="812.0" r="0.7"/><circle cx="211.1" cy="808.3" r="0.7"/><circle cx="216.2" cy="803.6" r="0.7"/><circle cx="221.3" cy="800.5" r="0.7"/><circle cx="226.4" cy="797.3" r="0.7"/><circle cx="231.5" cy="792.4" r="0.7"/><circle cx="236.6" cy="790.6" r="0.7"/><circle cx="241.7" cy="788.0" r="0.7"/><circle cx="246.8" cy="785.4" r="0.7"/><circle cx="251.9" cy="782.7" r="0.7"/><circle cx="257.0" cy="780.9" r="0.7"/><circle cx="262.0" cy="780.7" r="0.7"/><circle cx="267.1" cy="777.8" r="0.7"/><circle cx="272.2" cy="779.0" r="0.7"/><circle cx="277.3" cy="776.6" r="0.7"/><circle cx="282.4" cy="776.6" r="0.7"/><circle cx="287.5" cy="777.0" r="0.7"/><circle cx="292.6" cy="777.3" r="0.7"/><circle cx="297.7" cy="778.2" r="0.7"/><circle cx="302.8" cy="777.2" r="0.7"/><circle cx="307.9" cy="777.2" r="0.7"/><circle cx="313.0" cy="776.7" r="0.7"/><circle cx="318.1" cy="776.3" r="0.7"/><circle cx="323.2" cy="777.4" r="0.7"/></g>
<polyline points="78.6,823.3 83.7,823.3 88.8,823.3 93.9,823.3 99.0,823.3 104.1,823.3 109.2,823.3 114.3,823.3 119.4,823.3 124.5,823.3 129.6,823.3 134.7,823.3 139.8,823.3 144.8,823.3 149.9,823.3 155.0,823.3 160.1,823.3 165.2,823.3 170.3,823.3 175.4,823.3 180.5,823.3 185.6,823.3 190.7,823.2 195.8,822.4 200.9,820.7 206.0,818.4 211.1,815.3 216.2,811.3 221.3,808.5 226.4,804.9 231.5,801.1 236.6,797.8 241.7,795.8 246.8,792.5 251.9,792.3 257.0,790.3 262.0,790.2 267.1,787.5 272.2,786.7 277.3,786.1 282.4,786.3 287.5,785.9 292.6,786.4 297.7,786.0 302.8,787.0 307.9,787.9 313.0,787.3 318.1,784.6 323.2,788.1" fill="none" stroke="#48b8e8" stroke-width="0.55"/>
<g fill="#48b8e8"><circle cx="78.6" cy="823.3" r="0.7"/><circle cx="83.7" cy="823.3" r="0.7"/><circle cx="88.8" cy="823.3" r="0.7"/><circle cx="93.9" cy="823.3" r="0.7"/><circle cx="99.0" cy="823.3" r="0.7"/><circle cx="104.1" cy="823.3" r="0.7"/><circle cx="109.2" cy="823.3" r="0.7"/><circle cx="114.3" cy="823.3" r="0.7"/><circle cx="119.4" cy="823.3" r="0.7"/><circle cx="124.5" cy="823.3" r="0.7"/><circle cx="129.6" cy="823.3" r="0.7"/><circle cx="134.7" cy="823.3" r="0.7"/><circle cx="139.8" cy="823.3" r="0.7"/><circle cx="144.8" cy="823.3" r="0.7"/><circle cx="149.9" cy="823.3" r="0.7"/><circle cx="155.0" cy="823.3" r="0.7"/><circle cx="160.1" cy="823.3" r="0.7"/><circle cx="165.2" cy="823.3" r="0.7"/><circle cx="170.3" cy="823.3" r="0.7"/><circle cx="175.4" cy="823.3" r="0.7"/><circle cx="180.5" cy="823.3" r="0.7"/><circle cx="185.6" cy="823.3" r="0.7"/><circle cx="190.7" cy="823.2" r="0.7"/><circle cx="195.8" cy="822.4" r="0.7"/><circle cx="200.9" cy="820.7" r="0.7"/><circle cx="206.0" cy="818.4" r="0.7"/><circle cx="211.1" cy="815.3" r="0.7"/><circle cx="216.2" cy="811.3" r="0.7"/><circle cx="221.3" cy="808.5" r="0.7"/><circle cx="226.4" cy="804.9" r="0.7"/><circle cx="231.5" cy="801.1" r="0.7"/><circle cx="236.6" cy="797.8" r="0.7"/><circle cx="241.7" cy="795.8" r="0.7"/><circle cx="246.8" cy="792.5" r="0.7"/><circle cx="251.9" cy="792.3" r="0.7"/><circle cx="257.0" cy="790.3" r="0.7"/><circle cx="262.0" cy="790.2" r="0.7"/><circle cx="267.1" cy="787.5" r="0.7"/><circle cx="272.2" cy="786.7" r="0.7"/><circle cx="277.3" cy="786.1" r="0.7"/><circle cx="282.4" cy="786.3" r="0.7"/><circle cx="287.5" cy="785.9" r="0.7"/><circle cx="292.6" cy="786.4" r="0.7"/><circle cx="297.7" cy="786.0" r="0.7"/><circle cx="302.8" cy="787.0" r="0.7"/><circle cx="307.9" cy="787.9" r="0.7"/><circle cx="313.0" cy="787.3" r="0.7"/><circle cx="318.1" cy="784.6" r="0.7"/><circle cx="323.2" cy="788.1" r="0.7"/></g>
<polyline points="78.6,823.3 83.7,823.3 88.8,823.3 93.9,823.3 99.0,823.3 104.1,823.3 109.2,823.3 114.3,823.3 119.4,823.3 124.5,823.3 129.6,823.3 134.7,823.3 139.8,823.3 144.8,823.3 149.9,823.3 155.0,823.3 160.1,823.3 165.2,823.3 170.3,823.3 175.4,823.1 180.5,821.9 185.6,819.9 190.7,816.6 195.8,813.5 200.9,809.8 206.0,806.3 211.1,801.9 216.2,797.2 221.3,795.4 226.4,791.5 231.5,787.9 236.6,785.2 241.7,786.3 246.8,782.3 251.9,783.0 257.0,782.7 262.0,781.8 267.1,779.6 272.2,780.4 277.3,779.4 282.4,779.1 287.5,780.2 292.6,779.0 297.7,780.2 302.8,779.6 307.9,781.4 313.0,781.3 318.1,780.0 323.2,780.0" fill="none" stroke="#48b8e8" stroke-width="0.55"/>
<g fill="#48b8e8"><circle cx="78.6" cy="823.3" r="0.7"/><circle cx="83.7" cy="823.3" r="0.7"/><circle cx="88.8" cy="823.3" r="0.7"/><circle cx="93.9" cy="823.3" r="0.7"/><circle cx="99.0" cy="823.3" r="0.7"/><circle cx="104.1" cy="823.3" r="0.7"/><circle cx="109.2" cy="823.3" r="0.7"/><circle cx="114.3" cy="823.3" r="0.7"/><circle cx="119.4" cy="823.3" r="0.7"/><circle cx="124.5" cy="823.3" r="0.7"/><circle cx="129.6" cy="823.3" r="0.7"/><circle cx="134.7" cy="823.3" r="0.7"/><circle cx="139.8" cy="823.3" r="0.7"/><circle cx="144.8" cy="823.3" r="0.7"/><circle cx="149.9" cy="823.3" r="0.7"/><circle cx="155.0" cy="823.3" r="0.7"/><circle cx="160.1" cy="823.3" r="0.7"/><circle cx="165.2" cy="823.3" r="0.7"/><circle cx="170.3" cy="823.3" r="0.7"/><circle cx="175.4" cy="823.1" r="0.7"/><circle cx="180.5" cy="821.9" r="0.7"/><circle cx="185.6" cy="819.9" r="0.7"/><circle cx="190.7" cy="816.6" r="0.7"/><circle cx="195.8" cy="813.5" r="0.7"/><circle cx="200.9" cy="809.8" r="0.7"/><circle cx="206.0" cy="806.3" r="0.7"/><circle cx="211.1" cy="801.9" r="0.7"/><circle cx="216.2" cy="797.2" r="0.7"/><circle cx="221.3" cy="795.4" r="0.7"/><circle cx="226.4" cy="791.5" r="0.7"/><circle cx="231.5" cy="787.9" r="0.7"/><circle cx="236.6" cy="785.2" r="0.7"/><circle cx="241.7" cy="786.3" r="0.7"/><circle cx="246.8" cy="782.3" r="0.7"/><circle cx="251.9" cy="783.0" r="0.7"/><circle cx="257.0" cy="782.7" r="0.7"/><circle cx="262.0" cy="781.8" r="0.7"/><circle cx="267.1" cy="779.6" r="0.7"/><circle cx="272.2" cy="780.4" r="0.7"/><circle cx="277.3" cy="779.4" r="0.7"/><circle cx="282.4" cy="779.1" r="0.7"/><circle cx="287.5" cy="780.2" r="0.7"/><circle cx="292.6" cy="779.0" r="0.7"/><circle cx="297.7" cy="780.2" r="0.7"/><circle cx="302.8" cy="779.6" r="0.7"/><circle cx="307.9" cy="781.4" r="0.7"/><circle cx="313.0" cy="781.3" r="0.7"/><circle cx="318.1" cy="780.0" r="0.7"/><circle cx="323.2" cy="780.0" r="0.7"/></g>
<polyline points="78.6,823.3 83.7,823.3 88.8,823.3 93.9,823.3 99.0,823.3 104.1,823.3 109.2,823.3 114.3,823.3 119.4,823.3 124.5,823.3 129.6,823.3 134.7,823.3 139.8,823.3 144.8,823.3 149.9,823.3 155.0,823.3 160.1,823.3 165.2,823.3 170.3,823.3 175.4,823.3 180.5,823.0 185.6,822.2 190.7,820.5 195.8,818.7 200.9,816.0 206.0,813.8 211.1,810.8 216.2,807.2 221.3,804.6 226.4,802.5 231.5,799.3 236.6,796.4 241.7,796.1 246.8,792.9 251.9,792.0 257.0,791.2 262.0,791.1 267.1,789.6 272.2,789.1 277.3,788.4 282.4,787.4 287.5,788.6 292.6,788.8 297.7,788.8 302.8,789.5 307.9,787.6 313.0,787.1 318.1,787.4 323.2,787.4" fill="none" stroke="#48b8e8" stroke-width="0.55"/>
<g fill="#48b8e8"><circle cx="78.6" cy="823.3" r="0.7"/><circle cx="83.7" cy="823.3" r="0.7"/><circle cx="88.8" cy="823.3" r="0.7"/><circle cx="93.9" cy="823.3" r="0.7"/><circle cx="99.0" cy="823.3" r="0.7"/><circle cx="104.1" cy="823.3" r="0.7"/><circle cx="109.2" cy="823.3" r="0.7"/><circle cx="114.3" cy="823.3" r="0.7"/><circle cx="119.4" cy="823.3" r="0.7"/><circle cx="124.5" cy="823.3" r="0.7"/><circle cx="129.6" cy="823.3" r="0.7"/><circle cx="134.7" cy="823.3" r="0.7"/><circle cx="139.8" cy="823.3" r="0.7"/><circle cx="144.8" cy="823.3" r="0.7"/><circle cx="149.9" cy="823.3" r="0.7"/><circle cx="155.0" cy="823.3" r="0.7"/><circle cx="160.1" cy="823.3" r="0.7"/><circle cx="165.2" cy="823.3" r="0.7"/><circle cx="170.3" cy="823.3" r="0.7"/><circle cx="175.4" cy="823.3" r="0.7"/><circle cx="180.5" cy="823.0" r="0.7"/><circle cx="185.6" cy="822.2" r="0.7"/><circle cx="190.7" cy="820.5" r="0.7"/><circle cx="195.8" cy="818.7" r="0.7"/><circle cx="200.9" cy="816.0" r="0.7"/><circle cx="206.0" cy="813.8" r="0.7"/><circle cx="211.1" cy="810.8" r="0.7"/><circle cx="216.2" cy="807.2" r="0.7"/><circle cx="221.3" cy="804.6" r="0.7"/><circle cx="226.4" cy="802.5" r="0.7"/><circle cx="231.5" cy="799.3" r="0.7"/><circle cx="236.6" cy="796.4" r="0.7"/><circle cx="241.7" cy="796.1" r="0.7"/><circle cx="246.8" cy="792.9" r="0.7"/><circle cx="251.9" cy="792.0" r="0.7"/><circle cx="257.0" cy="791.2" r="0.7"/><circle cx="262.0" cy="791.1" r="0.7"/><circle cx="267.1" cy="789.6" r="0.7"/><circle cx="272.2" cy="789.1" r="0.7"/><circle cx="277.3" cy="788.4" r="0.7"/><circle cx="282.4" cy="787.4" r="0.7"/><circle cx="287.5" cy="788.6" r="0.7"/><circle cx="292.6" cy="788.8" r="0.7"/><circle cx="297.7" cy="788.8" r="0.7"/><circle cx="302.8" cy="789.5" r="0.7"/><circle cx="307.9" cy="787.6" r="0.7"/><circle cx="313.0" cy="787.1" r="0.7"/><circle cx="318.1" cy="787.4" r="0.7"/><circle cx="323.2" cy="787.4" r="0.7"/></g>
<polyline points="78.6,823.3 83.7,823.3 88.8,823.3 93.9,823.3 99.0,823.3 104.1,823.3 109.2,823.3 114.3,823.3 119.4,823.3 124.5,823.3 129.6,823.3 134.7,823.3 139.8,823.3 144.8,823.3 149.9,823.3 155.0,823.3 160.1,823.3 165.2,823.3 170.3,822.9 175.4,821.2 180.5,818.7 185.6,815.4 190.7,811.1 195.8,807.5 200.9,802.6 206.0,798.3 211.1,794.9 216.2,789.5 221.3,787.9 226.4,784.8 231.5,778.9 236.6,776.1 241.7,776.5 246.8,771.5 251.9,772.0 257.0,770.5 262.0,772.5 267.1,769.4 272.2,769.3 277.3,768.1 282.4,769.5 287.5,770.4 292.6,770.3 297.7,770.7 302.8,770.7 307.9,770.8 313.0,769.5 318.1,769.2 323.2,771.9" fill="none" stroke="#48b8e8" stroke-width="0.55"/>
<g fill="#48b8e8"><circle cx="78.6" cy="823.3" r="0.7"/><circle cx="83.7" cy="823.3" r="0.7"/><circle cx="88.8" cy="823.3" r="0.7"/><circle cx="93.9" cy="823.3" r="0.7"/><circle cx="99.0" cy="823.3" r="0.7"/><circle cx="104.1" cy="823.3" r="0.7"/><circle cx="109.2" cy="823.3" r="0.7"/><circle cx="114.3" cy="823.3" r="0.7"/><circle cx="119.4" cy="823.3" r="0.7"/><circle cx="124.5" cy="823.3" r="0.7"/><circle cx="129.6" cy="823.3" r="0.7"/><circle cx="134.7" cy="823.3" r="0.7"/><circle cx="139.8" cy="823.3" r="0.7"/><circle cx="144.8" cy="823.3" r="0.7"/><circle cx="149.9" cy="823.3" r="0.7"/><circle cx="155.0" cy="823.3" r="0.7"/><circle cx="160.1" cy="823.3" r="0.7"/><circle cx="165.2" cy="823.3" r="0.7"/><circle cx="170.3" cy="822.9" r="0.7"/><circle cx="175.4" cy="821.2" r="0.7"/><circle cx="180.5" cy="818.7" r="0.7"/><circle cx="185.6" cy="815.4" r="0.7"/><circle cx="190.7" cy="811.1" r="0.7"/><circle cx="195.8" cy="807.5" r="0.7"/><circle cx="200.9" cy="802.6" r="0.7"/><circle cx="206.0" cy="798.3" r="0.7"/><circle cx="211.1" cy="794.9" r="0.7"/><circle cx="216.2" cy="789.5" r="0.7"/><circle cx="221.3" cy="787.9" r="0.7"/><circle cx="226.4" cy="784.8" r="0.7"/><circle cx="231.5" cy="778.9" r="0.7"/><circle cx="236.6" cy="776.1" r="0.7"/><circle cx="241.7" cy="776.5" r="0.7"/><circle cx="246.8" cy="771.5" r="0.7"/><circle cx="251.9" cy="772.0" r="0.7"/><circle cx="257.0" cy="770.5" r="0.7"/><circle cx="262.0" cy="772.5" r="0.7"/><circle cx="267.1" cy="769.4" r="0.7"/><circle cx="272.2" cy="769.3" r="0.7"/><circle cx="277.3" cy="768.1" r="0.7"/><circle cx="282.4" cy="769.5" r="0.7"/><circle cx="287.5" cy="770.4" r="0.7"/><circle cx="292.6" cy="770.3" r="0.7"/><circle cx="297.7" cy="770.7" r="0.7"/><circle cx="302.8" cy="770.7" r="0.7"/><circle cx="307.9" cy="770.8" r="0.7"/><circle cx="313.0" cy="769.5" r="0.7"/><circle cx="318.1" cy="769.2" r="0.7"/><circle cx="323.2" cy="771.9" r="0.7"/></g>
<polyline points="78.6,823.3 83.7,823.3 88.8,823.3 93.9,823.3 99.0,823.3 104.1,823.3 109.2,823.3 114.3,823.3 119.4,823.3 124.5,823.3 129.6,823.3 134.7,823.3 139.8,823.3 144.8,823.3 149.9,823.3 155.0,823.3 160.1,823.3 165.2,823.3 170.3,823.3 175.4,823.3 180.5,823.3 185.6,823.3 190.7,823.3 195.8,823.3 200.9,823.3 206.0,821.5 211.1,817.0 216.2,810.0 221.3,802.3 226.4,794.8 231.5,785.8 236.6,779.4 241.7,776.1 246.8,767.9 251.9,765.8 257.0,765.4 262.0,765.6 267.1,759.2 272.2,761.8 277.3,758.9 282.4,760.5 287.5,760.5 292.6,761.0 297.7,763.6 302.8,762.6 307.9,761.6 313.0,762.1 318.1,761.1 323.2,762.6" fill="none" stroke="#48b8e8" stroke-width="0.55"/>
<g fill="#48b8e8"><circle cx="78.6" cy="823.3" r="0.7"/><circle cx="83.7" cy="823.3" r="0.7"/><circle cx="88.8" cy="823.3" r="0.7"/><circle cx="93.9" cy="823.3" r="0.7"/><circle cx="99.0" cy="823.3" r="0.7"/><circle cx="104.1" cy="823.3" r="0.7"/><circle cx="109.2" cy="823.3" r="0.7"/><circle cx="114.3" cy="823.3" r="0.7"/><circle cx="119.4" cy="823.3" r="0.7"/><circle cx="124.5" cy="823.3" r="0.7"/><circle cx="129.6" cy="823.3" r="0.7"/><circle cx="134.7" cy="823.3" r="0.7"/><circle cx="139.8" cy="823.3" r="0.7"/><circle cx="144.8" cy="823.3" r="0.7"/><circle cx="149.9" cy="823.3" r="0.7"/><circle cx="155.0" cy="823.3" r="0.7"/><circle cx="160.1" cy="823.3" r="0.7"/><circle cx="165.2" cy="823.3" r="0.7"/><circle cx="170.3" cy="823.3" r="0.7"/><circle cx="175.4" cy="823.3" r="0.7"/><circle cx="180.5" cy="823.3" r="0.7"/><circle cx="185.6" cy="823.3" r="0.7"/><circle cx="190.7" cy="823.3" r="0.7"/><circle cx="195.8" cy="823.3" r="0.7"/><circle cx="200.9" cy="823.3" r="0.7"/><circle cx="206.0" cy="821.5" r="0.7"/><circle cx="211.1" cy="817.0" r="0.7"/><circle cx="216.2" cy="810.0" r="0.7"/><circle cx="221.3" cy="802.3" r="0.7"/><circle cx="226.4" cy="794.8" r="0.7"/><circle cx="231.5" cy="785.8" r="0.7"/><circle cx="236.6" cy="779.4" r="0.7"/><circle cx="241.7" cy="776.1" r="0.7"/><circle cx="246.8" cy="767.9" r="0.7"/><circle cx="251.9" cy="765.8" r="0.7"/><circle cx="257.0" cy="765.4" r="0.7"/><circle cx="262.0" cy="765.6" r="0.7"/><circle cx="267.1" cy="759.2" r="0.7"/><circle cx="272.2" cy="761.8" r="0.7"/><circle cx="277.3" cy="758.9" r="0.7"/><circle cx="282.4" cy="760.5" r="0.7"/><circle cx="287.5" cy="760.5" r="0.7"/><circle cx="292.6" cy="761.0" r="0.7"/><circle cx="297.7" cy="763.6" r="0.7"/><circle cx="302.8" cy="762.6" r="0.7"/><circle cx="307.9" cy="761.6" r="0.7"/><circle cx="313.0" cy="762.1" r="0.7"/><circle cx="318.1" cy="761.1" r="0.7"/><circle cx="323.2" cy="762.6" r="0.7"/></g>
<polyline points="78.6,823.3 83.7,823.3 88.8,823.3 93.9,823.3 99.0,823.3 104.1,823.3 109.2,823.3 114.3,823.3 119.4,823.3 124.5,823.3 129.6,823.3 134.7,823.3 139.8,823.3 144.8,823.3 149.9,823.3 155.0,823.3 160.1,823.3 165.2,823.3 170.3,823.3 175.4,823.3 180.5,823.3 185.6,823.3 190.7,823.3 195.8,823.3 200.9,823.1 206.0,822.3 211.1,821.0 216.2,818.7 221.3,816.6 226.4,814.0 231.5,810.5 236.6,807.0 241.7,805.3 246.8,801.3 251.9,799.4 257.0,795.8 262.0,794.4 267.1,791.3 272.2,790.7 277.3,788.8 282.4,785.8 287.5,787.0 292.6,787.2 297.7,785.8 302.8,784.9 307.9,786.1 313.0,783.4 318.1,784.2 323.2,785.0" fill="none" stroke="#48b8e8" stroke-width="0.55"/>
<g fill="#48b8e8"><circle cx="78.6" cy="823.3" r="0.7"/><circle cx="83.7" cy="823.3" r="0.7"/><circle cx="88.8" cy="823.3" r="0.7"/><circle cx="93.9" cy="823.3" r="0.7"/><circle cx="99.0" cy="823.3" r="0.7"/><circle cx="104.1" cy="823.3" r="0.7"/><circle cx="109.2" cy="823.3" r="0.7"/><circle cx="114.3" cy="823.3" r="0.7"/><circle cx="119.4" cy="823.3" r="0.7"/><circle cx="124.5" cy="823.3" r="0.7"/><circle cx="129.6" cy="823.3" r="0.7"/><circle cx="134.7" cy="823.3" r="0.7"/><circle cx="139.8" cy="823.3" r="0.7"/><circle cx="144.8" cy="823.3" r="0.7"/><circle cx="149.9" cy="823.3" r="0.7"/><circle cx="155.0" cy="823.3" r="0.7"/><circle cx="160.1" cy="823.3" r="0.7"/><circle cx="165.2" cy="823.3" r="0.7"/><circle cx="170.3" cy="823.3" r="0.7"/><circle cx="175.4" cy="823.3" r="0.7"/><circle cx="180.5" cy="823.3" r="0.7"/><circle cx="185.6" cy="823.3" r="0.7"/><circle cx="190.7" cy="823.3" r="0.7"/><circle cx="195.8" cy="823.3" r="0.7"/><circle cx="200.9" cy="823.1" r="0.7"/><circle cx="206.0" cy="822.3" r="0.7"/><circle cx="211.1" cy="821.0" r="0.7"/><circle cx="216.2" cy="818.7" r="0.7"/><circle cx="221.3" cy="816.6" r="0.7"/><circle cx="226.4" cy="814.0" r="0.7"/><circle cx="231.5" cy="810.5" r="0.7"/><circle cx="236.6" cy="807.0" r="0.7"/><circle cx="241.7" cy="805.3" r="0.7"/><circle cx="246.8" cy="801.3" r="0.7"/><circle cx="251.9" cy="799.4" r="0.7"/><circle cx="257.0" cy="795.8" r="0.7"/><circle cx="262.0" cy="794.4" r="0.7"/><circle cx="267.1" cy="791.3" r="0.7"/><circle cx="272.2" cy="790.7" r="0.7"/><circle cx="277.3" cy="788.8" r="0.7"/><circle cx="282.4" cy="785.8" r="0.7"/><circle cx="287.5" cy="787.0" r="0.7"/><circle cx="292.6" cy="787.2" r="0.7"/><circle cx="297.7" cy="785.8" r="0.7"/><circle cx="302.8" cy="784.9" r="0.7"/><circle cx="307.9" cy="786.1" r="0.7"/><circle cx="313.0" cy="783.4" r="0.7"/><circle cx="318.1" cy="784.2" r="0.7"/><circle cx="323.2" cy="785.0" r="0.7"/></g>
<polyline points="78.6,823.3 83.7,823.3 88.8,823.3 93.9,823.3 99.0,823.3 104.1,823.3 109.2,823.3 114.3,823.3 119.4,823.3 124.5,823.3 129.6,823.3 134.7,823.3 139.8,823.3 144.8,823.3 149.9,823.3 155.0,823.3 160.1,823.3 165.2,823.3 170.3,823.3 175.4,823.3 180.5,823.3 185.6,822.8 190.7,821.6 195.8,819.9 200.9,817.7 206.0,815.6 211.1,812.7 216.2,809.3 221.3,807.1 226.4,804.2 231.5,800.4 236.6,798.8 241.7,796.7 246.8,793.6 251.9,792.7 257.0,791.0 262.0,791.9 267.1,787.8 272.2,788.1 277.3,786.4 282.4,787.4 287.5,788.5 292.6,786.8 297.7,786.8 302.8,787.4 307.9,788.7 313.0,787.7 318.1,786.3 323.2,789.0" fill="none" stroke="#48b8e8" stroke-width="0.55"/>
<g fill="#48b8e8"><circle cx="78.6" cy="823.3" r="0.7"/><circle cx="83.7" cy="823.3" r="0.7"/><circle cx="88.8" cy="823.3" r="0.7"/><circle cx="93.9" cy="823.3" r="0.7"/><circle cx="99.0" cy="823.3" r="0.7"/><circle cx="104.1" cy="823.3" r="0.7"/><circle cx="109.2" cy="823.3" r="0.7"/><circle cx="114.3" cy="823.3" r="0.7"/><circle cx="119.4" cy="823.3" r="0.7"/><circle cx="124.5" cy="823.3" r="0.7"/><circle cx="129.6" cy="823.3" r="0.7"/><circle cx="134.7" cy="823.3" r="0.7"/><circle cx="139.8" cy="823.3" r="0.7"/><circle cx="144.8" cy="823.3" r="0.7"/><circle cx="149.9" cy="823.3" r="0.7"/><circle cx="155.0" cy="823.3" r="0.7"/><circle cx="160.1" cy="823.3" r="0.7"/><circle cx="165.2" cy="823.3" r="0.7"/><circle cx="170.3" cy="823.3" r="0.7"/><circle cx="175.4" cy="823.3" r="0.7"/><circle cx="180.5" cy="823.3" r="0.7"/><circle cx="185.6" cy="822.8" r="0.7"/><circle cx="190.7" cy="821.6" r="0.7"/><circle cx="195.8" cy="819.9" r="0.7"/><circle cx="200.9" cy="817.7" r="0.7"/><circle cx="206.0" cy="815.6" r="0.7"/><circle cx="211.1" cy="812.7" r="0.7"/><circle cx="216.2" cy="809.3" r="0.7"/><circle cx="221.3" cy="807.1" r="0.7"/><circle cx="226.4" cy="804.2" r="0.7"/><circle cx="231.5" cy="800.4" r="0.7"/><circle cx="236.6" cy="798.8" r="0.7"/><circle cx="241.7" cy="796.7" r="0.7"/><circle cx="246.8" cy="793.6" r="0.7"/><circle cx="251.9" cy="792.7" r="0.7"/><circle cx="257.0" cy="791.0" r="0.7"/><circle cx="262.0" cy="791.9" r="0.7"/><circle cx="267.1" cy="787.8" r="0.7"/><circle cx="272.2" cy="788.1" r="0.7"/><circle cx="277.3" cy="786.4" r="0.7"/><circle cx="282.4" cy="787.4" r="0.7"/><circle cx="287.5" cy="788.5" r="0.7"/><circle cx="292.6" cy="786.8" r="0.7"/><circle cx="297.7" cy="786.8" r="0.7"/><circle cx="302.8" cy="787.4" r="0.7"/><circle cx="307.9" cy="788.7" r="0.7"/><circle cx="313.0" cy="787.7" r="0.7"/><circle cx="318.1" cy="786.3" r="0.7"/><circle cx="323.2" cy="789.0" r="0.7"/></g>
<polyline points="78.6,823.3 83.7,823.3 88.8,823.3 93.9,823.3 99.0,823.3 104.1,823.3 109.2,823.3 114.3,823.3 119.4,823.3 124.5,823.3 129.6,823.3 134.7,823.3 139.8,823.3 144.8,823.3 149.9,823.3 155.0,823.3 160.1,823.3 165.2,823.3 170.3,823.3 175.4,823.3 180.5,823.3 185.6,823.3 190.7,822.3 195.8,819.2 200.9,814.6 206.0,809.6 211.1,803.8 216.2,795.9 221.3,791.3 226.4,788.0 231.5,782.1 236.6,778.9 241.7,778.6 246.8,774.4 251.9,773.6 257.0,773.4 262.0,773.4 267.1,770.8 272.2,770.6 277.3,770.5 282.4,769.5 287.5,773.3 292.6,772.5 297.7,774.2 302.8,774.2 307.9,774.0 313.0,771.5 318.1,770.2 323.2,773.7" fill="none" stroke="#48b8e8" stroke-width="0.55"/>
<g fill="#48b8e8"><circle cx="78.6" cy="823.3" r="0.7"/><circle cx="83.7" cy="823.3" r="0.7"/><circle cx="88.8" cy="823.3" r="0.7"/><circle cx="93.9" cy="823.3" r="0.7"/><circle cx="99.0" cy="823.3" r="0.7"/><circle cx="104.1" cy="823.3" r="0.7"/><circle cx="109.2" cy="823.3" r="0.7"/><circle cx="114.3" cy="823.3" r="0.7"/><circle cx="119.4" cy="823.3" r="0.7"/><circle cx="124.5" cy="823.3" r="0.7"/><circle cx="129.6" cy="823.3" r="0.7"/><circle cx="134.7" cy="823.3" r="0.7"/><circle cx="139.8" cy="823.3" r="0.7"/><circle cx="144.8" cy="823.3" r="0.7"/><circle cx="149.9" cy="823.3" r="0.7"/><circle cx="155.0" cy="823.3" r="0.7"/><circle cx="160.1" cy="823.3" r="0.7"/><circle cx="165.2" cy="823.3" r="0.7"/><circle cx="170.3" cy="823.3" r="0.7"/><circle cx="175.4" cy="823.3" r="0.7"/><circle cx="180.5" cy="823.3" r="0.7"/><circle cx="185.6" cy="823.3" r="0.7"/><circle cx="190.7" cy="822.3" r="0.7"/><circle cx="195.8" cy="819.2" r="0.7"/><circle cx="200.9" cy="814.6" r="0.7"/><circle cx="206.0" cy="809.6" r="0.7"/><circle cx="211.1" cy="803.8" r="0.7"/><circle cx="216.2" cy="795.9" r="0.7"/><circle cx="221.3" cy="791.3" r="0.7"/><circle cx="226.4" cy="788.0" r="0.7"/><circle cx="231.5" cy="782.1" r="0.7"/><circle cx="236.6" cy="778.9" r="0.7"/><circle cx="241.7" cy="778.6" r="0.7"/><circle cx="246.8" cy="774.4" r="0.7"/><circle cx="251.9" cy="773.6" r="0.7"/><circle cx="257.0" cy="773.4" r="0.7"/><circle cx="262.0" cy="773.4" r="0.7"/><circle cx="267.1" cy="770.8" r="0.7"/><circle cx="272.2" cy="770.6" r="0.7"/><circle cx="277.3" cy="770.5" r="0.7"/><circle cx="282.4" cy="769.5" r="0.7"/><circle cx="287.5" cy="773.3" r="0.7"/><circle cx="292.6" cy="772.5" r="0.7"/><circle cx="297.7" cy="774.2" r="0.7"/><circle cx="302.8" cy="774.2" r="0.7"/><circle cx="307.9" cy="774.0" r="0.7"/><circle cx="313.0" cy="771.5" r="0.7"/><circle cx="318.1" cy="770.2" r="0.7"/><circle cx="323.2" cy="773.7" r="0.7"/></g>
<polyline points="78.6,823.3 83.7,823.3 88.8,823.3 93.9,823.3 99.0,823.3 104.1,823.3 109.2,823.3 114.3,823.3 119.4,823.3 124.5,823.3 129.6,823.3 134.7,823.3 139.8,823.3 144.8,823.3 149.9,823.3 155.0,823.3 160.1,823.3 165.2,823.3 170.3,823.3 175.4,822.7 180.5,821.0 185.6,818.6 190.7,815.2 195.8,812.2 200.9,808.6 206.0,805.7 211.1,802.2 216.2,797.7 221.3,797.7 226.4,796.0 231.5,791.5 236.6,790.3 241.7,791.8 246.8,788.6 251.9,789.9 257.0,788.6 262.0,791.3 267.1,789.5 272.2,788.3 277.3,788.4 282.4,789.2 287.5,789.3 292.6,790.7 297.7,790.8 302.8,789.7 307.9,789.9 313.0,789.8 318.1,788.8 323.2,790.3" fill="none" stroke="#48b8e8" stroke-width="0.55"/>
<g fill="#48b8e8"><circle cx="78.6" cy="823.3" r="0.7"/><circle cx="83.7" cy="823.3" r="0.7"/><circle cx="88.8" cy="823.3" r="0.7"/><circle cx="93.9" cy="823.3" r="0.7"/><circle cx="99.0" cy="823.3" r="0.7"/><circle cx="104.1" cy="823.3" r="0.7"/><circle cx="109.2" cy="823.3" r="0.7"/><circle cx="114.3" cy="823.3" r="0.7"/><circle cx="119.4" cy="823.3" r="0.7"/><circle cx="124.5" cy="823.3" r="0.7"/><circle cx="129.6" cy="823.3" r="0.7"/><circle cx="134.7" cy="823.3" r="0.7"/><circle cx="139.8" cy="823.3" r="0.7"/><circle cx="144.8" cy="823.3" r="0.7"/><circle cx="149.9" cy="823.3" r="0.7"/><circle cx="155.0" cy="823.3" r="0.7"/><circle cx="160.1" cy="823.3" r="0.7"/><circle cx="165.2" cy="823.3" r="0.7"/><circle cx="170.3" cy="823.3" r="0.7"/><circle cx="175.4" cy="822.7" r="0.7"/><circle cx="180.5" cy="821.0" r="0.7"/><circle cx="185.6" cy="818.6" r="0.7"/><circle cx="190.7" cy="815.2" r="0.7"/><circle cx="195.8" cy="812.2" r="0.7"/><circle cx="200.9" cy="808.6" r="0.7"/><circle cx="206.0" cy="805.7" r="0.7"/><circle cx="211.1" cy="802.2" r="0.7"/><circle cx="216.2" cy="797.7" r="0.7"/><circle cx="221.3" cy="797.7" r="0.7"/><circle cx="226.4" cy="796.0" r="0.7"/><circle cx="231.5" cy="791.5" r="0.7"/><circle cx="236.6" cy="790.3" r="0.7"/><circle cx="241.7" cy="791.8" r="0.7"/><circle cx="246.8" cy="788.6" r="0.7"/><circle cx="251.9" cy="789.9" r="0.7"/><circle cx="257.0" cy="788.6" r="0.7"/><circle cx="262.0" cy="791.3" r="0.7"/><circle cx="267.1" cy="789.5" r="0.7"/><circle cx="272.2" cy="788.3" r="0.7"/><circle cx="277.3" cy="788.4" r="0.7"/><circle cx="282.4" cy="789.2" r="0.7"/><circle cx="287.5" cy="789.3" r="0.7"/><circle cx="292.6" cy="790.7" r="0.7"/><circle cx="297.7" cy="790.8" r="0.7"/><circle cx="302.8" cy="789.7" r="0.7"/><circle cx="307.9" cy="789.9" r="0.7"/><circle cx="313.0" cy="789.8" r="0.7"/><circle cx="318.1" cy="788.8" r="0.7"/><circle cx="323.2" cy="790.3" r="0.7"/></g>
<polyline points="78.6,823.3 83.7,823.3 88.8,823.3 93.9,823.3 99.0,823.3 104.1,823.3 109.2,823.3 114.3,823.3 119.4,823.3 124.5,823.3 129.6,823.3 134.7,823.3 139.8,823.3 144.8,823.3 149.9,823.3 155.0,823.3 160.1,823.3 165.2,823.3 170.3,823.3 175.4,823.3 180.5,823.3 185.6,823.3 190.7,823.3 195.8,823.2 200.9,822.6 206.0,821.2 211.1,819.4 216.2,816.7 221.3,814.4 226.4,811.5 231.5,807.6 236.6,804.9 241.7,803.2 246.8,799.8 251.9,796.9 257.0,795.6 262.0,794.0 267.1,790.9 272.2,791.7 277.3,790.1 282.4,789.4 287.5,790.7 292.6,789.7 297.7,789.0 302.8,788.7 307.9,789.8 313.0,788.3 318.1,787.2 323.2,788.4" fill="none" stroke="#48b8e8" stroke-width="0.55"/>
<g fill="#48b8e8"><circle cx="78.6" cy="823.3" r="0.7"/><circle cx="83.7" cy="823.3" r="0.7"/><circle cx="88.8" cy="823.3" r="0.7"/><circle cx="93.9" cy="823.3" r="0.7"/><circle cx="99.0" cy="823.3" r="0.7"/><circle cx="104.1" cy="823.3" r="0.7"/><circle cx="109.2" cy="823.3" r="0.7"/><circle cx="114.3" cy="823.3" r="0.7"/><circle cx="119.4" cy="823.3" r="0.7"/><circle cx="124.5" cy="823.3" r="0.7"/><circle cx="129.6" cy="823.3" r="0.7"/><circle cx="134.7" cy="823.3" r="0.7"/><circle cx="139.8" cy="823.3" r="0.7"/><circle cx="144.8" cy="823.3" r="0.7"/><circle cx="149.9" cy="823.3" r="0.7"/><circle cx="155.0" cy="823.3" r="0.7"/><circle cx="160.1" cy="823.3" r="0.7"/><circle cx="165.2" cy="823.3" r="0.7"/><circle cx="170.3" cy="823.3" r="0.7"/><circle cx="175.4" cy="823.3" r="0.7"/><circle cx="180.5" cy="823.3" r="0.7"/><circle cx="185.6" cy="823.3" r="0.7"/><circle cx="190.7" cy="823.3" r="0.7"/><circle cx="195.8" cy="823.2" r="0.7"/><circle cx="200.9" cy="822.6" r="0.7"/><circle cx="206.0" cy="821.2" r="0.7"/><circle cx="211.1" cy="819.4" r="0.7"/><circle cx="216.2" cy="816.7" r="0.7"/><circle cx="221.3" cy="814.4" r="0.7"/><circle cx="226.4" cy="811.5" r="0.7"/><circle cx="231.5" cy="807.6" r="0.7"/><circle cx="236.6" cy="804.9" r="0.7"/><circle cx="241.7" cy="803.2" r="0.7"/><circle cx="246.8" cy="799.8" r="0.7"/><circle cx="251.9" cy="796.9" r="0.7"/><circle cx="257.0" cy="795.6" r="0.7"/><circle cx="262.0" cy="794.0" r="0.7"/><circle cx="267.1" cy="790.9" r="0.7"/><circle cx="272.2" cy="791.7" r="0.7"/><circle cx="277.3" cy="790.1" r="0.7"/><circle cx="282.4" cy="789.4" r="0.7"/><circle cx="287.5" cy="790.7" r="0.7"/><circle cx="292.6" cy="789.7" r="0.7"/><circle cx="297.7" cy="789.0" r="0.7"/><circle cx="302.8" cy="788.7" r="0.7"/><circle cx="307.9" cy="789.8" r="0.7"/><circle cx="313.0" cy="788.3" r="0.7"/><circle cx="318.1" cy="787.2" r="0.7"/><circle cx="323.2" cy="788.4" r="0.7"/></g>
<polyline points="78.6,823.3 83.7,823.3 88.8,823.3 93.9,823.3 99.0,823.3 104.1,823.3 109.2,823.3 114.3,823.3 119.4,823.3 124.5,823.3 129.6,823.3 134.7,823.3 139.8,823.3 144.8,823.3 149.9,823.3 155.0,823.3 160.1,823.3 165.2,823.3 170.3,823.3 175.4,823.3 180.5,823.3 185.6,823.3 190.7,823.3 195.8,823.3 200.9,823.1 206.0,822.5 211.1,821.5 216.2,820.1 221.3,818.9 226.4,817.4 231.5,815.8 236.6,814.3 241.7,813.5 246.8,812.1 251.9,811.7 257.0,810.5 262.0,810.9 267.1,809.6 272.2,809.2 277.3,809.2 282.4,809.1 287.5,809.4 292.6,809.4 297.7,809.3 302.8,809.2 307.9,809.8 313.0,809.3 318.1,809.0 323.2,809.6" fill="none" stroke="#48b8e8" stroke-width="0.55"/>
<g fill="#48b8e8"><circle cx="78.6" cy="823.3" r="0.7"/><circle cx="83.7" cy="823.3" r="0.7"/><circle cx="88.8" cy="823.3" r="0.7"/><circle cx="93.9" cy="823.3" r="0.7"/><circle cx="99.0" cy="823.3" r="0.7"/><circle cx="104.1" cy="823.3" r="0.7"/><circle cx="109.2" cy="823.3" r="0.7"/><circle cx="114.3" cy="823.3" r="0.7"/><circle cx="119.4" cy="823.3" r="0.7"/><circle cx="124.5" cy="823.3" r="0.7"/><circle cx="129.6" cy="823.3" r="0.7"/><circle cx="134.7" cy="823.3" r="0.7"/><circle cx="139.8" cy="823.3" r="0.7"/><circle cx="144.8" cy="823.3" r="0.7"/><circle cx="149.9" cy="823.3" r="0.7"/><circle cx="155.0" cy="823.3" r="0.7"/><circle cx="160.1" cy="823.3" r="0.7"/><circle cx="165.2" cy="823.3" r="0.7"/><circle cx="170.3" cy="823.3" r="0.7"/><circle cx="175.4" cy="823.3" r="0.7"/><circle cx="180.5" cy="823.3" r="0.7"/><circle cx="185.6" cy="823.3" r="0.7"/><circle cx="190.7" cy="823.3" r="0.7"/><circle cx="195.8" cy="823.3" r="0.7"/><circle cx="200.9" cy="823.1" r="0.7"/><circle cx="206.0" cy="822.5" r="0.7"/><circle cx="211.1" cy="821.5" r="0.7"/><circle cx="216.2" cy="820.1" r="0.7"/><circle cx="221.3" cy="818.9" r="0.7"/><circle cx="226.4" cy="817.4" r="0.7"/><circle cx="231.5" cy="815.8" r="0.7"/><circle cx="236.6" cy="814.3" r="0.7"/><circle cx="241.7" cy="813.5" r="0.7"/><circle cx="246.8" cy="812.1" r="0.7"/><circle cx="251.9" cy="811.7" r="0.7"/><circle cx="257.0" cy="810.5" r="0.7"/><circle cx="262.0" cy="810.9" r="0.7"/><circle cx="267.1" cy="809.6" r="0.7"/><circle cx="272.2" cy="809.2" r="0.7"/><circle cx="277.3" cy="809.2" r="0.7"/><circle cx="282.4" cy="809.1" r="0.7"/><circle cx="287.5" cy="809.4" r="0.7"/><circle cx="292.6" cy="809.4" r="0.7"/><circle cx="297.7" cy="809.3" r="0.7"/><circle cx="302.8" cy="809.2" r="0.7"/><circle cx="307.9" cy="809.8" r="0.7"/><circle cx="313.0" cy="809.3" r="0.7"/><circle cx="318.1" cy="809.0" r="0.7"/><circle cx="323.2" cy="809.6" r="0.7"/></g>
<polyline points="78.6,823.3 83.7,823.3 88.8,823.3 93.9,823.3 99.0,823.3 104.1,823.3 109.2,823.3 114.3,823.3 119.4,823.3 124.5,823.3 129.6,823.3 134.7,823.3 139.8,823.3 144.8,823.3 149.9,823.3 155.0,823.3 160.1,823.3 165.2,823.3 170.3,823.3 175.4,823.3 180.5,823.3 185.6,823.3 190.7,823.3 195.8,823.3 200.9,823.3 206.0,823.3 211.1,823.3 216.2,823.3 221.3,823.3 226.4,823.3 231.5,823.0 236.6,822.1 241.7,820.7 246.8,818.8 251.9,816.8 257.0,814.8 262.0,812.5 267.1,810.3 272.2,808.3 277.3,807.1 282.4,805.6 287.5,804.8 292.6,804.5 297.7,804.3 302.8,803.5 307.9,802.8 313.0,802.0 318.1,802.3 323.2,802.5" fill="none" stroke="#48b8e8" stroke-width="0.55"/>
<g fill="#48b8e8"><circle cx="78.6" cy="823.3" r="0.7"/><circle cx="83.7" cy="823.3" r="0.7"/><circle cx="88.8" cy="823.3" r="0.7"/><circle cx="93.9" cy="823.3" r="0.7"/><circle cx="99.0" cy="823.3" r="0.7"/><circle cx="104.1" cy="823.3" r="0.7"/><circle cx="109.2" cy="823.3" r="0.7"/><circle cx="114.3" cy="823.3" r="0.7"/><circle cx="119.4" cy="823.3" r="0.7"/><circle cx="124.5" cy="823.3" r="0.7"/><circle cx="129.6" cy="823.3" r="0.7"/><circle cx="134.7" cy="823.3" r="0.7"/><circle cx="139.8" cy="823.3" r="0.7"/><circle cx="144.8" cy="823.3" r="0.7"/><circle cx="149.9" cy="823.3" r="0.7"/><circle cx="155.0" cy="823.3" r="0.7"/><circle cx="160.1" cy="823.3" r="0.7"/><circle cx="165.2" cy="823.3" r="0.7"/><circle cx="170.3" cy="823.3" r="0.7"/><circle cx="175.4" cy="823.3" r="0.7"/><circle cx="180.5" cy="823.3" r="0.7"/><circle cx="185.6" cy="823.3" r="0.7"/><circle cx="190.7" cy="823.3" r="0.7"/><circle cx="195.8" cy="823.3" r="0.7"/><circle cx="200.9" cy="823.3" r="0.7"/><circle cx="206.0" cy="823.3" r="0.7"/><circle cx="211.1" cy="823.3" r="0.7"/><circle cx="216.2" cy="823.3" r="0.7"/><circle cx="221.3" cy="823.3" r="0.7"/><circle cx="226.4" cy="823.3" r="0.7"/><circle cx="231.5" cy="823.0" r="0.7"/><circle cx="236.6" cy="822.1" r="0.7"/><circle cx="241.7" cy="820.7" r="0.7"/><circle cx="246.8" cy="818.8" r="0.7"/><circle cx="251.9" cy="816.8" r="0.7"/><circle cx="257.0" cy="814.8" r="0.7"/><circle cx="262.0" cy="812.5" r="0.7"/><circle cx="267.1" cy="810.3" r="0.7"/><circle cx="272.2" cy="808.3" r="0.7"/><circle cx="277.3" cy="807.1" r="0.7"/><circle cx="282.4" cy="805.6" r="0.7"/><circle cx="287.5" cy="804.8" r="0.7"/><circle cx="292.6" cy="804.5" r="0.7"/><circle cx="297.7" cy="804.3" r="0.7"/><circle cx="302.8" cy="803.5" r="0.7"/><circle cx="307.9" cy="802.8" r="0.7"/><circle cx="313.0" cy="802.0" r="0.7"/><circle cx="318.1" cy="802.3" r="0.7"/><circle cx="323.2" cy="802.5" r="0.7"/></g>
<polyline points="78.6,823.3 83.7,823.3 88.8,823.3 93.9,823.3 99.0,823.3 104.1,823.3 109.2,823.3 114.3,823.3 119.4,823.3 124.5,823.3 129.6,823.3 134.7,823.3 139.8,823.3 144.8,823.3 149.9,823.3 155.0,823.3 160.1,823.3 165.2,823.3 170.3,823.3 175.4,823.3 180.5,823.2 185.6,822.8 190.7,821.8 195.8,820.4 200.9,818.4 206.0,816.7 211.1,814.4 216.2,811.7 221.3,810.0 226.4,807.8 231.5,805.5 236.6,803.4 241.7,803.0 246.8,801.0 251.9,800.1 257.0,798.9 262.0,800.0 267.1,797.1 272.2,796.8 277.3,797.4 282.4,795.8 287.5,797.5 292.6,796.5 297.7,797.6 302.8,797.5 307.9,797.2 313.0,797.3 318.1,796.8 323.2,797.2" fill="none" stroke="#48b8e8" stroke-width="0.55"/>
<g fill="#48b8e8"><circle cx="78.6" cy="823.3" r="0.7"/><circle cx="83.7" cy="823.3" r="0.7"/><circle cx="88.8" cy="823.3" r="0.7"/><circle cx="93.9" cy="823.3" r="0.7"/><circle cx="99.0" cy="823.3" r="0.7"/><circle cx="104.1" cy="823.3" r="0.7"/><circle cx="109.2" cy="823.3" r="0.7"/><circle cx="114.3" cy="823.3" r="0.7"/><circle cx="119.4" cy="823.3" r="0.7"/><circle cx="124.5" cy="823.3" r="0.7"/><circle cx="129.6" cy="823.3" r="0.7"/><circle cx="134.7" cy="823.3" r="0.7"/><circle cx="139.8" cy="823.3" r="0.7"/><circle cx="144.8" cy="823.3" r="0.7"/><circle cx="149.9" cy="823.3" r="0.7"/><circle cx="155.0" cy="823.3" r="0.7"/><circle cx="160.1" cy="823.3" r="0.7"/><circle cx="165.2" cy="823.3" r="0.7"/><circle cx="170.3" cy="823.3" r="0.7"/><circle cx="175.4" cy="823.3" r="0.7"/><circle cx="180.5" cy="823.2" r="0.7"/><circle cx="185.6" cy="822.8" r="0.7"/><circle cx="190.7" cy="821.8" r="0.7"/><circle cx="195.8" cy="820.4" r="0.7"/><circle cx="200.9" cy="818.4" r="0.7"/><circle cx="206.0" cy="816.7" r="0.7"/><circle cx="211.1" cy="814.4" r="0.7"/><circle cx="216.2" cy="811.7" r="0.7"/><circle cx="221.3" cy="810.0" r="0.7"/><circle cx="226.4" cy="807.8" r="0.7"/><circle cx="231.5" cy="805.5" r="0.7"/><circle cx="236.6" cy="803.4" r="0.7"/><circle cx="241.7" cy="803.0" r="0.7"/><circle cx="246.8" cy="801.0" r="0.7"/><circle cx="251.9" cy="800.1" r="0.7"/><circle cx="257.0" cy="798.9" r="0.7"/><circle cx="262.0" cy="800.0" r="0.7"/><circle cx="267.1" cy="797.1" r="0.7"/><circle cx="272.2" cy="796.8" r="0.7"/><circle cx="277.3" cy="797.4" r="0.7"/><circle cx="282.4" cy="795.8" r="0.7"/><circle cx="287.5" cy="797.5" r="0.7"/><circle cx="292.6" cy="796.5" r="0.7"/><circle cx="297.7" cy="797.6" r="0.7"/><circle cx="302.8" cy="797.5" r="0.7"/><circle cx="307.9" cy="797.2" r="0.7"/><circle cx="313.0" cy="797.3" r="0.7"/><circle cx="318.1" cy="796.8" r="0.7"/><circle cx="323.2" cy="797.2" r="0.7"/></g>
<polyline points="78.6,823.3 83.7,823.3 88.8,823.3 93.9,823.3 99.0,823.3 104.1,823.3 109.2,823.3 114.3,823.3 119.4,823.3 124.5,823.3 129.6,823.3 134.7,823.3 139.8,823.3 144.8,823.3 149.9,823.3 155.0,823.3 160.1,823.3 165.2,823.3 170.3,823.3 175.4,823.3 180.5,823.3 185.6,823.3 190.7,823.3 195.8,823.3 200.9,823.3 206.0,823.2 211.1,822.6 216.2,821.2 221.3,819.6 226.4,817.5 231.5,814.7 236.6,811.7 241.7,809.6 246.8,806.3 251.9,804.6 257.0,802.5 262.0,801.1 267.1,798.6 272.2,796.7 277.3,795.2 282.4,794.4 287.5,794.2 292.6,794.8 297.7,793.9 302.8,794.5 307.9,794.2 313.0,792.8 318.1,792.3 323.2,792.8" fill="none" stroke="#48b8e8" stroke-width="0.55"/>
<g fill="#48b8e8"><circle cx="78.6" cy="823.3" r="0.7"/><circle cx="83.7" cy="823.3" r="0.7"/><circle cx="88.8" cy="823.3" r="0.7"/><circle cx="93.9" cy="823.3" r="0.7"/><circle cx="99.0" cy="823.3" r="0.7"/><circle cx="104.1" cy="823.3" r="0.7"/><circle cx="109.2" cy="823.3" r="0.7"/><circle cx="114.3" cy="823.3" r="0.7"/><circle cx="119.4" cy="823.3" r="0.7"/><circle cx="124.5" cy="823.3" r="0.7"/><circle cx="129.6" cy="823.3" r="0.7"/><circle cx="134.7" cy="823.3" r="0.7"/><circle cx="139.8" cy="823.3" r="0.7"/><circle cx="144.8" cy="823.3" r="0.7"/><circle cx="149.9" cy="823.3" r="0.7"/><circle cx="155.0" cy="823.3" r="0.7"/><circle cx="160.1" cy="823.3" r="0.7"/><circle cx="165.2" cy="823.3" r="0.7"/><circle cx="170.3" cy="823.3" r="0.7"/><circle cx="175.4" cy="823.3" r="0.7"/><circle cx="180.5" cy="823.3" r="0.7"/><circle cx="185.6" cy="823.3" r="0.7"/><circle cx="190.7" cy="823.3" r="0.7"/><circle cx="195.8" cy="823.3" r="0.7"/><circle cx="200.9" cy="823.3" r="0.7"/><circle cx="206.0" cy="823.2" r="0.7"/><circle cx="211.1" cy="822.6" r="0.7"/><circle cx="216.2" cy="821.2" r="0.7"/><circle cx="221.3" cy="819.6" r="0.7"/><circle cx="226.4" cy="817.5" r="0.7"/><circle cx="231.5" cy="814.7" r="0.7"/><circle cx="236.6" cy="811.7" r="0.7"/><circle cx="241.7" cy="809.6" r="0.7"/><circle cx="246.8" cy="806.3" r="0.7"/><circle cx="251.9" cy="804.6" r="0.7"/><circle cx="257.0" cy="802.5" r="0.7"/><circle cx="262.0" cy="801.1" r="0.7"/><circle cx="267.1" cy="798.6" r="0.7"/><circle cx="272.2" cy="796.7" r="0.7"/><circle cx="277.3" cy="795.2" r="0.7"/><circle cx="282.4" cy="794.4" r="0.7"/><circle cx="287.5" cy="794.2" r="0.7"/><circle cx="292.6" cy="794.8" r="0.7"/><circle cx="297.7" cy="793.9" r="0.7"/><circle cx="302.8" cy="794.5" r="0.7"/><circle cx="307.9" cy="794.2" r="0.7"/><circle cx="313.0" cy="792.8" r="0.7"/><circle cx="318.1" cy="792.3" r="0.7"/><circle cx="323.2" cy="792.8" r="0.7"/></g>
<polyline points="78.6,823.3 83.7,823.3 88.8,823.3 93.9,823.3 99.0,823.3 104.1,823.3 109.2,823.3 114.3,823.3 119.4,823.3 124.5,823.3 129.6,823.3 134.7,823.3 139.8,823.3 144.8,823.3 149.9,823.3 155.0,823.3 160.1,823.3 165.2,823.3 170.3,823.3 175.4,823.3 180.5,823.3 185.6,823.3 190.7,823.0 195.8,822.4 200.9,821.3 206.0,820.1 211.1,818.5 216.2,816.5 221.3,814.8 226.4,813.2 231.5,811.0 236.6,808.9 241.7,808.6 246.8,806.2 251.9,805.4 257.0,804.5 262.0,803.6 267.1,802.2 272.2,801.1 277.3,800.2 282.4,801.1 287.5,801.5 292.6,800.5 297.7,800.6 302.8,801.1 307.9,801.0 313.0,799.6 318.1,799.1 323.2,800.8" fill="none" stroke="#48b8e8" stroke-width="0.55"/>
<g fill="#48b8e8"><circle cx="78.6" cy="823.3" r="0.7"/><circle cx="83.7" cy="823.3" r="0.7"/><circle cx="88.8" cy="823.3" r="0.7"/><circle cx="93.9" cy="823.3" r="0.7"/><circle cx="99.0" cy="823.3" r="0.7"/><circle cx="104.1" cy="823.3" r="0.7"/><circle cx="109.2" cy="823.3" r="0.7"/><circle cx="114.3" cy="823.3" r="0.7"/><circle cx="119.4" cy="823.3" r="0.7"/><circle cx="124.5" cy="823.3" r="0.7"/><circle cx="129.6" cy="823.3" r="0.7"/><circle cx="134.7" cy="823.3" r="0.7"/><circle cx="139.8" cy="823.3" r="0.7"/><circle cx="144.8" cy="823.3" r="0.7"/><circle cx="149.9" cy="823.3" r="0.7"/><circle cx="155.0" cy="823.3" r="0.7"/><circle cx="160.1" cy="823.3" r="0.7"/><circle cx="165.2" cy="823.3" r="0.7"/><circle cx="170.3" cy="823.3" r="0.7"/><circle cx="175.4" cy="823.3" r="0.7"/><circle cx="180.5" cy="823.3" r="0.7"/><circle cx="185.6" cy="823.3" r="0.7"/><circle cx="190.7" cy="823.0" r="0.7"/><circle cx="195.8" cy="822.4" r="0.7"/><circle cx="200.9" cy="821.3" r="0.7"/><circle cx="206.0" cy="820.1" r="0.7"/><circle cx="211.1" cy="818.5" r="0.7"/><circle cx="216.2" cy="816.5" r="0.7"/><circle cx="221.3" cy="814.8" r="0.7"/><circle cx="226.4" cy="813.2" r="0.7"/><circle cx="231.5" cy="811.0" r="0.7"/><circle cx="236.6" cy="808.9" r="0.7"/><circle cx="241.7" cy="808.6" r="0.7"/><circle cx="246.8" cy="806.2" r="0.7"/><circle cx="251.9" cy="805.4" r="0.7"/><circle cx="257.0" cy="804.5" r="0.7"/><circle cx="262.0" cy="803.6" r="0.7"/><circle cx="267.1" cy="802.2" r="0.7"/><circle cx="272.2" cy="801.1" r="0.7"/><circle cx="277.3" cy="800.2" r="0.7"/><circle cx="282.4" cy="801.1" r="0.7"/><circle cx="287.5" cy="801.5" r="0.7"/><circle cx="292.6" cy="800.5" r="0.7"/><circle cx="297.7" cy="800.6" r="0.7"/><circle cx="302.8" cy="801.1" r="0.7"/><circle cx="307.9" cy="801.0" r="0.7"/><circle cx="313.0" cy="799.6" r="0.7"/><circle cx="318.1" cy="799.1" r="0.7"/><circle cx="323.2" cy="800.8" r="0.7"/></g>
<polyline points="78.6,823.3 83.7,823.3 88.8,823.3 93.9,823.3 99.0,823.3 104.1,823.3 109.2,823.3 114.3,823.3 119.4,823.3 124.5,823.3 129.6,823.3 134.7,823.3 139.8,823.3 144.8,823.3 149.9,823.3 155.0,823.3 160.1,823.3 165.2,823.3 170.3,823.3 175.4,823.3 180.5,823.3 185.6,823.3 190.7,822.9 195.8,822.2 200.9,821.2 206.0,820.1 211.1,818.8 216.2,817.0 221.3,816.0 226.4,814.7 231.5,812.9 236.6,812.2 241.7,811.7 246.8,810.5 251.9,810.3 257.0,809.9 262.0,810.3 267.1,809.3 272.2,809.1 277.3,808.5 282.4,809.1 287.5,809.7 292.6,809.3 297.7,809.0 302.8,809.1 307.9,809.7 313.0,809.1 318.1,809.2 323.2,809.2" fill="none" stroke="#48b8e8" stroke-width="0.55"/>
<g fill="#48b8e8"><circle cx="78.6" cy="823.3" r="0.7"/><circle cx="83.7" cy="823.3" r="0.7"/><circle cx="88.8" cy="823.3" r="0.7"/><circle cx="93.9" cy="823.3" r="0.7"/><circle cx="99.0" cy="823.3" r="0.7"/><circle cx="104.1" cy="823.3" r="0.7"/><circle cx="109.2" cy="823.3" r="0.7"/><circle cx="114.3" cy="823.3" r="0.7"/><circle cx="119.4" cy="823.3" r="0.7"/><circle cx="124.5" cy="823.3" r="0.7"/><circle cx="129.6" cy="823.3" r="0.7"/><circle cx="134.7" cy="823.3" r="0.7"/><circle cx="139.8" cy="823.3" r="0.7"/><circle cx="144.8" cy="823.3" r="0.7"/><circle cx="149.9" cy="823.3" r="0.7"/><circle cx="155.0" cy="823.3" r="0.7"/><circle cx="160.1" cy="823.3" r="0.7"/><circle cx="165.2" cy="823.3" r="0.7"/><circle cx="170.3" cy="823.3" r="0.7"/><circle cx="175.4" cy="823.3" r="0.7"/><circle cx="180.5" cy="823.3" r="0.7"/><circle cx="185.6" cy="823.3" r="0.7"/><circle cx="190.7" cy="822.9" r="0.7"/><circle cx="195.8" cy="822.2" r="0.7"/><circle cx="200.9" cy="821.2" r="0.7"/><circle cx="206.0" cy="820.1" r="0.7"/><circle cx="211.1" cy="818.8" r="0.7"/><circle cx="216.2" cy="817.0" r="0.7"/><circle cx="221.3" cy="816.0" r="0.7"/><circle cx="226.4" cy="814.7" r="0.7"/><circle cx="231.5" cy="812.9" r="0.7"/><circle cx="236.6" cy="812.2" r="0.7"/><circle cx="241.7" cy="811.7" r="0.7"/><circle cx="246.8" cy="810.5" r="0.7"/><circle cx="251.9" cy="810.3" r="0.7"/><circle cx="257.0" cy="809.9" r="0.7"/><circle cx="262.0" cy="810.3" r="0.7"/><circle cx="267.1" cy="809.3" r="0.7"/><circle cx="272.2" cy="809.1" r="0.7"/><circle cx="277.3" cy="808.5" r="0.7"/><circle cx="282.4" cy="809.1" r="0.7"/><circle cx="287.5" cy="809.7" r="0.7"/><circle cx="292.6" cy="809.3" r="0.7"/><circle cx="297.7" cy="809.0" r="0.7"/><circle cx="302.8" cy="809.1" r="0.7"/><circle cx="307.9" cy="809.7" r="0.7"/><circle cx="313.0" cy="809.1" r="0.7"/><circle cx="318.1" cy="809.2" r="0.7"/><circle cx="323.2" cy="809.2" r="0.7"/></g>
<polyline points="78.6,823.3 83.7,823.3 88.8,823.3 93.9,823.3 99.0,823.3 104.1,823.3 109.2,823.3 114.3,823.3 119.4,823.3 124.5,823.3 129.6,823.3 134.7,823.3 139.8,823.3 144.8,823.3 149.9,823.3 155.0,823.3 160.1,823.3 165.2,823.3 170.3,823.3 175.4,823.3 180.5,823.3 185.6,823.3 190.7,823.3 195.8,823.3 200.9,823.3 206.0,823.3 211.1,823.3 216.2,823.2 221.3,822.9 226.4,822.3 231.5,821.4 236.6,820.2 241.7,819.3 246.8,818.0 251.9,816.9 257.0,815.6 262.0,814.4 267.1,812.8 272.2,812.5 277.3,811.5 282.4,810.9 287.5,810.2 292.6,810.1 297.7,810.2 302.8,809.8 307.9,809.5 313.0,809.0 318.1,808.6 323.2,808.9" fill="none" stroke="#48b8e8" stroke-width="0.55"/>
<g fill="#48b8e8"><circle cx="78.6" cy="823.3" r="0.7"/><circle cx="83.7" cy="823.3" r="0.7"/><circle cx="88.8" cy="823.3" r="0.7"/><circle cx="93.9" cy="823.3" r="0.7"/><circle cx="99.0" cy="823.3" r="0.7"/><circle cx="104.1" cy="823.3" r="0.7"/><circle cx="109.2" cy="823.3" r="0.7"/><circle cx="114.3" cy="823.3" r="0.7"/><circle cx="119.4" cy="823.3" r="0.7"/><circle cx="124.5" cy="823.3" r="0.7"/><circle cx="129.6" cy="823.3" r="0.7"/><circle cx="134.7" cy="823.3" r="0.7"/><circle cx="139.8" cy="823.3" r="0.7"/><circle cx="144.8" cy="823.3" r="0.7"/><circle cx="149.9" cy="823.3" r="0.7"/><circle cx="155.0" cy="823.3" r="0.7"/><circle cx="160.1" cy="823.3" r="0.7"/><circle cx="165.2" cy="823.3" r="0.7"/><circle cx="170.3" cy="823.3" r="0.7"/><circle cx="175.4" cy="823.3" r="0.7"/><circle cx="180.5" cy="823.3" r="0.7"/><circle cx="185.6" cy="823.3" r="0.7"/><circle cx="190.7" cy="823.3" r="0.7"/><circle cx="195.8" cy="823.3" r="0.7"/><circle cx="200.9" cy="823.3" r="0.7"/><circle cx="206.0" cy="823.3" r="0.7"/><circle cx="211.1" cy="823.3" r="0.7"/><circle cx="216.2" cy="823.2" r="0.7"/><circle cx="221.3" cy="822.9" r="0.7"/><circle cx="226.4" cy="822.3" r="0.7"/><circle cx="231.5" cy="821.4" r="0.7"/><circle cx="236.6" cy="820.2" r="0.7"/><circle cx="241.7" cy="819.3" r="0.7"/><circle cx="246.8" cy="818.0" r="0.7"/><circle cx="251.9" cy="816.9" r="0.7"/><circle cx="257.0" cy="815.6" r="0.7"/><circle cx="262.0" cy="814.4" r="0.7"/><circle cx="267.1" cy="812.8" r="0.7"/><circle cx="272.2" cy="812.5" r="0.7"/><circle cx="277.3" cy="811.5" r="0.7"/><circle cx="282.4" cy="810.9" r="0.7"/><circle cx="287.5" cy="810.2" r="0.7"/><circle cx="292.6" cy="810.1" r="0.7"/><circle cx="297.7" cy="810.2" r="0.7"/><circle cx="302.8" cy="809.8" r="0.7"/><circle cx="307.9" cy="809.5" r="0.7"/><circle cx="313.0" cy="809.0" r="0.7"/><circle cx="318.1" cy="808.6" r="0.7"/><circle cx="323.2" cy="808.9" r="0.7"/></g>
<polyline points="78.6,823.3 83.7,823.3 88.8,823.3 93.9,823.3 99.0,823.3 104.1,823.3 109.2,823.3 114.3,823.3 119.4,823.3 124.5,823.3 129.6,823.3 134.7,823.3 139.8,823.3 144.8,823.3 149.9,823.3 155.0,823.3 160.1,823.3 165.2,823.3 170.3,823.3 175.4,823.3 180.5,822.7 185.6,821.1 190.7,818.4 195.8,815.9 200.9,812.5 206.0,810.2 211.1,807.2 216.2,803.5 221.3,802.3 226.4,800.8 231.5,798.5 236.6,798.7 241.7,798.1 246.8,797.8 251.9,798.1 257.0,797.2 262.0,797.7 267.1,796.4 272.2,796.8 277.3,796.1 282.4,796.7 287.5,798.3 292.6,797.8 297.7,797.7 302.8,797.5 307.9,798.1 313.0,797.4 318.1,796.3 323.2,797.8" fill="none" stroke="#48b8e8" stroke-width="0.55"/>
<g fill="#48b8e8"><circle cx="78.6" cy="823.3" r="0.7"/><circle cx="83.7" cy="823.3" r="0.7"/><circle cx="88.8" cy="823.3" r="0.7"/><circle cx="93.9" cy="823.3" r="0.7"/><circle cx="99.0" cy="823.3" r="0.7"/><circle cx="104.1" cy="823.3" r="0.7"/><circle cx="109.2" cy="823.3" r="0.7"/><circle cx="114.3" cy="823.3" r="0.7"/><circle cx="119.4" cy="823.3" r="0.7"/><circle cx="124.5" cy="823.3" r="0.7"/><circle cx="129.6" cy="823.3" r="0.7"/><circle cx="134.7" cy="823.3" r="0.7"/><circle cx="139.8" cy="823.3" r="0.7"/><circle cx="144.8" cy="823.3" r="0.7"/><circle cx="149.9" cy="823.3" r="0.7"/><circle cx="155.0" cy="823.3" r="0.7"/><circle cx="160.1" cy="823.3" r="0.7"/><circle cx="165.2" cy="823.3" r="0.7"/><circle cx="170.3" cy="823.3" r="0.7"/><circle cx="175.4" cy="823.3" r="0.7"/><circle cx="180.5" cy="822.7" r="0.7"/><circle cx="185.6" cy="821.1" r="0.7"/><circle cx="190.7" cy="818.4" r="0.7"/><circle cx="195.8" cy="815.9" r="0.7"/><circle cx="200.9" cy="812.5" r="0.7"/><circle cx="206.0" cy="810.2" r="0.7"/><circle cx="211.1" cy="807.2" r="0.7"/><circle cx="216.2" cy="803.5" r="0.7"/><circle cx="221.3" cy="802.3" r="0.7"/><circle cx="226.4" cy="800.8" r="0.7"/><circle cx="231.5" cy="798.5" r="0.7"/><circle cx="236.6" cy="798.7" r="0.7"/><circle cx="241.7" cy="798.1" r="0.7"/><circle cx="246.8" cy="797.8" r="0.7"/><circle cx="251.9" cy="798.1" r="0.7"/><circle cx="257.0" cy="797.2" r="0.7"/><circle cx="262.0" cy="797.7" r="0.7"/><circle cx="267.1" cy="796.4" r="0.7"/><circle cx="272.2" cy="796.8" r="0.7"/><circle cx="277.3" cy="796.1" r="0.7"/><circle cx="282.4" cy="796.7" r="0.7"/><circle cx="287.5" cy="798.3" r="0.7"/><circle cx="292.6" cy="797.8" r="0.7"/><circle cx="297.7" cy="797.7" r="0.7"/><circle cx="302.8" cy="797.5" r="0.7"/><circle cx="307.9" cy="798.1" r="0.7"/><circle cx="313.0" cy="797.4" r="0.7"/><circle cx="318.1" cy="796.3" r="0.7"/><circle cx="323.2" cy="797.8" r="0.7"/></g>
<polyline points="78.6,823.3 83.7,823.3 88.8,823.3 93.9,823.3 99.0,823.3 104.1,823.3 109.2,823.3 114.3,823.3 119.4,823.3 124.5,823.3 129.6,823.3 134.7,823.3 139.8,823.3 144.8,823.3 149.9,823.3 155.0,823.3 160.1,823.3 165.2,823.3 170.3,823.3 175.4,823.3 180.5,823.3 185.6,823.3 190.7,823.3 195.8,823.3 200.9,823.3 206.0,823.3 211.1,823.3 216.2,823.3 221.3,823.3 226.4,823.2 231.5,822.7 236.6,821.9 241.7,820.8 246.8,819.4 251.9,817.9 257.0,816.3 262.0,815.1 267.1,813.2 272.2,812.2 277.3,811.1 282.4,810.2 287.5,809.7 292.6,808.9 297.7,809.1 302.8,808.1 307.9,807.8 313.0,807.6 318.1,806.8 323.2,807.8" fill="none" stroke="#48b8e8" stroke-width="0.55"/>
<g fill="#48b8e8"><circle cx="78.6" cy="823.3" r="0.7"/><circle cx="83.7" cy="823.3" r="0.7"/><circle cx="88.8" cy="823.3" r="0.7"/><circle cx="93.9" cy="823.3" r="0.7"/><circle cx="99.0" cy="823.3" r="0.7"/><circle cx="104.1" cy="823.3" r="0.7"/><circle cx="109.2" cy="823.3" r="0.7"/><circle cx="114.3" cy="823.3" r="0.7"/><circle cx="119.4" cy="823.3" r="0.7"/><circle cx="124.5" cy="823.3" r="0.7"/><circle cx="129.6" cy="823.3" r="0.7"/><circle cx="134.7" cy="823.3" r="0.7"/><circle cx="139.8" cy="823.3" r="0.7"/><circle cx="144.8" cy="823.3" r="0.7"/><circle cx="149.9" cy="823.3" r="0.7"/><circle cx="155.0" cy="823.3" r="0.7"/><circle cx="160.1" cy="823.3" r="0.7"/><circle cx="165.2" cy="823.3" r="0.7"/><circle cx="170.3" cy="823.3" r="0.7"/><circle cx="175.4" cy="823.3" r="0.7"/><circle cx="180.5" cy="823.3" r="0.7"/><circle cx="185.6" cy="823.3" r="0.7"/><circle cx="190.7" cy="823.3" r="0.7"/><circle cx="195.8" cy="823.3" r="0.7"/><circle cx="200.9" cy="823.3" r="0.7"/><circle cx="206.0" cy="823.3" r="0.7"/><circle cx="211.1" cy="823.3" r="0.7"/><circle cx="216.2" cy="823.3" r="0.7"/><circle cx="221.3" cy="823.3" r="0.7"/><circle cx="226.4" cy="823.2" r="0.7"/><circle cx="231.5" cy="822.7" r="0.7"/><circle cx="236.6" cy="821.9" r="0.7"/><circle cx="241.7" cy="820.8" r="0.7"/><circle cx="246.8" cy="819.4" r="0.7"/><circle cx="251.9" cy="817.9" r="0.7"/><circle cx="257.0" cy="816.3" r="0.7"/><circle cx="262.0" cy="815.1" r="0.7"/><circle cx="267.1" cy="813.2" r="0.7"/><circle cx="272.2" cy="812.2" r="0.7"/><circle cx="277.3" cy="811.1" r="0.7"/><circle cx="282.4" cy="810.2" r="0.7"/><circle cx="287.5" cy="809.7" r="0.7"/><circle cx="292.6" cy="808.9" r="0.7"/><circle cx="297.7" cy="809.1" r="0.7"/><circle cx="302.8" cy="808.1" r="0.7"/><circle cx="307.9" cy="807.8" r="0.7"/><circle cx="313.0" cy="807.6" r="0.7"/><circle cx="318.1" cy="806.8" r="0.7"/><circle cx="323.2" cy="807.8" r="0.7"/></g>
<polyline points="78.6,823.3 83.7,823.3 88.8,823.3 93.9,823.3 99.0,823.3 104.1,823.3 109.2,823.3 114.3,823.3 119.4,823.3 124.5,823.3 129.6,823.3 134.7,823.3 139.8,823.3 144.8,823.3 149.9,823.3 155.0,823.3 160.1,823.3 165.2,823.3 170.3,823.3 175.4,823.1 180.5,822.4 185.6,821.3 190.7,819.5 195.8,817.8 200.9,815.6 206.0,813.4 211.1,811.8 216.2,808.8 221.3,807.6 226.4,804.9 231.5,802.7 236.6,800.9 241.7,800.6 246.8,798.3 251.9,798.5 257.0,797.7 262.0,796.9 267.1,795.6 272.2,795.9 277.3,794.8 282.4,795.5 287.5,795.4 292.6,795.8 297.7,796.1 302.8,796.2 307.9,796.7 313.0,795.1 318.1,794.6 323.2,795.5" fill="none" stroke="#48b8e8" stroke-width="0.55"/>
<g fill="#48b8e8"><circle cx="78.6" cy="823.3" r="0.7"/><circle cx="83.7" cy="823.3" r="0.7"/><circle cx="88.8" cy="823.3" r="0.7"/><circle cx="93.9" cy="823.3" r="0.7"/><circle cx="99.0" cy="823.3" r="0.7"/><circle cx="104.1" cy="823.3" r="0.7"/><circle cx="109.2" cy="823.3" r="0.7"/><circle cx="114.3" cy="823.3" r="0.7"/><circle cx="119.4" cy="823.3" r="0.7"/><circle cx="124.5" cy="823.3" r="0.7"/><circle cx="129.6" cy="823.3" r="0.7"/><circle cx="134.7" cy="823.3" r="0.7"/><circle cx="139.8" cy="823.3" r="0.7"/><circle cx="144.8" cy="823.3" r="0.7"/><circle cx="149.9" cy="823.3" r="0.7"/><circle cx="155.0" cy="823.3" r="0.7"/><circle cx="160.1" cy="823.3" r="0.7"/><circle cx="165.2" cy="823.3" r="0.7"/><circle cx="170.3" cy="823.3" r="0.7"/><circle cx="175.4" cy="823.1" r="0.7"/><circle cx="180.5" cy="822.4" r="0.7"/><circle cx="185.6" cy="821.3" r="0.7"/><circle cx="190.7" cy="819.5" r="0.7"/><circle cx="195.8" cy="817.8" r="0.7"/><circle cx="200.9" cy="815.6" r="0.7"/><circle cx="206.0" cy="813.4" r="0.7"/><circle cx="211.1" cy="811.8" r="0.7"/><circle cx="216.2" cy="808.8" r="0.7"/><circle cx="221.3" cy="807.6" r="0.7"/><circle cx="226.4" cy="804.9" r="0.7"/><circle cx="231.5" cy="802.7" r="0.7"/><circle cx="236.6" cy="800.9" r="0.7"/><circle cx="241.7" cy="800.6" r="0.7"/><circle cx="246.8" cy="798.3" r="0.7"/><circle cx="251.9" cy="798.5" r="0.7"/><circle cx="257.0" cy="797.7" r="0.7"/><circle cx="262.0" cy="796.9" r="0.7"/><circle cx="267.1" cy="795.6" r="0.7"/><circle cx="272.2" cy="795.9" r="0.7"/><circle cx="277.3" cy="794.8" r="0.7"/><circle cx="282.4" cy="795.5" r="0.7"/><circle cx="287.5" cy="795.4" r="0.7"/><circle cx="292.6" cy="795.8" r="0.7"/><circle cx="297.7" cy="796.1" r="0.7"/><circle cx="302.8" cy="796.2" r="0.7"/><circle cx="307.9" cy="796.7" r="0.7"/><circle cx="313.0" cy="795.1" r="0.7"/><circle cx="318.1" cy="794.6" r="0.7"/><circle cx="323.2" cy="795.5" r="0.7"/></g>
<polyline points="78.6,823.3 83.7,823.3 88.8,823.3 93.9,823.3 99.0,823.3 104.1,823.3 109.2,823.3 114.3,823.3 119.4,823.3 124.5,823.3 129.6,823.3 134.7,823.3 139.8,823.3 144.8,823.3 149.9,823.3 155.0,823.3 160.1,823.3 165.2,823.3 170.3,823.3 175.4,823.3 180.5,823.3 185.6,823.3 190.7,823.3 195.8,823.3 200.9,823.3 206.0,823.3 211.1,823.3 216.2,823.3 221.3,823.3 226.4,823.3 231.5,823.2 236.6,822.8 241.7,822.2 246.8,821.3 251.9,820.4 257.0,819.3 262.0,818.3 267.1,816.8 272.2,815.6 277.3,814.7 282.4,813.7 287.5,812.9 292.6,812.4 297.7,812.0 302.8,811.0 307.9,810.5 313.0,810.6 318.1,810.1 323.2,810.1" fill="none" stroke="#48b8e8" stroke-width="0.55"/>
<g fill="#48b8e8"><circle cx="78.6" cy="823.3" r="0.7"/><circle cx="83.7" cy="823.3" r="0.7"/><circle cx="88.8" cy="823.3" r="0.7"/><circle cx="93.9" cy="823.3" r="0.7"/><circle cx="99.0" cy="823.3" r="0.7"/><circle cx="104.1" cy="823.3" r="0.7"/><circle cx="109.2" cy="823.3" r="0.7"/><circle cx="114.3" cy="823.3" r="0.7"/><circle cx="119.4" cy="823.3" r="0.7"/><circle cx="124.5" cy="823.3" r="0.7"/><circle cx="129.6" cy="823.3" r="0.7"/><circle cx="134.7" cy="823.3" r="0.7"/><circle cx="139.8" cy="823.3" r="0.7"/><circle cx="144.8" cy="823.3" r="0.7"/><circle cx="149.9" cy="823.3" r="0.7"/><circle cx="155.0" cy="823.3" r="0.7"/><circle cx="160.1" cy="823.3" r="0.7"/><circle cx="165.2" cy="823.3" r="0.7"/><circle cx="170.3" cy="823.3" r="0.7"/><circle cx="175.4" cy="823.3" r="0.7"/><circle cx="180.5" cy="823.3" r="0.7"/><circle cx="185.6" cy="823.3" r="0.7"/><circle cx="190.7" cy="823.3" r="0.7"/><circle cx="195.8" cy="823.3" r="0.7"/><circle cx="200.9" cy="823.3" r="0.7"/><circle cx="206.0" cy="823.3" r="0.7"/><circle cx="211.1" cy="823.3" r="0.7"/><circle cx="216.2" cy="823.3" r="0.7"/><circle cx="221.3" cy="823.3" r="0.7"/><circle cx="226.4" cy="823.3" r="0.7"/><circle cx="231.5" cy="823.2" r="0.7"/><circle cx="236.6" cy="822.8" r="0.7"/><circle cx="241.7" cy="822.2" r="0.7"/><circle cx="246.8" cy="821.3" r="0.7"/><circle cx="251.9" cy="820.4" r="0.7"/><circle cx="257.0" cy="819.3" r="0.7"/><circle cx="262.0" cy="818.3" r="0.7"/><circle cx="267.1" cy="816.8" r="0.7"/><circle cx="272.2" cy="815.6" r="0.7"/><circle cx="277.3" cy="814.7" r="0.7"/><circle cx="282.4" cy="813.7" r="0.7"/><circle cx="287.5" cy="812.9" r="0.7"/><circle cx="292.6" cy="812.4" r="0.7"/><circle cx="297.7" cy="812.0" r="0.7"/><circle cx="302.8" cy="811.0" r="0.7"/><circle cx="307.9" cy="810.5" r="0.7"/><circle cx="313.0" cy="810.6" r="0.7"/><circle cx="318.1" cy="810.1" r="0.7"/><circle cx="323.2" cy="810.1" r="0.7"/></g>
<polyline points="78.6,823.3 83.7,823.3 88.8,823.3 93.9,823.3 99.0,823.3 104.1,823.3 109.2,823.3 114.3,823.3 119.4,823.3 124.5,823.3 129.6,823.3 134.7,823.3 139.8,823.3 144.8,823.3 149.9,823.3 155.0,823.3 160.1,823.3 165.2,823.3 170.3,823.3 175.4,823.3 180.5,823.3 185.6,823.3 190.7,823.3 195.8,823.3 200.9,823.3 206.0,823.3 211.1,823.3 216.2,823.3 221.3,823.3 226.4,823.3 231.5,823.2 236.6,823.0 241.7,822.5 246.8,821.7 251.9,820.8 257.0,819.6 262.0,818.8 267.1,817.4 272.2,816.5 277.3,815.1 282.4,813.8 287.5,813.5 292.6,813.0 297.7,812.0 302.8,811.9 307.9,811.4 313.0,810.7 318.1,809.8 323.2,810.2" fill="none" stroke="#48b8e8" stroke-width="0.55"/>
<g fill="#48b8e8"><circle cx="78.6" cy="823.3" r="0.7"/><circle cx="83.7" cy="823.3" r="0.7"/><circle cx="88.8" cy="823.3" r="0.7"/><circle cx="93.9" cy="823.3" r="0.7"/><circle cx="99.0" cy="823.3" r="0.7"/><circle cx="104.1" cy="823.3" r="0.7"/><circle cx="109.2" cy="823.3" r="0.7"/><circle cx="114.3" cy="823.3" r="0.7"/><circle cx="119.4" cy="823.3" r="0.7"/><circle cx="124.5" cy="823.3" r="0.7"/><circle cx="129.6" cy="823.3" r="0.7"/><circle cx="134.7" cy="823.3" r="0.7"/><circle cx="139.8" cy="823.3" r="0.7"/><circle cx="144.8" cy="823.3" r="0.7"/><circle cx="149.9" cy="823.3" r="0.7"/><circle cx="155.0" cy="823.3" r="0.7"/><circle cx="160.1" cy="823.3" r="0.7"/><circle cx="165.2" cy="823.3" r="0.7"/><circle cx="170.3" cy="823.3" r="0.7"/><circle cx="175.4" cy="823.3" r="0.7"/><circle cx="180.5" cy="823.3" r="0.7"/><circle cx="185.6" cy="823.3" r="0.7"/><circle cx="190.7" cy="823.3" r="0.7"/><circle cx="195.8" cy="823.3" r="0.7"/><circle cx="200.9" cy="823.3" r="0.7"/><circle cx="206.0" cy="823.3" r="0.7"/><circle cx="211.1" cy="823.3" r="0.7"/><circle cx="216.2" cy="823.3" r="0.7"/><circle cx="221.3" cy="823.3" r="0.7"/><circle cx="226.4" cy="823.3" r="0.7"/><circle cx="231.5" cy="823.2" r="0.7"/><circle cx="236.6" cy="823.0" r="0.7"/><circle cx="241.7" cy="822.5" r="0.7"/><circle cx="246.8" cy="821.7" r="0.7"/><circle cx="251.9" cy="820.8" r="0.7"/><circle cx="257.0" cy="819.6" r="0.7"/><circle cx="262.0" cy="818.8" r="0.7"/><circle cx="267.1" cy="817.4" r="0.7"/><circle cx="272.2" cy="816.5" r="0.7"/><circle cx="277.3" cy="815.1" r="0.7"/><circle cx="282.4" cy="813.8" r="0.7"/><circle cx="287.5" cy="813.5" r="0.7"/><circle cx="292.6" cy="813.0" r="0.7"/><circle cx="297.7" cy="812.0" r="0.7"/><circle cx="302.8" cy="811.9" r="0.7"/><circle cx="307.9" cy="811.4" r="0.7"/><circle cx="313.0" cy="810.7" r="0.7"/><circle cx="318.1" cy="809.8" r="0.7"/><circle cx="323.2" cy="810.2" r="0.7"/></g>
<polyline points="78.6,823.3 83.7,823.3 88.8,823.3 93.9,823.3 99.0,823.3 104.1,823.3 109.2,823.3 114.3,823.3 119.4,823.3 124.5,823.3 129.6,823.3 134.7,823.3 139.8,823.3 144.8,823.3 149.9,823.3 155.0,823.3 160.1,823.3 165.2,823.3 170.3,823.3 175.4,823.3 180.5,823.3 185.6,823.3 190.7,823.3 195.8,823.3 200.9,823.3 206.0,823.3 211.1,823.3 216.2,823.3 221.3,823.3 226.4,823.3 231.5,823.3 236.6,823.3 241.7,823.3 246.8,823.3 251.9,823.3 257.0,823.3 262.0,823.1 267.1,822.3 272.2,820.8 277.3,818.8 282.4,816.4 287.5,814.3 292.6,812.1 297.7,810.1 302.8,807.8 307.9,806.0 313.0,803.9 318.1,802.5 323.2,802.5" fill="none" stroke="#48b8e8" stroke-width="0.55"/>
<g fill="#48b8e8"><circle cx="78.6" cy="823.3" r="0.7"/><circle cx="83.7" cy="823.3" r="0.7"/><circle cx="88.8" cy="823.3" r="0.7"/><circle cx="93.9" cy="823.3" r="0.7"/><circle cx="99.0" cy="823.3" r="0.7"/><circle cx="104.1" cy="823.3" r="0.7"/><circle cx="109.2" cy="823.3" r="0.7"/><circle cx="114.3" cy="823.3" r="0.7"/><circle cx="119.4" cy="823.3" r="0.7"/><circle cx="124.5" cy="823.3" r="0.7"/><circle cx="129.6" cy="823.3" r="0.7"/><circle cx="134.7" cy="823.3" r="0.7"/><circle cx="139.8" cy="823.3" r="0.7"/><circle cx="144.8" cy="823.3" r="0.7"/><circle cx="149.9" cy="823.3" r="0.7"/><circle cx="155.0" cy="823.3" r="0.7"/><circle cx="160.1" cy="823.3" r="0.7"/><circle cx="165.2" cy="823.3" r="0.7"/><circle cx="170.3" cy="823.3" r="0.7"/><circle cx="175.4" cy="823.3" r="0.7"/><circle cx="180.5" cy="823.3" r="0.7"/><circle cx="185.6" cy="823.3" r="0.7"/><circle cx="190.7" cy="823.3" r="0.7"/><circle cx="195.8" cy="823.3" r="0.7"/><circle cx="200.9" cy="823.3" r="0.7"/><circle cx="206.0" cy="823.3" r="0.7"/><circle cx="211.1" cy="823.3" r="0.7"/><circle cx="216.2" cy="823.3" r="0.7"/><circle cx="221.3" cy="823.3" r="0.7"/><circle cx="226.4" cy="823.3" r="0.7"/><circle cx="231.5" cy="823.3" r="0.7"/><circle cx="236.6" cy="823.3" r="0.7"/><circle cx="241.7" cy="823.3" r="0.7"/><circle cx="246.8" cy="823.3" r="0.7"/><circle cx="251.9" cy="823.3" r="0.7"/><circle cx="257.0" cy="823.3" r="0.7"/><circle cx="262.0" cy="823.1" r="0.7"/><circle cx="267.1" cy="822.3" r="0.7"/><circle cx="272.2" cy="820.8" r="0.7"/><circle cx="277.3" cy="818.8" r="0.7"/><circle cx="282.4" cy="816.4" r="0.7"/><circle cx="287.5" cy="814.3" r="0.7"/><circle cx="292.6" cy="812.1" r="0.7"/><circle cx="297.7" cy="810.1" r="0.7"/><circle cx="302.8" cy="807.8" r="0.7"/><circle cx="307.9" cy="806.0" r="0.7"/><circle cx="313.0" cy="803.9" r="0.7"/><circle cx="318.1" cy="802.5" r="0.7"/><circle cx="323.2" cy="802.5" r="0.7"/></g>
<polyline points="78.6,823.3 83.7,823.3 88.8,823.3 93.9,823.3 99.0,823.3 104.1,823.3 109.2,823.3 114.3,823.3 119.4,823.3 124.5,823.3 129.6,823.3 134.7,823.3 139.8,823.3 144.8,823.3 149.9,823.3 155.0,823.3 160.1,823.3 165.2,823.3 170.3,823.3 175.4,823.3 180.5,823.3 185.6,823.3 190.7,823.3 195.8,823.3 200.9,823.3 206.0,823.3 211.1,823.3 216.2,823.3 221.3,823.3 226.4,823.3 231.5,823.3 236.6,823.3 241.7,823.3 246.8,823.3 251.9,823.3 257.0,823.3 262.0,823.0 267.1,821.6 272.2,819.4 277.3,816.3 282.4,812.8 287.5,809.6 292.6,806.2 297.7,803.2 302.8,800.0 307.9,798.2 313.0,795.2 318.1,792.6 323.2,793.1" fill="none" stroke="#48b8e8" stroke-width="0.55"/>
<g fill="#48b8e8"><circle cx="78.6" cy="823.3" r="0.7"/><circle cx="83.7" cy="823.3" r="0.7"/><circle cx="88.8" cy="823.3" r="0.7"/><circle cx="93.9" cy="823.3" r="0.7"/><circle cx="99.0" cy="823.3" r="0.7"/><circle cx="104.1" cy="823.3" r="0.7"/><circle cx="109.2" cy="823.3" r="0.7"/><circle cx="114.3" cy="823.3" r="0.7"/><circle cx="119.4" cy="823.3" r="0.7"/><circle cx="124.5" cy="823.3" r="0.7"/><circle cx="129.6" cy="823.3" r="0.7"/><circle cx="134.7" cy="823.3" r="0.7"/><circle cx="139.8" cy="823.3" r="0.7"/><circle cx="144.8" cy="823.3" r="0.7"/><circle cx="149.9" cy="823.3" r="0.7"/><circle cx="155.0" cy="823.3" r="0.7"/><circle cx="160.1" cy="823.3" r="0.7"/><circle cx="165.2" cy="823.3" r="0.7"/><circle cx="170.3" cy="823.3" r="0.7"/><circle cx="175.4" cy="823.3" r="0.7"/><circle cx="180.5" cy="823.3" r="0.7"/><circle cx="185.6" cy="823.3" r="0.7"/><circle cx="190.7" cy="823.3" r="0.7"/><circle cx="195.8" cy="823.3" r="0.7"/><circle cx="200.9" cy="823.3" r="0.7"/><circle cx="206.0" cy="823.3" r="0.7"/><circle cx="211.1" cy="823.3" r="0.7"/><circle cx="216.2" cy="823.3" r="0.7"/><circle cx="221.3" cy="823.3" r="0.7"/><circle cx="226.4" cy="823.3" r="0.7"/><circle cx="231.5" cy="823.3" r="0.7"/><circle cx="236.6" cy="823.3" r="0.7"/><circle cx="241.7" cy="823.3" r="0.7"/><circle cx="246.8" cy="823.3" r="0.7"/><circle cx="251.9" cy="823.3" r="0.7"/><circle cx="257.0" cy="823.3" r="0.7"/><circle cx="262.0" cy="823.0" r="0.7"/><circle cx="267.1" cy="821.6" r="0.7"/><circle cx="272.2" cy="819.4" r="0.7"/><circle cx="277.3" cy="816.3" r="0.7"/><circle cx="282.4" cy="812.8" r="0.7"/><circle cx="287.5" cy="809.6" r="0.7"/><circle cx="292.6" cy="806.2" r="0.7"/><circle cx="297.7" cy="803.2" r="0.7"/><circle cx="302.8" cy="800.0" r="0.7"/><circle cx="307.9" cy="798.2" r="0.7"/><circle cx="313.0" cy="795.2" r="0.7"/><circle cx="318.1" cy="792.6" r="0.7"/><circle cx="323.2" cy="793.1" r="0.7"/></g>
<polyline points="78.6,823.3 83.7,823.3 88.8,823.3 93.9,823.3 99.0,823.3 104.1,823.3 109.2,823.3 114.3,823.3 119.4,823.3 124.5,823.3 129.6,823.3 134.7,823.3 139.8,823.3 144.8,823.3 149.9,823.3 155.0,823.3 160.1,823.3 165.2,823.3 170.3,823.3 175.4,823.3 180.5,823.3 185.6,823.3 190.7,823.3 195.8,823.3 200.9,823.3 206.0,823.3 211.1,823.3 216.2,823.3 221.3,823.3 226.4,823.3 231.5,823.3 236.6,823.3 241.7,823.3 246.8,823.3 251.9,823.3 257.0,823.3 262.0,823.3 267.1,823.3 272.2,823.3 277.3,822.9 282.4,822.1 287.5,821.0 292.6,819.4 297.7,817.7 302.8,815.6 307.9,813.6 313.0,811.5 318.1,809.7 323.2,808.4" fill="none" stroke="#48b8e8" stroke-width="0.55"/>
<g fill="#48b8e8"><circle cx="78.6" cy="823.3" r="0.7"/><circle cx="83.7" cy="823.3" r="0.7"/><circle cx="88.8" cy="823.3" r="0.7"/><circle cx="93.9" cy="823.3" r="0.7"/><circle cx="99.0" cy="823.3" r="0.7"/><circle cx="104.1" cy="823.3" r="0.7"/><circle cx="109.2" cy="823.3" r="0.7"/><circle cx="114.3" cy="823.3" r="0.7"/><circle cx="119.4" cy="823.3" r="0.7"/><circle cx="124.5" cy="823.3" r="0.7"/><circle cx="129.6" cy="823.3" r="0.7"/><circle cx="134.7" cy="823.3" r="0.7"/><circle cx="139.8" cy="823.3" r="0.7"/><circle cx="144.8" cy="823.3" r="0.7"/><circle cx="149.9" cy="823.3" r="0.7"/><circle cx="155.0" cy="823.3" r="0.7"/><circle cx="160.1" cy="823.3" r="0.7"/><circle cx="165.2" cy="823.3" r="0.7"/><circle cx="170.3" cy="823.3" r="0.7"/><circle cx="175.4" cy="823.3" r="0.7"/><circle cx="180.5" cy="823.3" r="0.7"/><circle cx="185.6" cy="823.3" r="0.7"/><circle cx="190.7" cy="823.3" r="0.7"/><circle cx="195.8" cy="823.3" r="0.7"/><circle cx="200.9" cy="823.3" r="0.7"/><circle cx="206.0" cy="823.3" r="0.7"/><circle cx="211.1" cy="823.3" r="0.7"/><circle cx="216.2" cy="823.3" r="0.7"/><circle cx="221.3" cy="823.3" r="0.7"/><circle cx="226.4" cy="823.3" r="0.7"/><circle cx="231.5" cy="823.3" r="0.7"/><circle cx="236.6" cy="823.3" r="0.7"/><circle cx="241.7" cy="823.3" r="0.7"/><circle cx="246.8" cy="823.3" r="0.7"/><circle cx="251.9" cy="823.3" r="0.7"/><circle cx="257.0" cy="823.3" r="0.7"/><circle cx="262.0" cy="823.3" r="0.7"/><circle cx="267.1" cy="823.3" r="0.7"/><circle cx="272.2" cy="823.3" r="0.7"/><circle cx="277.3" cy="822.9" r="0.7"/><circle cx="282.4" cy="822.1" r="0.7"/><circle cx="287.5" cy="821.0" r="0.7"/><circle cx="292.6" cy="819.4" r="0.7"/><circle cx="297.7" cy="817.7" r="0.7"/><circle cx="302.8" cy="815.6" r="0.7"/><circle cx="307.9" cy="813.6" r="0.7"/><circle cx="313.0" cy="811.5" r="0.7"/><circle cx="318.1" cy="809.7" r="0.7"/><circle cx="323.2" cy="808.4" r="0.7"/></g>
<polyline points="78.6,823.3 83.7,823.3 88.8,823.3 93.9,823.3 99.0,823.3 104.1,823.3 109.2,823.3 114.3,823.3 119.4,823.3 124.5,823.3 129.6,823.3 134.7,823.3 139.8,823.3 144.8,823.3 149.9,823.3 155.0,823.3 160.1,823.3 165.2,823.3 170.3,823.3 175.4,823.3 180.5,823.3 185.6,823.3 190.7,823.3 195.8,823.3 200.9,823.3 206.0,823.3 211.1,823.3 216.2,823.3 221.3,823.3 226.4,823.3 231.5,823.3 236.6,823.3 241.7,823.3 246.8,823.3 251.9,823.3 257.0,823.3 262.0,823.3 267.1,823.3 272.2,823.3 277.3,822.9 282.4,821.5 287.5,819.4 292.6,816.5 297.7,813.4 302.8,809.4 307.9,806.8 313.0,802.5 318.1,798.3 323.2,797.0" fill="none" stroke="#48b8e8" stroke-width="0.55"/>
<g fill="#48b8e8"><circle cx="78.6" cy="823.3" r="0.7"/><circle cx="83.7" cy="823.3" r="0.7"/><circle cx="88.8" cy="823.3" r="0.7"/><circle cx="93.9" cy="823.3" r="0.7"/><circle cx="99.0" cy="823.3" r="0.7"/><circle cx="104.1" cy="823.3" r="0.7"/><circle cx="109.2" cy="823.3" r="0.7"/><circle cx="114.3" cy="823.3" r="0.7"/><circle cx="119.4" cy="823.3" r="0.7"/><circle cx="124.5" cy="823.3" r="0.7"/><circle cx="129.6" cy="823.3" r="0.7"/><circle cx="134.7" cy="823.3" r="0.7"/><circle cx="139.8" cy="823.3" r="0.7"/><circle cx="144.8" cy="823.3" r="0.7"/><circle cx="149.9" cy="823.3" r="0.7"/><circle cx="155.0" cy="823.3" r="0.7"/><circle cx="160.1" cy="823.3" r="0.7"/><circle cx="165.2" cy="823.3" r="0.7"/><circle cx="170.3" cy="823.3" r="0.7"/><circle cx="175.4" cy="823.3" r="0.7"/><circle cx="180.5" cy="823.3" r="0.7"/><circle cx="185.6" cy="823.3" r="0.7"/><circle cx="190.7" cy="823.3" r="0.7"/><circle cx="195.8" cy="823.3" r="0.7"/><circle cx="200.9" cy="823.3" r="0.7"/><circle cx="206.0" cy="823.3" r="0.7"/><circle cx="211.1" cy="823.3" r="0.7"/><circle cx="216.2" cy="823.3" r="0.7"/><circle cx="221.3" cy="823.3" r="0.7"/><circle cx="226.4" cy="823.3" r="0.7"/><circle cx="231.5" cy="823.3" r="0.7"/><circle cx="236.6" cy="823.3" r="0.7"/><circle cx="241.7" cy="823.3" r="0.7"/><circle cx="246.8" cy="823.3" r="0.7"/><circle cx="251.9" cy="823.3" r="0.7"/><circle cx="257.0" cy="823.3" r="0.7"/><circle cx="262.0" cy="823.3" r="0.7"/><circle cx="267.1" cy="823.3" r="0.7"/><circle cx="272.2" cy="823.3" r="0.7"/><circle cx="277.3" cy="822.9" r="0.7"/><circle cx="282.4" cy="821.5" r="0.7"/><circle cx="287.5" cy="819.4" r="0.7"/><circle cx="292.6" cy="816.5" r="0.7"/><circle cx="297.7" cy="813.4" r="0.7"/><circle cx="302.8" cy="809.4" r="0.7"/><circle cx="307.9" cy="806.8" r="0.7"/><circle cx="313.0" cy="802.5" r="0.7"/><circle cx="318.1" cy="798.3" r="0.7"/><circle cx="323.2" cy="797.0" r="0.7"/></g>
<polyline points="78.6,823.3 83.7,823.3 88.8,823.3 93.9,823.3 99.0,823.3 104.1,823.3 109.2,823.3 114.3,823.3 119.4,823.3 124.5,823.3 129.6,823.3 134.7,823.3 139.8,823.3 144.8,823.3 149.9,823.3 155.0,823.3 160.1,823.3 165.2,823.3 170.3,823.3 175.4,823.3 180.5,823.3 185.6,823.3 190.7,823.3 195.8,823.3 200.9,823.3 206.0,823.3 211.1,823.3 216.2,823.3 221.3,823.3 226.4,823.3 231.5,823.3 236.6,823.3 241.7,823.3 246.8,823.3 251.9,823.3 257.0,823.3 262.0,823.3 267.1,823.2 272.2,822.2 277.3,819.8 282.4,816.2 287.5,812.4 292.6,807.7 297.7,803.9 302.8,798.5 307.9,794.5 313.0,791.7 318.1,787.3 323.2,786.6" fill="none" stroke="#48b8e8" stroke-width="0.55"/>
<g fill="#48b8e8"><circle cx="78.6" cy="823.3" r="0.7"/><circle cx="83.7" cy="823.3" r="0.7"/><circle cx="88.8" cy="823.3" r="0.7"/><circle cx="93.9" cy="823.3" r="0.7"/><circle cx="99.0" cy="823.3" r="0.7"/><circle cx="104.1" cy="823.3" r="0.7"/><circle cx="109.2" cy="823.3" r="0.7"/><circle cx="114.3" cy="823.3" r="0.7"/><circle cx="119.4" cy="823.3" r="0.7"/><circle cx="124.5" cy="823.3" r="0.7"/><circle cx="129.6" cy="823.3" r="0.7"/><circle cx="134.7" cy="823.3" r="0.7"/><circle cx="139.8" cy="823.3" r="0.7"/><circle cx="144.8" cy="823.3" r="0.7"/><circle cx="149.9" cy="823.3" r="0.7"/><circle cx="155.0" cy="823.3" r="0.7"/><circle cx="160.1" cy="823.3" r="0.7"/><circle cx="165.2" cy="823.3" r="0.7"/><circle cx="170.3" cy="823.3" r="0.7"/><circle cx="175.4" cy="823.3" r="0.7"/><circle cx="180.5" cy="823.3" r="0.7"/><circle cx="185.6" cy="823.3" r="0.7"/><circle cx="190.7" cy="823.3" r="0.7"/><circle cx="195.8" cy="823.3" r="0.7"/><circle cx="200.9" cy="823.3" r="0.7"/><circle cx="206.0" cy="823.3" r="0.7"/><circle cx="211.1" cy="823.3" r="0.7"/><circle cx="216.2" cy="823.3" r="0.7"/><circle cx="221.3" cy="823.3" r="0.7"/><circle cx="226.4" cy="823.3" r="0.7"/><circle cx="231.5" cy="823.3" r="0.7"/><circle cx="236.6" cy="823.3" r="0.7"/><circle cx="241.7" cy="823.3" r="0.7"/><circle cx="246.8" cy="823.3" r="0.7"/><circle cx="251.9" cy="823.3" r="0.7"/><circle cx="257.0" cy="823.3" r="0.7"/><circle cx="262.0" cy="823.3" r="0.7"/><circle cx="267.1" cy="823.2" r="0.7"/><circle cx="272.2" cy="822.2" r="0.7"/><circle cx="277.3" cy="819.8" r="0.7"/><circle cx="282.4" cy="816.2" r="0.7"/><circle cx="287.5" cy="812.4" r="0.7"/><circle cx="292.6" cy="807.7" r="0.7"/><circle cx="297.7" cy="803.9" r="0.7"/><circle cx="302.8" cy="798.5" r="0.7"/><circle cx="307.9" cy="794.5" r="0.7"/><circle cx="313.0" cy="791.7" r="0.7"/><circle cx="318.1" cy="787.3" r="0.7"/><circle cx="323.2" cy="786.6" r="0.7"/></g>
<polyline points="78.6,823.3 83.7,823.3 88.8,823.3 93.9,823.3 99.0,823.3 104.1,823.3 109.2,823.3 114.3,823.3 119.4,823.3 124.5,823.3 129.6,823.3 134.7,823.3 139.8,823.3 144.8,823.3 149.9,823.3 155.0,823.3 160.1,823.3 165.2,823.3 170.3,823.3 175.4,823.3 180.5,823.3 185.6,823.3 190.7,823.3 195.8,823.3 200.9,823.3 206.0,823.3 211.1,823.3 216.2,823.3 221.3,823.3 226.4,823.3 231.5,823.3 236.6,823.1 241.7,822.0 246.8,820.1 251.9,817.8 257.0,815.6 262.0,813.3 267.1,810.8 272.2,808.9 277.3,806.9 282.4,806.2 287.5,805.8 292.6,805.4 297.7,805.9 302.8,805.1 307.9,805.2 313.0,804.8 318.1,804.1 323.2,805.7" fill="none" stroke="#48b8e8" stroke-width="0.55"/>
<g fill="#48b8e8"><circle cx="78.6" cy="823.3" r="0.7"/><circle cx="83.7" cy="823.3" r="0.7"/><circle cx="88.8" cy="823.3" r="0.7"/><circle cx="93.9" cy="823.3" r="0.7"/><circle cx="99.0" cy="823.3" r="0.7"/><circle cx="104.1" cy="823.3" r="0.7"/><circle cx="109.2" cy="823.3" r="0.7"/><circle cx="114.3" cy="823.3" r="0.7"/><circle cx="119.4" cy="823.3" r="0.7"/><circle cx="124.5" cy="823.3" r="0.7"/><circle cx="129.6" cy="823.3" r="0.7"/><circle cx="134.7" cy="823.3" r="0.7"/><circle cx="139.8" cy="823.3" r="0.7"/><circle cx="144.8" cy="823.3" r="0.7"/><circle cx="149.9" cy="823.3" r="0.7"/><circle cx="155.0" cy="823.3" r="0.7"/><circle cx="160.1" cy="823.3" r="0.7"/><circle cx="165.2" cy="823.3" r="0.7"/><circle cx="170.3" cy="823.3" r="0.7"/><circle cx="175.4" cy="823.3" r="0.7"/><circle cx="180.5" cy="823.3" r="0.7"/><circle cx="185.6" cy="823.3" r="0.7"/><circle cx="190.7" cy="823.3" r="0.7"/><circle cx="195.8" cy="823.3" r="0.7"/><circle cx="200.9" cy="823.3" r="0.7"/><circle cx="206.0" cy="823.3" r="0.7"/><circle cx="211.1" cy="823.3" r="0.7"/><circle cx="216.2" cy="823.3" r="0.7"/><circle cx="221.3" cy="823.3" r="0.7"/><circle cx="226.4" cy="823.3" r="0.7"/><circle cx="231.5" cy="823.3" r="0.7"/><circle cx="236.6" cy="823.1" r="0.7"/><circle cx="241.7" cy="822.0" r="0.7"/><circle cx="246.8" cy="820.1" r="0.7"/><circle cx="251.9" cy="817.8" r="0.7"/><circle cx="257.0" cy="815.6" r="0.7"/><circle cx="262.0" cy="813.3" r="0.7"/><circle cx="267.1" cy="810.8" r="0.7"/><circle cx="272.2" cy="808.9" r="0.7"/><circle cx="277.3" cy="806.9" r="0.7"/><circle cx="282.4" cy="806.2" r="0.7"/><circle cx="287.5" cy="805.8" r="0.7"/><circle cx="292.6" cy="805.4" r="0.7"/><circle cx="297.7" cy="805.9" r="0.7"/><circle cx="302.8" cy="805.1" r="0.7"/><circle cx="307.9" cy="805.2" r="0.7"/><circle cx="313.0" cy="804.8" r="0.7"/><circle cx="318.1" cy="804.1" r="0.7"/><circle cx="323.2" cy="805.7" r="0.7"/></g>
<polyline points="78.6,823.3 83.7,823.3 88.8,823.3 93.9,823.3 99.0,823.3 104.1,823.3 109.2,823.3 114.3,823.3 119.4,823.3 124.5,823.3 129.6,823.3 134.7,823.3 139.8,823.3 144.8,823.3 149.9,823.3 155.0,823.3 160.1,823.3 165.2,823.3 170.3,823.3 175.4,823.3 180.5,823.3 185.6,823.3 190.7,823.3 195.8,823.3 200.9,823.3 206.0,823.3 211.1,823.3 216.2,823.3 221.3,823.3 226.4,823.3 231.5,823.3 236.6,823.3 241.7,823.3 246.8,823.3 251.9,823.3 257.0,823.3 262.0,823.3 267.1,823.3 272.2,822.2 277.3,818.6 282.4,813.4 287.5,808.0 292.6,802.8 297.7,797.9 302.8,793.8 307.9,790.5 313.0,785.9 318.1,783.5 323.2,784.9" fill="none" stroke="#48b8e8" stroke-width="0.55"/>
<g fill="#48b8e8"><circle cx="78.6" cy="823.3" r="0.7"/><circle cx="83.7" cy="823.3" r="0.7"/><circle cx="88.8" cy="823.3" r="0.7"/><circle cx="93.9" cy="823.3" r="0.7"/><circle cx="99.0" cy="823.3" r="0.7"/><circle cx="104.1" cy="823.3" r="0.7"/><circle cx="109.2" cy="823.3" r="0.7"/><circle cx="114.3" cy="823.3" r="0.7"/><circle cx="119.4" cy="823.3" r="0.7"/><circle cx="124.5" cy="823.3" r="0.7"/><circle cx="129.6" cy="823.3" r="0.7"/><circle cx="134.7" cy="823.3" r="0.7"/><circle cx="139.8" cy="823.3" r="0.7"/><circle cx="144.8" cy="823.3" r="0.7"/><circle cx="149.9" cy="823.3" r="0.7"/><circle cx="155.0" cy="823.3" r="0.7"/><circle cx="160.1" cy="823.3" r="0.7"/><circle cx="165.2" cy="823.3" r="0.7"/><circle cx="170.3" cy="823.3" r="0.7"/><circle cx="175.4" cy="823.3" r="0.7"/><circle cx="180.5" cy="823.3" r="0.7"/><circle cx="185.6" cy="823.3" r="0.7"/><circle cx="190.7" cy="823.3" r="0.7"/><circle cx="195.8" cy="823.3" r="0.7"/><circle cx="200.9" cy="823.3" r="0.7"/><circle cx="206.0" cy="823.3" r="0.7"/><circle cx="211.1" cy="823.3" r="0.7"/><circle cx="216.2" cy="823.3" r="0.7"/><circle cx="221.3" cy="823.3" r="0.7"/><circle cx="226.4" cy="823.3" r="0.7"/><circle cx="231.5" cy="823.3" r="0.7"/><circle cx="236.6" cy="823.3" r="0.7"/><circle cx="241.7" cy="823.3" r="0.7"/><circle cx="246.8" cy="823.3" r="0.7"/><circle cx="251.9" cy="823.3" r="0.7"/><circle cx="257.0" cy="823.3" r="0.7"/><circle cx="262.0" cy="823.3" r="0.7"/><circle cx="267.1" cy="823.3" r="0.7"/><circle cx="272.2" cy="822.2" r="0.7"/><circle cx="277.3" cy="818.6" r="0.7"/><circle cx="282.4" cy="813.4" r="0.7"/><circle cx="287.5" cy="808.0" r="0.7"/><circle cx="292.6" cy="802.8" r="0.7"/><circle cx="297.7" cy="797.9" r="0.7"/><circle cx="302.8" cy="793.8" r="0.7"/><circle cx="307.9" cy="790.5" r="0.7"/><circle cx="313.0" cy="785.9" r="0.7"/><circle cx="318.1" cy="783.5" r="0.7"/><circle cx="323.2" cy="784.9" r="0.7"/></g>
<polyline points="78.6,823.3 83.7,823.3 88.8,823.3 93.9,823.3 99.0,823.3 104.1,823.3 109.2,823.3 114.3,823.3 119.4,823.3 124.5,823.3 129.6,823.3 134.7,823.3 139.8,823.3 144.8,823.3 149.9,823.3 155.0,823.3 160.1,823.3 165.2,823.3 170.3,823.3 175.4,823.3 180.5,823.3 185.6,823.3 190.7,823.3 195.8,823.3 200.9,823.3 206.0,823.3 211.1,823.3 216.2,823.3 221.3,823.3 226.4,823.3 231.5,823.3 236.6,823.3 241.7,823.3 246.8,823.3 251.9,823.3 257.0,823.3 262.0,822.9 267.1,820.7 272.2,816.8 277.3,811.5 282.4,805.5 287.5,800.0 292.6,794.3 297.7,789.2 302.8,783.3 307.9,778.5 313.0,773.3 318.1,768.1 323.2,766.6" fill="none" stroke="#48b8e8" stroke-width="0.55"/>
<g fill="#48b8e8"><circle cx="78.6" cy="823.3" r="0.7"/><circle cx="83.7" cy="823.3" r="0.7"/><circle cx="88.8" cy="823.3" r="0.7"/><circle cx="93.9" cy="823.3" r="0.7"/><circle cx="99.0" cy="823.3" r="0.7"/><circle cx="104.1" cy="823.3" r="0.7"/><circle cx="109.2" cy="823.3" r="0.7"/><circle cx="114.3" cy="823.3" r="0.7"/><circle cx="119.4" cy="823.3" r="0.7"/><circle cx="124.5" cy="823.3" r="0.7"/><circle cx="129.6" cy="823.3" r="0.7"/><circle cx="134.7" cy="823.3" r="0.7"/><circle cx="139.8" cy="823.3" r="0.7"/><circle cx="144.8" cy="823.3" r="0.7"/><circle cx="149.9" cy="823.3" r="0.7"/><circle cx="155.0" cy="823.3" r="0.7"/><circle cx="160.1" cy="823.3" r="0.7"/><circle cx="165.2" cy="823.3" r="0.7"/><circle cx="170.3" cy="823.3" r="0.7"/><circle cx="175.4" cy="823.3" r="0.7"/><circle cx="180.5" cy="823.3" r="0.7"/><circle cx="185.6" cy="823.3" r="0.7"/><circle cx="190.7" cy="823.3" r="0.7"/><circle cx="195.8" cy="823.3" r="0.7"/><circle cx="200.9" cy="823.3" r="0.7"/><circle cx="206.0" cy="823.3" r="0.7"/><circle cx="211.1" cy="823.3" r="0.7"/><circle cx="216.2" cy="823.3" r="0.7"/><circle cx="221.3" cy="823.3" r="0.7"/><circle cx="226.4" cy="823.3" r="0.7"/><circle cx="231.5" cy="823.3" r="0.7"/><circle cx="236.6" cy="823.3" r="0.7"/><circle cx="241.7" cy="823.3" r="0.7"/><circle cx="246.8" cy="823.3" r="0.7"/><circle cx="251.9" cy="823.3" r="0.7"/><circle cx="257.0" cy="823.3" r="0.7"/><circle cx="262.0" cy="822.9" r="0.7"/><circle cx="267.1" cy="820.7" r="0.7"/><circle cx="272.2" cy="816.8" r="0.7"/><circle cx="277.3" cy="811.5" r="0.7"/><circle cx="282.4" cy="805.5" r="0.7"/><circle cx="287.5" cy="800.0" r="0.7"/><circle cx="292.6" cy="794.3" r="0.7"/><circle cx="297.7" cy="789.2" r="0.7"/><circle cx="302.8" cy="783.3" r="0.7"/><circle cx="307.9" cy="778.5" r="0.7"/><circle cx="313.0" cy="773.3" r="0.7"/><circle cx="318.1" cy="768.1" r="0.7"/><circle cx="323.2" cy="766.6" r="0.7"/></g>
<polyline points="78.6,823.3 83.7,823.3 88.8,823.3 93.9,823.3 99.0,823.3 104.1,823.3 109.2,823.3 114.3,823.3 119.4,823.3 124.5,823.3 129.6,823.3 134.7,823.3 139.8,823.3 144.8,823.3 149.9,823.3 155.0,823.3 160.1,823.3 165.2,823.3 170.3,823.3 175.4,823.3 180.5,823.3 185.6,823.3 190.7,823.3 195.8,823.3 200.9,823.3 206.0,823.3 211.1,823.3 216.2,823.3 221.3,823.3 226.4,823.3 231.5,823.2 236.6,822.5 241.7,821.1 246.8,818.8 251.9,816.5 257.0,814.0 262.0,811.6 267.1,808.3 272.2,807.0 277.3,805.2 282.4,803.3 287.5,803.8 292.6,803.3 297.7,803.2 302.8,802.1 307.9,801.6 313.0,801.5 318.1,801.1 323.2,801.8" fill="none" stroke="#48b8e8" stroke-width="0.55"/>
<g fill="#48b8e8"><circle cx="78.6" cy="823.3" r="0.7"/><circle cx="83.7" cy="823.3" r="0.7"/><circle cx="88.8" cy="823.3" r="0.7"/><circle cx="93.9" cy="823.3" r="0.7"/><circle cx="99.0" cy="823.3" r="0.7"/><circle cx="104.1" cy="823.3" r="0.7"/><circle cx="109.2" cy="823.3" r="0.7"/><circle cx="114.3" cy="823.3" r="0.7"/><circle cx="119.4" cy="823.3" r="0.7"/><circle cx="124.5" cy="823.3" r="0.7"/><circle cx="129.6" cy="823.3" r="0.7"/><circle cx="134.7" cy="823.3" r="0.7"/><circle cx="139.8" cy="823.3" r="0.7"/><circle cx="144.8" cy="823.3" r="0.7"/><circle cx="149.9" cy="823.3" r="0.7"/><circle cx="155.0" cy="823.3" r="0.7"/><circle cx="160.1" cy="823.3" r="0.7"/><circle cx="165.2" cy="823.3" r="0.7"/><circle cx="170.3" cy="823.3" r="0.7"/><circle cx="175.4" cy="823.3" r="0.7"/><circle cx="180.5" cy="823.3" r="0.7"/><circle cx="185.6" cy="823.3" r="0.7"/><circle cx="190.7" cy="823.3" r="0.7"/><circle cx="195.8" cy="823.3" r="0.7"/><circle cx="200.9" cy="823.3" r="0.7"/><circle cx="206.0" cy="823.3" r="0.7"/><circle cx="211.1" cy="823.3" r="0.7"/><circle cx="216.2" cy="823.3" r="0.7"/><circle cx="221.3" cy="823.3" r="0.7"/><circle cx="226.4" cy="823.3" r="0.7"/><circle cx="231.5" cy="823.2" r="0.7"/><circle cx="236.6" cy="822.5" r="0.7"/><circle cx="241.7" cy="821.1" r="0.7"/><circle cx="246.8" cy="818.8" r="0.7"/><circle cx="251.9" cy="816.5" r="0.7"/><circle cx="257.0" cy="814.0" r="0.7"/><circle cx="262.0" cy="811.6" r="0.7"/><circle cx="267.1" cy="808.3" r="0.7"/><circle cx="272.2" cy="807.0" r="0.7"/><circle cx="277.3" cy="805.2" r="0.7"/><circle cx="282.4" cy="803.3" r="0.7"/><circle cx="287.5" cy="803.8" r="0.7"/><circle cx="292.6" cy="803.3" r="0.7"/><circle cx="297.7" cy="803.2" r="0.7"/><circle cx="302.8" cy="802.1" r="0.7"/><circle cx="307.9" cy="801.6" r="0.7"/><circle cx="313.0" cy="801.5" r="0.7"/><circle cx="318.1" cy="801.1" r="0.7"/><circle cx="323.2" cy="801.8" r="0.7"/></g>
<polyline points="78.6,823.3 83.7,823.3 88.8,823.3 93.9,823.3 99.0,823.3 104.1,823.3 109.2,823.3 114.3,823.3 119.4,823.3 124.5,823.3 129.6,823.3 134.7,823.3 139.8,823.3 144.8,823.3 149.9,823.3 155.0,823.3 160.1,823.3 165.2,823.3 170.3,823.3 175.4,823.3 180.5,823.3 185.6,823.3 190.7,823.3 195.8,823.3 200.9,823.3 206.0,823.3 211.1,823.3 216.2,823.3 221.3,823.3 226.4,823.3 231.5,823.3 236.6,823.3 241.7,823.3 246.8,823.3 251.9,823.3 257.0,823.3 262.0,823.3 267.1,823.3 272.2,823.3 277.3,823.1 282.4,821.4 287.5,818.5 292.6,814.8 297.7,810.6 302.8,805.9 307.9,802.0 313.0,798.4 318.1,795.0 323.2,792.7" fill="none" stroke="#48b8e8" stroke-width="0.55"/>
<g fill="#48b8e8"><circle cx="78.6" cy="823.3" r="0.7"/><circle cx="83.7" cy="823.3" r="0.7"/><circle cx="88.8" cy="823.3" r="0.7"/><circle cx="93.9" cy="823.3" r="0.7"/><circle cx="99.0" cy="823.3" r="0.7"/><circle cx="104.1" cy="823.3" r="0.7"/><circle cx="109.2" cy="823.3" r="0.7"/><circle cx="114.3" cy="823.3" r="0.7"/><circle cx="119.4" cy="823.3" r="0.7"/><circle cx="124.5" cy="823.3" r="0.7"/><circle cx="129.6" cy="823.3" r="0.7"/><circle cx="134.7" cy="823.3" r="0.7"/><circle cx="139.8" cy="823.3" r="0.7"/><circle cx="144.8" cy="823.3" r="0.7"/><circle cx="149.9" cy="823.3" r="0.7"/><circle cx="155.0" cy="823.3" r="0.7"/><circle cx="160.1" cy="823.3" r="0.7"/><circle cx="165.2" cy="823.3" r="0.7"/><circle cx="170.3" cy="823.3" r="0.7"/><circle cx="175.4" cy="823.3" r="0.7"/><circle cx="180.5" cy="823.3" r="0.7"/><circle cx="185.6" cy="823.3" r="0.7"/><circle cx="190.7" cy="823.3" r="0.7"/><circle cx="195.8" cy="823.3" r="0.7"/><circle cx="200.9" cy="823.3" r="0.7"/><circle cx="206.0" cy="823.3" r="0.7"/><circle cx="211.1" cy="823.3" r="0.7"/><circle cx="216.2" cy="823.3" r="0.7"/><circle cx="221.3" cy="823.3" r="0.7"/><circle cx="226.4" cy="823.3" r="0.7"/><circle cx="231.5" cy="823.3" r="0.7"/><circle cx="236.6" cy="823.3" r="0.7"/><circle cx="241.7" cy="823.3" r="0.7"/><circle cx="246.8" cy="823.3" r="0.7"/><circle cx="251.9" cy="823.3" r="0.7"/><circle cx="257.0" cy="823.3" r="0.7"/><circle cx="262.0" cy="823.3" r="0.7"/><circle cx="267.1" cy="823.3" r="0.7"/><circle cx="272.2" cy="823.3" r="0.7"/><circle cx="277.3" cy="823.1" r="0.7"/><circle cx="282.4" cy="821.4" r="0.7"/><circle cx="287.5" cy="818.5" r="0.7"/><circle cx="292.6" cy="814.8" r="0.7"/><circle cx="297.7" cy="810.6" r="0.7"/><circle cx="302.8" cy="805.9" r="0.7"/><circle cx="307.9" cy="802.0" r="0.7"/><circle cx="313.0" cy="798.4" r="0.7"/><circle cx="318.1" cy="795.0" r="0.7"/><circle cx="323.2" cy="792.7" r="0.7"/></g>
<polyline points="78.6,823.3 83.7,823.3 88.8,823.3 93.9,823.3 99.0,823.3 104.1,823.3 109.2,823.3 114.3,823.3 119.4,823.3 124.5,823.3 129.6,823.3 134.7,823.3 139.8,823.3 144.8,823.3 149.9,823.3 155.0,823.3 160.1,823.3 165.2,823.3 170.3,823.3 175.4,823.3 180.5,823.3 185.6,823.3 190.7,823.3 195.8,823.3 200.9,823.3 206.0,823.3 211.1,823.3 216.2,823.1 221.3,821.9 226.4,819.5 231.5,815.8 236.6,812.3 241.7,808.7 246.8,804.5 251.9,801.1 257.0,797.7 262.0,795.6 267.1,792.3 272.2,790.7 277.3,788.6 282.4,787.5 287.5,788.2 292.6,787.2 297.7,787.3 302.8,787.5 307.9,787.7 313.0,786.8 318.1,785.7 323.2,787.9" fill="none" stroke="#9a82c4" stroke-width="0.7"/>
<g fill="#9a82c4"><circle cx="78.6" cy="823.3" r="0.75"/><circle cx="83.7" cy="823.3" r="0.75"/><circle cx="88.8" cy="823.3" r="0.75"/><circle cx="93.9" cy="823.3" r="0.75"/><circle cx="99.0" cy="823.3" r="0.75"/><circle cx="104.1" cy="823.3" r="0.75"/><circle cx="109.2" cy="823.3" r="0.75"/><circle cx="114.3" cy="823.3" r="0.75"/><circle cx="119.4" cy="823.3" r="0.75"/><circle cx="124.5" cy="823.3" r="0.75"/><circle cx="129.6" cy="823.3" r="0.75"/><circle cx="134.7" cy="823.3" r="0.75"/><circle cx="139.8" cy="823.3" r="0.75"/><circle cx="144.8" cy="823.3" r="0.75"/><circle cx="149.9" cy="823.3" r="0.75"/><circle cx="155.0" cy="823.3" r="0.75"/><circle cx="160.1" cy="823.3" r="0.75"/><circle cx="165.2" cy="823.3" r="0.75"/><circle cx="170.3" cy="823.3" r="0.75"/><circle cx="175.4" cy="823.3" r="0.75"/><circle cx="180.5" cy="823.3" r="0.75"/><circle cx="185.6" cy="823.3" r="0.75"/><circle cx="190.7" cy="823.3" r="0.75"/><circle cx="195.8" cy="823.3" r="0.75"/><circle cx="200.9" cy="823.3" r="0.75"/><circle cx="206.0" cy="823.3" r="0.75"/><circle cx="211.1" cy="823.3" r="0.75"/><circle cx="216.2" cy="823.1" r="0.75"/><circle cx="221.3" cy="821.9" r="0.75"/><circle cx="226.4" cy="819.5" r="0.75"/><circle cx="231.5" cy="815.8" r="0.75"/><circle cx="236.6" cy="812.3" r="0.75"/><circle cx="241.7" cy="808.7" r="0.75"/><circle cx="246.8" cy="804.5" r="0.75"/><circle cx="251.9" cy="801.1" r="0.75"/><circle cx="257.0" cy="797.7" r="0.75"/><circle cx="262.0" cy="795.6" r="0.75"/><circle cx="267.1" cy="792.3" r="0.75"/><circle cx="272.2" cy="790.7" r="0.75"/><circle cx="277.3" cy="788.6" r="0.75"/><circle cx="282.4" cy="787.5" r="0.75"/><circle cx="287.5" cy="788.2" r="0.75"/><circle cx="292.6" cy="787.2" r="0.75"/><circle cx="297.7" cy="787.3" r="0.75"/><circle cx="302.8" cy="787.5" r="0.75"/><circle cx="307.9" cy="787.7" r="0.75"/><circle cx="313.0" cy="786.8" r="0.75"/><circle cx="318.1" cy="785.7" r="0.75"/><circle cx="323.2" cy="787.9" r="0.75"/></g>
<polyline points="78.6,823.3 83.7,823.3 88.8,823.3 93.9,823.3 99.0,823.3 104.1,823.3 109.2,823.3 114.3,823.3 119.4,823.3 124.5,823.3 129.6,823.3 134.7,823.3 139.8,823.3 144.8,823.3 149.9,823.3 155.0,823.3 160.1,823.3 165.2,823.3 170.3,823.3 175.4,823.3 180.5,823.3 185.6,823.3 190.7,823.3 195.8,823.3 200.9,823.3 206.0,823.3 211.1,823.3 216.2,823.3 221.3,823.3 226.4,823.3 231.5,823.3 236.6,823.3 241.7,823.2 246.8,821.5 251.9,818.5 257.0,814.4 262.0,810.2 267.1,804.3 272.2,800.6 277.3,797.1 282.4,794.8 287.5,792.9 292.6,791.3 297.7,791.9 302.8,790.9 307.9,789.8 313.0,789.4 318.1,787.8 323.2,789.9" fill="none" stroke="#9a82c4" stroke-width="0.7"/>
<g fill="#9a82c4"><circle cx="78.6" cy="823.3" r="0.75"/><circle cx="83.7" cy="823.3" r="0.75"/><circle cx="88.8" cy="823.3" r="0.75"/><circle cx="93.9" cy="823.3" r="0.75"/><circle cx="99.0" cy="823.3" r="0.75"/><circle cx="104.1" cy="823.3" r="0.75"/><circle cx="109.2" cy="823.3" r="0.75"/><circle cx="114.3" cy="823.3" r="0.75"/><circle cx="119.4" cy="823.3" r="0.75"/><circle cx="124.5" cy="823.3" r="0.75"/><circle cx="129.6" cy="823.3" r="0.75"/><circle cx="134.7" cy="823.3" r="0.75"/><circle cx="139.8" cy="823.3" r="0.75"/><circle cx="144.8" cy="823.3" r="0.75"/><circle cx="149.9" cy="823.3" r="0.75"/><circle cx="155.0" cy="823.3" r="0.75"/><circle cx="160.1" cy="823.3" r="0.75"/><circle cx="165.2" cy="823.3" r="0.75"/><circle cx="170.3" cy="823.3" r="0.75"/><circle cx="175.4" cy="823.3" r="0.75"/><circle cx="180.5" cy="823.3" r="0.75"/><circle cx="185.6" cy="823.3" r="0.75"/><circle cx="190.7" cy="823.3" r="0.75"/><circle cx="195.8" cy="823.3" r="0.75"/><circle cx="200.9" cy="823.3" r="0.75"/><circle cx="206.0" cy="823.3" r="0.75"/><circle cx="211.1" cy="823.3" r="0.75"/><circle cx="216.2" cy="823.3" r="0.75"/><circle cx="221.3" cy="823.3" r="0.75"/><circle cx="226.4" cy="823.3" r="0.75"/><circle cx="231.5" cy="823.3" r="0.75"/><circle cx="236.6" cy="823.3" r="0.75"/><circle cx="241.7" cy="823.2" r="0.75"/><circle cx="246.8" cy="821.5" r="0.75"/><circle cx="251.9" cy="818.5" r="0.75"/><circle cx="257.0" cy="814.4" r="0.75"/><circle cx="262.0" cy="810.2" r="0.75"/><circle cx="267.1" cy="804.3" r="0.75"/><circle cx="272.2" cy="800.6" r="0.75"/><circle cx="277.3" cy="797.1" r="0.75"/><circle cx="282.4" cy="794.8" r="0.75"/><circle cx="287.5" cy="792.9" r="0.75"/><circle cx="292.6" cy="791.3" r="0.75"/><circle cx="297.7" cy="791.9" r="0.75"/><circle cx="302.8" cy="790.9" r="0.75"/><circle cx="307.9" cy="789.8" r="0.75"/><circle cx="313.0" cy="789.4" r="0.75"/><circle cx="318.1" cy="787.8" r="0.75"/><circle cx="323.2" cy="789.9" r="0.75"/></g>
<polyline points="78.6,823.3 83.7,823.3 88.8,823.3 93.9,823.3 99.0,823.3 104.1,823.3 109.2,823.3 114.3,823.3 119.4,823.3 124.5,823.3 129.6,823.3 134.7,823.3 139.8,823.3 144.8,823.3 149.9,823.3 155.0,823.3 160.1,823.3 165.2,823.3 170.3,823.3 175.4,823.3 180.5,823.3 185.6,823.3 190.7,823.3 195.8,823.3 200.9,823.3 206.0,823.3 211.1,823.3 216.2,823.3 221.3,823.3 226.4,823.3 231.5,823.3 236.6,822.4 241.7,820.3 246.8,816.9 251.9,813.4 257.0,808.2 262.0,804.3 267.1,797.5 272.2,791.6 277.3,786.9 282.4,779.4 287.5,778.1 292.6,771.4 297.7,768.7 302.8,765.2 307.9,760.8 313.0,759.2 318.1,752.8 323.2,754.6" fill="none" stroke="#9a82c4" stroke-width="0.7"/>
<g fill="#9a82c4"><circle cx="78.6" cy="823.3" r="0.75"/><circle cx="83.7" cy="823.3" r="0.75"/><circle cx="88.8" cy="823.3" r="0.75"/><circle cx="93.9" cy="823.3" r="0.75"/><circle cx="99.0" cy="823.3" r="0.75"/><circle cx="104.1" cy="823.3" r="0.75"/><circle cx="109.2" cy="823.3" r="0.75"/><circle cx="114.3" cy="823.3" r="0.75"/><circle cx="119.4" cy="823.3" r="0.75"/><circle cx="124.5" cy="823.3" r="0.75"/><circle cx="129.6" cy="823.3" r="0.75"/><circle cx="134.7" cy="823.3" r="0.75"/><circle cx="139.8" cy="823.3" r="0.75"/><circle cx="144.8" cy="823.3" r="0.75"/><circle cx="149.9" cy="823.3" r="0.75"/><circle cx="155.0" cy="823.3" r="0.75"/><circle cx="160.1" cy="823.3" r="0.75"/><circle cx="165.2" cy="823.3" r="0.75"/><circle cx="170.3" cy="823.3" r="0.75"/><circle cx="175.4" cy="823.3" r="0.75"/><circle cx="180.5" cy="823.3" r="0.75"/><circle cx="185.6" cy="823.3" r="0.75"/><circle cx="190.7" cy="823.3" r="0.75"/><circle cx="195.8" cy="823.3" r="0.75"/><circle cx="200.9" cy="823.3" r="0.75"/><circle cx="206.0" cy="823.3" r="0.75"/><circle cx="211.1" cy="823.3" r="0.75"/><circle cx="216.2" cy="823.3" r="0.75"/><circle cx="221.3" cy="823.3" r="0.75"/><circle cx="226.4" cy="823.3" r="0.75"/><circle cx="231.5" cy="823.3" r="0.75"/><circle cx="236.6" cy="822.4" r="0.75"/><circle cx="241.7" cy="820.3" r="0.75"/><circle cx="246.8" cy="816.9" r="0.75"/><circle cx="251.9" cy="813.4" r="0.75"/><circle cx="257.0" cy="808.2" r="0.75"/><circle cx="262.0" cy="804.3" r="0.75"/><circle cx="267.1" cy="797.5" r="0.75"/><circle cx="272.2" cy="791.6" r="0.75"/><circle cx="277.3" cy="786.9" r="0.75"/><circle cx="282.4" cy="779.4" r="0.75"/><circle cx="287.5" cy="778.1" r="0.75"/><circle cx="292.6" cy="771.4" r="0.75"/><circle cx="297.7" cy="768.7" r="0.75"/><circle cx="302.8" cy="765.2" r="0.75"/><circle cx="307.9" cy="760.8" r="0.75"/><circle cx="313.0" cy="759.2" r="0.75"/><circle cx="318.1" cy="752.8" r="0.75"/><circle cx="323.2" cy="754.6" r="0.75"/></g>
<polyline points="78.6,823.3 83.7,823.3 88.8,823.3 93.9,823.3 99.0,823.3 104.1,823.3 109.2,823.3 114.3,823.3 119.4,823.3 124.5,823.3 129.6,823.3 134.7,823.3 139.8,823.3 144.8,823.3 149.9,823.3 155.0,823.3 160.1,823.3 165.2,823.3 170.3,823.3 175.4,823.3 180.5,823.3 185.6,823.3 190.7,823.3 195.8,823.3 200.9,823.3 206.0,823.3 211.1,823.3 216.2,823.3 221.3,823.3 226.4,823.3 231.5,823.3 236.6,823.3 241.7,823.3 246.8,823.3 251.9,823.3 257.0,823.2 262.0,821.8 267.1,818.8 272.2,814.7 277.3,808.8 282.4,803.8 287.5,798.6 292.6,791.8 297.7,788.1 302.8,783.4 307.9,777.5 313.0,772.9 318.1,770.3 323.2,769.0" fill="none" stroke="#9a82c4" stroke-width="0.7"/>
<g fill="#9a82c4"><circle cx="78.6" cy="823.3" r="0.75"/><circle cx="83.7" cy="823.3" r="0.75"/><circle cx="88.8" cy="823.3" r="0.75"/><circle cx="93.9" cy="823.3" r="0.75"/><circle cx="99.0" cy="823.3" r="0.75"/><circle cx="104.1" cy="823.3" r="0.75"/><circle cx="109.2" cy="823.3" r="0.75"/><circle cx="114.3" cy="823.3" r="0.75"/><circle cx="119.4" cy="823.3" r="0.75"/><circle cx="124.5" cy="823.3" r="0.75"/><circle cx="129.6" cy="823.3" r="0.75"/><circle cx="134.7" cy="823.3" r="0.75"/><circle cx="139.8" cy="823.3" r="0.75"/><circle cx="144.8" cy="823.3" r="0.75"/><circle cx="149.9" cy="823.3" r="0.75"/><circle cx="155.0" cy="823.3" r="0.75"/><circle cx="160.1" cy="823.3" r="0.75"/><circle cx="165.2" cy="823.3" r="0.75"/><circle cx="170.3" cy="823.3" r="0.75"/><circle cx="175.4" cy="823.3" r="0.75"/><circle cx="180.5" cy="823.3" r="0.75"/><circle cx="185.6" cy="823.3" r="0.75"/><circle cx="190.7" cy="823.3" r="0.75"/><circle cx="195.8" cy="823.3" r="0.75"/><circle cx="200.9" cy="823.3" r="0.75"/><circle cx="206.0" cy="823.3" r="0.75"/><circle cx="211.1" cy="823.3" r="0.75"/><circle cx="216.2" cy="823.3" r="0.75"/><circle cx="221.3" cy="823.3" r="0.75"/><circle cx="226.4" cy="823.3" r="0.75"/><circle cx="231.5" cy="823.3" r="0.75"/><circle cx="236.6" cy="823.3" r="0.75"/><circle cx="241.7" cy="823.3" r="0.75"/><circle cx="246.8" cy="823.3" r="0.75"/><circle cx="251.9" cy="823.3" r="0.75"/><circle cx="257.0" cy="823.2" r="0.75"/><circle cx="262.0" cy="821.8" r="0.75"/><circle cx="267.1" cy="818.8" r="0.75"/><circle cx="272.2" cy="814.7" r="0.75"/><circle cx="277.3" cy="808.8" r="0.75"/><circle cx="282.4" cy="803.8" r="0.75"/><circle cx="287.5" cy="798.6" r="0.75"/><circle cx="292.6" cy="791.8" r="0.75"/><circle cx="297.7" cy="788.1" r="0.75"/><circle cx="302.8" cy="783.4" r="0.75"/><circle cx="307.9" cy="777.5" r="0.75"/><circle cx="313.0" cy="772.9" r="0.75"/><circle cx="318.1" cy="770.3" r="0.75"/><circle cx="323.2" cy="769.0" r="0.75"/></g>
<polyline points="78.6,823.3 83.7,823.3 88.8,823.3 93.9,823.3 99.0,823.3 104.1,823.3 109.2,823.3 114.3,823.3 119.4,823.3 124.5,823.3 129.6,823.3 134.7,823.3 139.8,823.3 144.8,823.3 149.9,823.3 155.0,823.3 160.1,823.3 165.2,823.3 170.3,823.3 175.4,823.3 180.5,823.3 185.6,823.3 190.7,823.3 195.8,823.3 200.9,823.3 206.0,823.3 211.1,823.2 216.2,822.0 221.3,819.3 226.4,815.4 231.5,809.7 236.6,803.3 241.7,797.8 246.8,790.0 251.9,784.7 257.0,777.0 262.0,774.8 267.1,767.1 272.2,761.6 277.3,755.9 282.4,754.6 287.5,752.1 292.6,752.4 297.7,752.0 302.8,749.0 307.9,748.8 313.0,749.3 318.1,746.8 323.2,749.6" fill="none" stroke="#9a82c4" stroke-width="0.7"/>
<g fill="#9a82c4"><circle cx="78.6" cy="823.3" r="0.75"/><circle cx="83.7" cy="823.3" r="0.75"/><circle cx="88.8" cy="823.3" r="0.75"/><circle cx="93.9" cy="823.3" r="0.75"/><circle cx="99.0" cy="823.3" r="0.75"/><circle cx="104.1" cy="823.3" r="0.75"/><circle cx="109.2" cy="823.3" r="0.75"/><circle cx="114.3" cy="823.3" r="0.75"/><circle cx="119.4" cy="823.3" r="0.75"/><circle cx="124.5" cy="823.3" r="0.75"/><circle cx="129.6" cy="823.3" r="0.75"/><circle cx="134.7" cy="823.3" r="0.75"/><circle cx="139.8" cy="823.3" r="0.75"/><circle cx="144.8" cy="823.3" r="0.75"/><circle cx="149.9" cy="823.3" r="0.75"/><circle cx="155.0" cy="823.3" r="0.75"/><circle cx="160.1" cy="823.3" r="0.75"/><circle cx="165.2" cy="823.3" r="0.75"/><circle cx="170.3" cy="823.3" r="0.75"/><circle cx="175.4" cy="823.3" r="0.75"/><circle cx="180.5" cy="823.3" r="0.75"/><circle cx="185.6" cy="823.3" r="0.75"/><circle cx="190.7" cy="823.3" r="0.75"/><circle cx="195.8" cy="823.3" r="0.75"/><circle cx="200.9" cy="823.3" r="0.75"/><circle cx="206.0" cy="823.3" r="0.75"/><circle cx="211.1" cy="823.2" r="0.75"/><circle cx="216.2" cy="822.0" r="0.75"/><circle cx="221.3" cy="819.3" r="0.75"/><circle cx="226.4" cy="815.4" r="0.75"/><circle cx="231.5" cy="809.7" r="0.75"/><circle cx="236.6" cy="803.3" r="0.75"/><circle cx="241.7" cy="797.8" r="0.75"/><circle cx="246.8" cy="790.0" r="0.75"/><circle cx="251.9" cy="784.7" r="0.75"/><circle cx="257.0" cy="777.0" r="0.75"/><circle cx="262.0" cy="774.8" r="0.75"/><circle cx="267.1" cy="767.1" r="0.75"/><circle cx="272.2" cy="761.6" r="0.75"/><circle cx="277.3" cy="755.9" r="0.75"/><circle cx="282.4" cy="754.6" r="0.75"/><circle cx="287.5" cy="752.1" r="0.75"/><circle cx="292.6" cy="752.4" r="0.75"/><circle cx="297.7" cy="752.0" r="0.75"/><circle cx="302.8" cy="749.0" r="0.75"/><circle cx="307.9" cy="748.8" r="0.75"/><circle cx="313.0" cy="749.3" r="0.75"/><circle cx="318.1" cy="746.8" r="0.75"/><circle cx="323.2" cy="749.6" r="0.75"/></g>
<polyline points="78.6,823.3 83.7,823.3 88.8,823.3 93.9,823.3 99.0,823.3 104.1,823.3 109.2,823.3 114.3,823.3 119.4,823.3 124.5,823.3 129.6,823.3 134.7,823.3 139.8,823.3 144.8,823.3 149.9,823.3 155.0,823.3 160.1,823.3 165.2,823.3 170.3,823.3 175.4,823.3 180.5,823.3 185.6,823.3 190.7,823.3 195.8,823.3 200.9,823.3 206.0,823.3 211.1,823.3 216.2,823.3 221.3,823.3 226.4,823.3 231.5,823.3 236.6,823.3 241.7,823.3 246.8,823.3 251.9,823.3 257.0,823.2 262.0,822.6 267.1,821.3 272.2,819.4 277.3,816.8 282.4,814.0 287.5,811.7 292.6,808.8 297.7,805.4 302.8,802.9 307.9,800.5 313.0,797.2 318.1,794.6 323.2,793.5" fill="none" stroke="#9a82c4" stroke-width="0.7"/>
<g fill="#9a82c4"><circle cx="78.6" cy="823.3" r="0.75"/><circle cx="83.7" cy="823.3" r="0.75"/><circle cx="88.8" cy="823.3" r="0.75"/><circle cx="93.9" cy="823.3" r="0.75"/><circle cx="99.0" cy="823.3" r="0.75"/><circle cx="104.1" cy="823.3" r="0.75"/><circle cx="109.2" cy="823.3" r="0.75"/><circle cx="114.3" cy="823.3" r="0.75"/><circle cx="119.4" cy="823.3" r="0.75"/><circle cx="124.5" cy="823.3" r="0.75"/><circle cx="129.6" cy="823.3" r="0.75"/><circle cx="134.7" cy="823.3" r="0.75"/><circle cx="139.8" cy="823.3" r="0.75"/><circle cx="144.8" cy="823.3" r="0.75"/><circle cx="149.9" cy="823.3" r="0.75"/><circle cx="155.0" cy="823.3" r="0.75"/><circle cx="160.1" cy="823.3" r="0.75"/><circle cx="165.2" cy="823.3" r="0.75"/><circle cx="170.3" cy="823.3" r="0.75"/><circle cx="175.4" cy="823.3" r="0.75"/><circle cx="180.5" cy="823.3" r="0.75"/><circle cx="185.6" cy="823.3" r="0.75"/><circle cx="190.7" cy="823.3" r="0.75"/><circle cx="195.8" cy="823.3" r="0.75"/><circle cx="200.9" cy="823.3" r="0.75"/><circle cx="206.0" cy="823.3" r="0.75"/><circle cx="211.1" cy="823.3" r="0.75"/><circle cx="216.2" cy="823.3" r="0.75"/><circle cx="221.3" cy="823.3" r="0.75"/><circle cx="226.4" cy="823.3" r="0.75"/><circle cx="231.5" cy="823.3" r="0.75"/><circle cx="236.6" cy="823.3" r="0.75"/><circle cx="241.7" cy="823.3" r="0.75"/><circle cx="246.8" cy="823.3" r="0.75"/><circle cx="251.9" cy="823.3" r="0.75"/><circle cx="257.0" cy="823.2" r="0.75"/><circle cx="262.0" cy="822.6" r="0.75"/><circle cx="267.1" cy="821.3" r="0.75"/><circle cx="272.2" cy="819.4" r="0.75"/><circle cx="277.3" cy="816.8" r="0.75"/><circle cx="282.4" cy="814.0" r="0.75"/><circle cx="287.5" cy="811.7" r="0.75"/><circle cx="292.6" cy="808.8" r="0.75"/><circle cx="297.7" cy="805.4" r="0.75"/><circle cx="302.8" cy="802.9" r="0.75"/><circle cx="307.9" cy="800.5" r="0.75"/><circle cx="313.0" cy="797.2" r="0.75"/><circle cx="318.1" cy="794.6" r="0.75"/><circle cx="323.2" cy="793.5" r="0.75"/></g>
<polyline points="78.6,823.3 83.7,823.3 88.8,823.3 93.9,823.3 99.0,823.3 104.1,823.3 109.2,823.3 114.3,823.3 119.4,823.3 124.5,823.3 129.6,823.3 134.7,823.3 139.8,823.3 144.8,823.3 149.9,823.3 155.0,823.3 160.1,823.3 165.2,823.3 170.3,823.3 175.4,823.3 180.5,823.3 185.6,823.3 190.7,823.3 195.8,823.3 200.9,823.3 206.0,823.3 211.1,823.3 216.2,823.3 221.3,822.7 226.4,820.7 231.5,817.0 236.6,813.4 241.7,810.1 246.8,805.3 251.9,802.8 257.0,799.5 262.0,797.8 267.1,795.2 272.2,794.7 277.3,792.6 282.4,793.2 287.5,793.3 292.6,793.5 297.7,794.4 302.8,793.6 307.9,794.9 313.0,794.4 318.1,792.5 323.2,794.7" fill="none" stroke="#9a82c4" stroke-width="0.7"/>
<g fill="#9a82c4"><circle cx="78.6" cy="823.3" r="0.75"/><circle cx="83.7" cy="823.3" r="0.75"/><circle cx="88.8" cy="823.3" r="0.75"/><circle cx="93.9" cy="823.3" r="0.75"/><circle cx="99.0" cy="823.3" r="0.75"/><circle cx="104.1" cy="823.3" r="0.75"/><circle cx="109.2" cy="823.3" r="0.75"/><circle cx="114.3" cy="823.3" r="0.75"/><circle cx="119.4" cy="823.3" r="0.75"/><circle cx="124.5" cy="823.3" r="0.75"/><circle cx="129.6" cy="823.3" r="0.75"/><circle cx="134.7" cy="823.3" r="0.75"/><circle cx="139.8" cy="823.3" r="0.75"/><circle cx="144.8" cy="823.3" r="0.75"/><circle cx="149.9" cy="823.3" r="0.75"/><circle cx="155.0" cy="823.3" r="0.75"/><circle cx="160.1" cy="823.3" r="0.75"/><circle cx="165.2" cy="823.3" r="0.75"/><circle cx="170.3" cy="823.3" r="0.75"/><circle cx="175.4" cy="823.3" r="0.75"/><circle cx="180.5" cy="823.3" r="0.75"/><circle cx="185.6" cy="823.3" r="0.75"/><circle cx="190.7" cy="823.3" r="0.75"/><circle cx="195.8" cy="823.3" r="0.75"/><circle cx="200.9" cy="823.3" r="0.75"/><circle cx="206.0" cy="823.3" r="0.75"/><circle cx="211.1" cy="823.3" r="0.75"/><circle cx="216.2" cy="823.3" r="0.75"/><circle cx="221.3" cy="822.7" r="0.75"/><circle cx="226.4" cy="820.7" r="0.75"/><circle cx="231.5" cy="817.0" r="0.75"/><circle cx="236.6" cy="813.4" r="0.75"/><circle cx="241.7" cy="810.1" r="0.75"/><circle cx="246.8" cy="805.3" r="0.75"/><circle cx="251.9" cy="802.8" r="0.75"/><circle cx="257.0" cy="799.5" r="0.75"/><circle cx="262.0" cy="797.8" r="0.75"/><circle cx="267.1" cy="795.2" r="0.75"/><circle cx="272.2" cy="794.7" r="0.75"/><circle cx="277.3" cy="792.6" r="0.75"/><circle cx="282.4" cy="793.2" r="0.75"/><circle cx="287.5" cy="793.3" r="0.75"/><circle cx="292.6" cy="793.5" r="0.75"/><circle cx="297.7" cy="794.4" r="0.75"/><circle cx="302.8" cy="793.6" r="0.75"/><circle cx="307.9" cy="794.9" r="0.75"/><circle cx="313.0" cy="794.4" r="0.75"/><circle cx="318.1" cy="792.5" r="0.75"/><circle cx="323.2" cy="794.7" r="0.75"/></g>
<polyline points="78.6,823.3 83.7,823.3 88.8,823.3 93.9,823.3 99.0,823.3 104.1,823.3 109.2,823.3 114.3,823.3 119.4,823.3 124.5,823.3 129.6,823.3 134.7,823.3 139.8,823.3 144.8,823.3 149.9,823.3 155.0,823.3 160.1,823.3 165.2,823.3 170.3,823.3 175.4,823.3 180.5,823.3 185.6,823.3 190.7,823.3 195.8,823.3 200.9,823.3 206.0,823.3 211.1,822.9 216.2,821.5 221.3,819.4 226.4,816.8 231.5,813.3 236.6,810.1 241.7,807.6 246.8,803.6 251.9,801.2 257.0,798.3 262.0,796.8 267.1,792.9 272.2,791.9 277.3,790.2 282.4,789.9 287.5,790.0 292.6,789.5 297.7,791.0 302.8,790.6 307.9,789.5 313.0,788.8 318.1,789.3 323.2,790.9" fill="none" stroke="#9a82c4" stroke-width="0.7"/>
<g fill="#9a82c4"><circle cx="78.6" cy="823.3" r="0.75"/><circle cx="83.7" cy="823.3" r="0.75"/><circle cx="88.8" cy="823.3" r="0.75"/><circle cx="93.9" cy="823.3" r="0.75"/><circle cx="99.0" cy="823.3" r="0.75"/><circle cx="104.1" cy="823.3" r="0.75"/><circle cx="109.2" cy="823.3" r="0.75"/><circle cx="114.3" cy="823.3" r="0.75"/><circle cx="119.4" cy="823.3" r="0.75"/><circle cx="124.5" cy="823.3" r="0.75"/><circle cx="129.6" cy="823.3" r="0.75"/><circle cx="134.7" cy="823.3" r="0.75"/><circle cx="139.8" cy="823.3" r="0.75"/><circle cx="144.8" cy="823.3" r="0.75"/><circle cx="149.9" cy="823.3" r="0.75"/><circle cx="155.0" cy="823.3" r="0.75"/><circle cx="160.1" cy="823.3" r="0.75"/><circle cx="165.2" cy="823.3" r="0.75"/><circle cx="170.3" cy="823.3" r="0.75"/><circle cx="175.4" cy="823.3" r="0.75"/><circle cx="180.5" cy="823.3" r="0.75"/><circle cx="185.6" cy="823.3" r="0.75"/><circle cx="190.7" cy="823.3" r="0.75"/><circle cx="195.8" cy="823.3" r="0.75"/><circle cx="200.9" cy="823.3" r="0.75"/><circle cx="206.0" cy="823.3" r="0.75"/><circle cx="211.1" cy="822.9" r="0.75"/><circle cx="216.2" cy="821.5" r="0.75"/><circle cx="221.3" cy="819.4" r="0.75"/><circle cx="226.4" cy="816.8" r="0.75"/><circle cx="231.5" cy="813.3" r="0.75"/><circle cx="236.6" cy="810.1" r="0.75"/><circle cx="241.7" cy="807.6" r="0.75"/><circle cx="246.8" cy="803.6" r="0.75"/><circle cx="251.9" cy="801.2" r="0.75"/><circle cx="257.0" cy="798.3" r="0.75"/><circle cx="262.0" cy="796.8" r="0.75"/><circle cx="267.1" cy="792.9" r="0.75"/><circle cx="272.2" cy="791.9" r="0.75"/><circle cx="277.3" cy="790.2" r="0.75"/><circle cx="282.4" cy="789.9" r="0.75"/><circle cx="287.5" cy="790.0" r="0.75"/><circle cx="292.6" cy="789.5" r="0.75"/><circle cx="297.7" cy="791.0" r="0.75"/><circle cx="302.8" cy="790.6" r="0.75"/><circle cx="307.9" cy="789.5" r="0.75"/><circle cx="313.0" cy="788.8" r="0.75"/><circle cx="318.1" cy="789.3" r="0.75"/><circle cx="323.2" cy="790.9" r="0.75"/></g>
<polyline points="78.6,823.3 83.7,823.3 88.8,823.3 93.9,823.3 99.0,823.3 104.1,823.3 109.2,823.3 114.3,823.3 119.4,823.3 124.5,823.3 129.6,823.3 134.7,823.3 139.8,823.3 144.8,823.3 149.9,823.3 155.0,823.3 160.1,823.3 165.2,823.3 170.3,823.3 175.4,823.3 180.5,823.3 185.6,823.3 190.7,823.3 195.8,823.3 200.9,823.3 206.0,823.3 211.1,823.3 216.2,823.3 221.3,823.3 226.4,823.3 231.5,823.2 236.6,821.1 241.7,816.5 246.8,809.3 251.9,801.7 257.0,794.0 262.0,785.2 267.1,777.1 272.2,768.5 277.3,762.2 282.4,756.4 287.5,752.9 292.6,750.3 297.7,750.5 302.8,747.0 307.9,747.7 313.0,744.9 318.1,744.9 323.2,743.4" fill="none" stroke="#9a82c4" stroke-width="0.7"/>
<g fill="#9a82c4"><circle cx="78.6" cy="823.3" r="0.75"/><circle cx="83.7" cy="823.3" r="0.75"/><circle cx="88.8" cy="823.3" r="0.75"/><circle cx="93.9" cy="823.3" r="0.75"/><circle cx="99.0" cy="823.3" r="0.75"/><circle cx="104.1" cy="823.3" r="0.75"/><circle cx="109.2" cy="823.3" r="0.75"/><circle cx="114.3" cy="823.3" r="0.75"/><circle cx="119.4" cy="823.3" r="0.75"/><circle cx="124.5" cy="823.3" r="0.75"/><circle cx="129.6" cy="823.3" r="0.75"/><circle cx="134.7" cy="823.3" r="0.75"/><circle cx="139.8" cy="823.3" r="0.75"/><circle cx="144.8" cy="823.3" r="0.75"/><circle cx="149.9" cy="823.3" r="0.75"/><circle cx="155.0" cy="823.3" r="0.75"/><circle cx="160.1" cy="823.3" r="0.75"/><circle cx="165.2" cy="823.3" r="0.75"/><circle cx="170.3" cy="823.3" r="0.75"/><circle cx="175.4" cy="823.3" r="0.75"/><circle cx="180.5" cy="823.3" r="0.75"/><circle cx="185.6" cy="823.3" r="0.75"/><circle cx="190.7" cy="823.3" r="0.75"/><circle cx="195.8" cy="823.3" r="0.75"/><circle cx="200.9" cy="823.3" r="0.75"/><circle cx="206.0" cy="823.3" r="0.75"/><circle cx="211.1" cy="823.3" r="0.75"/><circle cx="216.2" cy="823.3" r="0.75"/><circle cx="221.3" cy="823.3" r="0.75"/><circle cx="226.4" cy="823.3" r="0.75"/><circle cx="231.5" cy="823.2" r="0.75"/><circle cx="236.6" cy="821.1" r="0.75"/><circle cx="241.7" cy="816.5" r="0.75"/><circle cx="246.8" cy="809.3" r="0.75"/><circle cx="251.9" cy="801.7" r="0.75"/><circle cx="257.0" cy="794.0" r="0.75"/><circle cx="262.0" cy="785.2" r="0.75"/><circle cx="267.1" cy="777.1" r="0.75"/><circle cx="272.2" cy="768.5" r="0.75"/><circle cx="277.3" cy="762.2" r="0.75"/><circle cx="282.4" cy="756.4" r="0.75"/><circle cx="287.5" cy="752.9" r="0.75"/><circle cx="292.6" cy="750.3" r="0.75"/><circle cx="297.7" cy="750.5" r="0.75"/><circle cx="302.8" cy="747.0" r="0.75"/><circle cx="307.9" cy="747.7" r="0.75"/><circle cx="313.0" cy="744.9" r="0.75"/><circle cx="318.1" cy="744.9" r="0.75"/><circle cx="323.2" cy="743.4" r="0.75"/></g>
</g>
<line x1="78.60" y1="662.10" x2="78.60" y2="826.10" stroke="#111" stroke-width="2.2" />
<line x1="77.50" y1="662.10" x2="324.30" y2="662.10" stroke="#111" stroke-width="2.2" />
<line x1="323.20" y1="662.10" x2="323.20" y2="825.00" stroke="#111" stroke-width="2.2" />
<line x1="77.50" y1="825.00" x2="324.30" y2="825.00" stroke="#111" stroke-width="2.2" />
<polygon points="78.6,821.0 83.7,821.0 88.8,820.0 93.9,820.4 99.0,820.4 104.1,819.9 109.2,820.0 114.3,820.2 119.4,820.5 124.5,820.0 129.6,819.9 134.7,820.1 139.8,819.9 144.8,820.6 149.9,820.5 155.0,819.8 160.1,820.3 165.2,821.3 170.3,821.1 175.4,821.7 180.5,821.2 185.6,821.0 190.7,821.2 195.8,821.6 200.9,821.1 206.0,821.8 211.1,821.5 216.2,821.7 221.3,821.6 226.4,821.6 231.5,821.5 236.6,821.1 241.7,821.7 246.8,821.1 251.9,821.3 257.0,821.8 262.0,821.6 267.1,821.2 272.2,821.8 277.3,821.5 282.4,821.1 287.5,821.4 292.6,821.3 297.7,821.7 302.8,821.1 307.9,821.4 313.0,821.2 318.1,821.5 323.2,821.1 323.2,826.3 78.6,826.3" fill="#9a82c4"/>
<line x1="72.60" y1="825.00" x2="78.60" y2="825.00" stroke="#111" stroke-width="2" />
<text x="69.60" y="828.20" font-size="9" text-anchor="end" font-weight="bold" fill="#111" >0</text>
<line x1="72.60" y1="770.70" x2="78.60" y2="770.70" stroke="#111" stroke-width="2" />
<text x="69.60" y="773.90" font-size="9" text-anchor="end" font-weight="bold" fill="#111" >500</text>
<line x1="72.60" y1="716.40" x2="78.60" y2="716.40" stroke="#111" stroke-width="2" />
<text x="69.60" y="719.60" font-size="9" text-anchor="end" font-weight="bold" fill="#111" >1000</text>
<line x1="72.60" y1="662.10" x2="78.60" y2="662.10" stroke="#111" stroke-width="2" />
<text x="69.60" y="665.30" font-size="9" text-anchor="end" font-weight="bold" fill="#111" >1500</text>
<line x1="78.60" y1="825.00" x2="78.60" y2="830.50" stroke="#111" stroke-width="2" />
<text x="78.60" y="840.90" font-size="9" text-anchor="middle" font-weight="bold" fill="#111" >0</text>
<line x1="139.75" y1="825.00" x2="139.75" y2="830.50" stroke="#111" stroke-width="2" />
<text x="139.75" y="840.90" font-size="9" text-anchor="middle" font-weight="bold" fill="#111" >6</text>
<line x1="200.90" y1="825.00" x2="200.90" y2="830.50" stroke="#111" stroke-width="2" />
<text x="200.90" y="840.90" font-size="9" text-anchor="middle" font-weight="bold" fill="#111" >12</text>
<line x1="262.05" y1="825.00" x2="262.05" y2="830.50" stroke="#111" stroke-width="2" />
<text x="262.05" y="840.90" font-size="9" text-anchor="middle" font-weight="bold" fill="#111" >18</text>
<line x1="323.20" y1="825.00" x2="323.20" y2="830.50" stroke="#111" stroke-width="2" />
<text x="323.20" y="840.90" font-size="9" text-anchor="middle" font-weight="bold" fill="#111" >24</text>
<text x="199.30" y="851.20" font-size="9.2" text-anchor="middle" font-weight="bold" fill="#111" >Time (h)</text>
<text transform="translate(40.2,742) rotate(-90)" font-size="9.4" text-anchor="middle" font-weight="bold" fill="#111">Fluorescence intensity</text>
<line x1="91.10" y1="680.30" x2="108.50" y2="680.30" stroke="#7ccbee" stroke-width="0.8" />
<text x="109.50" y="682.80" font-size="9.3" text-anchor="start" font-weight="bold" fill="#111" letter-spacing="0.12">PD ( <tspan font-style="italic">n</tspan> = 102)</text>
<line x1="91.10" y1="702.10" x2="108.50" y2="702.10" stroke="#c4b6df" stroke-width="0.8" />
<text x="109.50" y="703.90" font-size="9.3" text-anchor="start" font-weight="bold" fill="#111" letter-spacing="0.12">HC ( <tspan font-style="italic">n</tspan> = 185)</text>
<text x="332.00" y="649.50" font-size="23.5" text-anchor="start" font-weight="normal" fill="#111" stroke="#111" stroke-width="0.8">f</text>
<line x1="423.20" y1="662.70" x2="423.20" y2="826.60" stroke="#111" stroke-width="1.6" />
<line x1="422.40" y1="825.80" x2="531.20" y2="825.80" stroke="#111" stroke-width="1.6" />
<line x1="418.20" y1="825.80" x2="423.20" y2="825.80" stroke="#111" stroke-width="1.6" />
<text x="413.40" y="829.10" font-size="8.8" text-anchor="end" font-weight="bold" fill="#111" >0.00</text>
<line x1="418.20" y1="785.02" x2="423.20" y2="785.02" stroke="#111" stroke-width="1.6" />
<text x="413.40" y="788.32" font-size="8.8" text-anchor="end" font-weight="bold" fill="#111" >0.05</text>
<line x1="418.20" y1="744.25" x2="423.20" y2="744.25" stroke="#111" stroke-width="1.6" />
<text x="413.40" y="747.55" font-size="8.8" text-anchor="end" font-weight="bold" fill="#111" >0.10</text>
<line x1="418.20" y1="703.48" x2="423.20" y2="703.48" stroke="#111" stroke-width="1.6" />
<text x="413.40" y="706.77" font-size="8.8" text-anchor="end" font-weight="bold" fill="#111" >0.15</text>
<line x1="418.20" y1="662.70" x2="423.20" y2="662.70" stroke="#111" stroke-width="1.6" />
<text x="413.40" y="666.00" font-size="8.8" text-anchor="end" font-weight="bold" fill="#111" >0.20</text>
<line x1="453.90" y1="825.80" x2="453.90" y2="830.80" stroke="#111" stroke-width="1.6" />
<text x="453.90" y="843.80" font-size="8.8" text-anchor="middle" font-weight="bold" fill="#111" >HC</text>
<line x1="500.80" y1="825.80" x2="500.80" y2="830.80" stroke="#111" stroke-width="1.6" />
<text x="500.80" y="843.80" font-size="8.8" text-anchor="middle" font-weight="bold" fill="#111" >PD</text>
<text transform="translate(388.2,738.6) rotate(-90)" font-size="8.8" text-anchor="middle" font-weight="bold" fill="#111">PAR (1/h)</text>
<polyline points="453.9,707.8 453.9,670.2 500.8,670.2 500.8,679.6" fill="none" stroke="#111" stroke-width="1.6"/>
<line x1="462.40" y1="655.80" x2="462.40" y2="662.80" stroke="#111" stroke-width="1.5"/>
<line x1="459.37" y1="657.55" x2="465.43" y2="661.05" stroke="#111" stroke-width="1.5"/>
<line x1="465.43" y1="657.55" x2="459.37" y2="661.05" stroke="#111" stroke-width="1.5"/>
<line x1="472.10" y1="655.80" x2="472.10" y2="662.80" stroke="#111" stroke-width="1.5"/>
<line x1="469.07" y1="657.55" x2="475.13" y2="661.05" stroke="#111" stroke-width="1.5"/>
<line x1="475.13" y1="657.55" x2="469.07" y2="661.05" stroke="#111" stroke-width="1.5"/>
<line x1="481.80" y1="655.80" x2="481.80" y2="662.80" stroke="#111" stroke-width="1.5"/>
<line x1="478.77" y1="657.55" x2="484.83" y2="661.05" stroke="#111" stroke-width="1.5"/>
<line x1="484.83" y1="657.55" x2="478.77" y2="661.05" stroke="#111" stroke-width="1.5"/>
<line x1="491.50" y1="655.80" x2="491.50" y2="662.80" stroke="#111" stroke-width="1.5"/>
<line x1="488.47" y1="657.55" x2="494.53" y2="661.05" stroke="#111" stroke-width="1.5"/>
<line x1="494.53" y1="657.55" x2="488.47" y2="661.05" stroke="#111" stroke-width="1.5"/>
<line x1="454.10" y1="717.10" x2="454.10" y2="791.90" stroke="#1f4ba0" stroke-width="1.3" />
<line x1="446.10" y1="717.10" x2="461.90" y2="717.10" stroke="#1f4ba0" stroke-width="1.3" />
<rect x="439.1" y="790.1" width="30.1" height="3.6" rx="1.8" fill="#1f4ba0"/>
<circle cx="454.10" cy="730.00" r="1.60" fill="#1f4ba0" />
<circle cx="454.10" cy="749.20" r="1.60" fill="#1f4ba0" />
<circle cx="454.10" cy="759.70" r="1.60" fill="#1f4ba0" />
<circle cx="454.10" cy="764.60" r="1.60" fill="#1f4ba0" />
<circle cx="454.10" cy="775.50" r="1.60" fill="#1f4ba0" />
<circle cx="454.10" cy="783.20" r="1.60" fill="#1f4ba0" />
<circle cx="454.10" cy="788.80" r="1.60" fill="#1f4ba0" />
<circle cx="454.10" cy="794.70" r="1.60" fill="#1f4ba0" />
<circle cx="454.10" cy="717.10" r="1.60" fill="#1f4ba0" />
<line x1="500.60" y1="689.80" x2="500.60" y2="791.90" stroke="#e5161e" stroke-width="1.3" />
<line x1="492.90" y1="689.80" x2="508.30" y2="689.80" stroke="#e5161e" stroke-width="1.3" />
<rect x="485.9" y="736.4" width="29.7" height="34.2" fill="#f29aa0" stroke="#e5161e" stroke-width="1.6"/>
<line x1="485.90" y1="751.70" x2="515.60" y2="751.70" stroke="#e5161e" stroke-width="1.4" />
<rect x="487.3" y="790.6" width="26.6" height="2.8" rx="1.2" fill="#e5161e"/>
<rect x="494.6" y="716.0" width="12.3" height="3" rx="1.5" fill="#e5161e"/>
<rect x="496.4" y="723.0" width="9.1" height="3" rx="1.5" fill="#e5161e"/>
<rect x="497.1" y="733.7" width="7.7" height="3" rx="1.5" fill="#e5161e"/>
<rect x="495.7" y="738.9" width="9.8" height="3" rx="1.5" fill="#e5161e"/>
<rect x="494.0" y="743.1" width="13.2" height="3" rx="1.5" fill="#e5161e"/>
<rect x="497.1" y="747.0" width="7.0" height="3" rx="1.5" fill="#e5161e"/>
<rect x="495.0" y="756.8" width="11.6" height="3" rx="1.5" fill="#e5161e"/>
<rect x="497.0" y="760.5" width="8.0" height="3" rx="1.5" fill="#e5161e"/>
<rect x="498.0" y="763.0" width="6.0" height="3" rx="1.5" fill="#e5161e"/>
<rect x="498.5" y="765.2" width="5.0" height="3" rx="1.5" fill="#e5161e"/>
<circle cx="500.60" cy="700.00" r="1.60" fill="#e5161e" />
<circle cx="500.60" cy="709.50" r="1.60" fill="#e5161e" />
<circle cx="500.60" cy="730.30" r="1.60" fill="#e5161e" />
<circle cx="500.60" cy="753.00" r="1.60" fill="#e5161e" />
<circle cx="500.60" cy="756.00" r="1.60" fill="#e5161e" />
<circle cx="500.60" cy="769.00" r="1.60" fill="#e5161e" />
<circle cx="500.60" cy="773.00" r="1.60" fill="#e5161e" />
<circle cx="500.60" cy="777.00" r="1.60" fill="#e5161e" />
<circle cx="500.60" cy="780.00" r="1.60" fill="#e5161e" />
<circle cx="500.60" cy="783.00" r="1.60" fill="#e5161e" />
<circle cx="500.60" cy="786.00" r="1.60" fill="#e5161e" />
<circle cx="500.60" cy="689.80" r="1.60" fill="#e5161e" />
<text x="543.30" y="649.30" font-size="24" text-anchor="start" font-weight="normal" fill="#111" stroke="#111" stroke-width="0.8">g</text>
<line x1="600.00" y1="662.30" x2="600.00" y2="825.60" stroke="#111" stroke-width="1.6" />
<line x1="599.20" y1="824.80" x2="763.30" y2="824.80" stroke="#111" stroke-width="1.6" />
<line x1="595.00" y1="824.80" x2="600.00" y2="824.80" stroke="#111" stroke-width="1.6" />
<text x="592.00" y="827.80" font-size="8.6" text-anchor="end" font-weight="bold" fill="#111" >0</text>
<line x1="600.00" y1="824.80" x2="600.00" y2="829.80" stroke="#111" stroke-width="1.6" />
<text x="600.00" y="842.20" font-size="8.8" text-anchor="middle" font-weight="bold" fill="#111" >0</text>
<line x1="595.00" y1="792.30" x2="600.00" y2="792.30" stroke="#111" stroke-width="1.6" />
<text x="592.00" y="795.30" font-size="8.6" text-anchor="end" font-weight="bold" fill="#111" >20</text>
<line x1="632.50" y1="824.80" x2="632.50" y2="829.80" stroke="#111" stroke-width="1.6" />
<text x="632.50" y="842.20" font-size="8.8" text-anchor="middle" font-weight="bold" fill="#111" >20</text>
<line x1="595.00" y1="759.80" x2="600.00" y2="759.80" stroke="#111" stroke-width="1.6" />
<text x="592.00" y="762.80" font-size="8.6" text-anchor="end" font-weight="bold" fill="#111" >40</text>
<line x1="665.00" y1="824.80" x2="665.00" y2="829.80" stroke="#111" stroke-width="1.6" />
<text x="665.00" y="842.20" font-size="8.8" text-anchor="middle" font-weight="bold" fill="#111" >40</text>
<line x1="595.00" y1="727.30" x2="600.00" y2="727.30" stroke="#111" stroke-width="1.6" />
<text x="592.00" y="730.30" font-size="8.6" text-anchor="end" font-weight="bold" fill="#111" >60</text>
<line x1="697.50" y1="824.80" x2="697.50" y2="829.80" stroke="#111" stroke-width="1.6" />
<text x="697.50" y="842.20" font-size="8.8" text-anchor="middle" font-weight="bold" fill="#111" >60</text>
<line x1="595.00" y1="694.80" x2="600.00" y2="694.80" stroke="#111" stroke-width="1.6" />
<text x="592.00" y="697.80" font-size="8.6" text-anchor="end" font-weight="bold" fill="#111" >80</text>
<line x1="730.00" y1="824.80" x2="730.00" y2="829.80" stroke="#111" stroke-width="1.6" />
<text x="730.00" y="842.20" font-size="8.8" text-anchor="middle" font-weight="bold" fill="#111" >80</text>
<line x1="595.00" y1="662.30" x2="600.00" y2="662.30" stroke="#111" stroke-width="1.6" />
<text x="592.00" y="665.30" font-size="8.6" text-anchor="end" font-weight="bold" fill="#111" >100</text>
<line x1="762.50" y1="824.80" x2="762.50" y2="829.80" stroke="#111" stroke-width="1.6" />
<text x="762.50" y="842.20" font-size="8.8" text-anchor="middle" font-weight="bold" fill="#111" >100</text>
<text x="684.40" y="855.50" font-size="9.4" text-anchor="middle" font-weight="bold" fill="#111" >100% - Specificity%</text>
<text transform="translate(571.8,736.6) rotate(-90)" font-size="9.15" text-anchor="middle" font-weight="bold" fill="#111">Sensitivity%</text>
<line x1="600.00" y1="824.80" x2="762.60" y2="662.30" stroke="#e46a6d" stroke-width="1.0" stroke-dasharray="1.4,0.6"/>
<polyline points="600.1,824.8 600.1,819.9 600.1,815.5 601.4,803.3 601.4,793.3 602.6,789.8 602.2,781.9 602.6,772.1 602.6,757.8 604.9,751.3 604.5,743.3 604.5,740.3 605.7,726.9 606.1,722.0 607.5,714.1 607.5,708.8 607.8,706.2 608.4,702.7 608.9,699.2 610.1,695.7 611.0,693.1 612.4,691.4 613.3,691.4 762.6,662.3" fill="none" stroke="#1f4ba0" stroke-width="1.2"/>
<circle cx="600.10" cy="824.80" r="2.60" fill="#1f4ba0" />
<circle cx="600.10" cy="819.90" r="2.60" fill="#1f4ba0" />
<circle cx="600.10" cy="815.50" r="2.60" fill="#1f4ba0" />
<circle cx="601.40" cy="803.30" r="2.60" fill="#1f4ba0" />
<circle cx="601.40" cy="793.30" r="2.60" fill="#1f4ba0" />
<circle cx="602.60" cy="789.80" r="2.60" fill="#1f4ba0" />
<circle cx="602.20" cy="781.90" r="2.60" fill="#1f4ba0" />
<circle cx="602.60" cy="772.10" r="2.60" fill="#1f4ba0" />
<circle cx="602.60" cy="757.80" r="2.60" fill="#1f4ba0" />
<circle cx="604.90" cy="751.30" r="2.60" fill="#1f4ba0" />
<circle cx="604.50" cy="743.30" r="2.60" fill="#1f4ba0" />
<circle cx="604.50" cy="740.30" r="2.60" fill="#1f4ba0" />
<circle cx="605.70" cy="726.90" r="2.60" fill="#1f4ba0" />
<circle cx="606.10" cy="722.00" r="2.60" fill="#1f4ba0" />
<circle cx="607.50" cy="714.10" r="2.60" fill="#1f4ba0" />
<circle cx="607.50" cy="708.80" r="2.60" fill="#1f4ba0" />
<circle cx="607.80" cy="706.20" r="2.60" fill="#1f4ba0" />
<circle cx="608.40" cy="702.70" r="2.60" fill="#1f4ba0" />
<circle cx="608.90" cy="699.20" r="2.60" fill="#1f4ba0" />
<circle cx="610.10" cy="695.70" r="2.60" fill="#1f4ba0" />
<circle cx="611.00" cy="693.10" r="2.60" fill="#1f4ba0" />
<circle cx="612.40" cy="691.40" r="2.60" fill="#1f4ba0" />
<circle cx="613.30" cy="691.40" r="2.60" fill="#1f4ba0" />
<circle cx="762.60" cy="662.30" r="2.60" fill="#1f4ba0" />
<text x="759.60" y="785.50" font-size="8.8" text-anchor="end" font-weight="bold" fill="#111" letter-spacing="0.42">Area: 0.8854</text>
<text x="759.60" y="796.90" font-size="8.8" text-anchor="end" font-weight="bold" fill="#111" letter-spacing="0.42">SE: 0.02441</text>
<text x="759.60" y="808.30" font-size="8.8" text-anchor="end" font-weight="bold" fill="#111" letter-spacing="0.42">95% CI 0.8375 to 0.9332</text>
<text x="759.60" y="819.70" font-size="8.8" text-anchor="end" font-weight="bold" fill="#111" letter-spacing="0.42">P value &lt; 0.0001</text>
</svg></body></html>
